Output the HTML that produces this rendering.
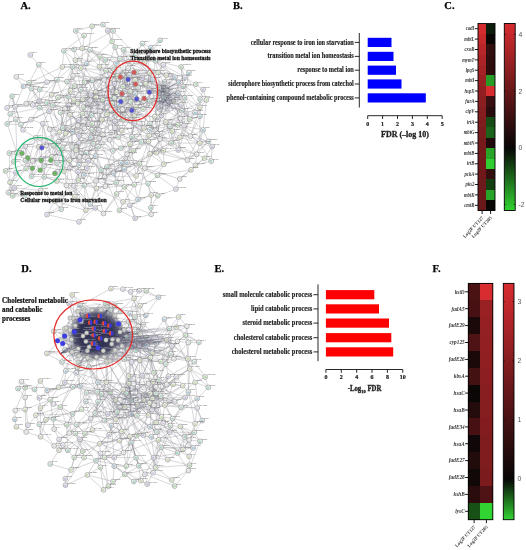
<!DOCTYPE html><html><head><meta charset="utf-8"><style>html,body{margin:0;padding:0;background:#fff;width:526px;height:550px;overflow:hidden}svg{display:block;filter:blur(0.3px)}</style></head><body><svg width="526" height="550" viewBox="0 0 526 550">
<rect width="526" height="550" fill="#fff"/>
<text x="20.5" y="9.3" font-family="'Liberation Serif', serif" font-weight="bold" font-size="10.5" stroke="#000" stroke-width="0.25">A.</text>
<text x="233" y="9" font-family="'Liberation Serif', serif" font-weight="bold" font-size="10.5" stroke="#000" stroke-width="0.25">B.</text>
<text x="444.3" y="9.3" font-family="'Liberation Serif', serif" font-weight="bold" font-size="10.5" stroke="#000" stroke-width="0.25">C.</text>
<text x="21.3" y="272.3" font-family="'Liberation Serif', serif" font-weight="bold" font-size="10.5" stroke="#000" stroke-width="0.25">D.</text>
<text x="214.6" y="272.1" font-family="'Liberation Serif', serif" font-weight="bold" font-size="10.5" stroke="#000" stroke-width="0.25">E.</text>
<text x="432.5" y="271.8" font-family="'Liberation Serif', serif" font-weight="bold" font-size="10.5" stroke="#000" stroke-width="0.25">F.</text>
<g stroke="#7a7a86" stroke-width="0.33" stroke-opacity="0.9">
<line x1="75.7" y1="30.9" x2="84.1" y2="35.5"/>
<line x1="75.7" y1="30.9" x2="92.0" y2="26.3"/>
<line x1="75.7" y1="30.9" x2="82.2" y2="48.3"/>
<line x1="84.1" y1="35.5" x2="63.8" y2="50.8"/>
<line x1="84.1" y1="35.5" x2="80.8" y2="68.0"/>
<line x1="92.0" y1="26.3" x2="102.9" y2="24.6"/>
<line x1="92.0" y1="26.3" x2="86.7" y2="63.6"/>
<line x1="102.9" y1="24.6" x2="107.7" y2="30.9"/>
<line x1="102.9" y1="24.6" x2="113.1" y2="30.9"/>
<line x1="107.7" y1="30.9" x2="113.1" y2="30.9"/>
<line x1="107.7" y1="30.9" x2="112.1" y2="41.4"/>
<line x1="107.7" y1="30.9" x2="119.8" y2="58.5"/>
<line x1="82.2" y1="48.3" x2="90.0" y2="49.7"/>
<line x1="82.2" y1="48.3" x2="113.1" y2="30.9"/>
<line x1="82.2" y1="48.3" x2="116.1" y2="63.3"/>
<line x1="82.2" y1="48.3" x2="74.0" y2="49.4"/>
<line x1="82.2" y1="48.3" x2="99.4" y2="66.6"/>
<line x1="90.0" y1="49.7" x2="75.3" y2="60.2"/>
<line x1="90.0" y1="49.7" x2="99.7" y2="56.4"/>
<line x1="90.0" y1="49.7" x2="117.4" y2="76.0"/>
<line x1="90.0" y1="49.7" x2="86.7" y2="63.6"/>
<line x1="90.0" y1="49.7" x2="116.1" y2="63.3"/>
<line x1="90.0" y1="49.7" x2="74.0" y2="49.4"/>
<line x1="90.0" y1="49.7" x2="119.8" y2="58.5"/>
<line x1="63.8" y1="50.8" x2="62.3" y2="66.9"/>
<line x1="63.8" y1="50.8" x2="75.3" y2="60.2"/>
<line x1="63.8" y1="50.8" x2="72.4" y2="66.7"/>
<line x1="63.8" y1="50.8" x2="74.0" y2="49.4"/>
<line x1="30.3" y1="55.0" x2="38.7" y2="64.8"/>
<line x1="38.7" y1="64.8" x2="47.1" y2="82.2"/>
<line x1="38.7" y1="64.8" x2="29.2" y2="82.7"/>
<line x1="38.7" y1="64.8" x2="56.8" y2="79.6"/>
<line x1="62.3" y1="66.9" x2="72.4" y2="66.7"/>
<line x1="62.3" y1="66.9" x2="29.2" y2="82.7"/>
<line x1="62.3" y1="66.9" x2="80.8" y2="68.0"/>
<line x1="62.3" y1="66.9" x2="56.8" y2="79.6"/>
<line x1="16.3" y1="76.9" x2="23.4" y2="86.4"/>
<line x1="16.3" y1="76.9" x2="29.2" y2="82.7"/>
<line x1="23.4" y1="86.4" x2="31.4" y2="88.5"/>
<line x1="23.4" y1="86.4" x2="15.1" y2="106.7"/>
<line x1="23.4" y1="86.4" x2="47.1" y2="82.2"/>
<line x1="23.4" y1="86.4" x2="29.2" y2="82.7"/>
<line x1="23.4" y1="86.4" x2="56.8" y2="79.6"/>
<line x1="31.4" y1="88.5" x2="26.2" y2="103.7"/>
<line x1="31.4" y1="88.5" x2="39.7" y2="89.5"/>
<line x1="31.4" y1="88.5" x2="68.3" y2="96.3"/>
<line x1="31.4" y1="88.5" x2="49.0" y2="111.3"/>
<line x1="31.4" y1="88.5" x2="29.2" y2="82.7"/>
<line x1="12.1" y1="96.2" x2="15.1" y2="106.7"/>
<line x1="12.1" y1="96.2" x2="15.7" y2="119.4"/>
<line x1="12.1" y1="96.2" x2="20.9" y2="124.6"/>
<line x1="12.1" y1="96.2" x2="7.1" y2="107.8"/>
<line x1="15.1" y1="106.7" x2="23.0" y2="129.9"/>
<line x1="15.1" y1="106.7" x2="46.9" y2="102.4"/>
<line x1="15.1" y1="106.7" x2="10.2" y2="114.0"/>
<line x1="15.1" y1="106.7" x2="52.7" y2="105.0"/>
<line x1="15.1" y1="106.7" x2="7.1" y2="107.8"/>
<line x1="26.2" y1="103.7" x2="47.1" y2="82.2"/>
<line x1="26.2" y1="103.7" x2="39.5" y2="107.7"/>
<line x1="26.2" y1="103.7" x2="46.9" y2="102.4"/>
<line x1="26.2" y1="103.7" x2="51.7" y2="94.8"/>
<line x1="26.2" y1="103.7" x2="7.1" y2="107.8"/>
<line x1="26.2" y1="103.7" x2="32.8" y2="105.0"/>
<line x1="47.1" y1="82.2" x2="39.7" y2="89.5"/>
<line x1="47.1" y1="82.2" x2="56.8" y2="79.6"/>
<line x1="75.3" y1="60.2" x2="80.8" y2="89.6"/>
<line x1="75.3" y1="60.2" x2="105.3" y2="60.0"/>
<line x1="75.3" y1="60.2" x2="86.7" y2="63.6"/>
<line x1="75.3" y1="60.2" x2="72.4" y2="66.7"/>
<line x1="75.3" y1="60.2" x2="80.8" y2="68.0"/>
<line x1="75.3" y1="60.2" x2="74.0" y2="49.4"/>
<line x1="39.7" y1="89.5" x2="29.2" y2="82.7"/>
<line x1="39.7" y1="89.5" x2="39.2" y2="101.3"/>
<line x1="113.1" y1="30.9" x2="112.1" y2="41.4"/>
<line x1="113.1" y1="30.9" x2="135.7" y2="55.2"/>
<line x1="112.1" y1="41.4" x2="115.2" y2="47.2"/>
<line x1="112.1" y1="41.4" x2="86.7" y2="63.6"/>
<line x1="123.6" y1="49.7" x2="126.5" y2="79.8"/>
<line x1="123.6" y1="49.7" x2="115.2" y2="47.2"/>
<line x1="123.6" y1="49.7" x2="149.7" y2="72.8"/>
<line x1="123.6" y1="49.7" x2="135.7" y2="55.2"/>
<line x1="123.6" y1="49.7" x2="127.9" y2="61.6"/>
<line x1="123.6" y1="49.7" x2="136.0" y2="72.2"/>
<line x1="123.6" y1="49.7" x2="122.7" y2="74.5"/>
<line x1="123.6" y1="49.7" x2="119.8" y2="58.5"/>
<line x1="142.4" y1="43.5" x2="150.8" y2="47.7"/>
<line x1="142.4" y1="43.5" x2="148.0" y2="53.3"/>
<line x1="142.4" y1="43.5" x2="135.7" y2="55.2"/>
<line x1="142.4" y1="43.5" x2="127.9" y2="61.6"/>
<line x1="150.8" y1="47.7" x2="160.2" y2="40.3"/>
<line x1="150.8" y1="47.7" x2="148.0" y2="53.3"/>
<line x1="150.8" y1="47.7" x2="144.6" y2="62.1"/>
<line x1="150.8" y1="47.7" x2="155.3" y2="60.8"/>
<line x1="150.8" y1="47.7" x2="119.8" y2="58.5"/>
<line x1="160.2" y1="40.3" x2="144.6" y2="62.1"/>
<line x1="163.3" y1="64.8" x2="158.1" y2="72.3"/>
<line x1="163.3" y1="64.8" x2="152.6" y2="79.6"/>
<line x1="163.3" y1="64.8" x2="178.6" y2="82.3"/>
<line x1="163.3" y1="64.8" x2="155.3" y2="60.8"/>
<line x1="163.3" y1="64.8" x2="184.9" y2="77.2"/>
<line x1="181.1" y1="66.9" x2="183.2" y2="86.4"/>
<line x1="181.1" y1="66.9" x2="189.0" y2="72.5"/>
<line x1="181.1" y1="66.9" x2="184.6" y2="97.7"/>
<line x1="181.1" y1="66.9" x2="155.3" y2="60.8"/>
<line x1="181.1" y1="66.9" x2="184.9" y2="77.2"/>
<line x1="158.1" y1="72.3" x2="152.6" y2="79.6"/>
<line x1="158.1" y1="72.3" x2="149.7" y2="72.8"/>
<line x1="158.1" y1="72.3" x2="178.6" y2="82.3"/>
<line x1="158.1" y1="72.3" x2="173.3" y2="101.4"/>
<line x1="158.1" y1="72.3" x2="128.1" y2="68.0"/>
<line x1="158.1" y1="72.3" x2="155.3" y2="60.8"/>
<line x1="158.1" y1="72.3" x2="136.2" y2="61.8"/>
<line x1="158.1" y1="72.3" x2="159.5" y2="87.1"/>
<line x1="158.1" y1="72.3" x2="166.3" y2="75.1"/>
<line x1="158.1" y1="72.3" x2="184.9" y2="77.2"/>
<line x1="195.8" y1="84.3" x2="203.1" y2="89.5"/>
<line x1="195.8" y1="84.3" x2="183.2" y2="86.4"/>
<line x1="195.8" y1="84.3" x2="184.9" y2="77.2"/>
<line x1="203.1" y1="89.5" x2="200.0" y2="98.9"/>
<line x1="203.1" y1="89.5" x2="206.4" y2="100.0"/>
<line x1="200.0" y1="98.9" x2="200.0" y2="107.3"/>
<line x1="200.0" y1="98.9" x2="200.0" y2="116.3"/>
<line x1="200.0" y1="98.9" x2="206.4" y2="100.0"/>
<line x1="200.0" y1="98.9" x2="175.1" y2="77.1"/>
<line x1="200.0" y1="98.9" x2="189.7" y2="119.2"/>
<line x1="200.0" y1="107.3" x2="183.2" y2="86.4"/>
<line x1="200.0" y1="107.3" x2="200.0" y2="116.3"/>
<line x1="200.0" y1="107.3" x2="165.8" y2="122.0"/>
<line x1="200.0" y1="107.3" x2="206.4" y2="100.0"/>
<line x1="200.0" y1="107.3" x2="178.0" y2="93.1"/>
<line x1="200.0" y1="107.3" x2="190.4" y2="136.2"/>
<line x1="200.0" y1="107.3" x2="195.1" y2="112.5"/>
<line x1="183.2" y1="86.4" x2="158.9" y2="93.4"/>
<line x1="183.2" y1="86.4" x2="178.6" y2="82.3"/>
<line x1="183.2" y1="86.4" x2="154.5" y2="104.0"/>
<line x1="183.2" y1="86.4" x2="178.0" y2="93.1"/>
<line x1="183.2" y1="86.4" x2="184.9" y2="77.2"/>
<line x1="15.7" y1="119.4" x2="20.9" y2="124.6"/>
<line x1="15.7" y1="119.4" x2="23.0" y2="129.9"/>
<line x1="15.7" y1="119.4" x2="7.2" y2="123.9"/>
<line x1="15.7" y1="119.4" x2="16.9" y2="152.6"/>
<line x1="15.7" y1="119.4" x2="10.2" y2="114.0"/>
<line x1="20.9" y1="124.6" x2="23.0" y2="129.9"/>
<line x1="20.9" y1="124.6" x2="7.2" y2="123.9"/>
<line x1="20.9" y1="124.6" x2="49.0" y2="111.3"/>
<line x1="20.9" y1="124.6" x2="30.9" y2="119.6"/>
<line x1="23.0" y1="129.9" x2="35.7" y2="137.8"/>
<line x1="23.0" y1="129.9" x2="30.9" y2="119.6"/>
<line x1="8.4" y1="192.6" x2="12.6" y2="195.8"/>
<line x1="8.4" y1="192.6" x2="10.0" y2="182.3"/>
<line x1="8.4" y1="192.6" x2="24.4" y2="196.0"/>
<line x1="8.4" y1="192.6" x2="14.4" y2="187.8"/>
<line x1="8.4" y1="192.6" x2="15.9" y2="172.8"/>
<line x1="8.4" y1="192.6" x2="26.1" y2="168.4"/>
<line x1="12.6" y1="195.8" x2="10.0" y2="182.3"/>
<line x1="12.6" y1="195.8" x2="24.4" y2="196.0"/>
<line x1="12.6" y1="195.8" x2="14.4" y2="187.8"/>
<line x1="12.6" y1="195.8" x2="44.2" y2="176.9"/>
<line x1="47.0" y1="214.6" x2="54.4" y2="201.0"/>
<line x1="47.0" y1="214.6" x2="61.3" y2="209.3"/>
<line x1="47.0" y1="214.6" x2="74.8" y2="196.7"/>
<line x1="47.0" y1="214.6" x2="79.0" y2="221.9"/>
<line x1="54.4" y1="201.0" x2="85.8" y2="210.4"/>
<line x1="54.4" y1="201.0" x2="61.3" y2="209.3"/>
<line x1="54.4" y1="201.0" x2="84.4" y2="185.3"/>
<line x1="54.4" y1="201.0" x2="78.4" y2="180.1"/>
<line x1="85.8" y1="210.4" x2="95.2" y2="208.0"/>
<line x1="85.8" y1="210.4" x2="73.6" y2="186.0"/>
<line x1="85.8" y1="210.4" x2="74.8" y2="196.7"/>
<line x1="85.8" y1="210.4" x2="84.4" y2="185.3"/>
<line x1="85.8" y1="210.4" x2="79.0" y2="221.9"/>
<line x1="85.8" y1="210.4" x2="90.4" y2="204.1"/>
<line x1="95.2" y1="208.0" x2="103.5" y2="213.5"/>
<line x1="95.2" y1="208.0" x2="79.0" y2="221.9"/>
<line x1="95.2" y1="208.0" x2="66.4" y2="185.4"/>
<line x1="95.2" y1="208.0" x2="90.4" y2="204.1"/>
<line x1="200.0" y1="116.3" x2="184.6" y2="97.7"/>
<line x1="200.0" y1="116.3" x2="170.0" y2="126.3"/>
<line x1="200.0" y1="116.3" x2="190.4" y2="136.2"/>
<line x1="200.0" y1="116.3" x2="195.1" y2="112.5"/>
<line x1="200.0" y1="116.3" x2="199.8" y2="143.2"/>
<line x1="200.0" y1="116.3" x2="189.7" y2="119.2"/>
<line x1="203.1" y1="129.9" x2="208.3" y2="141.4"/>
<line x1="203.1" y1="129.9" x2="187.4" y2="160.2"/>
<line x1="203.1" y1="129.9" x2="206.4" y2="100.0"/>
<line x1="203.1" y1="129.9" x2="181.7" y2="110.7"/>
<line x1="203.1" y1="129.9" x2="190.4" y2="136.2"/>
<line x1="203.1" y1="129.9" x2="177.7" y2="124.8"/>
<line x1="203.1" y1="129.9" x2="199.8" y2="143.2"/>
<line x1="208.3" y1="141.4" x2="187.4" y2="160.2"/>
<line x1="208.3" y1="141.4" x2="172.2" y2="131.1"/>
<line x1="208.3" y1="141.4" x2="196.7" y2="154.3"/>
<line x1="208.3" y1="141.4" x2="212.2" y2="146.6"/>
<line x1="208.3" y1="141.4" x2="199.8" y2="143.2"/>
<line x1="195.4" y1="165.4" x2="187.4" y2="160.2"/>
<line x1="195.4" y1="165.4" x2="196.7" y2="154.3"/>
<line x1="195.4" y1="165.4" x2="191.0" y2="169.8"/>
<line x1="195.4" y1="165.4" x2="211.2" y2="161.1"/>
<line x1="195.4" y1="165.4" x2="204.5" y2="158.2"/>
<line x1="187.4" y1="160.2" x2="172.2" y2="131.1"/>
<line x1="187.4" y1="160.2" x2="156.4" y2="152.6"/>
<line x1="187.4" y1="160.2" x2="196.7" y2="154.3"/>
<line x1="187.4" y1="160.2" x2="163.4" y2="150.8"/>
<line x1="179.7" y1="179.0" x2="175.9" y2="189.1"/>
<line x1="179.7" y1="179.0" x2="144.9" y2="168.1"/>
<line x1="179.7" y1="179.0" x2="191.0" y2="169.8"/>
<line x1="179.7" y1="179.0" x2="204.5" y2="158.2"/>
<line x1="175.9" y1="189.1" x2="157.7" y2="195.8"/>
<line x1="175.9" y1="189.1" x2="157.5" y2="175.4"/>
<line x1="157.7" y1="195.8" x2="150.8" y2="207.9"/>
<line x1="157.7" y1="195.8" x2="148.0" y2="183.5"/>
<line x1="157.7" y1="195.8" x2="151.3" y2="194.9"/>
<line x1="150.8" y1="207.9" x2="151.2" y2="214.3"/>
<line x1="150.8" y1="207.9" x2="151.3" y2="194.9"/>
<line x1="135.1" y1="218.4" x2="119.4" y2="210.4"/>
<line x1="135.1" y1="218.4" x2="129.9" y2="205.2"/>
<line x1="135.1" y1="218.4" x2="151.2" y2="214.3"/>
<line x1="135.1" y1="218.4" x2="124.5" y2="186.8"/>
<line x1="119.4" y1="210.4" x2="129.9" y2="205.2"/>
<line x1="119.4" y1="210.4" x2="123.0" y2="201.9"/>
<line x1="119.4" y1="210.4" x2="104.6" y2="177.0"/>
<line x1="119.4" y1="210.4" x2="134.3" y2="184.7"/>
<line x1="129.9" y1="205.2" x2="151.2" y2="214.3"/>
<line x1="129.9" y1="205.2" x2="123.0" y2="201.9"/>
<line x1="129.9" y1="205.2" x2="138.0" y2="199.5"/>
<line x1="129.9" y1="205.2" x2="151.3" y2="194.9"/>
<line x1="101.8" y1="119.6" x2="130.7" y2="101.7"/>
<line x1="101.8" y1="119.6" x2="95.7" y2="92.2"/>
<line x1="101.8" y1="119.6" x2="92.3" y2="123.6"/>
<line x1="101.8" y1="119.6" x2="86.4" y2="152.7"/>
<line x1="101.8" y1="119.6" x2="134.5" y2="123.3"/>
<line x1="101.8" y1="119.6" x2="77.7" y2="125.5"/>
<line x1="101.8" y1="119.6" x2="106.9" y2="114.3"/>
<line x1="101.8" y1="119.6" x2="82.6" y2="99.4"/>
<line x1="101.8" y1="119.6" x2="99.9" y2="111.3"/>
<line x1="101.8" y1="119.6" x2="114.4" y2="98.1"/>
<line x1="141.3" y1="142.0" x2="149.2" y2="135.6"/>
<line x1="141.3" y1="142.0" x2="112.1" y2="132.3"/>
<line x1="141.3" y1="142.0" x2="131.9" y2="136.6"/>
<line x1="141.3" y1="142.0" x2="170.0" y2="126.3"/>
<line x1="141.3" y1="142.0" x2="133.4" y2="150.9"/>
<line x1="141.3" y1="142.0" x2="127.1" y2="162.3"/>
<line x1="141.3" y1="142.0" x2="148.5" y2="141.3"/>
<line x1="141.3" y1="142.0" x2="118.1" y2="137.0"/>
<line x1="141.3" y1="142.0" x2="163.4" y2="150.8"/>
<line x1="7.2" y1="123.9" x2="16.9" y2="152.6"/>
<line x1="7.2" y1="123.9" x2="10.2" y2="114.0"/>
<line x1="143.1" y1="109.1" x2="129.3" y2="75.0"/>
<line x1="143.1" y1="109.1" x2="135.2" y2="93.5"/>
<line x1="143.1" y1="109.1" x2="136.1" y2="106.9"/>
<line x1="143.1" y1="109.1" x2="149.7" y2="72.8"/>
<line x1="143.1" y1="109.1" x2="134.5" y2="116.1"/>
<line x1="143.1" y1="109.1" x2="143.7" y2="101.2"/>
<line x1="143.1" y1="109.1" x2="149.7" y2="100.7"/>
<line x1="152.6" y1="79.6" x2="129.3" y2="75.0"/>
<line x1="152.6" y1="79.6" x2="135.2" y2="93.5"/>
<line x1="152.6" y1="79.6" x2="126.5" y2="79.8"/>
<line x1="152.6" y1="79.6" x2="149.7" y2="72.8"/>
<line x1="152.6" y1="79.6" x2="135.7" y2="55.2"/>
<line x1="152.6" y1="79.6" x2="138.0" y2="87.6"/>
<line x1="152.6" y1="79.6" x2="184.6" y2="97.7"/>
<line x1="152.6" y1="79.6" x2="154.5" y2="104.0"/>
<line x1="152.6" y1="79.6" x2="122.9" y2="86.5"/>
<line x1="152.6" y1="79.6" x2="136.0" y2="72.2"/>
<line x1="152.6" y1="79.6" x2="145.6" y2="83.8"/>
<line x1="152.6" y1="79.6" x2="166.0" y2="90.3"/>
<line x1="152.6" y1="79.6" x2="155.3" y2="60.8"/>
<line x1="152.6" y1="79.6" x2="159.5" y2="87.1"/>
<line x1="152.6" y1="79.6" x2="166.3" y2="75.1"/>
<line x1="152.6" y1="79.6" x2="149.1" y2="90.4"/>
<line x1="136.2" y1="175.9" x2="104.6" y2="177.0"/>
<line x1="136.2" y1="175.9" x2="124.4" y2="168.8"/>
<line x1="136.2" y1="175.9" x2="144.9" y2="168.1"/>
<line x1="136.2" y1="175.9" x2="106.7" y2="167.0"/>
<line x1="136.2" y1="175.9" x2="130.0" y2="143.9"/>
<line x1="136.2" y1="175.9" x2="148.5" y2="141.3"/>
<line x1="136.2" y1="175.9" x2="139.5" y2="163.6"/>
<line x1="136.2" y1="175.9" x2="134.3" y2="184.7"/>
<line x1="44.0" y1="166.2" x2="51.7" y2="156.9"/>
<line x1="44.0" y1="166.2" x2="63.9" y2="171.2"/>
<line x1="44.0" y1="166.2" x2="31.6" y2="176.4"/>
<line x1="44.0" y1="166.2" x2="69.4" y2="160.2"/>
<line x1="44.0" y1="166.2" x2="44.2" y2="176.9"/>
<line x1="44.0" y1="166.2" x2="41.2" y2="158.9"/>
<line x1="73.1" y1="75.6" x2="66.8" y2="81.6"/>
<line x1="73.1" y1="75.6" x2="72.4" y2="66.7"/>
<line x1="73.1" y1="75.6" x2="110.5" y2="78.2"/>
<line x1="73.1" y1="75.6" x2="92.4" y2="80.1"/>
<line x1="73.1" y1="75.6" x2="64.9" y2="108.8"/>
<line x1="73.1" y1="75.6" x2="82.6" y2="99.4"/>
<line x1="73.1" y1="75.6" x2="52.7" y2="105.0"/>
<line x1="130.3" y1="91.3" x2="130.7" y2="101.7"/>
<line x1="130.3" y1="91.3" x2="129.3" y2="75.0"/>
<line x1="130.3" y1="91.3" x2="135.2" y2="93.5"/>
<line x1="130.3" y1="91.3" x2="134.5" y2="116.1"/>
<line x1="130.3" y1="91.3" x2="143.7" y2="101.2"/>
<line x1="130.3" y1="91.3" x2="114.5" y2="83.8"/>
<line x1="130.3" y1="91.3" x2="135.0" y2="80.0"/>
<line x1="130.3" y1="91.3" x2="116.5" y2="92.1"/>
<line x1="130.3" y1="91.3" x2="123.3" y2="119.7"/>
<line x1="130.3" y1="91.3" x2="136.0" y2="72.2"/>
<line x1="130.3" y1="91.3" x2="122.7" y2="74.5"/>
<line x1="130.3" y1="91.3" x2="145.6" y2="83.8"/>
<line x1="130.3" y1="91.3" x2="114.0" y2="69.3"/>
<line x1="130.3" y1="91.3" x2="166.0" y2="90.3"/>
<line x1="130.3" y1="91.3" x2="123.7" y2="98.9"/>
<line x1="130.3" y1="91.3" x2="128.1" y2="68.0"/>
<line x1="130.3" y1="91.3" x2="106.8" y2="103.0"/>
<line x1="130.3" y1="91.3" x2="114.4" y2="98.1"/>
<line x1="130.7" y1="101.7" x2="135.2" y2="93.5"/>
<line x1="130.7" y1="101.7" x2="126.5" y2="79.8"/>
<line x1="130.7" y1="101.7" x2="136.1" y2="106.9"/>
<line x1="130.7" y1="101.7" x2="95.7" y2="92.2"/>
<line x1="130.7" y1="101.7" x2="117.4" y2="76.0"/>
<line x1="130.7" y1="101.7" x2="134.5" y2="123.3"/>
<line x1="130.7" y1="101.7" x2="114.9" y2="127.9"/>
<line x1="130.7" y1="101.7" x2="143.9" y2="128.0"/>
<line x1="130.7" y1="101.7" x2="164.2" y2="97.3"/>
<line x1="130.7" y1="101.7" x2="135.0" y2="80.0"/>
<line x1="130.7" y1="101.7" x2="116.5" y2="92.1"/>
<line x1="130.7" y1="101.7" x2="122.7" y2="74.5"/>
<line x1="130.7" y1="101.7" x2="149.7" y2="100.7"/>
<line x1="129.3" y1="75.0" x2="126.5" y2="79.8"/>
<line x1="129.3" y1="75.0" x2="95.7" y2="92.2"/>
<line x1="129.3" y1="75.0" x2="110.5" y2="78.2"/>
<line x1="129.3" y1="75.0" x2="122.9" y2="86.5"/>
<line x1="129.3" y1="75.0" x2="135.0" y2="80.0"/>
<line x1="129.3" y1="75.0" x2="136.0" y2="72.2"/>
<line x1="129.3" y1="75.0" x2="92.4" y2="80.1"/>
<line x1="129.3" y1="75.0" x2="122.7" y2="74.5"/>
<line x1="129.3" y1="75.0" x2="128.1" y2="68.0"/>
<line x1="129.3" y1="75.0" x2="106.8" y2="103.0"/>
<line x1="129.3" y1="75.0" x2="159.5" y2="87.1"/>
<line x1="149.2" y1="135.6" x2="117.9" y2="114.5"/>
<line x1="149.2" y1="135.6" x2="160.1" y2="139.1"/>
<line x1="149.2" y1="135.6" x2="131.9" y2="136.6"/>
<line x1="149.2" y1="135.6" x2="143.9" y2="128.0"/>
<line x1="149.2" y1="135.6" x2="157.4" y2="133.6"/>
<line x1="149.2" y1="135.6" x2="171.2" y2="143.0"/>
<line x1="149.2" y1="135.6" x2="123.3" y2="119.7"/>
<line x1="149.2" y1="135.6" x2="177.7" y2="124.8"/>
<line x1="149.2" y1="135.6" x2="130.0" y2="143.9"/>
<line x1="149.2" y1="135.6" x2="148.5" y2="141.3"/>
<line x1="149.2" y1="135.6" x2="149.8" y2="129.8"/>
<line x1="151.2" y1="214.3" x2="151.3" y2="194.9"/>
<line x1="135.2" y1="93.5" x2="112.2" y2="103.5"/>
<line x1="135.2" y1="93.5" x2="158.9" y2="93.4"/>
<line x1="135.2" y1="93.5" x2="134.5" y2="116.1"/>
<line x1="135.2" y1="93.5" x2="117.9" y2="114.5"/>
<line x1="135.2" y1="93.5" x2="138.0" y2="87.6"/>
<line x1="135.2" y1="93.5" x2="159.5" y2="87.1"/>
<line x1="96.5" y1="188.4" x2="96.0" y2="181.0"/>
<line x1="96.5" y1="188.4" x2="79.5" y2="156.9"/>
<line x1="96.5" y1="188.4" x2="123.0" y2="201.9"/>
<line x1="96.5" y1="188.4" x2="103.5" y2="213.5"/>
<line x1="96.5" y1="188.4" x2="84.4" y2="185.3"/>
<line x1="96.5" y1="188.4" x2="69.7" y2="168.3"/>
<line x1="96.5" y1="188.4" x2="78.4" y2="180.1"/>
<line x1="96.5" y1="188.4" x2="105.4" y2="186.3"/>
<line x1="96.5" y1="188.4" x2="90.4" y2="204.1"/>
<line x1="96.5" y1="188.4" x2="134.3" y2="184.7"/>
<line x1="126.5" y1="79.8" x2="136.1" y2="106.9"/>
<line x1="126.5" y1="79.8" x2="122.5" y2="109.3"/>
<line x1="126.5" y1="79.8" x2="158.9" y2="93.4"/>
<line x1="126.5" y1="79.8" x2="105.8" y2="70.7"/>
<line x1="126.5" y1="79.8" x2="122.9" y2="86.5"/>
<line x1="126.5" y1="79.8" x2="116.5" y2="92.1"/>
<line x1="126.5" y1="79.8" x2="122.7" y2="74.5"/>
<line x1="39.5" y1="107.7" x2="49.0" y2="111.3"/>
<line x1="39.5" y1="107.7" x2="29.2" y2="82.7"/>
<line x1="39.5" y1="107.7" x2="69.0" y2="105.3"/>
<line x1="39.5" y1="107.7" x2="10.2" y2="114.0"/>
<line x1="39.5" y1="107.7" x2="30.9" y2="119.6"/>
<line x1="39.5" y1="107.7" x2="32.8" y2="105.0"/>
<line x1="39.5" y1="107.7" x2="39.2" y2="101.3"/>
<line x1="136.1" y1="106.9" x2="131.9" y2="136.6"/>
<line x1="136.1" y1="106.9" x2="143.9" y2="128.0"/>
<line x1="136.1" y1="106.9" x2="157.4" y2="133.6"/>
<line x1="136.1" y1="106.9" x2="106.9" y2="114.3"/>
<line x1="136.1" y1="106.9" x2="131.2" y2="109.8"/>
<line x1="136.1" y1="106.9" x2="99.9" y2="111.3"/>
<line x1="136.1" y1="106.9" x2="149.7" y2="100.7"/>
<line x1="136.1" y1="106.9" x2="159.5" y2="87.1"/>
<line x1="10.0" y1="182.3" x2="14.4" y2="187.8"/>
<line x1="10.0" y1="182.3" x2="15.9" y2="172.8"/>
<line x1="10.0" y1="182.3" x2="26.1" y2="168.4"/>
<line x1="10.0" y1="182.3" x2="5.6" y2="170.9"/>
<line x1="10.0" y1="182.3" x2="9.3" y2="153.1"/>
<line x1="109.7" y1="139.9" x2="112.1" y2="132.3"/>
<line x1="109.7" y1="139.9" x2="86.4" y2="152.7"/>
<line x1="109.7" y1="139.9" x2="143.9" y2="128.0"/>
<line x1="109.7" y1="139.9" x2="106.9" y2="114.3"/>
<line x1="109.7" y1="139.9" x2="99.2" y2="138.5"/>
<line x1="109.7" y1="139.9" x2="76.1" y2="150.2"/>
<line x1="109.7" y1="139.9" x2="103.0" y2="135.0"/>
<line x1="109.7" y1="139.9" x2="118.1" y2="137.0"/>
<line x1="109.7" y1="139.9" x2="112.8" y2="150.9"/>
<line x1="172.2" y1="131.1" x2="179.8" y2="137.3"/>
<line x1="172.2" y1="131.1" x2="165.8" y2="122.0"/>
<line x1="172.2" y1="131.1" x2="161.4" y2="115.4"/>
<line x1="172.2" y1="131.1" x2="170.0" y2="126.3"/>
<line x1="172.2" y1="131.1" x2="171.2" y2="143.0"/>
<line x1="172.2" y1="131.1" x2="154.7" y2="116.6"/>
<line x1="172.2" y1="131.1" x2="177.7" y2="124.8"/>
<line x1="172.2" y1="131.1" x2="148.5" y2="141.3"/>
<line x1="60.5" y1="112.4" x2="62.6" y2="128.0"/>
<line x1="60.5" y1="112.4" x2="70.0" y2="114.7"/>
<line x1="60.5" y1="112.4" x2="64.9" y2="108.8"/>
<line x1="60.5" y1="112.4" x2="69.0" y2="105.3"/>
<line x1="60.5" y1="112.4" x2="65.6" y2="133.5"/>
<line x1="60.5" y1="112.4" x2="52.7" y2="105.0"/>
<line x1="104.1" y1="80.0" x2="95.7" y2="92.2"/>
<line x1="104.1" y1="80.0" x2="109.6" y2="96.5"/>
<line x1="104.1" y1="80.0" x2="110.5" y2="78.2"/>
<line x1="104.1" y1="80.0" x2="83.3" y2="107.1"/>
<line x1="104.1" y1="80.0" x2="105.8" y2="70.7"/>
<line x1="104.1" y1="80.0" x2="114.5" y2="83.8"/>
<line x1="104.1" y1="80.0" x2="92.4" y2="80.1"/>
<line x1="104.1" y1="80.0" x2="123.7" y2="98.9"/>
<line x1="104.1" y1="80.0" x2="114.4" y2="98.1"/>
<line x1="104.1" y1="80.0" x2="118.8" y2="104.5"/>
<line x1="51.7" y1="156.9" x2="78.6" y2="142.9"/>
<line x1="51.7" y1="156.9" x2="73.6" y2="186.0"/>
<line x1="51.7" y1="156.9" x2="46.4" y2="145.5"/>
<line x1="51.7" y1="156.9" x2="53.3" y2="145.6"/>
<line x1="51.7" y1="156.9" x2="59.0" y2="153.0"/>
<line x1="51.7" y1="156.9" x2="25.5" y2="160.6"/>
<line x1="51.7" y1="156.9" x2="56.9" y2="162.9"/>
<line x1="51.7" y1="156.9" x2="42.8" y2="123.6"/>
<line x1="51.7" y1="156.9" x2="65.6" y2="133.5"/>
<line x1="51.7" y1="156.9" x2="41.2" y2="158.9"/>
<line x1="78.6" y1="142.9" x2="78.9" y2="135.8"/>
<line x1="78.6" y1="142.9" x2="53.3" y2="145.6"/>
<line x1="78.6" y1="142.9" x2="91.6" y2="115.1"/>
<line x1="78.6" y1="142.9" x2="58.5" y2="141.6"/>
<line x1="78.6" y1="142.9" x2="78.1" y2="171.9"/>
<line x1="78.6" y1="142.9" x2="69.7" y2="168.3"/>
<line x1="78.6" y1="142.9" x2="99.2" y2="138.5"/>
<line x1="78.6" y1="142.9" x2="72.1" y2="147.0"/>
<line x1="78.6" y1="142.9" x2="76.1" y2="150.2"/>
<line x1="95.7" y1="92.2" x2="102.7" y2="99.6"/>
<line x1="95.7" y1="92.2" x2="114.5" y2="83.8"/>
<line x1="95.7" y1="92.2" x2="90.8" y2="95.1"/>
<line x1="95.7" y1="92.2" x2="116.5" y2="92.1"/>
<line x1="95.7" y1="92.2" x2="92.4" y2="80.1"/>
<line x1="95.7" y1="92.2" x2="96.1" y2="97.4"/>
<line x1="95.7" y1="92.2" x2="106.8" y2="103.0"/>
<line x1="95.7" y1="92.2" x2="84.4" y2="128.4"/>
<line x1="115.2" y1="47.2" x2="105.8" y2="70.7"/>
<line x1="115.2" y1="47.2" x2="122.7" y2="74.5"/>
<line x1="148.0" y1="53.3" x2="135.7" y2="55.2"/>
<line x1="148.0" y1="53.3" x2="144.6" y2="62.1"/>
<line x1="148.0" y1="53.3" x2="155.3" y2="60.8"/>
<line x1="148.0" y1="53.3" x2="149.1" y2="90.4"/>
<line x1="112.1" y1="132.3" x2="121.8" y2="130.6"/>
<line x1="112.1" y1="132.3" x2="114.9" y2="127.9"/>
<line x1="112.1" y1="132.3" x2="131.2" y2="109.8"/>
<line x1="112.1" y1="132.3" x2="114.4" y2="98.1"/>
<line x1="164.6" y1="82.0" x2="161.4" y2="115.4"/>
<line x1="164.6" y1="82.0" x2="154.5" y2="104.0"/>
<line x1="164.6" y1="82.0" x2="175.1" y2="77.1"/>
<line x1="164.6" y1="82.0" x2="154.7" y2="116.6"/>
<line x1="164.6" y1="82.0" x2="166.0" y2="90.3"/>
<line x1="164.6" y1="82.0" x2="159.5" y2="87.1"/>
<line x1="164.6" y1="82.0" x2="166.3" y2="75.1"/>
<line x1="112.2" y1="103.5" x2="117.4" y2="76.0"/>
<line x1="112.2" y1="103.5" x2="102.7" y2="99.6"/>
<line x1="112.2" y1="103.5" x2="90.3" y2="100.4"/>
<line x1="112.2" y1="103.5" x2="83.3" y2="107.1"/>
<line x1="112.2" y1="103.5" x2="135.0" y2="80.0"/>
<line x1="112.2" y1="103.5" x2="90.8" y2="95.1"/>
<line x1="112.2" y1="103.5" x2="116.5" y2="92.1"/>
<line x1="112.2" y1="103.5" x2="123.3" y2="119.7"/>
<line x1="112.2" y1="103.5" x2="122.7" y2="74.5"/>
<line x1="112.2" y1="103.5" x2="106.8" y2="103.0"/>
<line x1="112.2" y1="103.5" x2="110.7" y2="109.7"/>
<line x1="112.2" y1="103.5" x2="118.1" y2="137.0"/>
<line x1="112.2" y1="103.5" x2="114.4" y2="98.1"/>
<line x1="112.2" y1="103.5" x2="118.8" y2="104.5"/>
<line x1="57.9" y1="97.5" x2="68.3" y2="96.3"/>
<line x1="57.9" y1="97.5" x2="51.7" y2="94.8"/>
<line x1="57.9" y1="97.5" x2="90.8" y2="95.1"/>
<line x1="57.9" y1="97.5" x2="52.7" y2="105.0"/>
<line x1="92.3" y1="123.6" x2="82.4" y2="113.5"/>
<line x1="92.3" y1="123.6" x2="68.3" y2="96.3"/>
<line x1="92.3" y1="123.6" x2="62.6" y2="128.0"/>
<line x1="92.3" y1="123.6" x2="120.8" y2="148.2"/>
<line x1="92.3" y1="123.6" x2="98.9" y2="130.1"/>
<line x1="92.3" y1="123.6" x2="91.6" y2="115.1"/>
<line x1="92.3" y1="123.6" x2="99.2" y2="138.5"/>
<line x1="92.3" y1="123.6" x2="72.5" y2="131.9"/>
<line x1="92.3" y1="123.6" x2="95.7" y2="156.2"/>
<line x1="92.3" y1="123.6" x2="91.7" y2="129.8"/>
<line x1="92.3" y1="123.6" x2="76.1" y2="150.2"/>
<line x1="92.3" y1="123.6" x2="84.4" y2="128.4"/>
<line x1="99.7" y1="56.4" x2="105.3" y2="60.0"/>
<line x1="99.7" y1="56.4" x2="99.4" y2="66.6"/>
<line x1="93.3" y1="143.7" x2="86.4" y2="152.7"/>
<line x1="93.3" y1="143.7" x2="62.6" y2="128.0"/>
<line x1="93.3" y1="143.7" x2="88.5" y2="160.7"/>
<line x1="93.3" y1="143.7" x2="91.6" y2="115.1"/>
<line x1="93.3" y1="143.7" x2="104.6" y2="177.0"/>
<line x1="93.3" y1="143.7" x2="58.5" y2="141.6"/>
<line x1="93.3" y1="143.7" x2="99.2" y2="138.5"/>
<line x1="93.3" y1="143.7" x2="99.9" y2="111.3"/>
<line x1="93.3" y1="143.7" x2="98.2" y2="146.6"/>
<line x1="93.3" y1="143.7" x2="90.8" y2="137.3"/>
<line x1="93.3" y1="143.7" x2="120.7" y2="162.6"/>
<line x1="82.4" y1="113.5" x2="46.9" y2="102.4"/>
<line x1="82.4" y1="113.5" x2="109.6" y2="96.5"/>
<line x1="82.4" y1="113.5" x2="77.6" y2="103.6"/>
<line x1="82.4" y1="113.5" x2="83.3" y2="107.1"/>
<line x1="82.4" y1="113.5" x2="91.6" y2="115.1"/>
<line x1="82.4" y1="113.5" x2="92.4" y2="80.1"/>
<line x1="82.4" y1="113.5" x2="99.9" y2="111.3"/>
<line x1="82.4" y1="113.5" x2="72.5" y2="131.9"/>
<line x1="82.4" y1="113.5" x2="103.0" y2="135.0"/>
<line x1="82.4" y1="113.5" x2="78.5" y2="119.9"/>
<line x1="82.4" y1="113.5" x2="49.7" y2="129.3"/>
<line x1="24.4" y1="196.0" x2="14.4" y2="187.8"/>
<line x1="149.7" y1="72.8" x2="117.4" y2="76.0"/>
<line x1="149.7" y1="72.8" x2="142.3" y2="78.0"/>
<line x1="149.7" y1="72.8" x2="158.9" y2="93.4"/>
<line x1="149.7" y1="72.8" x2="144.6" y2="62.1"/>
<line x1="149.7" y1="72.8" x2="154.5" y2="104.0"/>
<line x1="149.7" y1="72.8" x2="114.5" y2="83.8"/>
<line x1="149.7" y1="72.8" x2="175.1" y2="77.1"/>
<line x1="149.7" y1="72.8" x2="122.7" y2="74.5"/>
<line x1="149.7" y1="72.8" x2="114.0" y2="69.3"/>
<line x1="149.7" y1="72.8" x2="119.8" y2="58.5"/>
<line x1="79.1" y1="165.0" x2="79.5" y2="156.9"/>
<line x1="79.1" y1="165.0" x2="78.9" y2="135.8"/>
<line x1="79.1" y1="165.0" x2="63.9" y2="171.2"/>
<line x1="79.1" y1="165.0" x2="62.7" y2="147.9"/>
<line x1="79.1" y1="165.0" x2="86.9" y2="168.3"/>
<line x1="79.1" y1="165.0" x2="78.1" y2="171.9"/>
<line x1="79.1" y1="165.0" x2="69.7" y2="168.3"/>
<line x1="79.1" y1="165.0" x2="99.2" y2="138.5"/>
<line x1="79.1" y1="165.0" x2="65.6" y2="133.5"/>
<line x1="79.1" y1="165.0" x2="91.7" y2="129.8"/>
<line x1="79.1" y1="165.0" x2="90.8" y2="137.3"/>
<line x1="79.1" y1="165.0" x2="78.4" y2="180.1"/>
<line x1="96.0" y1="181.0" x2="124.5" y2="186.8"/>
<line x1="96.0" y1="181.0" x2="100.9" y2="170.1"/>
<line x1="96.0" y1="181.0" x2="104.6" y2="177.0"/>
<line x1="96.0" y1="181.0" x2="124.4" y2="168.8"/>
<line x1="96.0" y1="181.0" x2="84.4" y2="185.3"/>
<line x1="96.0" y1="181.0" x2="106.7" y2="167.0"/>
<line x1="96.0" y1="181.0" x2="98.2" y2="146.6"/>
<line x1="96.0" y1="181.0" x2="127.1" y2="162.3"/>
<line x1="96.0" y1="181.0" x2="105.4" y2="186.3"/>
<line x1="80.8" y1="89.6" x2="73.6" y2="99.7"/>
<line x1="80.8" y1="89.6" x2="102.7" y2="99.6"/>
<line x1="80.8" y1="89.6" x2="86.7" y2="63.6"/>
<line x1="80.8" y1="89.6" x2="84.5" y2="82.3"/>
<line x1="80.8" y1="89.6" x2="77.7" y2="125.5"/>
<line x1="80.8" y1="89.6" x2="74.5" y2="86.1"/>
<line x1="80.8" y1="89.6" x2="106.9" y2="114.3"/>
<line x1="80.8" y1="89.6" x2="90.8" y2="95.1"/>
<line x1="80.8" y1="89.6" x2="116.5" y2="92.1"/>
<line x1="80.8" y1="89.6" x2="92.4" y2="80.1"/>
<line x1="80.8" y1="89.6" x2="69.0" y2="105.3"/>
<line x1="80.8" y1="89.6" x2="114.4" y2="98.1"/>
<line x1="189.0" y1="72.5" x2="184.6" y2="97.7"/>
<line x1="189.0" y1="72.5" x2="178.6" y2="82.3"/>
<line x1="189.0" y1="72.5" x2="166.0" y2="90.3"/>
<line x1="189.0" y1="72.5" x2="184.9" y2="77.2"/>
<line x1="113.5" y1="173.1" x2="79.5" y2="156.9"/>
<line x1="113.5" y1="173.1" x2="124.4" y2="168.8"/>
<line x1="113.5" y1="173.1" x2="78.1" y2="171.9"/>
<line x1="113.5" y1="173.1" x2="99.2" y2="138.5"/>
<line x1="113.5" y1="173.1" x2="106.7" y2="167.0"/>
<line x1="113.5" y1="173.1" x2="127.1" y2="162.3"/>
<line x1="113.5" y1="173.1" x2="126.9" y2="154.2"/>
<line x1="113.5" y1="173.1" x2="116.3" y2="182.6"/>
<line x1="113.5" y1="173.1" x2="120.7" y2="162.6"/>
<line x1="113.5" y1="173.1" x2="139.5" y2="163.6"/>
<line x1="46.9" y1="102.4" x2="68.3" y2="96.3"/>
<line x1="46.9" y1="102.4" x2="62.6" y2="128.0"/>
<line x1="46.9" y1="102.4" x2="49.0" y2="111.3"/>
<line x1="46.9" y1="102.4" x2="51.7" y2="94.8"/>
<line x1="46.9" y1="102.4" x2="77.6" y2="103.6"/>
<line x1="46.9" y1="102.4" x2="64.9" y2="108.8"/>
<line x1="46.9" y1="102.4" x2="56.8" y2="79.6"/>
<line x1="46.9" y1="102.4" x2="52.7" y2="105.0"/>
<line x1="46.9" y1="102.4" x2="39.2" y2="101.3"/>
<line x1="105.3" y1="60.0" x2="105.8" y2="70.7"/>
<line x1="105.3" y1="60.0" x2="99.4" y2="66.6"/>
<line x1="105.3" y1="60.0" x2="119.8" y2="58.5"/>
<line x1="114.8" y1="121.3" x2="134.5" y2="116.1"/>
<line x1="114.8" y1="121.3" x2="117.9" y2="114.5"/>
<line x1="114.8" y1="121.3" x2="114.9" y2="127.9"/>
<line x1="114.8" y1="121.3" x2="106.9" y2="114.3"/>
<line x1="114.8" y1="121.3" x2="130.3" y2="120.0"/>
<line x1="114.8" y1="121.3" x2="78.5" y2="119.9"/>
<line x1="79.5" y1="156.9" x2="86.4" y2="152.7"/>
<line x1="79.5" y1="156.9" x2="88.5" y2="160.7"/>
<line x1="79.5" y1="156.9" x2="77.7" y2="125.5"/>
<line x1="79.5" y1="156.9" x2="98.2" y2="146.6"/>
<line x1="79.5" y1="156.9" x2="91.7" y2="129.8"/>
<line x1="79.5" y1="156.9" x2="76.1" y2="150.2"/>
<line x1="79.5" y1="156.9" x2="69.4" y2="160.2"/>
<line x1="178.2" y1="150.0" x2="179.8" y2="137.3"/>
<line x1="178.2" y1="150.0" x2="165.8" y2="122.0"/>
<line x1="178.2" y1="150.0" x2="160.1" y2="139.1"/>
<line x1="178.2" y1="150.0" x2="149.9" y2="153.8"/>
<line x1="178.2" y1="150.0" x2="171.2" y2="143.0"/>
<line x1="178.2" y1="150.0" x2="196.7" y2="154.3"/>
<line x1="178.2" y1="150.0" x2="189.7" y2="119.2"/>
<line x1="122.5" y1="109.3" x2="102.7" y2="99.6"/>
<line x1="122.5" y1="109.3" x2="117.9" y2="114.5"/>
<line x1="122.5" y1="109.3" x2="135.0" y2="80.0"/>
<line x1="122.5" y1="109.3" x2="131.2" y2="109.8"/>
<line x1="122.5" y1="109.3" x2="90.8" y2="95.1"/>
<line x1="122.5" y1="109.3" x2="123.3" y2="119.7"/>
<line x1="122.5" y1="109.3" x2="99.2" y2="138.5"/>
<line x1="122.5" y1="109.3" x2="99.9" y2="111.3"/>
<line x1="122.5" y1="109.3" x2="122.7" y2="74.5"/>
<line x1="122.5" y1="109.3" x2="91.7" y2="129.8"/>
<line x1="122.5" y1="109.3" x2="118.8" y2="104.5"/>
<line x1="117.4" y1="76.0" x2="86.7" y2="63.6"/>
<line x1="117.4" y1="76.0" x2="84.5" y2="82.3"/>
<line x1="117.4" y1="76.0" x2="110.5" y2="78.2"/>
<line x1="117.4" y1="76.0" x2="116.1" y2="63.3"/>
<line x1="117.4" y1="76.0" x2="114.5" y2="83.8"/>
<line x1="117.4" y1="76.0" x2="122.7" y2="74.5"/>
<line x1="117.4" y1="76.0" x2="114.0" y2="69.3"/>
<line x1="117.4" y1="76.0" x2="128.1" y2="68.0"/>
<line x1="117.4" y1="76.0" x2="106.8" y2="103.0"/>
<line x1="117.4" y1="76.0" x2="99.4" y2="66.6"/>
<line x1="86.4" y1="152.7" x2="100.9" y2="170.1"/>
<line x1="86.4" y1="152.7" x2="88.5" y2="160.7"/>
<line x1="86.4" y1="152.7" x2="104.6" y2="177.0"/>
<line x1="86.4" y1="152.7" x2="76.1" y2="150.2"/>
<line x1="86.4" y1="152.7" x2="83.8" y2="175.1"/>
<line x1="73.6" y1="186.0" x2="78.1" y2="171.9"/>
<line x1="73.6" y1="186.0" x2="74.8" y2="196.7"/>
<line x1="73.6" y1="186.0" x2="84.4" y2="185.3"/>
<line x1="73.6" y1="186.0" x2="69.7" y2="168.3"/>
<line x1="73.6" y1="186.0" x2="66.4" y2="185.4"/>
<line x1="73.6" y1="186.0" x2="78.4" y2="180.1"/>
<line x1="73.6" y1="186.0" x2="90.4" y2="204.1"/>
<line x1="73.6" y1="186.0" x2="44.2" y2="176.9"/>
<line x1="179.8" y1="137.3" x2="160.1" y2="139.1"/>
<line x1="179.8" y1="137.3" x2="149.9" y2="153.8"/>
<line x1="179.8" y1="137.3" x2="171.2" y2="143.0"/>
<line x1="179.8" y1="137.3" x2="190.4" y2="136.2"/>
<line x1="179.8" y1="137.3" x2="195.1" y2="112.5"/>
<line x1="179.8" y1="137.3" x2="199.8" y2="143.2"/>
<line x1="179.8" y1="137.3" x2="184.0" y2="125.6"/>
<line x1="73.6" y1="99.7" x2="59.4" y2="132.2"/>
<line x1="73.6" y1="99.7" x2="102.7" y2="99.6"/>
<line x1="73.6" y1="99.7" x2="68.3" y2="96.3"/>
<line x1="73.6" y1="99.7" x2="77.6" y2="103.6"/>
<line x1="73.6" y1="99.7" x2="74.5" y2="86.1"/>
<line x1="73.6" y1="99.7" x2="64.9" y2="108.8"/>
<line x1="73.6" y1="99.7" x2="82.6" y2="99.4"/>
<line x1="73.6" y1="99.7" x2="69.0" y2="105.3"/>
<line x1="73.6" y1="99.7" x2="99.9" y2="111.3"/>
<line x1="73.6" y1="99.7" x2="106.8" y2="103.0"/>
<line x1="135.7" y1="55.2" x2="127.9" y2="61.6"/>
<line x1="135.7" y1="55.2" x2="144.6" y2="62.1"/>
<line x1="135.7" y1="55.2" x2="136.2" y2="61.8"/>
<line x1="121.8" y1="130.6" x2="102.7" y2="99.6"/>
<line x1="121.8" y1="130.6" x2="149.9" y2="123.5"/>
<line x1="121.8" y1="130.6" x2="114.9" y2="127.9"/>
<line x1="121.8" y1="130.6" x2="131.9" y2="136.6"/>
<line x1="121.8" y1="130.6" x2="91.6" y2="115.1"/>
<line x1="121.8" y1="130.6" x2="123.3" y2="119.7"/>
<line x1="121.8" y1="130.6" x2="130.3" y2="120.0"/>
<line x1="121.8" y1="130.6" x2="99.2" y2="138.5"/>
<line x1="121.8" y1="130.6" x2="99.9" y2="111.3"/>
<line x1="121.8" y1="130.6" x2="106.8" y2="103.0"/>
<line x1="121.8" y1="130.6" x2="118.1" y2="137.0"/>
<line x1="124.5" y1="186.8" x2="116.6" y2="194.0"/>
<line x1="124.5" y1="186.8" x2="103.5" y2="213.5"/>
<line x1="124.5" y1="186.8" x2="138.0" y2="199.5"/>
<line x1="124.5" y1="186.8" x2="106.7" y2="167.0"/>
<line x1="124.5" y1="186.8" x2="116.3" y2="182.6"/>
<line x1="124.5" y1="186.8" x2="120.7" y2="162.6"/>
<line x1="124.5" y1="186.8" x2="134.3" y2="184.7"/>
<line x1="142.3" y1="78.0" x2="110.5" y2="78.2"/>
<line x1="142.3" y1="78.0" x2="143.7" y2="101.2"/>
<line x1="142.3" y1="78.0" x2="122.9" y2="86.5"/>
<line x1="142.3" y1="78.0" x2="135.0" y2="80.0"/>
<line x1="142.3" y1="78.0" x2="145.6" y2="83.8"/>
<line x1="142.3" y1="78.0" x2="166.0" y2="90.3"/>
<line x1="158.9" y1="93.4" x2="161.4" y2="115.4"/>
<line x1="158.9" y1="93.4" x2="178.6" y2="82.3"/>
<line x1="158.9" y1="93.4" x2="164.2" y2="97.3"/>
<line x1="158.9" y1="93.4" x2="180.6" y2="118.6"/>
<line x1="158.9" y1="93.4" x2="175.1" y2="77.1"/>
<line x1="158.9" y1="93.4" x2="154.7" y2="116.6"/>
<line x1="158.9" y1="93.4" x2="145.6" y2="83.8"/>
<line x1="158.9" y1="93.4" x2="166.0" y2="90.3"/>
<line x1="158.9" y1="93.4" x2="159.5" y2="87.1"/>
<line x1="158.9" y1="93.4" x2="149.1" y2="90.4"/>
<line x1="59.4" y1="132.2" x2="62.6" y2="128.0"/>
<line x1="59.4" y1="132.2" x2="42.8" y2="123.6"/>
<line x1="59.4" y1="132.2" x2="91.6" y2="115.1"/>
<line x1="59.4" y1="132.2" x2="58.5" y2="141.6"/>
<line x1="59.4" y1="132.2" x2="25.3" y2="146.5"/>
<line x1="59.4" y1="132.2" x2="64.9" y2="108.8"/>
<line x1="59.4" y1="132.2" x2="65.6" y2="133.5"/>
<line x1="59.4" y1="132.2" x2="52.7" y2="105.0"/>
<line x1="59.4" y1="132.2" x2="38.6" y2="146.8"/>
<line x1="59.4" y1="132.2" x2="49.7" y2="129.3"/>
<line x1="102.7" y1="99.6" x2="109.6" y2="96.5"/>
<line x1="102.7" y1="99.6" x2="110.5" y2="78.2"/>
<line x1="102.7" y1="99.6" x2="134.5" y2="116.1"/>
<line x1="102.7" y1="99.6" x2="91.6" y2="115.1"/>
<line x1="102.7" y1="99.6" x2="106.9" y2="114.3"/>
<line x1="102.7" y1="99.6" x2="131.2" y2="109.8"/>
<line x1="102.7" y1="99.6" x2="116.5" y2="92.1"/>
<line x1="102.7" y1="99.6" x2="123.3" y2="119.7"/>
<line x1="102.7" y1="99.6" x2="122.7" y2="74.5"/>
<line x1="102.7" y1="99.6" x2="114.0" y2="69.3"/>
<line x1="102.7" y1="99.6" x2="96.1" y2="97.4"/>
<line x1="102.7" y1="99.6" x2="106.8" y2="103.0"/>
<line x1="102.7" y1="99.6" x2="99.4" y2="66.6"/>
<line x1="109.6" y1="96.5" x2="83.3" y2="107.1"/>
<line x1="109.6" y1="96.5" x2="116.5" y2="92.1"/>
<line x1="109.6" y1="96.5" x2="123.3" y2="119.7"/>
<line x1="109.6" y1="96.5" x2="106.8" y2="103.0"/>
<line x1="109.6" y1="96.5" x2="99.4" y2="66.6"/>
<line x1="109.6" y1="96.5" x2="114.4" y2="98.1"/>
<line x1="149.9" y1="123.5" x2="143.9" y2="128.0"/>
<line x1="149.9" y1="123.5" x2="157.4" y2="133.6"/>
<line x1="149.9" y1="123.5" x2="171.2" y2="143.0"/>
<line x1="149.9" y1="123.5" x2="154.7" y2="116.6"/>
<line x1="149.9" y1="123.5" x2="123.7" y2="98.9"/>
<line x1="149.9" y1="123.5" x2="130.0" y2="143.9"/>
<line x1="149.9" y1="123.5" x2="163.4" y2="150.8"/>
<line x1="149.9" y1="123.5" x2="181.0" y2="104.6"/>
<line x1="149.9" y1="123.5" x2="149.8" y2="129.8"/>
<line x1="68.3" y1="96.3" x2="49.0" y2="111.3"/>
<line x1="68.3" y1="96.3" x2="72.4" y2="66.7"/>
<line x1="68.3" y1="96.3" x2="92.4" y2="80.1"/>
<line x1="68.3" y1="96.3" x2="69.0" y2="105.3"/>
<line x1="68.3" y1="96.3" x2="72.5" y2="131.9"/>
<line x1="68.3" y1="96.3" x2="70.5" y2="90.7"/>
<line x1="68.3" y1="96.3" x2="65.6" y2="133.5"/>
<line x1="123.0" y1="201.9" x2="116.6" y2="194.0"/>
<line x1="123.0" y1="201.9" x2="138.0" y2="199.5"/>
<line x1="66.8" y1="81.6" x2="72.4" y2="66.7"/>
<line x1="66.8" y1="81.6" x2="29.2" y2="82.7"/>
<line x1="66.8" y1="81.6" x2="74.5" y2="86.1"/>
<line x1="66.8" y1="81.6" x2="92.4" y2="80.1"/>
<line x1="66.8" y1="81.6" x2="56.8" y2="79.6"/>
<line x1="66.8" y1="81.6" x2="70.5" y2="90.7"/>
<line x1="78.9" y1="135.8" x2="62.6" y2="128.0"/>
<line x1="78.9" y1="135.8" x2="83.3" y2="107.1"/>
<line x1="78.9" y1="135.8" x2="91.6" y2="115.1"/>
<line x1="78.9" y1="135.8" x2="72.5" y2="131.9"/>
<line x1="78.9" y1="135.8" x2="84.4" y2="128.4"/>
<line x1="78.9" y1="135.8" x2="112.8" y2="150.9"/>
<line x1="46.4" y1="145.5" x2="62.6" y2="128.0"/>
<line x1="46.4" y1="145.5" x2="35.7" y2="137.8"/>
<line x1="46.4" y1="145.5" x2="53.3" y2="145.6"/>
<line x1="46.4" y1="145.5" x2="42.8" y2="123.6"/>
<line x1="46.4" y1="145.5" x2="58.5" y2="141.6"/>
<line x1="46.4" y1="145.5" x2="38.6" y2="146.8"/>
<line x1="46.4" y1="145.5" x2="44.2" y2="176.9"/>
<line x1="127.9" y1="61.6" x2="144.6" y2="62.1"/>
<line x1="127.9" y1="61.6" x2="145.6" y2="83.8"/>
<line x1="127.9" y1="61.6" x2="128.1" y2="68.0"/>
<line x1="127.9" y1="61.6" x2="119.8" y2="58.5"/>
<line x1="56.7" y1="181.1" x2="57.5" y2="171.9"/>
<line x1="56.7" y1="181.1" x2="66.4" y2="185.4"/>
<line x1="56.7" y1="181.1" x2="44.2" y2="176.9"/>
<line x1="63.9" y1="171.2" x2="53.3" y2="145.6"/>
<line x1="63.9" y1="171.2" x2="69.7" y2="168.3"/>
<line x1="63.9" y1="171.2" x2="57.5" y2="171.9"/>
<line x1="63.9" y1="171.2" x2="72.1" y2="147.0"/>
<line x1="62.6" y1="128.0" x2="91.6" y2="115.1"/>
<line x1="62.6" y1="128.0" x2="82.6" y2="99.4"/>
<line x1="62.6" y1="128.0" x2="72.5" y2="131.9"/>
<line x1="62.6" y1="128.0" x2="65.6" y2="133.5"/>
<line x1="100.9" y1="170.1" x2="104.6" y2="177.0"/>
<line x1="100.9" y1="170.1" x2="106.7" y2="167.0"/>
<line x1="100.9" y1="170.1" x2="72.1" y2="147.0"/>
<line x1="100.9" y1="170.1" x2="133.4" y2="150.9"/>
<line x1="100.9" y1="170.1" x2="105.4" y2="186.3"/>
<line x1="100.9" y1="170.1" x2="90.4" y2="204.1"/>
<line x1="120.8" y1="148.2" x2="143.9" y2="128.0"/>
<line x1="120.8" y1="148.2" x2="130.0" y2="143.9"/>
<line x1="120.8" y1="148.2" x2="126.9" y2="154.2"/>
<line x1="120.8" y1="148.2" x2="112.8" y2="150.9"/>
<line x1="134.5" y1="123.3" x2="149.9" y2="153.8"/>
<line x1="134.5" y1="123.3" x2="131.9" y2="136.6"/>
<line x1="134.5" y1="123.3" x2="143.9" y2="128.0"/>
<line x1="134.5" y1="123.3" x2="157.4" y2="133.6"/>
<line x1="134.5" y1="123.3" x2="131.2" y2="109.8"/>
<line x1="134.5" y1="123.3" x2="123.3" y2="119.7"/>
<line x1="134.5" y1="123.3" x2="130.3" y2="120.0"/>
<line x1="134.5" y1="123.3" x2="106.8" y2="103.0"/>
<line x1="134.5" y1="123.3" x2="126.9" y2="154.2"/>
<line x1="134.5" y1="123.3" x2="114.4" y2="98.1"/>
<line x1="134.5" y1="123.3" x2="118.8" y2="104.5"/>
<line x1="49.0" y1="111.3" x2="77.6" y2="103.6"/>
<line x1="49.0" y1="111.3" x2="42.8" y2="123.6"/>
<line x1="49.0" y1="111.3" x2="58.5" y2="141.6"/>
<line x1="49.0" y1="111.3" x2="72.5" y2="131.9"/>
<line x1="49.0" y1="111.3" x2="52.7" y2="105.0"/>
<line x1="49.0" y1="111.3" x2="30.9" y2="119.6"/>
<line x1="165.8" y1="122.0" x2="160.1" y2="139.1"/>
<line x1="165.8" y1="122.0" x2="170.0" y2="126.3"/>
<line x1="165.8" y1="122.0" x2="181.7" y2="110.7"/>
<line x1="165.8" y1="122.0" x2="131.2" y2="109.8"/>
<line x1="165.8" y1="122.0" x2="171.2" y2="143.0"/>
<line x1="165.8" y1="122.0" x2="195.1" y2="112.5"/>
<line x1="165.8" y1="122.0" x2="166.0" y2="90.3"/>
<line x1="165.8" y1="122.0" x2="184.0" y2="125.6"/>
<line x1="165.8" y1="122.0" x2="149.8" y2="129.8"/>
<line x1="86.7" y1="63.6" x2="72.4" y2="66.7"/>
<line x1="86.7" y1="63.6" x2="80.8" y2="68.0"/>
<line x1="35.7" y1="137.8" x2="53.3" y2="145.6"/>
<line x1="35.7" y1="137.8" x2="26.1" y2="168.4"/>
<line x1="35.7" y1="137.8" x2="42.8" y2="123.6"/>
<line x1="35.7" y1="137.8" x2="58.5" y2="141.6"/>
<line x1="35.7" y1="137.8" x2="25.3" y2="146.5"/>
<line x1="35.7" y1="137.8" x2="38.6" y2="146.8"/>
<line x1="32.6" y1="161.0" x2="25.5" y2="160.6"/>
<line x1="32.6" y1="161.0" x2="26.1" y2="168.4"/>
<line x1="32.6" y1="161.0" x2="31.6" y2="176.4"/>
<line x1="32.6" y1="161.0" x2="69.7" y2="168.3"/>
<line x1="32.6" y1="161.0" x2="69.4" y2="160.2"/>
<line x1="32.6" y1="161.0" x2="38.6" y2="146.8"/>
<line x1="32.6" y1="161.0" x2="41.2" y2="158.9"/>
<line x1="32.6" y1="161.0" x2="9.3" y2="153.1"/>
<line x1="156.4" y1="152.6" x2="160.1" y2="139.1"/>
<line x1="156.4" y1="152.6" x2="149.9" y2="153.8"/>
<line x1="156.4" y1="152.6" x2="124.4" y2="168.8"/>
<line x1="156.4" y1="152.6" x2="163.8" y2="164.3"/>
<line x1="156.4" y1="152.6" x2="148.5" y2="141.3"/>
<line x1="156.4" y1="152.6" x2="163.4" y2="150.8"/>
<line x1="53.3" y1="145.6" x2="59.0" y2="153.0"/>
<line x1="53.3" y1="145.6" x2="62.7" y2="147.9"/>
<line x1="53.3" y1="145.6" x2="77.7" y2="125.5"/>
<line x1="53.3" y1="145.6" x2="26.1" y2="168.4"/>
<line x1="53.3" y1="145.6" x2="58.5" y2="141.6"/>
<line x1="53.3" y1="145.6" x2="78.1" y2="171.9"/>
<line x1="53.3" y1="145.6" x2="31.6" y2="176.4"/>
<line x1="53.3" y1="145.6" x2="65.6" y2="133.5"/>
<line x1="53.3" y1="145.6" x2="84.4" y2="128.4"/>
<line x1="53.3" y1="145.6" x2="78.5" y2="119.9"/>
<line x1="84.5" y1="82.3" x2="72.4" y2="66.7"/>
<line x1="84.5" y1="82.3" x2="90.3" y2="100.4"/>
<line x1="84.5" y1="82.3" x2="110.5" y2="78.2"/>
<line x1="84.5" y1="82.3" x2="80.8" y2="68.0"/>
<line x1="84.5" y1="82.3" x2="91.6" y2="115.1"/>
<line x1="84.5" y1="82.3" x2="92.4" y2="80.1"/>
<line x1="84.5" y1="82.3" x2="69.0" y2="105.3"/>
<line x1="84.5" y1="82.3" x2="114.0" y2="69.3"/>
<line x1="72.4" y1="66.7" x2="80.8" y2="68.0"/>
<line x1="72.4" y1="66.7" x2="74.5" y2="86.1"/>
<line x1="72.4" y1="66.7" x2="92.4" y2="80.1"/>
<line x1="72.4" y1="66.7" x2="56.8" y2="79.6"/>
<line x1="59.0" y1="153.0" x2="62.7" y2="147.9"/>
<line x1="59.0" y1="153.0" x2="86.9" y2="168.3"/>
<line x1="59.0" y1="153.0" x2="78.1" y2="171.9"/>
<line x1="59.0" y1="153.0" x2="69.7" y2="168.3"/>
<line x1="59.0" y1="153.0" x2="65.6" y2="133.5"/>
<line x1="59.0" y1="153.0" x2="76.1" y2="150.2"/>
<line x1="59.0" y1="153.0" x2="83.8" y2="175.1"/>
<line x1="59.0" y1="153.0" x2="44.2" y2="176.9"/>
<line x1="59.0" y1="153.0" x2="41.2" y2="158.9"/>
<line x1="59.0" y1="153.0" x2="49.7" y2="129.3"/>
<line x1="90.3" y1="100.4" x2="110.5" y2="78.2"/>
<line x1="90.3" y1="100.4" x2="117.9" y2="114.5"/>
<line x1="90.3" y1="100.4" x2="98.9" y2="130.1"/>
<line x1="90.3" y1="100.4" x2="83.3" y2="107.1"/>
<line x1="90.3" y1="100.4" x2="105.8" y2="70.7"/>
<line x1="90.3" y1="100.4" x2="91.6" y2="115.1"/>
<line x1="90.3" y1="100.4" x2="90.8" y2="95.1"/>
<line x1="90.3" y1="100.4" x2="82.6" y2="99.4"/>
<line x1="90.3" y1="100.4" x2="99.9" y2="111.3"/>
<line x1="90.3" y1="100.4" x2="96.1" y2="97.4"/>
<line x1="90.3" y1="100.4" x2="78.5" y2="119.9"/>
<line x1="90.3" y1="100.4" x2="118.8" y2="104.5"/>
<line x1="110.5" y1="78.2" x2="116.1" y2="63.3"/>
<line x1="110.5" y1="78.2" x2="80.8" y2="68.0"/>
<line x1="110.5" y1="78.2" x2="105.8" y2="70.7"/>
<line x1="110.5" y1="78.2" x2="74.5" y2="86.1"/>
<line x1="110.5" y1="78.2" x2="114.5" y2="83.8"/>
<line x1="110.5" y1="78.2" x2="131.2" y2="109.8"/>
<line x1="110.5" y1="78.2" x2="116.5" y2="92.1"/>
<line x1="110.5" y1="78.2" x2="92.4" y2="80.1"/>
<line x1="110.5" y1="78.2" x2="114.0" y2="69.3"/>
<line x1="110.5" y1="78.2" x2="128.1" y2="68.0"/>
<line x1="110.5" y1="78.2" x2="106.8" y2="103.0"/>
<line x1="110.5" y1="78.2" x2="136.2" y2="61.8"/>
<line x1="134.5" y1="116.1" x2="138.0" y2="87.6"/>
<line x1="134.5" y1="116.1" x2="143.9" y2="128.0"/>
<line x1="134.5" y1="116.1" x2="130.3" y2="120.0"/>
<line x1="116.1" y1="63.3" x2="105.8" y2="70.7"/>
<line x1="116.1" y1="63.3" x2="114.0" y2="69.3"/>
<line x1="116.1" y1="63.3" x2="114.4" y2="98.1"/>
<line x1="116.1" y1="63.3" x2="119.8" y2="58.5"/>
<line x1="25.5" y1="160.6" x2="26.1" y2="168.4"/>
<line x1="25.5" y1="160.6" x2="16.9" y2="152.6"/>
<line x1="25.5" y1="160.6" x2="13.7" y2="161.8"/>
<line x1="25.5" y1="160.6" x2="25.3" y2="146.5"/>
<line x1="56.9" y1="162.9" x2="57.5" y2="171.9"/>
<line x1="56.9" y1="162.9" x2="72.5" y2="131.9"/>
<line x1="56.9" y1="162.9" x2="69.4" y2="160.2"/>
<line x1="56.9" y1="162.9" x2="49.7" y2="129.3"/>
<line x1="144.6" y1="62.1" x2="166.0" y2="90.3"/>
<line x1="144.6" y1="62.1" x2="155.3" y2="60.8"/>
<line x1="144.6" y1="62.1" x2="136.2" y2="61.8"/>
<line x1="29.2" y1="82.7" x2="39.2" y2="101.3"/>
<line x1="117.9" y1="114.5" x2="138.0" y2="87.6"/>
<line x1="117.9" y1="114.5" x2="143.7" y2="101.2"/>
<line x1="117.9" y1="114.5" x2="114.9" y2="127.9"/>
<line x1="117.9" y1="114.5" x2="131.9" y2="136.6"/>
<line x1="117.9" y1="114.5" x2="154.5" y2="104.0"/>
<line x1="117.9" y1="114.5" x2="114.5" y2="83.8"/>
<line x1="117.9" y1="114.5" x2="131.2" y2="109.8"/>
<line x1="117.9" y1="114.5" x2="154.7" y2="116.6"/>
<line x1="117.9" y1="114.5" x2="116.5" y2="92.1"/>
<line x1="117.9" y1="114.5" x2="123.3" y2="119.7"/>
<line x1="117.9" y1="114.5" x2="149.7" y2="100.7"/>
<line x1="117.9" y1="114.5" x2="106.8" y2="103.0"/>
<line x1="80.8" y1="68.0" x2="105.8" y2="70.7"/>
<line x1="80.8" y1="68.0" x2="96.1" y2="97.4"/>
<line x1="88.5" y1="160.7" x2="86.9" y2="168.3"/>
<line x1="88.5" y1="160.7" x2="95.7" y2="156.2"/>
<line x1="88.5" y1="160.7" x2="90.8" y2="137.3"/>
<line x1="88.5" y1="160.7" x2="78.4" y2="180.1"/>
<line x1="51.7" y1="94.8" x2="74.5" y2="86.1"/>
<line x1="51.7" y1="94.8" x2="56.8" y2="79.6"/>
<line x1="51.7" y1="94.8" x2="52.7" y2="105.0"/>
<line x1="138.0" y1="87.6" x2="123.3" y2="119.7"/>
<line x1="138.0" y1="87.6" x2="106.8" y2="103.0"/>
<line x1="138.0" y1="87.6" x2="118.8" y2="104.5"/>
<line x1="77.6" y1="103.6" x2="90.8" y2="95.1"/>
<line x1="77.6" y1="103.6" x2="82.6" y2="99.4"/>
<line x1="77.6" y1="103.6" x2="69.0" y2="105.3"/>
<line x1="143.7" y1="101.2" x2="122.9" y2="86.5"/>
<line x1="143.7" y1="101.2" x2="170.0" y2="126.3"/>
<line x1="143.7" y1="101.2" x2="131.2" y2="109.8"/>
<line x1="143.7" y1="101.2" x2="136.0" y2="72.2"/>
<line x1="143.7" y1="101.2" x2="149.7" y2="100.7"/>
<line x1="143.7" y1="101.2" x2="123.7" y2="98.9"/>
<line x1="143.7" y1="101.2" x2="128.1" y2="68.0"/>
<line x1="143.7" y1="101.2" x2="159.5" y2="87.1"/>
<line x1="116.6" y1="194.0" x2="103.5" y2="213.5"/>
<line x1="116.6" y1="194.0" x2="116.3" y2="182.6"/>
<line x1="62.7" y1="147.9" x2="91.7" y2="129.8"/>
<line x1="62.7" y1="147.9" x2="66.4" y2="185.4"/>
<line x1="160.1" y1="139.1" x2="149.9" y2="153.8"/>
<line x1="160.1" y1="139.1" x2="157.4" y2="133.6"/>
<line x1="160.1" y1="139.1" x2="154.5" y2="104.0"/>
<line x1="160.1" y1="139.1" x2="144.9" y2="168.1"/>
<line x1="160.1" y1="139.1" x2="154.7" y2="116.6"/>
<line x1="160.1" y1="139.1" x2="163.4" y2="150.8"/>
<line x1="149.9" y1="153.8" x2="170.0" y2="126.3"/>
<line x1="149.9" y1="153.8" x2="124.4" y2="168.8"/>
<line x1="149.9" y1="153.8" x2="144.9" y2="168.1"/>
<line x1="149.9" y1="153.8" x2="171.2" y2="143.0"/>
<line x1="149.9" y1="153.8" x2="163.8" y2="164.3"/>
<line x1="149.9" y1="153.8" x2="148.5" y2="141.3"/>
<line x1="149.9" y1="153.8" x2="163.4" y2="150.8"/>
<line x1="149.9" y1="153.8" x2="139.5" y2="163.6"/>
<line x1="86.9" y1="168.3" x2="78.1" y2="171.9"/>
<line x1="86.9" y1="168.3" x2="98.2" y2="146.6"/>
<line x1="86.9" y1="168.3" x2="83.8" y2="175.1"/>
<line x1="157.5" y1="175.4" x2="144.9" y2="168.1"/>
<line x1="157.5" y1="175.4" x2="163.8" y2="164.3"/>
<line x1="157.5" y1="175.4" x2="191.0" y2="169.8"/>
<line x1="157.5" y1="175.4" x2="127.1" y2="162.3"/>
<line x1="157.5" y1="175.4" x2="148.0" y2="183.5"/>
<line x1="77.7" y1="125.5" x2="58.5" y2="141.6"/>
<line x1="77.7" y1="125.5" x2="69.0" y2="105.3"/>
<line x1="77.7" y1="125.5" x2="72.5" y2="131.9"/>
<line x1="77.7" y1="125.5" x2="98.2" y2="146.6"/>
<line x1="77.7" y1="125.5" x2="84.4" y2="128.4"/>
<line x1="77.7" y1="125.5" x2="78.5" y2="119.9"/>
<line x1="98.9" y1="130.1" x2="83.3" y2="107.1"/>
<line x1="98.9" y1="130.1" x2="106.9" y2="114.3"/>
<line x1="98.9" y1="130.1" x2="123.3" y2="119.7"/>
<line x1="98.9" y1="130.1" x2="99.2" y2="138.5"/>
<line x1="98.9" y1="130.1" x2="99.9" y2="111.3"/>
<line x1="98.9" y1="130.1" x2="72.1" y2="147.0"/>
<line x1="98.9" y1="130.1" x2="130.0" y2="143.9"/>
<line x1="98.9" y1="130.1" x2="96.1" y2="97.4"/>
<line x1="98.9" y1="130.1" x2="91.7" y2="129.8"/>
<line x1="98.9" y1="130.1" x2="103.0" y2="135.0"/>
<line x1="206.4" y1="100.0" x2="181.7" y2="110.7"/>
<line x1="206.4" y1="100.0" x2="184.9" y2="77.2"/>
<line x1="14.4" y1="187.8" x2="40.7" y2="190.4"/>
<line x1="114.9" y1="127.9" x2="143.9" y2="128.0"/>
<line x1="114.9" y1="127.9" x2="126.9" y2="154.2"/>
<line x1="114.9" y1="127.9" x2="118.1" y2="137.0"/>
<line x1="114.9" y1="127.9" x2="112.8" y2="150.9"/>
<line x1="70.0" y1="114.7" x2="64.9" y2="108.8"/>
<line x1="70.0" y1="114.7" x2="56.8" y2="79.6"/>
<line x1="70.0" y1="114.7" x2="99.2" y2="138.5"/>
<line x1="70.0" y1="114.7" x2="69.0" y2="105.3"/>
<line x1="70.0" y1="114.7" x2="72.1" y2="147.0"/>
<line x1="70.0" y1="114.7" x2="84.4" y2="128.4"/>
<line x1="70.0" y1="114.7" x2="78.5" y2="119.9"/>
<line x1="161.4" y1="115.4" x2="143.9" y2="128.0"/>
<line x1="161.4" y1="115.4" x2="157.4" y2="133.6"/>
<line x1="161.4" y1="115.4" x2="178.0" y2="93.1"/>
<line x1="161.4" y1="115.4" x2="154.7" y2="116.6"/>
<line x1="161.4" y1="115.4" x2="166.0" y2="90.3"/>
<line x1="161.4" y1="115.4" x2="149.7" y2="100.7"/>
<line x1="131.9" y1="136.6" x2="143.9" y2="128.0"/>
<line x1="131.9" y1="136.6" x2="131.2" y2="109.8"/>
<line x1="131.9" y1="136.6" x2="130.0" y2="143.9"/>
<line x1="131.9" y1="136.6" x2="127.1" y2="162.3"/>
<line x1="131.9" y1="136.6" x2="163.4" y2="150.8"/>
<line x1="184.6" y1="97.7" x2="170.0" y2="126.3"/>
<line x1="184.6" y1="97.7" x2="164.2" y2="97.3"/>
<line x1="184.6" y1="97.7" x2="178.0" y2="93.1"/>
<line x1="184.6" y1="97.7" x2="159.5" y2="87.1"/>
<line x1="184.6" y1="97.7" x2="189.7" y2="119.2"/>
<line x1="184.6" y1="97.7" x2="181.0" y2="104.6"/>
<line x1="184.6" y1="97.7" x2="184.0" y2="125.6"/>
<line x1="178.6" y1="82.3" x2="175.1" y2="77.1"/>
<line x1="178.6" y1="82.3" x2="173.3" y2="101.4"/>
<line x1="178.6" y1="82.3" x2="178.0" y2="93.1"/>
<line x1="178.6" y1="82.3" x2="155.3" y2="60.8"/>
<line x1="178.6" y1="82.3" x2="166.3" y2="75.1"/>
<line x1="178.6" y1="82.3" x2="184.9" y2="77.2"/>
<line x1="15.9" y1="172.8" x2="26.1" y2="168.4"/>
<line x1="15.9" y1="172.8" x2="5.6" y2="170.9"/>
<line x1="83.3" y1="107.1" x2="82.6" y2="99.4"/>
<line x1="83.3" y1="107.1" x2="106.8" y2="103.0"/>
<line x1="83.3" y1="107.1" x2="110.7" y2="109.7"/>
<line x1="143.9" y1="128.0" x2="171.2" y2="143.0"/>
<line x1="143.9" y1="128.0" x2="149.7" y2="100.7"/>
<line x1="143.9" y1="128.0" x2="126.9" y2="154.2"/>
<line x1="143.9" y1="128.0" x2="149.1" y2="90.4"/>
<line x1="143.9" y1="128.0" x2="149.8" y2="129.8"/>
<line x1="26.1" y1="168.4" x2="31.6" y2="176.4"/>
<line x1="26.1" y1="168.4" x2="9.3" y2="153.1"/>
<line x1="157.4" y1="133.6" x2="164.2" y2="97.3"/>
<line x1="157.4" y1="133.6" x2="154.7" y2="116.6"/>
<line x1="157.4" y1="133.6" x2="149.8" y2="129.8"/>
<line x1="154.5" y1="104.0" x2="170.0" y2="126.3"/>
<line x1="154.5" y1="104.0" x2="180.6" y2="118.6"/>
<line x1="154.5" y1="104.0" x2="175.1" y2="77.1"/>
<line x1="154.5" y1="104.0" x2="131.2" y2="109.8"/>
<line x1="154.5" y1="104.0" x2="136.0" y2="72.2"/>
<line x1="154.5" y1="104.0" x2="149.7" y2="100.7"/>
<line x1="154.5" y1="104.0" x2="123.7" y2="98.9"/>
<line x1="154.5" y1="104.0" x2="159.5" y2="87.1"/>
<line x1="105.8" y1="70.7" x2="122.9" y2="86.5"/>
<line x1="105.8" y1="70.7" x2="135.0" y2="80.0"/>
<line x1="105.8" y1="70.7" x2="116.5" y2="92.1"/>
<line x1="105.8" y1="70.7" x2="82.6" y2="99.4"/>
<line x1="105.8" y1="70.7" x2="114.0" y2="69.3"/>
<line x1="105.8" y1="70.7" x2="99.4" y2="66.6"/>
<line x1="105.8" y1="70.7" x2="119.8" y2="58.5"/>
<line x1="122.9" y1="86.5" x2="90.8" y2="95.1"/>
<line x1="122.9" y1="86.5" x2="116.5" y2="92.1"/>
<line x1="122.9" y1="86.5" x2="122.7" y2="74.5"/>
<line x1="122.9" y1="86.5" x2="159.5" y2="87.1"/>
<line x1="122.9" y1="86.5" x2="118.8" y2="104.5"/>
<line x1="16.9" y1="152.6" x2="13.7" y2="161.8"/>
<line x1="16.9" y1="152.6" x2="25.3" y2="146.5"/>
<line x1="16.9" y1="152.6" x2="9.3" y2="153.1"/>
<line x1="42.8" y1="123.6" x2="30.9" y2="119.6"/>
<line x1="42.8" y1="123.6" x2="41.2" y2="158.9"/>
<line x1="42.8" y1="123.6" x2="49.7" y2="129.3"/>
<line x1="91.6" y1="115.1" x2="99.9" y2="111.3"/>
<line x1="91.6" y1="115.1" x2="72.5" y2="131.9"/>
<line x1="91.6" y1="115.1" x2="118.1" y2="137.0"/>
<line x1="74.5" y1="86.1" x2="99.9" y2="111.3"/>
<line x1="74.5" y1="86.1" x2="70.5" y2="90.7"/>
<line x1="74.5" y1="86.1" x2="52.7" y2="105.0"/>
<line x1="114.5" y1="83.8" x2="116.5" y2="92.1"/>
<line x1="114.5" y1="83.8" x2="82.6" y2="99.4"/>
<line x1="114.5" y1="83.8" x2="128.1" y2="68.0"/>
<line x1="114.5" y1="83.8" x2="106.8" y2="103.0"/>
<line x1="114.5" y1="83.8" x2="110.7" y2="109.7"/>
<line x1="114.5" y1="83.8" x2="114.4" y2="98.1"/>
<line x1="104.6" y1="177.0" x2="124.4" y2="168.8"/>
<line x1="104.6" y1="177.0" x2="106.7" y2="167.0"/>
<line x1="104.6" y1="177.0" x2="95.7" y2="156.2"/>
<line x1="104.6" y1="177.0" x2="127.1" y2="162.3"/>
<line x1="104.6" y1="177.0" x2="116.3" y2="182.6"/>
<line x1="104.6" y1="177.0" x2="120.7" y2="162.6"/>
<line x1="104.6" y1="177.0" x2="105.4" y2="186.3"/>
<line x1="170.0" y1="126.3" x2="180.6" y2="118.6"/>
<line x1="170.0" y1="126.3" x2="177.7" y2="124.8"/>
<line x1="61.3" y1="209.3" x2="66.4" y2="185.4"/>
<line x1="61.3" y1="209.3" x2="40.7" y2="190.4"/>
<line x1="181.7" y1="110.7" x2="180.6" y2="118.6"/>
<line x1="181.7" y1="110.7" x2="195.1" y2="112.5"/>
<line x1="181.7" y1="110.7" x2="181.0" y2="104.6"/>
<line x1="164.2" y1="97.3" x2="135.0" y2="80.0"/>
<line x1="164.2" y1="97.3" x2="173.3" y2="101.4"/>
<line x1="164.2" y1="97.3" x2="166.0" y2="90.3"/>
<line x1="164.2" y1="97.3" x2="166.3" y2="75.1"/>
<line x1="135.0" y1="80.0" x2="131.2" y2="109.8"/>
<line x1="135.0" y1="80.0" x2="106.8" y2="103.0"/>
<line x1="106.9" y1="114.3" x2="90.8" y2="95.1"/>
<line x1="106.9" y1="114.3" x2="92.4" y2="80.1"/>
<line x1="106.9" y1="114.3" x2="99.9" y2="111.3"/>
<line x1="106.9" y1="114.3" x2="130.0" y2="143.9"/>
<line x1="106.9" y1="114.3" x2="110.7" y2="109.7"/>
<line x1="106.9" y1="114.3" x2="118.1" y2="137.0"/>
<line x1="180.6" y1="118.6" x2="171.2" y2="143.0"/>
<line x1="180.6" y1="118.6" x2="166.0" y2="90.3"/>
<line x1="180.6" y1="118.6" x2="177.7" y2="124.8"/>
<line x1="180.6" y1="118.6" x2="189.7" y2="119.2"/>
<line x1="180.6" y1="118.6" x2="184.0" y2="125.6"/>
<line x1="180.6" y1="118.6" x2="149.8" y2="129.8"/>
<line x1="175.1" y1="77.1" x2="149.7" y2="100.7"/>
<line x1="175.1" y1="77.1" x2="155.3" y2="60.8"/>
<line x1="175.1" y1="77.1" x2="166.3" y2="75.1"/>
<line x1="103.5" y1="213.5" x2="90.4" y2="204.1"/>
<line x1="124.4" y1="168.8" x2="127.1" y2="162.3"/>
<line x1="124.4" y1="168.8" x2="120.7" y2="162.6"/>
<line x1="124.4" y1="168.8" x2="134.3" y2="184.7"/>
<line x1="13.7" y1="161.8" x2="5.6" y2="170.9"/>
<line x1="13.7" y1="161.8" x2="9.3" y2="153.1"/>
<line x1="144.9" y1="168.1" x2="163.8" y2="164.3"/>
<line x1="144.9" y1="168.1" x2="138.0" y2="199.5"/>
<line x1="144.9" y1="168.1" x2="126.9" y2="154.2"/>
<line x1="144.9" y1="168.1" x2="139.5" y2="163.6"/>
<line x1="58.5" y1="141.6" x2="64.9" y2="108.8"/>
<line x1="58.5" y1="141.6" x2="84.4" y2="128.4"/>
<line x1="173.3" y1="101.4" x2="178.0" y2="93.1"/>
<line x1="173.3" y1="101.4" x2="181.0" y2="104.6"/>
<line x1="173.3" y1="101.4" x2="184.0" y2="125.6"/>
<line x1="173.3" y1="101.4" x2="149.8" y2="129.8"/>
<line x1="131.2" y1="109.8" x2="130.3" y2="120.0"/>
<line x1="131.2" y1="109.8" x2="122.7" y2="74.5"/>
<line x1="78.1" y1="171.9" x2="69.7" y2="168.3"/>
<line x1="78.1" y1="171.9" x2="83.8" y2="175.1"/>
<line x1="78.1" y1="171.9" x2="78.4" y2="180.1"/>
<line x1="178.0" y1="93.1" x2="177.7" y2="124.8"/>
<line x1="178.0" y1="93.1" x2="189.7" y2="119.2"/>
<line x1="178.0" y1="93.1" x2="181.0" y2="104.6"/>
<line x1="74.8" y1="196.7" x2="84.4" y2="185.3"/>
<line x1="74.8" y1="196.7" x2="66.4" y2="185.4"/>
<line x1="74.8" y1="196.7" x2="78.4" y2="180.1"/>
<line x1="74.8" y1="196.7" x2="90.4" y2="204.1"/>
<line x1="90.8" y1="95.1" x2="82.6" y2="99.4"/>
<line x1="90.8" y1="95.1" x2="99.9" y2="111.3"/>
<line x1="90.8" y1="95.1" x2="70.5" y2="90.7"/>
<line x1="90.8" y1="95.1" x2="96.1" y2="97.4"/>
<line x1="90.8" y1="95.1" x2="84.4" y2="128.4"/>
<line x1="90.8" y1="95.1" x2="114.4" y2="98.1"/>
<line x1="90.8" y1="95.1" x2="78.5" y2="119.9"/>
<line x1="171.2" y1="143.0" x2="196.7" y2="154.3"/>
<line x1="171.2" y1="143.0" x2="199.8" y2="143.2"/>
<line x1="171.2" y1="143.0" x2="163.4" y2="150.8"/>
<line x1="25.3" y1="146.5" x2="31.6" y2="176.4"/>
<line x1="25.3" y1="146.5" x2="38.6" y2="146.8"/>
<line x1="25.3" y1="146.5" x2="44.2" y2="176.9"/>
<line x1="25.3" y1="146.5" x2="9.3" y2="153.1"/>
<line x1="84.4" y1="185.3" x2="95.7" y2="156.2"/>
<line x1="84.4" y1="185.3" x2="83.8" y2="175.1"/>
<line x1="84.4" y1="185.3" x2="78.4" y2="180.1"/>
<line x1="84.4" y1="185.3" x2="90.4" y2="204.1"/>
<line x1="196.7" y1="154.3" x2="163.8" y2="164.3"/>
<line x1="196.7" y1="154.3" x2="177.7" y2="124.8"/>
<line x1="196.7" y1="154.3" x2="199.8" y2="143.2"/>
<line x1="196.7" y1="154.3" x2="204.5" y2="158.2"/>
<line x1="154.7" y1="116.6" x2="149.8" y2="129.8"/>
<line x1="163.8" y1="164.3" x2="163.4" y2="150.8"/>
<line x1="163.8" y1="164.3" x2="134.3" y2="184.7"/>
<line x1="116.5" y1="92.1" x2="123.3" y2="119.7"/>
<line x1="116.5" y1="92.1" x2="92.4" y2="80.1"/>
<line x1="116.5" y1="92.1" x2="99.9" y2="111.3"/>
<line x1="116.5" y1="92.1" x2="114.4" y2="98.1"/>
<line x1="123.3" y1="119.7" x2="130.3" y2="120.0"/>
<line x1="190.4" y1="136.2" x2="177.7" y2="124.8"/>
<line x1="190.4" y1="136.2" x2="199.8" y2="143.2"/>
<line x1="190.4" y1="136.2" x2="184.0" y2="125.6"/>
<line x1="31.6" y1="176.4" x2="38.6" y2="146.8"/>
<line x1="31.6" y1="176.4" x2="44.2" y2="176.9"/>
<line x1="212.2" y1="146.6" x2="199.8" y2="143.2"/>
<line x1="212.2" y1="146.6" x2="184.0" y2="125.6"/>
<line x1="212.2" y1="146.6" x2="211.2" y2="161.1"/>
<line x1="212.2" y1="146.6" x2="204.5" y2="158.2"/>
<line x1="92.4" y1="80.1" x2="70.5" y2="90.7"/>
<line x1="92.4" y1="80.1" x2="96.1" y2="97.4"/>
<line x1="92.4" y1="80.1" x2="74.0" y2="49.4"/>
<line x1="92.4" y1="80.1" x2="118.8" y2="104.5"/>
<line x1="69.7" y1="168.3" x2="57.5" y2="171.9"/>
<line x1="69.7" y1="168.3" x2="72.1" y2="147.0"/>
<line x1="69.7" y1="168.3" x2="95.7" y2="156.2"/>
<line x1="69.7" y1="168.3" x2="69.4" y2="160.2"/>
<line x1="130.3" y1="120.0" x2="149.7" y2="100.7"/>
<line x1="130.3" y1="120.0" x2="149.8" y2="129.8"/>
<line x1="64.9" y1="108.8" x2="69.0" y2="105.3"/>
<line x1="64.9" y1="108.8" x2="96.1" y2="97.4"/>
<line x1="82.6" y1="99.4" x2="69.0" y2="105.3"/>
<line x1="82.6" y1="99.4" x2="114.4" y2="98.1"/>
<line x1="56.8" y1="79.6" x2="39.2" y2="101.3"/>
<line x1="138.0" y1="199.5" x2="151.3" y2="194.9"/>
<line x1="138.0" y1="199.5" x2="134.3" y2="184.7"/>
<line x1="57.5" y1="171.9" x2="72.1" y2="147.0"/>
<line x1="99.2" y1="138.5" x2="99.9" y2="111.3"/>
<line x1="99.2" y1="138.5" x2="98.2" y2="146.6"/>
<line x1="99.2" y1="138.5" x2="90.8" y2="137.3"/>
<line x1="99.2" y1="138.5" x2="103.0" y2="135.0"/>
<line x1="99.2" y1="138.5" x2="112.8" y2="150.9"/>
<line x1="195.1" y1="112.5" x2="189.7" y2="119.2"/>
<line x1="99.9" y1="111.3" x2="96.1" y2="97.4"/>
<line x1="99.9" y1="111.3" x2="106.8" y2="103.0"/>
<line x1="99.9" y1="111.3" x2="114.4" y2="98.1"/>
<line x1="99.9" y1="111.3" x2="78.5" y2="119.9"/>
<line x1="72.5" y1="131.9" x2="72.1" y2="147.0"/>
<line x1="72.5" y1="131.9" x2="65.6" y2="133.5"/>
<line x1="72.5" y1="131.9" x2="103.0" y2="135.0"/>
<line x1="122.7" y1="74.5" x2="110.7" y2="109.7"/>
<line x1="122.7" y1="74.5" x2="136.2" y2="61.8"/>
<line x1="145.6" y1="83.8" x2="114.0" y2="69.3"/>
<line x1="145.6" y1="83.8" x2="149.1" y2="90.4"/>
<line x1="10.2" y1="114.0" x2="7.1" y2="107.8"/>
<line x1="106.7" y1="167.0" x2="126.9" y2="154.2"/>
<line x1="106.7" y1="167.0" x2="120.7" y2="162.6"/>
<line x1="106.7" y1="167.0" x2="105.4" y2="186.3"/>
<line x1="106.7" y1="167.0" x2="112.8" y2="150.9"/>
<line x1="106.7" y1="167.0" x2="139.5" y2="163.6"/>
<line x1="72.1" y1="147.0" x2="95.7" y2="156.2"/>
<line x1="72.1" y1="147.0" x2="76.1" y2="150.2"/>
<line x1="72.1" y1="147.0" x2="83.8" y2="175.1"/>
<line x1="72.1" y1="147.0" x2="69.4" y2="160.2"/>
<line x1="72.1" y1="147.0" x2="103.0" y2="135.0"/>
<line x1="72.1" y1="147.0" x2="49.7" y2="129.3"/>
<line x1="114.0" y1="69.3" x2="99.4" y2="66.6"/>
<line x1="114.0" y1="69.3" x2="114.4" y2="98.1"/>
<line x1="166.0" y1="90.3" x2="149.7" y2="100.7"/>
<line x1="166.0" y1="90.3" x2="159.5" y2="87.1"/>
<line x1="166.0" y1="90.3" x2="189.7" y2="119.2"/>
<line x1="177.7" y1="124.8" x2="199.8" y2="143.2"/>
<line x1="177.7" y1="124.8" x2="148.5" y2="141.3"/>
<line x1="177.7" y1="124.8" x2="184.0" y2="125.6"/>
<line x1="177.7" y1="124.8" x2="149.8" y2="129.8"/>
<line x1="133.4" y1="150.9" x2="130.0" y2="143.9"/>
<line x1="133.4" y1="150.9" x2="126.9" y2="154.2"/>
<line x1="149.7" y1="100.7" x2="149.1" y2="90.4"/>
<line x1="149.7" y1="100.7" x2="181.0" y2="104.6"/>
<line x1="149.7" y1="100.7" x2="118.8" y2="104.5"/>
<line x1="149.7" y1="100.7" x2="149.8" y2="129.8"/>
<line x1="123.7" y1="98.9" x2="118.8" y2="104.5"/>
<line x1="128.1" y1="68.0" x2="159.5" y2="87.1"/>
<line x1="128.1" y1="68.0" x2="149.1" y2="90.4"/>
<line x1="155.3" y1="60.8" x2="166.3" y2="75.1"/>
<line x1="65.6" y1="133.5" x2="78.5" y2="119.9"/>
<line x1="130.0" y1="143.9" x2="127.1" y2="162.3"/>
<line x1="98.2" y1="146.6" x2="95.7" y2="156.2"/>
<line x1="98.2" y1="146.6" x2="69.4" y2="160.2"/>
<line x1="98.2" y1="146.6" x2="103.0" y2="135.0"/>
<line x1="98.2" y1="146.6" x2="112.8" y2="150.9"/>
<line x1="52.7" y1="105.0" x2="78.5" y2="119.9"/>
<line x1="95.7" y1="156.2" x2="127.1" y2="162.3"/>
<line x1="95.7" y1="156.2" x2="76.1" y2="150.2"/>
<line x1="95.7" y1="156.2" x2="120.7" y2="162.6"/>
<line x1="96.1" y1="97.4" x2="106.8" y2="103.0"/>
<line x1="96.1" y1="97.4" x2="84.4" y2="128.4"/>
<line x1="96.1" y1="97.4" x2="78.5" y2="119.9"/>
<line x1="91.7" y1="129.8" x2="90.8" y2="137.3"/>
<line x1="91.7" y1="129.8" x2="69.4" y2="160.2"/>
<line x1="91.7" y1="129.8" x2="103.0" y2="135.0"/>
<line x1="91.7" y1="129.8" x2="84.4" y2="128.4"/>
<line x1="91.7" y1="129.8" x2="112.8" y2="150.9"/>
<line x1="127.1" y1="162.3" x2="126.9" y2="154.2"/>
<line x1="127.1" y1="162.3" x2="103.0" y2="135.0"/>
<line x1="127.1" y1="162.3" x2="120.7" y2="162.6"/>
<line x1="127.1" y1="162.3" x2="139.5" y2="163.6"/>
<line x1="90.8" y1="137.3" x2="76.1" y2="150.2"/>
<line x1="90.8" y1="137.3" x2="106.8" y2="103.0"/>
<line x1="5.6" y1="170.9" x2="41.2" y2="158.9"/>
<line x1="76.1" y1="150.2" x2="78.4" y2="180.1"/>
<line x1="76.1" y1="150.2" x2="112.8" y2="150.9"/>
<line x1="110.7" y1="109.7" x2="103.0" y2="135.0"/>
<line x1="136.2" y1="61.8" x2="159.5" y2="87.1"/>
<line x1="136.2" y1="61.8" x2="166.3" y2="75.1"/>
<line x1="66.4" y1="185.4" x2="69.4" y2="160.2"/>
<line x1="126.9" y1="154.2" x2="148.0" y2="183.5"/>
<line x1="126.9" y1="154.2" x2="116.3" y2="182.6"/>
<line x1="126.9" y1="154.2" x2="148.5" y2="141.3"/>
<line x1="126.9" y1="154.2" x2="120.7" y2="162.6"/>
<line x1="83.8" y1="175.1" x2="116.3" y2="182.6"/>
<line x1="83.8" y1="175.1" x2="78.4" y2="180.1"/>
<line x1="199.8" y1="143.2" x2="211.2" y2="161.1"/>
<line x1="69.4" y1="160.2" x2="84.4" y2="128.4"/>
<line x1="159.5" y1="87.1" x2="149.1" y2="90.4"/>
<line x1="148.0" y1="183.5" x2="151.3" y2="194.9"/>
<line x1="148.0" y1="183.5" x2="134.3" y2="184.7"/>
<line x1="116.3" y1="182.6" x2="105.4" y2="186.3"/>
<line x1="116.3" y1="182.6" x2="112.8" y2="150.9"/>
<line x1="116.3" y1="182.6" x2="139.5" y2="163.6"/>
<line x1="32.8" y1="105.0" x2="39.2" y2="101.3"/>
<line x1="103.0" y1="135.0" x2="78.5" y2="119.9"/>
<line x1="103.0" y1="135.0" x2="118.8" y2="104.5"/>
<line x1="40.7" y1="190.4" x2="44.2" y2="176.9"/>
<line x1="148.5" y1="141.3" x2="120.7" y2="162.6"/>
<line x1="148.5" y1="141.3" x2="112.8" y2="150.9"/>
<line x1="120.7" y1="162.6" x2="134.3" y2="184.7"/>
<line x1="78.4" y1="180.1" x2="44.2" y2="176.9"/>
<line x1="151.3" y1="194.9" x2="139.5" y2="163.6"/>
<line x1="84.4" y1="128.4" x2="78.5" y2="119.9"/>
<line x1="84.4" y1="128.4" x2="49.7" y2="129.3"/>
<line x1="105.4" y1="186.3" x2="90.4" y2="204.1"/>
<line x1="189.7" y1="119.2" x2="181.0" y2="104.6"/>
<line x1="189.7" y1="119.2" x2="184.0" y2="125.6"/>
<line x1="39.2" y1="101.3" x2="49.7" y2="129.3"/>
<line x1="211.2" y1="161.1" x2="204.5" y2="158.2"/>
<line x1="38.6" y1="146.8" x2="44.2" y2="176.9"/>
</g>
<g stroke="#8a8a8a" stroke-width="0.6">
<circle cx="75.7" cy="30.9" r="2.4" fill="#f6f7f4"/>
<circle cx="84.1" cy="35.5" r="2.4" fill="#f3f6f6"/>
<circle cx="92.0" cy="26.3" r="2.4" fill="#f3f6f6"/>
<circle cx="102.9" cy="24.6" r="2.4" fill="#f6f7f4"/>
<circle cx="107.7" cy="30.9" r="2.4" fill="#f2f2f6"/>
<circle cx="82.2" cy="48.3" r="2.4" fill="#f3f6f6"/>
<circle cx="90.0" cy="49.7" r="2.4" fill="#f5f5f5"/>
<circle cx="63.8" cy="50.8" r="2.4" fill="#f3f6f6"/>
<circle cx="30.3" cy="55.0" r="2.4" fill="#f4f6f2"/>
<circle cx="38.7" cy="64.8" r="2.4" fill="#f3f6f6"/>
<circle cx="62.3" cy="66.9" r="2.4" fill="#f4f6f2"/>
<circle cx="16.3" cy="76.9" r="2.4" fill="#f5f5f5"/>
<circle cx="23.4" cy="86.4" r="2.4" fill="#f2f2f6"/>
<circle cx="31.4" cy="88.5" r="2.4" fill="#f3f6f6"/>
<circle cx="12.1" cy="96.2" r="2.4" fill="#f6f7f4"/>
<circle cx="15.1" cy="106.7" r="2.4" fill="#f6f7f4"/>
<circle cx="26.2" cy="103.7" r="2.4" fill="#f5f5f5"/>
<circle cx="47.1" cy="82.2" r="2.4" fill="#f3f6f6"/>
<circle cx="75.3" cy="60.2" r="2.4" fill="#f3f6f6"/>
<circle cx="39.7" cy="89.5" r="2.4" fill="#f5f5f5"/>
<circle cx="113.1" cy="30.9" r="2.4" fill="#f5f5f5"/>
<circle cx="112.1" cy="41.4" r="2.4" fill="#f6f7f4"/>
<circle cx="123.6" cy="49.7" r="2.4" fill="#f6f7f4"/>
<circle cx="142.4" cy="43.5" r="2.4" fill="#f6f7f4"/>
<circle cx="150.8" cy="47.7" r="2.4" fill="#f3f6f6"/>
<circle cx="160.2" cy="40.3" r="2.4" fill="#f5f5f5"/>
<circle cx="163.3" cy="64.8" r="2.4" fill="#f4f6f2"/>
<circle cx="181.1" cy="66.9" r="2.4" fill="#f4f6f2"/>
<circle cx="158.1" cy="72.3" r="2.4" fill="#f6f7f4"/>
<circle cx="195.8" cy="84.3" r="2.4" fill="#f3f6f6"/>
<circle cx="203.1" cy="89.5" r="2.4" fill="#f4f6f2"/>
<circle cx="200.0" cy="98.9" r="2.4" fill="#f2f2f6"/>
<circle cx="200.0" cy="107.3" r="2.4" fill="#f4f6f2"/>
<circle cx="183.2" cy="86.4" r="2.4" fill="#f2f2f6"/>
<circle cx="15.7" cy="119.4" r="2.4" fill="#f5f5f5"/>
<circle cx="20.9" cy="124.6" r="2.4" fill="#f3f6f6"/>
<circle cx="23.0" cy="129.9" r="2.4" fill="#f5f5f5"/>
<circle cx="8.4" cy="192.6" r="2.4" fill="#f5f5f5"/>
<circle cx="12.6" cy="195.8" r="2.4" fill="#f5f5f5"/>
<circle cx="47.0" cy="214.6" r="2.4" fill="#f3f6f6"/>
<circle cx="54.4" cy="201.0" r="2.4" fill="#f5f5f5"/>
<circle cx="85.8" cy="210.4" r="2.4" fill="#f6f7f4"/>
<circle cx="95.2" cy="208.0" r="2.4" fill="#f2f2f6"/>
<circle cx="200.0" cy="116.3" r="2.4" fill="#f4f6f2"/>
<circle cx="203.1" cy="129.9" r="2.4" fill="#f4f6f2"/>
<circle cx="208.3" cy="141.4" r="2.4" fill="#f6f7f4"/>
<circle cx="195.4" cy="165.4" r="2.4" fill="#f5f5f5"/>
<circle cx="187.4" cy="160.2" r="2.4" fill="#f6f7f4"/>
<circle cx="179.7" cy="179.0" r="2.4" fill="#f2f2f6"/>
<circle cx="175.9" cy="189.1" r="2.4" fill="#f5f5f5"/>
<circle cx="157.7" cy="195.8" r="2.4" fill="#f2f2f6"/>
<circle cx="150.8" cy="207.9" r="2.4" fill="#f5f5f5"/>
<circle cx="135.1" cy="218.4" r="2.4" fill="#f3f6f6"/>
<circle cx="119.4" cy="210.4" r="2.4" fill="#f5f5f5"/>
<circle cx="129.9" cy="205.2" r="2.4" fill="#f3f6f6"/>
<circle cx="101.8" cy="119.6" r="2.4" fill="#f2f2f6"/>
<circle cx="141.3" cy="142.0" r="2.4" fill="#f3f6f6"/>
<circle cx="7.2" cy="123.9" r="2.4" fill="#f3f6f6"/>
<circle cx="143.1" cy="109.1" r="2.4" fill="#f5f5f5"/>
<circle cx="152.6" cy="79.6" r="2.4" fill="#f3f6f6"/>
<circle cx="136.2" cy="175.9" r="2.4" fill="#f6f7f4"/>
<circle cx="44.0" cy="166.2" r="2.4" fill="#f2f2f6"/>
<circle cx="73.1" cy="75.6" r="2.4" fill="#f4f6f2"/>
<circle cx="130.3" cy="91.3" r="2.4" fill="#f2f2f6"/>
<circle cx="130.7" cy="101.7" r="2.4" fill="#f3f6f6"/>
<circle cx="129.3" cy="75.0" r="2.4" fill="#f6f7f4"/>
<circle cx="149.2" cy="135.6" r="2.4" fill="#f2f2f6"/>
<circle cx="151.2" cy="214.3" r="2.4" fill="#f3f6f6"/>
<circle cx="135.2" cy="93.5" r="2.4" fill="#f3f6f6"/>
<circle cx="96.5" cy="188.4" r="2.4" fill="#f3f6f6"/>
<circle cx="126.5" cy="79.8" r="2.4" fill="#f4f6f2"/>
<circle cx="39.5" cy="107.7" r="2.4" fill="#f6f7f4"/>
<circle cx="136.1" cy="106.9" r="2.4" fill="#f3f6f6"/>
<circle cx="10.0" cy="182.3" r="2.4" fill="#f2f2f6"/>
<circle cx="109.7" cy="139.9" r="2.4" fill="#f2f2f6"/>
<circle cx="172.2" cy="131.1" r="2.4" fill="#f4f6f2"/>
<circle cx="60.5" cy="112.4" r="2.4" fill="#f4f6f2"/>
<circle cx="104.1" cy="80.0" r="2.4" fill="#f5f5f5"/>
<circle cx="51.7" cy="156.9" r="2.4" fill="#f5f5f5"/>
<circle cx="78.6" cy="142.9" r="2.4" fill="#f4f6f2"/>
<circle cx="95.7" cy="92.2" r="2.4" fill="#f2f2f6"/>
<circle cx="115.2" cy="47.2" r="2.4" fill="#f4f6f2"/>
<circle cx="148.0" cy="53.3" r="2.4" fill="#f5f5f5"/>
<circle cx="112.1" cy="132.3" r="2.4" fill="#f6f7f4"/>
<circle cx="164.6" cy="82.0" r="2.4" fill="#f4f6f2"/>
<circle cx="112.2" cy="103.5" r="2.4" fill="#f2f2f6"/>
<circle cx="57.9" cy="97.5" r="2.4" fill="#f5f5f5"/>
<circle cx="92.3" cy="123.6" r="2.4" fill="#f5f5f5"/>
<circle cx="99.7" cy="56.4" r="2.4" fill="#f4f6f2"/>
<circle cx="93.3" cy="143.7" r="2.4" fill="#f4f6f2"/>
<circle cx="82.4" cy="113.5" r="2.4" fill="#f3f6f6"/>
<circle cx="24.4" cy="196.0" r="2.4" fill="#f3f6f6"/>
<circle cx="149.7" cy="72.8" r="2.4" fill="#f4f6f2"/>
<circle cx="79.1" cy="165.0" r="2.4" fill="#f5f5f5"/>
<circle cx="96.0" cy="181.0" r="2.4" fill="#f3f6f6"/>
<circle cx="80.8" cy="89.6" r="2.4" fill="#f2f2f6"/>
<circle cx="189.0" cy="72.5" r="2.4" fill="#f3f6f6"/>
<circle cx="113.5" cy="173.1" r="2.4" fill="#f2f2f6"/>
<circle cx="46.9" cy="102.4" r="2.4" fill="#f3f6f6"/>
<circle cx="105.3" cy="60.0" r="2.4" fill="#f6f7f4"/>
<circle cx="114.8" cy="121.3" r="2.4" fill="#f4f6f2"/>
<circle cx="79.5" cy="156.9" r="2.4" fill="#f2f2f6"/>
<circle cx="178.2" cy="150.0" r="2.4" fill="#f4f6f2"/>
<circle cx="122.5" cy="109.3" r="2.4" fill="#f4f6f2"/>
<circle cx="117.4" cy="76.0" r="2.4" fill="#f4f6f2"/>
<circle cx="86.4" cy="152.7" r="2.4" fill="#f3f6f6"/>
<circle cx="73.6" cy="186.0" r="2.4" fill="#f3f6f6"/>
<circle cx="179.8" cy="137.3" r="2.4" fill="#f4f6f2"/>
<circle cx="73.6" cy="99.7" r="2.4" fill="#f6f7f4"/>
<circle cx="135.7" cy="55.2" r="2.4" fill="#f5f5f5"/>
<circle cx="121.8" cy="130.6" r="2.4" fill="#f2f2f6"/>
<circle cx="124.5" cy="186.8" r="2.4" fill="#f3f6f6"/>
<circle cx="142.3" cy="78.0" r="2.4" fill="#f2f2f6"/>
<circle cx="158.9" cy="93.4" r="2.4" fill="#f6f7f4"/>
<circle cx="59.4" cy="132.2" r="2.4" fill="#f4f6f2"/>
<circle cx="102.7" cy="99.6" r="2.4" fill="#f2f2f6"/>
<circle cx="109.6" cy="96.5" r="2.4" fill="#f2f2f6"/>
<circle cx="149.9" cy="123.5" r="2.4" fill="#f2f2f6"/>
<circle cx="68.3" cy="96.3" r="2.4" fill="#f6f7f4"/>
<circle cx="123.0" cy="201.9" r="2.4" fill="#f5f5f5"/>
<circle cx="66.8" cy="81.6" r="2.4" fill="#f5f5f5"/>
<circle cx="78.9" cy="135.8" r="2.4" fill="#f5f5f5"/>
<circle cx="46.4" cy="145.5" r="2.4" fill="#f3f6f6"/>
<circle cx="127.9" cy="61.6" r="2.4" fill="#f5f5f5"/>
<circle cx="56.7" cy="181.1" r="2.4" fill="#f3f6f6"/>
<circle cx="63.9" cy="171.2" r="2.4" fill="#f3f6f6"/>
<circle cx="62.6" cy="128.0" r="2.4" fill="#f4f6f2"/>
<circle cx="100.9" cy="170.1" r="2.4" fill="#f3f6f6"/>
<circle cx="120.8" cy="148.2" r="2.4" fill="#f3f6f6"/>
<circle cx="134.5" cy="123.3" r="2.4" fill="#f2f2f6"/>
<circle cx="49.0" cy="111.3" r="2.4" fill="#f5f5f5"/>
<circle cx="165.8" cy="122.0" r="2.4" fill="#f6f7f4"/>
<circle cx="86.7" cy="63.6" r="2.4" fill="#f2f2f6"/>
<circle cx="35.7" cy="137.8" r="2.4" fill="#f5f5f5"/>
<circle cx="32.6" cy="161.0" r="2.4" fill="#f2f2f6"/>
<circle cx="156.4" cy="152.6" r="2.4" fill="#f3f6f6"/>
<circle cx="53.3" cy="145.6" r="2.4" fill="#f2f2f6"/>
<circle cx="84.5" cy="82.3" r="2.4" fill="#f3f6f6"/>
<circle cx="72.4" cy="66.7" r="2.4" fill="#f2f2f6"/>
<circle cx="59.0" cy="153.0" r="2.4" fill="#f4f6f2"/>
<circle cx="90.3" cy="100.4" r="2.4" fill="#f5f5f5"/>
<circle cx="110.5" cy="78.2" r="2.4" fill="#f3f6f6"/>
<circle cx="134.5" cy="116.1" r="2.4" fill="#f2f2f6"/>
<circle cx="116.1" cy="63.3" r="2.4" fill="#f4f6f2"/>
<circle cx="25.5" cy="160.6" r="2.4" fill="#f5f5f5"/>
<circle cx="56.9" cy="162.9" r="2.4" fill="#f3f6f6"/>
<circle cx="144.6" cy="62.1" r="2.4" fill="#f3f6f6"/>
<circle cx="29.2" cy="82.7" r="2.4" fill="#f6f7f4"/>
<circle cx="117.9" cy="114.5" r="2.4" fill="#f4f6f2"/>
<circle cx="80.8" cy="68.0" r="2.4" fill="#f2f2f6"/>
<circle cx="88.5" cy="160.7" r="2.4" fill="#f5f5f5"/>
<circle cx="51.7" cy="94.8" r="2.4" fill="#f2f2f6"/>
<circle cx="138.0" cy="87.6" r="2.4" fill="#f2f2f6"/>
<circle cx="77.6" cy="103.6" r="2.4" fill="#f3f6f6"/>
<circle cx="143.7" cy="101.2" r="2.4" fill="#f2f2f6"/>
<circle cx="116.6" cy="194.0" r="2.4" fill="#f5f5f5"/>
<circle cx="62.7" cy="147.9" r="2.4" fill="#f4f6f2"/>
<circle cx="160.1" cy="139.1" r="2.4" fill="#f3f6f6"/>
<circle cx="149.9" cy="153.8" r="2.4" fill="#f4f6f2"/>
<circle cx="86.9" cy="168.3" r="2.4" fill="#f4f6f2"/>
<circle cx="157.5" cy="175.4" r="2.4" fill="#f2f2f6"/>
<circle cx="77.7" cy="125.5" r="2.4" fill="#f2f2f6"/>
<circle cx="98.9" cy="130.1" r="2.4" fill="#f5f5f5"/>
<circle cx="206.4" cy="100.0" r="2.4" fill="#f2f2f6"/>
<circle cx="14.4" cy="187.8" r="2.4" fill="#f3f6f6"/>
<circle cx="114.9" cy="127.9" r="2.4" fill="#f3f6f6"/>
<circle cx="70.0" cy="114.7" r="2.4" fill="#f2f2f6"/>
<circle cx="161.4" cy="115.4" r="2.4" fill="#f6f7f4"/>
<circle cx="131.9" cy="136.6" r="2.4" fill="#f2f2f6"/>
<circle cx="184.6" cy="97.7" r="2.4" fill="#f6f7f4"/>
<circle cx="178.6" cy="82.3" r="2.4" fill="#f2f2f6"/>
<circle cx="15.9" cy="172.8" r="2.4" fill="#f2f2f6"/>
<circle cx="83.3" cy="107.1" r="2.4" fill="#f3f6f6"/>
<circle cx="143.9" cy="128.0" r="2.4" fill="#f2f2f6"/>
<circle cx="26.1" cy="168.4" r="2.4" fill="#f2f2f6"/>
<circle cx="157.4" cy="133.6" r="2.4" fill="#f5f5f5"/>
<circle cx="154.5" cy="104.0" r="2.4" fill="#f4f6f2"/>
<circle cx="105.8" cy="70.7" r="2.4" fill="#f4f6f2"/>
<circle cx="122.9" cy="86.5" r="2.4" fill="#f3f6f6"/>
<circle cx="16.9" cy="152.6" r="2.4" fill="#f6f7f4"/>
<circle cx="42.8" cy="123.6" r="2.4" fill="#f2f2f6"/>
<circle cx="91.6" cy="115.1" r="2.4" fill="#f3f6f6"/>
<circle cx="74.5" cy="86.1" r="2.4" fill="#f6f7f4"/>
<circle cx="114.5" cy="83.8" r="2.4" fill="#f2f2f6"/>
<circle cx="104.6" cy="177.0" r="2.4" fill="#f6f7f4"/>
<circle cx="170.0" cy="126.3" r="2.4" fill="#f2f2f6"/>
<circle cx="61.3" cy="209.3" r="2.4" fill="#f6f7f4"/>
<circle cx="181.7" cy="110.7" r="2.4" fill="#f5f5f5"/>
<circle cx="164.2" cy="97.3" r="2.4" fill="#f4f6f2"/>
<circle cx="135.0" cy="80.0" r="2.4" fill="#f4f6f2"/>
<circle cx="106.9" cy="114.3" r="2.4" fill="#f3f6f6"/>
<circle cx="180.6" cy="118.6" r="2.4" fill="#f2f2f6"/>
<circle cx="175.1" cy="77.1" r="2.4" fill="#f2f2f6"/>
<circle cx="103.5" cy="213.5" r="2.4" fill="#f6f7f4"/>
<circle cx="124.4" cy="168.8" r="2.4" fill="#f5f5f5"/>
<circle cx="13.7" cy="161.8" r="2.4" fill="#f6f7f4"/>
<circle cx="144.9" cy="168.1" r="2.4" fill="#f4f6f2"/>
<circle cx="58.5" cy="141.6" r="2.4" fill="#f2f2f6"/>
<circle cx="173.3" cy="101.4" r="2.4" fill="#f6f7f4"/>
<circle cx="131.2" cy="109.8" r="2.4" fill="#f3f6f6"/>
<circle cx="78.1" cy="171.9" r="2.4" fill="#f5f5f5"/>
<circle cx="178.0" cy="93.1" r="2.4" fill="#f2f2f6"/>
<circle cx="74.8" cy="196.7" r="2.4" fill="#f6f7f4"/>
<circle cx="90.8" cy="95.1" r="2.4" fill="#f4f6f2"/>
<circle cx="171.2" cy="143.0" r="2.4" fill="#f4f6f2"/>
<circle cx="25.3" cy="146.5" r="2.4" fill="#f3f6f6"/>
<circle cx="84.4" cy="185.3" r="2.4" fill="#f6f7f4"/>
<circle cx="196.7" cy="154.3" r="2.4" fill="#f2f2f6"/>
<circle cx="154.7" cy="116.6" r="2.4" fill="#f3f6f6"/>
<circle cx="163.8" cy="164.3" r="2.4" fill="#f6f7f4"/>
<circle cx="116.5" cy="92.1" r="2.4" fill="#f2f2f6"/>
<circle cx="123.3" cy="119.7" r="2.4" fill="#f2f2f6"/>
<circle cx="190.4" cy="136.2" r="2.4" fill="#f4f6f2"/>
<circle cx="31.6" cy="176.4" r="2.4" fill="#f3f6f6"/>
<circle cx="136.0" cy="72.2" r="2.4" fill="#f2f2f6"/>
<circle cx="212.2" cy="146.6" r="2.4" fill="#f3f6f6"/>
<circle cx="92.4" cy="80.1" r="2.4" fill="#f6f7f4"/>
<circle cx="69.7" cy="168.3" r="2.4" fill="#f5f5f5"/>
<circle cx="130.3" cy="120.0" r="2.4" fill="#f2f2f6"/>
<circle cx="64.9" cy="108.8" r="2.4" fill="#f3f6f6"/>
<circle cx="79.0" cy="221.9" r="2.4" fill="#f2f2f6"/>
<circle cx="191.0" cy="169.8" r="2.4" fill="#f5f5f5"/>
<circle cx="82.6" cy="99.4" r="2.4" fill="#f2f2f6"/>
<circle cx="56.8" cy="79.6" r="2.4" fill="#f5f5f5"/>
<circle cx="138.0" cy="199.5" r="2.4" fill="#f2f2f6"/>
<circle cx="57.5" cy="171.9" r="2.4" fill="#f5f5f5"/>
<circle cx="99.2" cy="138.5" r="2.4" fill="#f3f6f6"/>
<circle cx="69.0" cy="105.3" r="2.4" fill="#f5f5f5"/>
<circle cx="195.1" cy="112.5" r="2.4" fill="#f4f6f2"/>
<circle cx="99.9" cy="111.3" r="2.4" fill="#f5f5f5"/>
<circle cx="72.5" cy="131.9" r="2.4" fill="#f6f7f4"/>
<circle cx="70.5" cy="90.7" r="2.4" fill="#f6f7f4"/>
<circle cx="122.7" cy="74.5" r="2.4" fill="#f4f6f2"/>
<circle cx="145.6" cy="83.8" r="2.4" fill="#f5f5f5"/>
<circle cx="10.2" cy="114.0" r="2.4" fill="#f3f6f6"/>
<circle cx="106.7" cy="167.0" r="2.4" fill="#f3f6f6"/>
<circle cx="72.1" cy="147.0" r="2.4" fill="#f5f5f5"/>
<circle cx="114.0" cy="69.3" r="2.4" fill="#f3f6f6"/>
<circle cx="166.0" cy="90.3" r="2.4" fill="#f6f7f4"/>
<circle cx="177.7" cy="124.8" r="2.4" fill="#f4f6f2"/>
<circle cx="133.4" cy="150.9" r="2.4" fill="#f5f5f5"/>
<circle cx="149.7" cy="100.7" r="2.4" fill="#f3f6f6"/>
<circle cx="123.7" cy="98.9" r="2.4" fill="#f2f2f6"/>
<circle cx="128.1" cy="68.0" r="2.4" fill="#f3f6f6"/>
<circle cx="155.3" cy="60.8" r="2.4" fill="#f2f2f6"/>
<circle cx="65.6" cy="133.5" r="2.4" fill="#f6f7f4"/>
<circle cx="130.0" cy="143.9" r="2.4" fill="#f4f6f2"/>
<circle cx="98.2" cy="146.6" r="2.4" fill="#f3f6f6"/>
<circle cx="52.7" cy="105.0" r="2.4" fill="#f2f2f6"/>
<circle cx="95.7" cy="156.2" r="2.4" fill="#f4f6f2"/>
<circle cx="96.1" cy="97.4" r="2.4" fill="#f6f7f4"/>
<circle cx="30.9" cy="119.6" r="2.4" fill="#f4f6f2"/>
<circle cx="91.7" cy="129.8" r="2.4" fill="#f4f6f2"/>
<circle cx="127.1" cy="162.3" r="2.4" fill="#f3f6f6"/>
<circle cx="90.8" cy="137.3" r="2.4" fill="#f6f7f4"/>
<circle cx="5.6" cy="170.9" r="2.4" fill="#f5f5f5"/>
<circle cx="76.1" cy="150.2" r="2.4" fill="#f3f6f6"/>
<circle cx="106.8" cy="103.0" r="2.4" fill="#f4f6f2"/>
<circle cx="110.7" cy="109.7" r="2.4" fill="#f4f6f2"/>
<circle cx="136.2" cy="61.8" r="2.4" fill="#f5f5f5"/>
<circle cx="66.4" cy="185.4" r="2.4" fill="#f4f6f2"/>
<circle cx="7.1" cy="107.8" r="2.4" fill="#f6f7f4"/>
<circle cx="126.9" cy="154.2" r="2.4" fill="#f3f6f6"/>
<circle cx="83.8" cy="175.1" r="2.4" fill="#f2f2f6"/>
<circle cx="199.8" cy="143.2" r="2.4" fill="#f6f7f4"/>
<circle cx="69.4" cy="160.2" r="2.4" fill="#f4f6f2"/>
<circle cx="159.5" cy="87.1" r="2.4" fill="#f3f6f6"/>
<circle cx="148.0" cy="183.5" r="2.4" fill="#f3f6f6"/>
<circle cx="116.3" cy="182.6" r="2.4" fill="#f5f5f5"/>
<circle cx="74.0" cy="49.4" r="2.4" fill="#f4f6f2"/>
<circle cx="32.8" cy="105.0" r="2.4" fill="#f3f6f6"/>
<circle cx="103.0" cy="135.0" r="2.4" fill="#f4f6f2"/>
<circle cx="99.4" cy="66.6" r="2.4" fill="#f2f2f6"/>
<circle cx="40.7" cy="190.4" r="2.4" fill="#f6f7f4"/>
<circle cx="166.3" cy="75.1" r="2.4" fill="#f2f2f6"/>
<circle cx="148.5" cy="141.3" r="2.4" fill="#f3f6f6"/>
<circle cx="120.7" cy="162.6" r="2.4" fill="#f5f5f5"/>
<circle cx="78.4" cy="180.1" r="2.4" fill="#f4f6f2"/>
<circle cx="151.3" cy="194.9" r="2.4" fill="#f2f2f6"/>
<circle cx="118.1" cy="137.0" r="2.4" fill="#f6f7f4"/>
<circle cx="84.4" cy="128.4" r="2.4" fill="#f6f7f4"/>
<circle cx="163.4" cy="150.8" r="2.4" fill="#f4f6f2"/>
<circle cx="105.4" cy="186.3" r="2.4" fill="#f3f6f6"/>
<circle cx="112.8" cy="150.9" r="2.4" fill="#f4f6f2"/>
<circle cx="90.4" cy="204.1" r="2.4" fill="#f6f7f4"/>
<circle cx="114.4" cy="98.1" r="2.4" fill="#f6f7f4"/>
<circle cx="149.1" cy="90.4" r="2.4" fill="#f2f2f6"/>
<circle cx="189.7" cy="119.2" r="2.4" fill="#f6f7f4"/>
<circle cx="181.0" cy="104.6" r="2.4" fill="#f4f6f2"/>
<circle cx="184.0" cy="125.6" r="2.4" fill="#f5f5f5"/>
<circle cx="139.5" cy="163.6" r="2.4" fill="#f3f6f6"/>
<circle cx="39.2" cy="101.3" r="2.4" fill="#f5f5f5"/>
<circle cx="211.2" cy="161.1" r="2.4" fill="#f4f6f2"/>
<circle cx="38.6" cy="146.8" r="2.4" fill="#f2f2f6"/>
<circle cx="44.2" cy="176.9" r="2.4" fill="#f6f7f4"/>
<circle cx="41.2" cy="158.9" r="2.4" fill="#f2f2f6"/>
<circle cx="78.5" cy="119.9" r="2.4" fill="#f3f6f6"/>
<circle cx="134.3" cy="184.7" r="2.4" fill="#f3f6f6"/>
<circle cx="184.9" cy="77.2" r="2.4" fill="#f3f6f6"/>
<circle cx="118.8" cy="104.5" r="2.4" fill="#f5f5f5"/>
<circle cx="204.5" cy="158.2" r="2.4" fill="#f4f6f2"/>
<circle cx="9.3" cy="153.1" r="2.4" fill="#f5f5f5"/>
<circle cx="49.7" cy="129.3" r="2.4" fill="#f2f2f6"/>
<circle cx="149.8" cy="129.8" r="2.4" fill="#f4f6f2"/>
<circle cx="119.8" cy="58.5" r="2.4" fill="#f4f6f2"/>
</g>
<g>
<ellipse cx="75.9" cy="30.9" rx="1.4" ry="1.2" fill="#a8d4c0"/>
<ellipse cx="83.8" cy="36.0" rx="1.4" ry="1.2" fill="#b4d8b0"/>
<ellipse cx="92.0" cy="26.5" rx="1.4" ry="1.2" fill="#c8dcb0"/>
<ellipse cx="102.8" cy="24.8" rx="1.4" ry="1.2" fill="#b8d8c8"/>
<ellipse cx="107.8" cy="31.1" rx="1.4" ry="1.2" fill="#c4c0e0"/>
<ellipse cx="82.5" cy="48.5" rx="1.4" ry="1.2" fill="#c8dcb0"/>
<ellipse cx="90.0" cy="50.1" rx="1.4" ry="1.2" fill="#b8d8c8"/>
<ellipse cx="64.0" cy="51.1" rx="1.4" ry="1.2" fill="#a8d4c0"/>
<ellipse cx="30.2" cy="55.3" rx="1.4" ry="1.2" fill="#d8d0e8"/>
<ellipse cx="38.6" cy="65.2" rx="1.4" ry="1.2" fill="#b8d8c8"/>
<ellipse cx="62.0" cy="67.2" rx="1.4" ry="1.2" fill="#d0dcb8"/>
<ellipse cx="16.3" cy="77.2" rx="1.4" ry="1.2" fill="#e0e0e0"/>
<ellipse cx="23.1" cy="86.5" rx="1.4" ry="1.2" fill="#a8c8d8"/>
<ellipse cx="31.5" cy="88.5" rx="1.4" ry="1.2" fill="#b8d8c8"/>
<ellipse cx="11.9" cy="96.3" rx="1.4" ry="1.2" fill="#a8d4c0"/>
<ellipse cx="15.4" cy="106.9" rx="1.4" ry="1.2" fill="#d8d0e8"/>
<ellipse cx="26.4" cy="103.8" rx="1.4" ry="1.2" fill="#e0e0e0"/>
<ellipse cx="47.2" cy="82.7" rx="1.4" ry="1.2" fill="#d8d0e8"/>
<ellipse cx="75.5" cy="60.5" rx="1.4" ry="1.2" fill="#d0dcb8"/>
<ellipse cx="39.7" cy="89.6" rx="1.4" ry="1.2" fill="#a8d4c0"/>
<ellipse cx="113.1" cy="31.0" rx="1.4" ry="1.2" fill="#b8d8c8"/>
<ellipse cx="111.8" cy="41.4" rx="1.4" ry="1.2" fill="#b4d8b0"/>
<ellipse cx="123.7" cy="49.9" rx="1.4" ry="1.2" fill="#a8d4c0"/>
<ellipse cx="142.3" cy="43.9" rx="1.4" ry="1.2" fill="#a8d4c0"/>
<ellipse cx="151.0" cy="48.0" rx="1.4" ry="1.2" fill="#a8c8d8"/>
<ellipse cx="160.2" cy="40.7" rx="1.4" ry="1.2" fill="#a8d4c0"/>
<ellipse cx="163.6" cy="65.1" rx="1.4" ry="1.2" fill="#d8d0e8"/>
<ellipse cx="181.2" cy="67.0" rx="1.4" ry="1.2" fill="#b4d8b0"/>
<ellipse cx="158.4" cy="72.3" rx="1.4" ry="1.2" fill="#d0dcb8"/>
<ellipse cx="196.0" cy="84.4" rx="1.4" ry="1.2" fill="#b4d8b0"/>
<ellipse cx="202.9" cy="89.6" rx="1.4" ry="1.2" fill="#c4c0e0"/>
<ellipse cx="200.0" cy="99.3" rx="1.4" ry="1.2" fill="#b8d8c8"/>
<ellipse cx="199.9" cy="107.6" rx="1.4" ry="1.2" fill="#d0dcb8"/>
<ellipse cx="183.2" cy="86.9" rx="1.4" ry="1.2" fill="#b8d8c8"/>
<ellipse cx="15.7" cy="119.9" rx="1.4" ry="1.2" fill="#b8d8c8"/>
<ellipse cx="21.1" cy="125.1" rx="1.4" ry="1.2" fill="#b8d8c8"/>
<ellipse cx="23.1" cy="130.3" rx="1.4" ry="1.2" fill="#d8d0e8"/>
<ellipse cx="8.5" cy="192.7" rx="1.4" ry="1.2" fill="#b8d8c8"/>
<ellipse cx="12.8" cy="195.9" rx="1.4" ry="1.2" fill="#b4d8b0"/>
<ellipse cx="47.0" cy="214.8" rx="1.4" ry="1.2" fill="#d8d0e8"/>
<ellipse cx="54.7" cy="201.3" rx="1.4" ry="1.2" fill="#c8dcb0"/>
<ellipse cx="85.6" cy="210.8" rx="1.4" ry="1.2" fill="#c8dcb0"/>
<ellipse cx="95.3" cy="208.2" rx="1.4" ry="1.2" fill="#c4c0e0"/>
<ellipse cx="200.2" cy="116.6" rx="1.4" ry="1.2" fill="#a8c8d8"/>
<ellipse cx="203.2" cy="130.3" rx="1.4" ry="1.2" fill="#a8c8d8"/>
<ellipse cx="208.5" cy="141.6" rx="1.4" ry="1.2" fill="#a8c8d8"/>
<ellipse cx="195.4" cy="165.6" rx="1.4" ry="1.2" fill="#c8dcb0"/>
<ellipse cx="187.4" cy="160.3" rx="1.4" ry="1.2" fill="#e0e0e0"/>
<ellipse cx="179.9" cy="179.1" rx="1.4" ry="1.2" fill="#e0e0e0"/>
<ellipse cx="176.0" cy="189.2" rx="1.4" ry="1.2" fill="#d8d0e8"/>
<ellipse cx="157.4" cy="196.3" rx="1.4" ry="1.2" fill="#b4d8b0"/>
<ellipse cx="151.0" cy="208.1" rx="1.4" ry="1.2" fill="#a8d4c0"/>
<ellipse cx="135.1" cy="218.5" rx="1.4" ry="1.2" fill="#c4c0e0"/>
<ellipse cx="119.5" cy="210.8" rx="1.4" ry="1.2" fill="#b4d8b0"/>
<ellipse cx="130.2" cy="205.6" rx="1.4" ry="1.2" fill="#c4c0e0"/>
<ellipse cx="102.0" cy="120.0" rx="1.4" ry="1.2" fill="#c8dcb0"/>
<ellipse cx="141.1" cy="142.4" rx="1.4" ry="1.2" fill="#a8d4c0"/>
<ellipse cx="7.4" cy="124.0" rx="1.4" ry="1.2" fill="#a8d4c0"/>
<ellipse cx="143.0" cy="109.3" rx="1.4" ry="1.2" fill="#b4d8b0"/>
<ellipse cx="152.4" cy="79.7" rx="1.4" ry="1.2" fill="#a8c8d8"/>
<ellipse cx="135.9" cy="176.2" rx="1.4" ry="1.2" fill="#d0dcb8"/>
<ellipse cx="43.7" cy="166.4" rx="1.4" ry="1.2" fill="#b8d8c8"/>
<ellipse cx="73.0" cy="75.7" rx="1.4" ry="1.2" fill="#e0e0e0"/>
<ellipse cx="130.2" cy="91.6" rx="1.4" ry="1.2" fill="#b4d8b0"/>
<ellipse cx="131.0" cy="101.7" rx="1.4" ry="1.2" fill="#b8d8c8"/>
<ellipse cx="129.0" cy="75.5" rx="1.4" ry="1.2" fill="#a8c8d8"/>
<ellipse cx="148.9" cy="136.0" rx="1.4" ry="1.2" fill="#d0dcb8"/>
<ellipse cx="151.3" cy="214.4" rx="1.4" ry="1.2" fill="#e0e0e0"/>
<ellipse cx="135.1" cy="93.9" rx="1.4" ry="1.2" fill="#a8c8d8"/>
<ellipse cx="96.3" cy="188.9" rx="1.4" ry="1.2" fill="#d0dcb8"/>
<ellipse cx="126.6" cy="80.1" rx="1.4" ry="1.2" fill="#b4d8b0"/>
<ellipse cx="39.6" cy="108.0" rx="1.4" ry="1.2" fill="#a8d4c0"/>
<ellipse cx="136.3" cy="107.2" rx="1.4" ry="1.2" fill="#c8dcb0"/>
<ellipse cx="10.1" cy="182.7" rx="1.4" ry="1.2" fill="#c8dcb0"/>
<ellipse cx="109.5" cy="140.3" rx="1.4" ry="1.2" fill="#e0e0e0"/>
<ellipse cx="172.0" cy="131.5" rx="1.4" ry="1.2" fill="#c8dcb0"/>
<ellipse cx="60.8" cy="112.7" rx="1.4" ry="1.2" fill="#b8d8c8"/>
<ellipse cx="104.1" cy="80.3" rx="1.4" ry="1.2" fill="#e0e0e0"/>
<ellipse cx="51.7" cy="157.3" rx="1.4" ry="1.2" fill="#b4d8b0"/>
<ellipse cx="78.4" cy="143.0" rx="1.4" ry="1.2" fill="#d8d0e8"/>
<ellipse cx="95.7" cy="92.5" rx="1.4" ry="1.2" fill="#d0dcb8"/>
<ellipse cx="114.9" cy="47.4" rx="1.4" ry="1.2" fill="#a8d4c0"/>
<ellipse cx="148.2" cy="53.3" rx="1.4" ry="1.2" fill="#d8d0e8"/>
<ellipse cx="112.0" cy="132.6" rx="1.4" ry="1.2" fill="#d8d0e8"/>
<ellipse cx="164.5" cy="82.1" rx="1.4" ry="1.2" fill="#b8d8c8"/>
<ellipse cx="112.2" cy="103.9" rx="1.4" ry="1.2" fill="#b4d8b0"/>
<ellipse cx="57.8" cy="97.9" rx="1.4" ry="1.2" fill="#b4d8b0"/>
<ellipse cx="92.1" cy="123.9" rx="1.4" ry="1.2" fill="#b4d8b0"/>
<ellipse cx="99.7" cy="56.8" rx="1.4" ry="1.2" fill="#b4d8b0"/>
<ellipse cx="93.1" cy="143.8" rx="1.4" ry="1.2" fill="#b8d8c8"/>
<ellipse cx="82.5" cy="113.7" rx="1.4" ry="1.2" fill="#c8dcb0"/>
<ellipse cx="24.4" cy="196.1" rx="1.4" ry="1.2" fill="#b8d8c8"/>
<ellipse cx="149.9" cy="73.1" rx="1.4" ry="1.2" fill="#c8dcb0"/>
<ellipse cx="79.2" cy="165.1" rx="1.4" ry="1.2" fill="#a8c8d8"/>
<ellipse cx="95.9" cy="181.2" rx="1.4" ry="1.2" fill="#e0e0e0"/>
<ellipse cx="81.0" cy="90.0" rx="1.4" ry="1.2" fill="#b8d8c8"/>
<ellipse cx="188.9" cy="73.0" rx="1.4" ry="1.2" fill="#a8c8d8"/>
<ellipse cx="113.6" cy="173.5" rx="1.4" ry="1.2" fill="#a8c8d8"/>
<ellipse cx="47.2" cy="102.7" rx="1.4" ry="1.2" fill="#a8d4c0"/>
<ellipse cx="105.4" cy="60.3" rx="1.4" ry="1.2" fill="#a8d4c0"/>
<ellipse cx="114.6" cy="121.7" rx="1.4" ry="1.2" fill="#c4c0e0"/>
<ellipse cx="79.5" cy="157.2" rx="1.4" ry="1.2" fill="#e0e0e0"/>
<ellipse cx="178.1" cy="150.4" rx="1.4" ry="1.2" fill="#c4c0e0"/>
<ellipse cx="122.2" cy="109.5" rx="1.4" ry="1.2" fill="#e0e0e0"/>
<ellipse cx="117.1" cy="76.2" rx="1.4" ry="1.2" fill="#c8dcb0"/>
<ellipse cx="86.1" cy="153.1" rx="1.4" ry="1.2" fill="#a8d4c0"/>
<ellipse cx="73.4" cy="186.3" rx="1.4" ry="1.2" fill="#d8d0e8"/>
<ellipse cx="179.5" cy="137.6" rx="1.4" ry="1.2" fill="#d0dcb8"/>
<ellipse cx="73.5" cy="100.2" rx="1.4" ry="1.2" fill="#c8dcb0"/>
<ellipse cx="135.4" cy="55.6" rx="1.4" ry="1.2" fill="#a8d4c0"/>
<ellipse cx="121.9" cy="130.9" rx="1.4" ry="1.2" fill="#d0dcb8"/>
<ellipse cx="124.8" cy="186.9" rx="1.4" ry="1.2" fill="#b4d8b0"/>
<ellipse cx="142.5" cy="78.2" rx="1.4" ry="1.2" fill="#c4c0e0"/>
<ellipse cx="158.9" cy="93.4" rx="1.4" ry="1.2" fill="#a8d4c0"/>
<ellipse cx="59.3" cy="132.6" rx="1.4" ry="1.2" fill="#c8dcb0"/>
<ellipse cx="102.6" cy="99.8" rx="1.4" ry="1.2" fill="#b4d8b0"/>
<ellipse cx="109.6" cy="96.7" rx="1.4" ry="1.2" fill="#e0e0e0"/>
<ellipse cx="149.8" cy="123.7" rx="1.4" ry="1.2" fill="#b8d8c8"/>
<ellipse cx="68.3" cy="96.5" rx="1.4" ry="1.2" fill="#a8d4c0"/>
<ellipse cx="123.2" cy="202.1" rx="1.4" ry="1.2" fill="#d0dcb8"/>
<ellipse cx="66.8" cy="81.7" rx="1.4" ry="1.2" fill="#b8d8c8"/>
<ellipse cx="78.7" cy="135.8" rx="1.4" ry="1.2" fill="#c4c0e0"/>
<ellipse cx="46.3" cy="145.7" rx="1.4" ry="1.2" fill="#e0e0e0"/>
<ellipse cx="127.9" cy="61.7" rx="1.4" ry="1.2" fill="#a8d4c0"/>
<ellipse cx="56.5" cy="181.3" rx="1.4" ry="1.2" fill="#c8dcb0"/>
<ellipse cx="64.0" cy="171.3" rx="1.4" ry="1.2" fill="#c8dcb0"/>
<ellipse cx="62.6" cy="128.1" rx="1.4" ry="1.2" fill="#a8d4c0"/>
<ellipse cx="100.9" cy="170.3" rx="1.4" ry="1.2" fill="#a8d4c0"/>
<ellipse cx="120.9" cy="148.2" rx="1.4" ry="1.2" fill="#b8d8c8"/>
<ellipse cx="134.2" cy="123.5" rx="1.4" ry="1.2" fill="#c4c0e0"/>
<ellipse cx="48.9" cy="111.5" rx="1.4" ry="1.2" fill="#c4c0e0"/>
<ellipse cx="165.6" cy="122.3" rx="1.4" ry="1.2" fill="#d0dcb8"/>
<ellipse cx="87.0" cy="63.9" rx="1.4" ry="1.2" fill="#a8c8d8"/>
<ellipse cx="35.5" cy="138.2" rx="1.4" ry="1.2" fill="#e0e0e0"/>
<ellipse cx="32.7" cy="161.5" rx="1.4" ry="1.2" fill="#e0e0e0"/>
<ellipse cx="156.2" cy="152.7" rx="1.4" ry="1.2" fill="#d0dcb8"/>
<ellipse cx="53.3" cy="145.7" rx="1.4" ry="1.2" fill="#b4d8b0"/>
<ellipse cx="84.2" cy="82.5" rx="1.4" ry="1.2" fill="#b4d8b0"/>
<ellipse cx="72.4" cy="66.7" rx="1.4" ry="1.2" fill="#a8d4c0"/>
<ellipse cx="59.1" cy="153.0" rx="1.4" ry="1.2" fill="#d8d0e8"/>
<ellipse cx="90.0" cy="100.5" rx="1.4" ry="1.2" fill="#d8d0e8"/>
<ellipse cx="110.7" cy="78.3" rx="1.4" ry="1.2" fill="#e0e0e0"/>
<ellipse cx="134.4" cy="116.3" rx="1.4" ry="1.2" fill="#d0dcb8"/>
<ellipse cx="116.4" cy="63.3" rx="1.4" ry="1.2" fill="#a8c8d8"/>
<ellipse cx="25.6" cy="160.9" rx="1.4" ry="1.2" fill="#b8d8c8"/>
<ellipse cx="56.6" cy="163.0" rx="1.4" ry="1.2" fill="#b8d8c8"/>
<ellipse cx="144.3" cy="62.3" rx="1.4" ry="1.2" fill="#d0dcb8"/>
<ellipse cx="29.3" cy="83.0" rx="1.4" ry="1.2" fill="#b8d8c8"/>
<ellipse cx="117.7" cy="114.8" rx="1.4" ry="1.2" fill="#b8d8c8"/>
<ellipse cx="81.0" cy="68.3" rx="1.4" ry="1.2" fill="#c8dcb0"/>
<ellipse cx="88.4" cy="160.9" rx="1.4" ry="1.2" fill="#c4c0e0"/>
<ellipse cx="51.7" cy="95.1" rx="1.4" ry="1.2" fill="#d0dcb8"/>
<ellipse cx="137.8" cy="87.7" rx="1.4" ry="1.2" fill="#b8d8c8"/>
<ellipse cx="77.8" cy="103.6" rx="1.4" ry="1.2" fill="#c8dcb0"/>
<ellipse cx="143.9" cy="101.2" rx="1.4" ry="1.2" fill="#e0e0e0"/>
<ellipse cx="116.4" cy="194.4" rx="1.4" ry="1.2" fill="#b4d8b0"/>
<ellipse cx="62.6" cy="148.2" rx="1.4" ry="1.2" fill="#a8d4c0"/>
<ellipse cx="160.3" cy="139.5" rx="1.4" ry="1.2" fill="#e0e0e0"/>
<ellipse cx="149.9" cy="154.2" rx="1.4" ry="1.2" fill="#d0dcb8"/>
<ellipse cx="87.2" cy="168.3" rx="1.4" ry="1.2" fill="#c4c0e0"/>
<ellipse cx="157.4" cy="175.9" rx="1.4" ry="1.2" fill="#b4d8b0"/>
<ellipse cx="77.6" cy="125.6" rx="1.4" ry="1.2" fill="#e0e0e0"/>
<ellipse cx="98.6" cy="130.4" rx="1.4" ry="1.2" fill="#c4c0e0"/>
<ellipse cx="206.5" cy="100.5" rx="1.4" ry="1.2" fill="#c8dcb0"/>
<ellipse cx="14.5" cy="187.8" rx="1.4" ry="1.2" fill="#c4c0e0"/>
<ellipse cx="114.7" cy="128.0" rx="1.4" ry="1.2" fill="#d8d0e8"/>
<ellipse cx="70.0" cy="114.9" rx="1.4" ry="1.2" fill="#d0dcb8"/>
<ellipse cx="161.6" cy="115.6" rx="1.4" ry="1.2" fill="#c4c0e0"/>
<ellipse cx="131.9" cy="136.9" rx="1.4" ry="1.2" fill="#a8d4c0"/>
<ellipse cx="184.8" cy="97.7" rx="1.4" ry="1.2" fill="#a8d4c0"/>
<ellipse cx="178.8" cy="82.3" rx="1.4" ry="1.2" fill="#a8c8d8"/>
<ellipse cx="15.7" cy="173.1" rx="1.4" ry="1.2" fill="#c4c0e0"/>
<ellipse cx="83.5" cy="107.5" rx="1.4" ry="1.2" fill="#b4d8b0"/>
<ellipse cx="144.0" cy="128.4" rx="1.4" ry="1.2" fill="#d0dcb8"/>
<ellipse cx="26.0" cy="168.7" rx="1.4" ry="1.2" fill="#b4d8b0"/>
<ellipse cx="157.3" cy="134.1" rx="1.4" ry="1.2" fill="#e0e0e0"/>
<ellipse cx="154.6" cy="104.1" rx="1.4" ry="1.2" fill="#d8d0e8"/>
<ellipse cx="105.5" cy="70.9" rx="1.4" ry="1.2" fill="#b4d8b0"/>
<ellipse cx="122.8" cy="86.6" rx="1.4" ry="1.2" fill="#b4d8b0"/>
<ellipse cx="17.2" cy="152.9" rx="1.4" ry="1.2" fill="#d0dcb8"/>
<ellipse cx="42.7" cy="123.9" rx="1.4" ry="1.2" fill="#d8d0e8"/>
<ellipse cx="91.5" cy="115.2" rx="1.4" ry="1.2" fill="#a8d4c0"/>
<ellipse cx="74.4" cy="86.3" rx="1.4" ry="1.2" fill="#b4d8b0"/>
<ellipse cx="114.3" cy="83.9" rx="1.4" ry="1.2" fill="#c4c0e0"/>
<ellipse cx="104.7" cy="177.4" rx="1.4" ry="1.2" fill="#e0e0e0"/>
<ellipse cx="170.2" cy="126.6" rx="1.4" ry="1.2" fill="#b8d8c8"/>
<ellipse cx="61.3" cy="209.4" rx="1.4" ry="1.2" fill="#b8d8c8"/>
<ellipse cx="181.7" cy="111.1" rx="1.4" ry="1.2" fill="#b8d8c8"/>
<ellipse cx="164.1" cy="97.6" rx="1.4" ry="1.2" fill="#a8d4c0"/>
<ellipse cx="134.9" cy="80.4" rx="1.4" ry="1.2" fill="#c8dcb0"/>
<ellipse cx="107.1" cy="114.3" rx="1.4" ry="1.2" fill="#c8dcb0"/>
<ellipse cx="180.5" cy="118.9" rx="1.4" ry="1.2" fill="#e0e0e0"/>
<ellipse cx="174.8" cy="77.5" rx="1.4" ry="1.2" fill="#a8c8d8"/>
<ellipse cx="103.5" cy="213.5" rx="1.4" ry="1.2" fill="#e0e0e0"/>
<ellipse cx="124.5" cy="169.2" rx="1.4" ry="1.2" fill="#a8c8d8"/>
<ellipse cx="13.5" cy="162.0" rx="1.4" ry="1.2" fill="#b8d8c8"/>
<ellipse cx="144.9" cy="168.2" rx="1.4" ry="1.2" fill="#e0e0e0"/>
<ellipse cx="58.6" cy="142.0" rx="1.4" ry="1.2" fill="#b8d8c8"/>
<ellipse cx="173.6" cy="101.8" rx="1.4" ry="1.2" fill="#d0dcb8"/>
<ellipse cx="131.5" cy="110.0" rx="1.4" ry="1.2" fill="#e0e0e0"/>
<ellipse cx="78.0" cy="172.4" rx="1.4" ry="1.2" fill="#c4c0e0"/>
<ellipse cx="177.9" cy="93.5" rx="1.4" ry="1.2" fill="#a8c8d8"/>
<ellipse cx="74.5" cy="196.9" rx="1.4" ry="1.2" fill="#d0dcb8"/>
<ellipse cx="90.9" cy="95.3" rx="1.4" ry="1.2" fill="#c4c0e0"/>
<ellipse cx="171.5" cy="143.3" rx="1.4" ry="1.2" fill="#a8d4c0"/>
<ellipse cx="25.1" cy="146.7" rx="1.4" ry="1.2" fill="#d8d0e8"/>
<ellipse cx="84.1" cy="185.8" rx="1.4" ry="1.2" fill="#a8d4c0"/>
<ellipse cx="196.5" cy="154.7" rx="1.4" ry="1.2" fill="#e0e0e0"/>
<ellipse cx="154.6" cy="117.1" rx="1.4" ry="1.2" fill="#d0dcb8"/>
<ellipse cx="164.1" cy="164.3" rx="1.4" ry="1.2" fill="#c8dcb0"/>
<ellipse cx="116.3" cy="92.2" rx="1.4" ry="1.2" fill="#d0dcb8"/>
<ellipse cx="123.5" cy="120.0" rx="1.4" ry="1.2" fill="#b4d8b0"/>
<ellipse cx="190.4" cy="136.4" rx="1.4" ry="1.2" fill="#e0e0e0"/>
<ellipse cx="31.6" cy="176.5" rx="1.4" ry="1.2" fill="#a8d4c0"/>
<ellipse cx="135.8" cy="72.2" rx="1.4" ry="1.2" fill="#c8dcb0"/>
<ellipse cx="212.4" cy="147.0" rx="1.4" ry="1.2" fill="#c4c0e0"/>
<ellipse cx="92.7" cy="80.5" rx="1.4" ry="1.2" fill="#b8d8c8"/>
<ellipse cx="69.7" cy="168.7" rx="1.4" ry="1.2" fill="#d8d0e8"/>
<ellipse cx="130.1" cy="120.0" rx="1.4" ry="1.2" fill="#a8d4c0"/>
<ellipse cx="64.6" cy="109.1" rx="1.4" ry="1.2" fill="#e0e0e0"/>
<ellipse cx="79.0" cy="222.3" rx="1.4" ry="1.2" fill="#d8d0e8"/>
<ellipse cx="190.9" cy="170.1" rx="1.4" ry="1.2" fill="#c8dcb0"/>
<ellipse cx="82.5" cy="99.4" rx="1.4" ry="1.2" fill="#c8dcb0"/>
<ellipse cx="57.1" cy="79.9" rx="1.4" ry="1.2" fill="#b8d8c8"/>
<ellipse cx="138.2" cy="199.8" rx="1.4" ry="1.2" fill="#a8c8d8"/>
<ellipse cx="57.7" cy="172.1" rx="1.4" ry="1.2" fill="#d8d0e8"/>
<ellipse cx="99.0" cy="138.7" rx="1.4" ry="1.2" fill="#d8d0e8"/>
<ellipse cx="68.7" cy="105.6" rx="1.4" ry="1.2" fill="#c4c0e0"/>
<ellipse cx="195.3" cy="113.0" rx="1.4" ry="1.2" fill="#a8c8d8"/>
<ellipse cx="99.7" cy="111.6" rx="1.4" ry="1.2" fill="#d8d0e8"/>
<ellipse cx="72.3" cy="132.0" rx="1.4" ry="1.2" fill="#a8c8d8"/>
<ellipse cx="70.3" cy="91.0" rx="1.4" ry="1.2" fill="#d0dcb8"/>
<ellipse cx="122.4" cy="74.8" rx="1.4" ry="1.2" fill="#e0e0e0"/>
<ellipse cx="145.4" cy="84.3" rx="1.4" ry="1.2" fill="#c8dcb0"/>
<ellipse cx="10.3" cy="114.5" rx="1.4" ry="1.2" fill="#b8d8c8"/>
<ellipse cx="106.6" cy="167.1" rx="1.4" ry="1.2" fill="#a8d4c0"/>
<ellipse cx="72.4" cy="147.1" rx="1.4" ry="1.2" fill="#b8d8c8"/>
<ellipse cx="114.1" cy="69.4" rx="1.4" ry="1.2" fill="#b8d8c8"/>
<ellipse cx="165.8" cy="90.8" rx="1.4" ry="1.2" fill="#b4d8b0"/>
<ellipse cx="177.7" cy="125.2" rx="1.4" ry="1.2" fill="#b4d8b0"/>
<ellipse cx="133.5" cy="150.9" rx="1.4" ry="1.2" fill="#b4d8b0"/>
<ellipse cx="149.8" cy="101.1" rx="1.4" ry="1.2" fill="#a8d4c0"/>
<ellipse cx="123.9" cy="99.3" rx="1.4" ry="1.2" fill="#b4d8b0"/>
<ellipse cx="128.1" cy="68.5" rx="1.4" ry="1.2" fill="#e0e0e0"/>
<ellipse cx="155.1" cy="61.1" rx="1.4" ry="1.2" fill="#a8d4c0"/>
<ellipse cx="65.4" cy="133.8" rx="1.4" ry="1.2" fill="#c8dcb0"/>
<ellipse cx="129.8" cy="144.4" rx="1.4" ry="1.2" fill="#c8dcb0"/>
<ellipse cx="98.3" cy="146.9" rx="1.4" ry="1.2" fill="#b8d8c8"/>
<ellipse cx="52.8" cy="105.1" rx="1.4" ry="1.2" fill="#a8d4c0"/>
<ellipse cx="95.5" cy="156.5" rx="1.4" ry="1.2" fill="#a8c8d8"/>
<ellipse cx="95.9" cy="97.8" rx="1.4" ry="1.2" fill="#c8dcb0"/>
<ellipse cx="30.7" cy="120.0" rx="1.4" ry="1.2" fill="#d8d0e8"/>
<ellipse cx="91.6" cy="130.2" rx="1.4" ry="1.2" fill="#b8d8c8"/>
<ellipse cx="127.0" cy="162.8" rx="1.4" ry="1.2" fill="#a8c8d8"/>
<ellipse cx="90.5" cy="137.4" rx="1.4" ry="1.2" fill="#a8c8d8"/>
<ellipse cx="5.3" cy="171.0" rx="1.4" ry="1.2" fill="#b4d8b0"/>
<ellipse cx="76.4" cy="150.2" rx="1.4" ry="1.2" fill="#d0dcb8"/>
<ellipse cx="107.1" cy="103.5" rx="1.4" ry="1.2" fill="#c4c0e0"/>
<ellipse cx="110.5" cy="109.9" rx="1.4" ry="1.2" fill="#e0e0e0"/>
<ellipse cx="136.0" cy="62.3" rx="1.4" ry="1.2" fill="#e0e0e0"/>
<ellipse cx="66.1" cy="185.5" rx="1.4" ry="1.2" fill="#e0e0e0"/>
<ellipse cx="7.1" cy="108.1" rx="1.4" ry="1.2" fill="#d8d0e8"/>
<ellipse cx="126.8" cy="154.3" rx="1.4" ry="1.2" fill="#e0e0e0"/>
<ellipse cx="84.0" cy="175.2" rx="1.4" ry="1.2" fill="#a8c8d8"/>
<ellipse cx="200.0" cy="143.6" rx="1.4" ry="1.2" fill="#c8dcb0"/>
<ellipse cx="69.3" cy="160.6" rx="1.4" ry="1.2" fill="#c8dcb0"/>
<ellipse cx="159.3" cy="87.5" rx="1.4" ry="1.2" fill="#c8dcb0"/>
<ellipse cx="147.7" cy="184.0" rx="1.4" ry="1.2" fill="#b8d8c8"/>
<ellipse cx="116.3" cy="182.7" rx="1.4" ry="1.2" fill="#a8d4c0"/>
<ellipse cx="73.8" cy="49.5" rx="1.4" ry="1.2" fill="#b8d8c8"/>
<ellipse cx="33.1" cy="105.4" rx="1.4" ry="1.2" fill="#d8d0e8"/>
<ellipse cx="103.1" cy="135.1" rx="1.4" ry="1.2" fill="#e0e0e0"/>
<ellipse cx="99.4" cy="66.8" rx="1.4" ry="1.2" fill="#c8dcb0"/>
<ellipse cx="40.8" cy="190.5" rx="1.4" ry="1.2" fill="#e0e0e0"/>
<ellipse cx="166.3" cy="75.3" rx="1.4" ry="1.2" fill="#d0dcb8"/>
<ellipse cx="148.6" cy="141.7" rx="1.4" ry="1.2" fill="#d0dcb8"/>
<ellipse cx="120.9" cy="163.0" rx="1.4" ry="1.2" fill="#a8c8d8"/>
<ellipse cx="78.7" cy="180.3" rx="1.4" ry="1.2" fill="#c8dcb0"/>
<ellipse cx="151.1" cy="195.2" rx="1.4" ry="1.2" fill="#d0dcb8"/>
<ellipse cx="118.3" cy="137.1" rx="1.4" ry="1.2" fill="#b8d8c8"/>
<ellipse cx="84.7" cy="128.6" rx="1.4" ry="1.2" fill="#e0e0e0"/>
<ellipse cx="163.3" cy="151.2" rx="1.4" ry="1.2" fill="#c8dcb0"/>
<ellipse cx="105.6" cy="186.6" rx="1.4" ry="1.2" fill="#e0e0e0"/>
<ellipse cx="113.1" cy="150.9" rx="1.4" ry="1.2" fill="#b8d8c8"/>
<ellipse cx="90.4" cy="204.6" rx="1.4" ry="1.2" fill="#a8c8d8"/>
<ellipse cx="114.1" cy="98.6" rx="1.4" ry="1.2" fill="#b8d8c8"/>
<ellipse cx="148.9" cy="90.4" rx="1.4" ry="1.2" fill="#d8d0e8"/>
<ellipse cx="189.5" cy="119.5" rx="1.4" ry="1.2" fill="#b4d8b0"/>
<ellipse cx="180.9" cy="105.0" rx="1.4" ry="1.2" fill="#d8d0e8"/>
<ellipse cx="183.9" cy="125.8" rx="1.4" ry="1.2" fill="#d8d0e8"/>
<ellipse cx="139.4" cy="163.8" rx="1.4" ry="1.2" fill="#b4d8b0"/>
<ellipse cx="39.3" cy="101.3" rx="1.4" ry="1.2" fill="#c4c0e0"/>
<ellipse cx="210.9" cy="161.1" rx="1.4" ry="1.2" fill="#a8d4c0"/>
<ellipse cx="38.4" cy="146.8" rx="1.4" ry="1.2" fill="#d0dcb8"/>
<ellipse cx="44.2" cy="177.0" rx="1.4" ry="1.2" fill="#a8d4c0"/>
<ellipse cx="41.2" cy="159.4" rx="1.4" ry="1.2" fill="#d8d0e8"/>
<ellipse cx="78.4" cy="120.1" rx="1.4" ry="1.2" fill="#c4c0e0"/>
<ellipse cx="134.3" cy="185.1" rx="1.4" ry="1.2" fill="#b4d8b0"/>
<ellipse cx="184.9" cy="77.6" rx="1.4" ry="1.2" fill="#c4c0e0"/>
<ellipse cx="118.7" cy="104.9" rx="1.4" ry="1.2" fill="#a8c8d8"/>
<ellipse cx="204.5" cy="158.3" rx="1.4" ry="1.2" fill="#c8dcb0"/>
<ellipse cx="9.4" cy="153.1" rx="1.4" ry="1.2" fill="#a8d4c0"/>
<ellipse cx="49.8" cy="129.5" rx="1.4" ry="1.2" fill="#e0e0e0"/>
<ellipse cx="150.0" cy="129.9" rx="1.4" ry="1.2" fill="#a8c8d8"/>
<ellipse cx="119.6" cy="58.6" rx="1.4" ry="1.2" fill="#b8d8c8"/>
</g>
<g font-family="'Liberation Serif', serif" font-size="2.6" font-weight="bold" fill="#7c7c7c">
<text x="77.5" y="29.3">glnA</text>
<text x="85.9" y="33.9">Rv2034</text>
<text x="93.8" y="24.7">ahpC</text>
<text x="104.7" y="23.0">ctpC</text>
<text x="109.5" y="29.3">pe12</text>
<text x="84.0" y="46.7">ctpC</text>
<text x="91.8" y="48.1">hupB</text>
<text x="65.6" y="49.2">Rv2034</text>
<text x="32.1" y="53.4">furA</text>
<text x="40.5" y="63.2">furA</text>
<text x="64.1" y="65.3">Rv3267</text>
<text x="18.1" y="75.3">esxG</text>
<text x="25.2" y="84.8">furA</text>
<text x="33.2" y="86.9">mbtB</text>
<text x="13.9" y="94.6">esxG</text>
<text x="16.9" y="105.1">sigM</text>
<text x="28.0" y="102.1">pe12</text>
<text x="48.9" y="80.6">Rv2034</text>
<text x="77.1" y="58.6">hupB</text>
<text x="41.5" y="87.9">ahpC</text>
<text x="114.9" y="29.3">esxG</text>
<text x="113.9" y="39.8">Rv2034</text>
<text x="125.4" y="48.1">pe12</text>
<text x="144.2" y="41.9">glnA</text>
<text x="152.6" y="46.1">Rv0456</text>
<text x="162.0" y="38.7">esxG</text>
<text x="165.1" y="63.2">fadD</text>
<text x="182.9" y="65.3">Rv2034</text>
<text x="159.9" y="70.7">ppe3</text>
<text x="197.6" y="82.7">furA</text>
<text x="204.9" y="87.9">lpqS</text>
<text x="201.8" y="97.3">Rv2034</text>
<text x="201.8" y="105.7">ideR</text>
<text x="185.0" y="84.8">mbtB</text>
<text x="17.5" y="117.8">ideR</text>
<text x="22.7" y="123.0">ideR</text>
<text x="24.8" y="128.3">Rv0456</text>
<text x="10.2" y="191.0">glnA</text>
<text x="14.4" y="194.2">furA</text>
<text x="48.8" y="213.0">pks2</text>
<text x="56.2" y="199.4">Rv0456</text>
<text x="87.6" y="208.8">sigM</text>
<text x="97.0" y="206.4">bfrA</text>
<text x="201.8" y="114.7">ppe3</text>
<text x="204.9" y="128.3">ctpC</text>
<text x="210.1" y="139.8">mmpL</text>
<text x="197.2" y="163.8">Rv3267</text>
<text x="189.2" y="158.6">ahpC</text>
<text x="181.5" y="177.4">ideR</text>
<text x="177.7" y="187.5">Rv0456</text>
<text x="159.5" y="194.2">fadD</text>
<text x="152.6" y="206.3">glnA</text>
<text x="136.9" y="216.8">ctpC</text>
<text x="121.2" y="208.8">esxG</text>
<text x="131.7" y="203.6">glnA</text>
<text x="103.6" y="118.0">irtA</text>
<text x="143.1" y="140.4">glnA</text>
<text x="9.0" y="122.3">bfrA</text>
<text x="144.9" y="107.5">mmpL</text>
<text x="154.4" y="78.0">katG</text>
<text x="138.0" y="174.3">ideR</text>
<text x="45.8" y="164.6">mmpL</text>
<text x="74.9" y="74.0">esxG</text>
<text x="132.1" y="89.7">glnA</text>
<text x="132.5" y="100.1">ideR</text>
<text x="131.1" y="73.4">fadD</text>
<text x="151.0" y="134.0">Rv3267</text>
<text x="153.0" y="212.7">lpqS</text>
<text x="137.0" y="91.9">pe12</text>
<text x="98.3" y="186.8">ctpC</text>
<text x="128.3" y="78.2">Rv2034</text>
<text x="41.3" y="106.1">fadD</text>
<text x="137.9" y="105.3">sigM</text>
<text x="11.8" y="180.7">fadD</text>
<text x="111.5" y="138.3">pks2</text>
<text x="174.0" y="129.5">hupB</text>
<text x="62.3" y="110.8">Rv3267</text>
<text x="105.9" y="78.4">hupB</text>
<text x="53.5" y="155.3">ideR</text>
<text x="80.4" y="141.3">ppe3</text>
<text x="97.5" y="90.6">fadD</text>
<text x="117.0" y="45.6">esxG</text>
<text x="149.8" y="51.7">pks2</text>
<text x="113.9" y="130.7">lpqS</text>
<text x="166.4" y="80.4">esxG</text>
<text x="114.0" y="101.9">sigM</text>
<text x="59.7" y="95.9">Rv0456</text>
<text x="94.1" y="122.0">ppe3</text>
<text x="101.5" y="54.8">ahpC</text>
<text x="95.1" y="142.1">lpqS</text>
<text x="84.2" y="111.9">Rv0456</text>
<text x="26.2" y="194.4">ppe3</text>
<text x="151.5" y="71.2">mmpL</text>
<text x="80.9" y="163.4">ppe3</text>
<text x="97.8" y="179.4">Rv0456</text>
<text x="82.6" y="88.0">pks2</text>
<text x="190.8" y="70.9">ctpC</text>
<text x="115.3" y="171.5">Rv1234</text>
<text x="48.7" y="100.8">mmpL</text>
<text x="107.1" y="58.4">Rv1234</text>
<text x="116.6" y="119.7">lpqS</text>
<text x="81.3" y="155.3">esxG</text>
<text x="180.0" y="148.4">hupB</text>
<text x="124.3" y="107.7">fadD</text>
<text x="119.2" y="74.4">Rv0456</text>
<text x="88.2" y="151.1">ctpC</text>
<text x="75.4" y="184.4">Rv3267</text>
<text x="181.6" y="135.7">pks2</text>
<text x="75.4" y="98.1">glnA</text>
<text x="137.5" y="53.6">pks2</text>
<text x="123.6" y="129.0">Rv0456</text>
<text x="126.3" y="185.2">sigM</text>
<text x="144.1" y="76.4">fadD</text>
<text x="160.7" y="91.8">fadD</text>
<text x="61.2" y="130.6">ahpC</text>
<text x="104.5" y="98.0">mmpL</text>
<text x="111.4" y="94.9">katG</text>
<text x="151.7" y="121.9">Rv0456</text>
<text x="70.1" y="94.7">pks2</text>
<text x="124.8" y="200.3">ahpC</text>
<text x="68.6" y="80.0">ideR</text>
<text x="80.7" y="134.2">ppe3</text>
<text x="48.2" y="143.9">katG</text>
<text x="129.7" y="60.0">bfrA</text>
<text x="58.5" y="179.5">pe12</text>
<text x="65.7" y="169.6">katG</text>
<text x="64.4" y="126.4">pks2</text>
<text x="102.7" y="168.5">Rv2034</text>
<text x="122.6" y="146.6">ctpC</text>
<text x="136.3" y="121.7">Rv3267</text>
<text x="50.8" y="109.7">mmpL</text>
<text x="167.6" y="120.4">lpqS</text>
<text x="88.5" y="62.0">furA</text>
<text x="37.5" y="136.2">bfrA</text>
<text x="34.4" y="159.4">Rv3267</text>
<text x="158.2" y="151.0">sigM</text>
<text x="55.1" y="144.0">mbtB</text>
<text x="86.3" y="80.7">glnA</text>
<text x="74.2" y="65.1">pks2</text>
<text x="60.8" y="151.4">Rv1234</text>
<text x="92.1" y="98.8">ideR</text>
<text x="112.3" y="76.6">pe12</text>
<text x="136.3" y="114.5">ahpC</text>
<text x="117.9" y="61.7">sigM</text>
<text x="27.3" y="159.0">Rv0456</text>
<text x="58.7" y="161.3">ppe3</text>
<text x="146.4" y="60.5">ideR</text>
<text x="31.0" y="81.1">sigM</text>
<text x="119.7" y="112.9">mmpL</text>
<text x="82.6" y="66.4">ppe3</text>
<text x="90.3" y="159.1">katG</text>
<text x="53.5" y="93.2">sigM</text>
<text x="139.8" y="86.0">pks2</text>
<text x="79.4" y="102.0">hupB</text>
<text x="145.5" y="99.6">pe12</text>
<text x="118.4" y="192.4">esxG</text>
<text x="64.5" y="146.3">irtA</text>
<text x="161.9" y="137.5">glnA</text>
<text x="151.7" y="152.2">esxG</text>
<text x="88.7" y="166.7">hupB</text>
<text x="159.3" y="173.8">mmpL</text>
<text x="79.5" y="123.9">ideR</text>
<text x="100.7" y="128.5">irtA</text>
<text x="208.2" y="98.4">ctpC</text>
<text x="16.2" y="186.2">sigM</text>
<text x="116.7" y="126.3">Rv2034</text>
<text x="71.8" y="113.1">bfrA</text>
<text x="163.2" y="113.8">irtA</text>
<text x="133.7" y="135.0">Rv3267</text>
<text x="186.4" y="96.1">mmpL</text>
<text x="180.4" y="80.7">sigM</text>
<text x="17.7" y="171.2">lpqS</text>
<text x="85.1" y="105.5">glnA</text>
<text x="145.7" y="126.4">mmpL</text>
<text x="27.9" y="166.8">Rv2034</text>
<text x="159.2" y="132.0">fadD</text>
<text x="156.3" y="102.4">katG</text>
<text x="107.6" y="69.1">furA</text>
<text x="124.7" y="84.9">bfrA</text>
<text x="18.7" y="151.0">glnA</text>
<text x="44.6" y="122.0">ctpC</text>
<text x="93.4" y="113.5">glnA</text>
<text x="76.3" y="84.5">ahpC</text>
<text x="116.3" y="82.2">ctpC</text>
<text x="106.4" y="175.4">bfrA</text>
<text x="171.8" y="124.7">esxG</text>
<text x="63.1" y="207.7">pe12</text>
<text x="183.5" y="109.1">Rv2034</text>
<text x="166.0" y="95.7">ctpC</text>
<text x="136.8" y="78.4">mbtB</text>
<text x="108.7" y="112.7">pe12</text>
<text x="182.4" y="117.0">ahpC</text>
<text x="176.9" y="75.5">bfrA</text>
<text x="105.3" y="211.9">mmpL</text>
<text x="126.2" y="167.2">pe12</text>
<text x="15.5" y="160.2">sigM</text>
<text x="146.7" y="166.5">mmpL</text>
<text x="60.3" y="140.0">glnA</text>
<text x="175.1" y="99.8">pks2</text>
<text x="133.0" y="108.2">Rv0456</text>
<text x="79.9" y="170.3">ctpC</text>
<text x="179.8" y="91.5">fadD</text>
<text x="76.6" y="195.1">glnA</text>
<text x="92.6" y="93.5">ppe3</text>
<text x="173.0" y="141.4">hupB</text>
<text x="27.1" y="144.9">esxG</text>
<text x="86.2" y="183.7">bfrA</text>
<text x="198.5" y="152.7">pks2</text>
<text x="156.5" y="115.0">esxG</text>
<text x="165.6" y="162.7">sigM</text>
<text x="118.3" y="90.5">pks2</text>
<text x="125.1" y="118.1">bfrA</text>
<text x="192.2" y="134.6">ppe3</text>
<text x="33.4" y="174.8">Rv3267</text>
<text x="137.8" y="70.6">fadD</text>
<text x="214.0" y="145.0">pe12</text>
<text x="94.2" y="78.5">bfrA</text>
<text x="71.5" y="166.7">glnA</text>
<text x="132.1" y="118.4">mmpL</text>
<text x="66.7" y="107.2">hupB</text>
<text x="80.8" y="220.3">lpqS</text>
<text x="192.8" y="168.2">katG</text>
<text x="84.4" y="97.8">sigM</text>
<text x="58.6" y="78.0">fadD</text>
<text x="139.8" y="197.9">pks2</text>
<text x="59.3" y="170.3">ideR</text>
<text x="101.0" y="136.9">ahpC</text>
<text x="70.8" y="103.7">pks2</text>
<text x="196.9" y="110.9">hupB</text>
<text x="101.7" y="109.7">hupB</text>
<text x="74.3" y="130.3">bfrA</text>
<text x="72.3" y="89.1">bfrA</text>
<text x="124.5" y="72.9">hupB</text>
<text x="147.4" y="82.2">ppe3</text>
<text x="12.0" y="112.4">bfrA</text>
<text x="108.5" y="165.4">ideR</text>
<text x="73.9" y="145.4">esxG</text>
<text x="115.8" y="67.7">ppe3</text>
<text x="167.8" y="88.7">Rv1234</text>
<text x="179.5" y="123.2">furA</text>
<text x="135.2" y="149.3">sigM</text>
<text x="151.5" y="99.1">Rv1234</text>
<text x="125.5" y="97.3">ahpC</text>
<text x="129.9" y="66.4">esxG</text>
<text x="157.1" y="59.2">Rv0456</text>
<text x="67.4" y="131.9">Rv1234</text>
<text x="131.8" y="142.3">hupB</text>
<text x="100.0" y="145.0">fadD</text>
<text x="54.5" y="103.4">hupB</text>
<text x="97.5" y="154.6">sigM</text>
<text x="97.9" y="95.8">mmpL</text>
<text x="32.7" y="118.0">pe12</text>
<text x="93.5" y="128.2">irtA</text>
<text x="128.9" y="160.7">Rv1234</text>
<text x="92.6" y="135.7">mmpL</text>
<text x="7.4" y="169.3">ahpC</text>
<text x="77.9" y="148.6">pks2</text>
<text x="108.6" y="101.4">Rv1234</text>
<text x="112.5" y="108.1">glnA</text>
<text x="138.0" y="60.2">ideR</text>
<text x="68.2" y="183.8">fadD</text>
<text x="8.9" y="106.2">ahpC</text>
<text x="128.7" y="152.6">Rv0456</text>
<text x="85.6" y="173.5">Rv0456</text>
<text x="201.6" y="141.6">Rv1234</text>
<text x="71.2" y="158.6">mmpL</text>
<text x="161.3" y="85.5">esxG</text>
<text x="149.8" y="181.9">hupB</text>
<text x="118.1" y="181.0">hupB</text>
<text x="75.8" y="47.8">irtA</text>
<text x="34.6" y="103.4">furA</text>
<text x="104.8" y="133.4">Rv0456</text>
<text x="101.2" y="65.0">Rv3267</text>
<text x="42.5" y="188.8">esxG</text>
<text x="168.1" y="73.5">hupB</text>
<text x="150.3" y="139.7">esxG</text>
<text x="122.5" y="161.0">irtA</text>
<text x="80.2" y="178.5">pks2</text>
<text x="153.1" y="193.3">lpqS</text>
<text x="119.9" y="135.4">ahpC</text>
<text x="86.2" y="126.8">sigM</text>
<text x="165.2" y="149.2">Rv1234</text>
<text x="107.2" y="184.7">ideR</text>
<text x="114.6" y="149.3">irtA</text>
<text x="92.2" y="202.5">mmpL</text>
<text x="116.2" y="96.5">Rv3267</text>
<text x="150.9" y="88.8">pe12</text>
<text x="191.5" y="117.6">ideR</text>
<text x="182.8" y="103.0">glnA</text>
<text x="185.8" y="124.0">ahpC</text>
<text x="141.3" y="162.0">glnA</text>
<text x="41.0" y="99.7">pe12</text>
<text x="213.0" y="159.5">pe12</text>
<text x="40.4" y="145.2">Rv1234</text>
<text x="46.0" y="175.3">ctpC</text>
<text x="43.0" y="157.3">bfrA</text>
<text x="80.3" y="118.3">Rv1234</text>
<text x="136.1" y="183.1">glnA</text>
<text x="186.7" y="75.6">ppe3</text>
<text x="120.6" y="102.9">irtA</text>
<text x="206.3" y="156.6">lpqS</text>
<text x="11.1" y="151.5">lpqS</text>
<text x="51.5" y="127.7">pks2</text>
<text x="151.6" y="128.2">pe12</text>
<text x="121.6" y="56.9">Rv2034</text>
</g>
<g stroke="#50506a" stroke-width="0.35" stroke-opacity="0.5"><line x1="156.6" y1="85.7" x2="179.5" y2="87.9"/><line x1="158.1" y1="92.3" x2="175.0" y2="101.9"/><line x1="152.3" y1="95.7" x2="175.7" y2="93.5"/><line x1="156.7" y1="108.9" x2="176.2" y2="92.0"/><line x1="155.1" y1="84.9" x2="181.9" y2="101.1"/><line x1="159.3" y1="110.3" x2="175.1" y2="96.9"/><line x1="158.4" y1="92.9" x2="173.6" y2="88.6"/><line x1="159.7" y1="111.7" x2="178.1" y2="97.1"/><line x1="152.8" y1="99.4" x2="180.0" y2="111.3"/><line x1="156.9" y1="109.5" x2="180.2" y2="85.1"/><line x1="158.9" y1="111.5" x2="172.8" y2="110.2"/><line x1="157.6" y1="80.7" x2="177.1" y2="95.2"/><line x1="158.4" y1="93.6" x2="176.5" y2="82.8"/><line x1="157.9" y1="90.6" x2="178.4" y2="96.7"/><line x1="159.3" y1="81.8" x2="184.7" y2="86.8"/><line x1="157.9" y1="104.4" x2="182.1" y2="91.3"/><line x1="156.1" y1="84.2" x2="169.5" y2="107.6"/><line x1="154.6" y1="99.5" x2="174.1" y2="93.1"/><line x1="159.1" y1="85.6" x2="179.3" y2="85.7"/><line x1="159.0" y1="98.0" x2="180.2" y2="104.7"/><line x1="159.4" y1="83.8" x2="170.6" y2="106.3"/><line x1="158.4" y1="89.2" x2="179.4" y2="98.7"/><line x1="159.7" y1="92.8" x2="178.8" y2="106.3"/><line x1="155.9" y1="91.9" x2="180.4" y2="83.0"/><line x1="162.1" y1="103.1" x2="171.8" y2="92.8"/><line x1="156.0" y1="100.9" x2="179.2" y2="100.9"/><line x1="156.1" y1="103.1" x2="185.6" y2="87.0"/><line x1="159.4" y1="88.0" x2="172.4" y2="89.5"/><line x1="158.0" y1="94.0" x2="176.4" y2="110.8"/><line x1="157.9" y1="109.0" x2="182.7" y2="108.0"/><line x1="158.7" y1="109.8" x2="173.2" y2="88.2"/><line x1="159.9" y1="101.1" x2="175.2" y2="99.6"/><line x1="157.2" y1="99.3" x2="183.9" y2="111.6"/><line x1="156.7" y1="92.2" x2="174.3" y2="108.4"/><line x1="155.9" y1="102.2" x2="182.9" y2="110.9"/><line x1="159.3" y1="85.5" x2="183.5" y2="100.5"/><line x1="155.7" y1="107.7" x2="172.5" y2="87.4"/><line x1="159.5" y1="92.8" x2="175.2" y2="83.6"/><line x1="157.9" y1="89.9" x2="178.0" y2="101.5"/><line x1="158.0" y1="105.1" x2="175.6" y2="94.2"/><line x1="159.2" y1="103.6" x2="184.4" y2="95.0"/><line x1="154.6" y1="100.2" x2="176.9" y2="104.5"/><line x1="158.2" y1="80.7" x2="175.3" y2="83.4"/><line x1="156.8" y1="110.8" x2="182.9" y2="93.3"/><line x1="155.8" y1="110.3" x2="181.7" y2="98.8"/><line x1="162.6" y1="88.8" x2="176.9" y2="109.7"/><line x1="162.5" y1="85.1" x2="165.5" y2="110.4"/><line x1="168.7" y1="86.4" x2="172.6" y2="106.2"/><line x1="154.2" y1="87.7" x2="169.6" y2="112.1"/><line x1="164.0" y1="87.9" x2="171.8" y2="108.1"/><line x1="170.4" y1="77.7" x2="157.5" y2="110.8"/><line x1="169.4" y1="81.8" x2="169.0" y2="111.0"/><line x1="165.4" y1="87.3" x2="172.5" y2="110.3"/><line x1="160.5" y1="84.1" x2="167.3" y2="106.1"/><line x1="158.1" y1="83.1" x2="163.5" y2="108.5"/><line x1="168.4" y1="87.5" x2="169.3" y2="110.2"/><line x1="163.0" y1="85.8" x2="168.1" y2="108.2"/><line x1="157.8" y1="85.7" x2="160.1" y2="112.7"/><line x1="167.3" y1="85.2" x2="167.2" y2="112.8"/><line x1="161.9" y1="83.3" x2="160.8" y2="108.3"/></g>
<ellipse cx="132.8" cy="90.9" rx="24.8" ry="29.8" fill="none" stroke="#e52a2a" stroke-width="1.25"/>
<circle cx="134.1" cy="72.4" r="2.4" fill="#d85858" stroke="#8a8a8a" stroke-width="0.5"/>
<circle cx="120.4" cy="77" r="2.4" fill="#d85858" stroke="#8a8a8a" stroke-width="0.5"/>
<circle cx="128" cy="79.5" r="2.4" fill="#5050d8" stroke="#8a8a8a" stroke-width="0.5"/>
<circle cx="135.6" cy="84.2" r="2.4" fill="#d85858" stroke="#8a8a8a" stroke-width="0.5"/>
<circle cx="122" cy="93.7" r="2.4" fill="#d85858" stroke="#8a8a8a" stroke-width="0.5"/>
<circle cx="149.3" cy="92.2" r="2.4" fill="#5050d8" stroke="#8a8a8a" stroke-width="0.5"/>
<circle cx="136.6" cy="99" r="2.4" fill="#5050d8" stroke="#8a8a8a" stroke-width="0.5"/>
<circle cx="144.2" cy="98.5" r="2.4" fill="#d85858" stroke="#8a8a8a" stroke-width="0.5"/>
<circle cx="120.8" cy="101.7" r="2.4" fill="#5050d8" stroke="#8a8a8a" stroke-width="0.5"/>
<circle cx="131.8" cy="110.5" r="2.4" fill="#5050d8" stroke="#8a8a8a" stroke-width="0.5"/>
<ellipse cx="39.2" cy="161.9" rx="24" ry="24.6" fill="none" stroke="#28b46e" stroke-width="1.2"/>
<circle cx="22" cy="153.4" r="2.4" fill="#6cb462" stroke="#8a8a8a" stroke-width="0.5"/>
<circle cx="27.8" cy="157.8" r="2.4" fill="#6cb462" stroke="#8a8a8a" stroke-width="0.5"/>
<circle cx="41.8" cy="147.8" r="2.4" fill="#5050d8" stroke="#8a8a8a" stroke-width="0.5"/>
<circle cx="41.2" cy="160.3" r="2.4" fill="#6cb462" stroke="#8a8a8a" stroke-width="0.5"/>
<circle cx="50.8" cy="160.3" r="2.4" fill="#6cb462" stroke="#8a8a8a" stroke-width="0.5"/>
<circle cx="32.4" cy="168.3" r="2.4" fill="#6cb462" stroke="#8a8a8a" stroke-width="0.5"/>
<circle cx="40.2" cy="170.2" r="2.4" fill="#6cb462" stroke="#8a8a8a" stroke-width="0.5"/>
<circle cx="54.8" cy="173.5" r="2.4" fill="#6cb462" stroke="#8a8a8a" stroke-width="0.5"/>
<g font-family="'Liberation Serif', serif" font-weight="bold" font-size="5.8" fill="#111" stroke="#111" stroke-width="0.25">
<text x="130.3" y="53.2" textLength="80.5" transform="matrix(1,0,0,1.15,0,-7.98)">Siderophore biosynthetic process</text>
<text x="130.5" y="59.7" textLength="80" transform="matrix(1,0,0,1.15,0,-8.96)">Transition metal ion homeostasis</text>
<text x="20.3" y="195.2" font-size="5.6" transform="matrix(1,0,0,1.15,0,-29.28)">Response to metal ion</text>
<text x="20.3" y="201.7" font-size="5.7" textLength="86.4" transform="matrix(1,0,0,1.15,0,-30.26)">Cellular response to iron starvation</text>
</g>
<g stroke="#7a7a86" stroke-width="0.33" stroke-opacity="0.9">
<line x1="25.1" y1="387.6" x2="25.1" y2="397.5"/>
<line x1="25.1" y1="387.6" x2="15.3" y2="410.6"/>
<line x1="25.1" y1="387.6" x2="18.0" y2="388.6"/>
<line x1="25.1" y1="387.6" x2="34.5" y2="389.4"/>
<line x1="25.1" y1="387.6" x2="21.5" y2="381.6"/>
<line x1="40.4" y1="381.0" x2="47.1" y2="390.3"/>
<line x1="40.4" y1="381.0" x2="34.5" y2="389.4"/>
<line x1="25.1" y1="397.5" x2="25.1" y2="409.5"/>
<line x1="25.1" y1="397.5" x2="27.9" y2="425.2"/>
<line x1="25.1" y1="397.5" x2="18.0" y2="388.6"/>
<line x1="39.3" y1="397.9" x2="40.4" y2="408.0"/>
<line x1="39.3" y1="397.9" x2="50.2" y2="399.7"/>
<line x1="39.3" y1="397.9" x2="58.6" y2="387.2"/>
<line x1="39.3" y1="397.9" x2="47.1" y2="390.3"/>
<line x1="39.3" y1="397.9" x2="34.5" y2="389.4"/>
<line x1="15.3" y1="410.6" x2="25.1" y2="409.5"/>
<line x1="15.3" y1="410.6" x2="14.8" y2="419.3"/>
<line x1="25.1" y1="409.5" x2="26.2" y2="432.0"/>
<line x1="25.1" y1="409.5" x2="50.2" y2="399.7"/>
<line x1="40.4" y1="408.0" x2="45.9" y2="419.7"/>
<line x1="40.4" y1="408.0" x2="50.2" y2="399.7"/>
<line x1="40.4" y1="408.0" x2="40.6" y2="436.8"/>
<line x1="40.4" y1="408.0" x2="35.8" y2="415.3"/>
<line x1="14.8" y1="419.3" x2="16.4" y2="426.9"/>
<line x1="16.4" y1="426.9" x2="26.2" y2="432.0"/>
<line x1="27.9" y1="425.2" x2="26.2" y2="432.0"/>
<line x1="27.9" y1="425.2" x2="50.2" y2="399.7"/>
<line x1="26.2" y1="432.0" x2="40.6" y2="436.8"/>
<line x1="39.3" y1="424.3" x2="45.9" y2="419.7"/>
<line x1="39.3" y1="424.3" x2="54.1" y2="445.9"/>
<line x1="39.3" y1="424.3" x2="66.6" y2="424.8"/>
<line x1="39.3" y1="424.3" x2="40.6" y2="436.8"/>
<line x1="39.3" y1="424.3" x2="60.4" y2="407.1"/>
<line x1="39.3" y1="424.3" x2="35.8" y2="415.3"/>
<line x1="45.9" y1="419.7" x2="53.5" y2="418.9"/>
<line x1="45.9" y1="419.7" x2="40.6" y2="436.8"/>
<line x1="45.9" y1="419.7" x2="81.5" y2="409.2"/>
<line x1="53.5" y1="418.9" x2="54.1" y2="429.1"/>
<line x1="53.5" y1="418.9" x2="66.6" y2="424.8"/>
<line x1="53.5" y1="418.9" x2="76.6" y2="424.5"/>
<line x1="53.5" y1="418.9" x2="60.4" y2="407.1"/>
<line x1="54.1" y1="429.1" x2="59.0" y2="439.4"/>
<line x1="54.1" y1="429.1" x2="50.2" y2="399.7"/>
<line x1="54.1" y1="429.1" x2="82.7" y2="451.2"/>
<line x1="59.0" y1="439.4" x2="54.1" y2="445.9"/>
<line x1="59.0" y1="439.4" x2="59.0" y2="450.3"/>
<line x1="59.0" y1="439.4" x2="62.9" y2="444.9"/>
<line x1="59.0" y1="439.4" x2="90.7" y2="418.6"/>
<line x1="59.0" y1="439.4" x2="69.3" y2="433.2"/>
<line x1="54.1" y1="445.9" x2="59.0" y2="450.3"/>
<line x1="54.1" y1="445.9" x2="62.9" y2="444.9"/>
<line x1="54.1" y1="445.9" x2="40.6" y2="436.8"/>
<line x1="54.1" y1="445.9" x2="67.8" y2="450.3"/>
<line x1="59.0" y1="450.3" x2="50.2" y2="464.0"/>
<line x1="59.0" y1="450.3" x2="79.7" y2="439.4"/>
<line x1="59.0" y1="450.3" x2="62.9" y2="444.9"/>
<line x1="50.2" y1="464.0" x2="71.0" y2="470.0"/>
<line x1="71.0" y1="470.0" x2="74.2" y2="457.5"/>
<line x1="71.0" y1="470.0" x2="96.0" y2="460.8"/>
<line x1="71.0" y1="470.0" x2="79.7" y2="439.4"/>
<line x1="71.0" y1="470.0" x2="65.3" y2="478.7"/>
<line x1="65.5" y1="485.2" x2="87.3" y2="475.0"/>
<line x1="65.5" y1="485.2" x2="84.0" y2="457.5"/>
<line x1="65.5" y1="485.2" x2="65.3" y2="478.7"/>
<line x1="74.2" y1="457.5" x2="84.0" y2="457.5"/>
<line x1="74.2" y1="457.5" x2="99.6" y2="443.8"/>
<line x1="74.2" y1="457.5" x2="67.8" y2="450.3"/>
<line x1="74.2" y1="457.5" x2="82.7" y2="451.2"/>
<line x1="74.2" y1="457.5" x2="84.9" y2="433.5"/>
<line x1="87.3" y1="475.0" x2="96.0" y2="460.8"/>
<line x1="87.3" y1="475.0" x2="100.4" y2="467.3"/>
<line x1="87.3" y1="475.0" x2="113.1" y2="481.5"/>
<line x1="87.3" y1="475.0" x2="103.5" y2="489.9"/>
<line x1="84.0" y1="457.5" x2="96.0" y2="460.8"/>
<line x1="84.0" y1="457.5" x2="109.0" y2="434.7"/>
<line x1="84.0" y1="457.5" x2="82.7" y2="451.2"/>
<line x1="96.0" y1="460.8" x2="100.4" y2="467.3"/>
<line x1="96.0" y1="460.8" x2="126.2" y2="466.2"/>
<line x1="96.0" y1="460.8" x2="104.4" y2="457.5"/>
<line x1="96.0" y1="460.8" x2="119.4" y2="440.6"/>
<line x1="96.0" y1="460.8" x2="100.4" y2="453.4"/>
<line x1="100.4" y1="467.3" x2="79.7" y2="439.4"/>
<line x1="100.4" y1="467.3" x2="103.5" y2="489.9"/>
<line x1="100.4" y1="467.3" x2="108.3" y2="486.2"/>
<line x1="100.4" y1="467.3" x2="100.4" y2="453.4"/>
<line x1="50.2" y1="399.7" x2="53.5" y2="404.0"/>
<line x1="50.2" y1="399.7" x2="60.4" y2="407.1"/>
<line x1="50.2" y1="399.7" x2="58.6" y2="387.2"/>
<line x1="50.2" y1="399.7" x2="47.1" y2="390.3"/>
<line x1="50.2" y1="399.7" x2="79.9" y2="385.8"/>
<line x1="53.5" y1="404.0" x2="60.4" y2="407.1"/>
<line x1="66.6" y1="424.8" x2="75.3" y2="433.5"/>
<line x1="66.6" y1="424.8" x2="76.6" y2="424.5"/>
<line x1="66.6" y1="424.8" x2="67.8" y2="450.3"/>
<line x1="66.6" y1="424.8" x2="60.4" y2="407.1"/>
<line x1="66.6" y1="424.8" x2="72.6" y2="413.8"/>
<line x1="66.6" y1="424.8" x2="86.4" y2="392.7"/>
<line x1="66.6" y1="424.8" x2="69.3" y2="433.2"/>
<line x1="75.3" y1="433.5" x2="79.7" y2="439.4"/>
<line x1="75.3" y1="433.5" x2="104.4" y2="457.5"/>
<line x1="75.3" y1="433.5" x2="62.9" y2="444.9"/>
<line x1="75.3" y1="433.5" x2="76.6" y2="424.5"/>
<line x1="75.3" y1="433.5" x2="104.4" y2="420.6"/>
<line x1="75.3" y1="433.5" x2="82.7" y2="451.2"/>
<line x1="75.3" y1="433.5" x2="84.9" y2="433.5"/>
<line x1="75.3" y1="433.5" x2="69.3" y2="433.2"/>
<line x1="79.7" y1="439.4" x2="104.4" y2="457.5"/>
<line x1="79.7" y1="439.4" x2="99.6" y2="443.8"/>
<line x1="79.7" y1="439.4" x2="82.7" y2="451.2"/>
<line x1="79.7" y1="439.4" x2="84.9" y2="433.5"/>
<line x1="188.4" y1="392.0" x2="185.2" y2="397.5"/>
<line x1="188.4" y1="392.0" x2="195.0" y2="423.7"/>
<line x1="188.4" y1="392.0" x2="187.9" y2="358.8"/>
<line x1="188.4" y1="392.0" x2="182.8" y2="385.8"/>
<line x1="188.4" y1="392.0" x2="189.7" y2="369.0"/>
<line x1="188.4" y1="392.0" x2="202.2" y2="420.6"/>
<line x1="185.2" y1="397.5" x2="181.2" y2="407.3"/>
<line x1="185.2" y1="397.5" x2="152.3" y2="398.6"/>
<line x1="185.2" y1="397.5" x2="155.9" y2="386.8"/>
<line x1="185.2" y1="397.5" x2="152.2" y2="409.7"/>
<line x1="185.2" y1="397.5" x2="174.6" y2="401.7"/>
<line x1="197.2" y1="398.6" x2="197.2" y2="408.0"/>
<line x1="197.2" y1="398.6" x2="181.2" y2="407.3"/>
<line x1="197.2" y1="398.6" x2="172.7" y2="418.5"/>
<line x1="197.2" y1="398.6" x2="195.1" y2="382.4"/>
<line x1="197.2" y1="398.6" x2="208.3" y2="387.4"/>
<line x1="197.2" y1="408.0" x2="181.2" y2="407.3"/>
<line x1="197.2" y1="408.0" x2="195.0" y2="423.7"/>
<line x1="197.2" y1="408.0" x2="164.9" y2="404.9"/>
<line x1="197.2" y1="408.0" x2="202.2" y2="420.6"/>
<line x1="181.2" y1="407.3" x2="150.1" y2="393.5"/>
<line x1="181.2" y1="407.3" x2="158.9" y2="380.0"/>
<line x1="181.2" y1="407.3" x2="172.7" y2="418.5"/>
<line x1="181.2" y1="407.3" x2="174.6" y2="401.7"/>
<line x1="181.2" y1="407.3" x2="153.9" y2="405.2"/>
<line x1="181.2" y1="407.3" x2="170.4" y2="425.6"/>
<line x1="195.0" y1="423.7" x2="194.3" y2="432.4"/>
<line x1="195.0" y1="423.7" x2="189.1" y2="440.0"/>
<line x1="195.0" y1="423.7" x2="172.7" y2="418.5"/>
<line x1="195.0" y1="423.7" x2="202.2" y2="420.6"/>
<line x1="194.3" y1="432.4" x2="189.1" y2="440.0"/>
<line x1="194.3" y1="432.4" x2="183.0" y2="449.4"/>
<line x1="194.3" y1="432.4" x2="169.6" y2="432.1"/>
<line x1="194.3" y1="432.4" x2="184.4" y2="437.0"/>
<line x1="194.3" y1="432.4" x2="200.1" y2="441.3"/>
<line x1="194.3" y1="432.4" x2="158.4" y2="439.8"/>
<line x1="194.3" y1="432.4" x2="202.2" y2="420.6"/>
<line x1="194.3" y1="432.4" x2="180.4" y2="426.5"/>
<line x1="189.1" y1="440.0" x2="183.0" y2="449.4"/>
<line x1="189.1" y1="440.0" x2="184.4" y2="437.0"/>
<line x1="189.1" y1="440.0" x2="200.1" y2="441.3"/>
<line x1="189.1" y1="440.0" x2="180.4" y2="426.5"/>
<line x1="189.1" y1="440.0" x2="193.1" y2="447.9"/>
<line x1="183.0" y1="449.4" x2="177.5" y2="453.1"/>
<line x1="183.0" y1="449.4" x2="189.1" y2="456.4"/>
<line x1="183.0" y1="449.4" x2="161.1" y2="447.3"/>
<line x1="183.0" y1="449.4" x2="184.4" y2="437.0"/>
<line x1="183.0" y1="449.4" x2="156.7" y2="431.9"/>
<line x1="183.0" y1="449.4" x2="170.4" y2="425.6"/>
<line x1="183.0" y1="449.4" x2="193.1" y2="447.9"/>
<line x1="177.5" y1="453.1" x2="188.4" y2="470.6"/>
<line x1="177.5" y1="453.1" x2="167.7" y2="459.7"/>
<line x1="177.5" y1="453.1" x2="161.1" y2="447.3"/>
<line x1="177.5" y1="453.1" x2="184.4" y2="437.0"/>
<line x1="177.5" y1="453.1" x2="156.2" y2="422.6"/>
<line x1="177.5" y1="453.1" x2="153.6" y2="457.7"/>
<line x1="177.5" y1="453.1" x2="163.1" y2="423.1"/>
<line x1="189.1" y1="456.4" x2="189.5" y2="465.2"/>
<line x1="189.1" y1="456.4" x2="158.4" y2="439.8"/>
<line x1="189.1" y1="456.4" x2="193.1" y2="447.9"/>
<line x1="189.5" y1="465.2" x2="188.4" y2="470.6"/>
<line x1="189.5" y1="465.2" x2="167.7" y2="459.7"/>
<line x1="189.5" y1="465.2" x2="155.7" y2="467.3"/>
<line x1="188.4" y1="470.6" x2="174.6" y2="486.1"/>
<line x1="188.4" y1="470.6" x2="200.1" y2="441.3"/>
<line x1="188.4" y1="470.6" x2="171.8" y2="479.9"/>
<line x1="167.7" y1="459.7" x2="143.4" y2="435.0"/>
<line x1="167.7" y1="459.7" x2="161.1" y2="447.3"/>
<line x1="167.7" y1="459.7" x2="153.6" y2="457.7"/>
<line x1="155.7" y1="467.3" x2="169.6" y2="432.1"/>
<line x1="155.7" y1="467.3" x2="143.4" y2="435.0"/>
<line x1="155.7" y1="467.3" x2="136.0" y2="457.7"/>
<line x1="155.7" y1="467.3" x2="158.4" y2="439.8"/>
<line x1="155.7" y1="467.3" x2="124.8" y2="474.4"/>
<line x1="155.7" y1="467.3" x2="153.6" y2="457.7"/>
<line x1="155.7" y1="467.3" x2="151.3" y2="436.9"/>
<line x1="155.7" y1="467.3" x2="171.8" y2="479.9"/>
<line x1="155.7" y1="467.3" x2="153.0" y2="472.8"/>
<line x1="144.8" y1="474.3" x2="133.8" y2="481.5"/>
<line x1="144.8" y1="474.3" x2="147.2" y2="484.2"/>
<line x1="144.8" y1="474.3" x2="161.1" y2="447.3"/>
<line x1="144.8" y1="474.3" x2="174.6" y2="486.1"/>
<line x1="144.8" y1="474.3" x2="136.0" y2="457.7"/>
<line x1="144.8" y1="474.3" x2="140.9" y2="480.6"/>
<line x1="144.8" y1="474.3" x2="138.6" y2="465.6"/>
<line x1="144.8" y1="474.3" x2="153.0" y2="472.8"/>
<line x1="133.8" y1="481.5" x2="104.4" y2="457.5"/>
<line x1="133.8" y1="481.5" x2="140.9" y2="480.6"/>
<line x1="133.8" y1="481.5" x2="124.8" y2="474.4"/>
<line x1="113.1" y1="481.5" x2="114.2" y2="466.2"/>
<line x1="113.1" y1="481.5" x2="103.5" y2="489.9"/>
<line x1="113.1" y1="481.5" x2="108.3" y2="486.2"/>
<line x1="126.2" y1="466.2" x2="114.2" y2="466.2"/>
<line x1="126.2" y1="466.2" x2="136.0" y2="457.7"/>
<line x1="126.2" y1="466.2" x2="123.5" y2="452.6"/>
<line x1="126.2" y1="466.2" x2="129.9" y2="436.5"/>
<line x1="126.2" y1="466.2" x2="124.8" y2="474.4"/>
<line x1="126.2" y1="466.2" x2="138.6" y2="465.6"/>
<line x1="126.2" y1="466.2" x2="136.5" y2="435.6"/>
<line x1="114.2" y1="466.2" x2="104.4" y2="457.5"/>
<line x1="114.2" y1="466.2" x2="147.2" y2="484.2"/>
<line x1="114.2" y1="466.2" x2="124.8" y2="474.4"/>
<line x1="114.2" y1="466.2" x2="114.2" y2="457.7"/>
<line x1="104.4" y1="457.5" x2="108.3" y2="486.2"/>
<line x1="104.4" y1="457.5" x2="136.0" y2="457.7"/>
<line x1="104.4" y1="457.5" x2="123.5" y2="452.6"/>
<line x1="104.4" y1="457.5" x2="131.1" y2="442.5"/>
<line x1="104.4" y1="457.5" x2="109.0" y2="434.7"/>
<line x1="104.4" y1="457.5" x2="100.4" y2="453.4"/>
<line x1="104.4" y1="457.5" x2="114.2" y2="457.7"/>
<line x1="110.9" y1="288.6" x2="122.9" y2="289.2"/>
<line x1="110.9" y1="288.6" x2="80.1" y2="305.5"/>
<line x1="122.9" y1="289.2" x2="130.6" y2="291.8"/>
<line x1="130.6" y1="291.8" x2="138.9" y2="290.7"/>
<line x1="130.6" y1="291.8" x2="134.1" y2="298.4"/>
<line x1="130.6" y1="291.8" x2="143.3" y2="324.7"/>
<line x1="138.9" y1="290.7" x2="146.3" y2="290.7"/>
<line x1="138.9" y1="290.7" x2="158.5" y2="297.3"/>
<line x1="138.9" y1="290.7" x2="134.1" y2="298.4"/>
<line x1="146.3" y1="290.7" x2="158.5" y2="297.3"/>
<line x1="146.3" y1="290.7" x2="130.2" y2="313.4"/>
<line x1="158.5" y1="297.3" x2="145.9" y2="315.4"/>
<line x1="158.5" y1="297.3" x2="140.2" y2="305.6"/>
<line x1="145.9" y1="315.4" x2="134.9" y2="317.0"/>
<line x1="145.9" y1="315.4" x2="143.3" y2="324.7"/>
<line x1="145.9" y1="315.4" x2="140.2" y2="305.6"/>
<line x1="145.9" y1="315.4" x2="138.2" y2="326.3"/>
<line x1="134.9" y1="317.0" x2="130.2" y2="313.4"/>
<line x1="134.9" y1="317.0" x2="113.4" y2="345.2"/>
<line x1="134.9" y1="317.0" x2="143.3" y2="324.7"/>
<line x1="134.9" y1="317.0" x2="105.7" y2="303.4"/>
<line x1="134.9" y1="317.0" x2="132.4" y2="340.2"/>
<line x1="134.9" y1="317.0" x2="140.4" y2="333.8"/>
<line x1="134.9" y1="317.0" x2="138.2" y2="326.3"/>
<line x1="134.9" y1="317.0" x2="128.7" y2="321.7"/>
<line x1="164.4" y1="319.1" x2="178.6" y2="316.9"/>
<line x1="164.4" y1="319.1" x2="169.4" y2="328.5"/>
<line x1="164.4" y1="319.1" x2="146.6" y2="344.7"/>
<line x1="164.4" y1="319.1" x2="171.8" y2="345.9"/>
<line x1="178.6" y1="316.9" x2="169.4" y2="328.5"/>
<line x1="178.6" y1="316.9" x2="186.9" y2="326.3"/>
<line x1="178.6" y1="316.9" x2="176.4" y2="327.3"/>
<line x1="169.4" y1="328.5" x2="139.3" y2="346.0"/>
<line x1="169.4" y1="328.5" x2="176.4" y2="327.3"/>
<line x1="169.4" y1="328.5" x2="173.9" y2="358.8"/>
<line x1="169.4" y1="328.5" x2="134.6" y2="331.3"/>
<line x1="169.4" y1="328.5" x2="152.5" y2="352.1"/>
<line x1="169.4" y1="328.5" x2="140.4" y2="333.8"/>
<line x1="186.9" y1="326.3" x2="188.4" y2="342.5"/>
<line x1="186.9" y1="326.3" x2="176.4" y2="327.3"/>
<line x1="186.9" y1="326.3" x2="156.4" y2="343.4"/>
<line x1="186.9" y1="326.3" x2="185.4" y2="335.3"/>
<line x1="188.4" y1="342.5" x2="187.9" y2="358.8"/>
<line x1="188.4" y1="342.5" x2="173.9" y2="358.8"/>
<line x1="188.4" y1="342.5" x2="198.9" y2="342.3"/>
<line x1="188.4" y1="342.5" x2="185.4" y2="335.3"/>
<line x1="188.4" y1="342.5" x2="177.5" y2="341.3"/>
<line x1="194.3" y1="361.7" x2="166.6" y2="339.9"/>
<line x1="194.3" y1="361.7" x2="187.9" y2="358.8"/>
<line x1="194.3" y1="361.7" x2="173.9" y2="358.8"/>
<line x1="194.3" y1="361.7" x2="173.3" y2="384.4"/>
<line x1="194.3" y1="361.7" x2="198.9" y2="342.3"/>
<line x1="194.3" y1="361.7" x2="205.1" y2="377.0"/>
<line x1="194.3" y1="361.7" x2="168.4" y2="376.2"/>
<line x1="194.3" y1="361.7" x2="189.7" y2="369.0"/>
<line x1="160.0" y1="336.6" x2="166.6" y2="339.9"/>
<line x1="160.0" y1="336.6" x2="150.5" y2="357.6"/>
<line x1="160.0" y1="336.6" x2="127.9" y2="349.0"/>
<line x1="160.0" y1="336.6" x2="156.4" y2="343.4"/>
<line x1="160.0" y1="336.6" x2="135.9" y2="350.3"/>
<line x1="166.6" y1="339.9" x2="139.3" y2="346.0"/>
<line x1="166.6" y1="339.9" x2="187.9" y2="358.8"/>
<line x1="166.6" y1="339.9" x2="160.8" y2="361.5"/>
<line x1="166.6" y1="339.9" x2="171.8" y2="345.9"/>
<line x1="166.6" y1="339.9" x2="156.4" y2="343.4"/>
<line x1="166.6" y1="339.9" x2="177.5" y2="341.3"/>
<line x1="166.6" y1="339.9" x2="138.2" y2="326.3"/>
<line x1="139.3" y1="339.4" x2="139.3" y2="346.0"/>
<line x1="139.3" y1="339.4" x2="142.4" y2="375.8"/>
<line x1="139.3" y1="339.4" x2="132.4" y2="340.2"/>
<line x1="139.3" y1="339.4" x2="153.6" y2="372.8"/>
<line x1="139.3" y1="339.4" x2="140.4" y2="333.8"/>
<line x1="139.3" y1="346.0" x2="126.4" y2="336.5"/>
<line x1="139.3" y1="346.0" x2="173.9" y2="358.8"/>
<line x1="139.3" y1="346.0" x2="160.8" y2="361.5"/>
<line x1="139.3" y1="346.0" x2="146.6" y2="344.7"/>
<line x1="139.3" y1="346.0" x2="111.8" y2="329.4"/>
<line x1="139.3" y1="346.0" x2="124.3" y2="359.1"/>
<line x1="139.3" y1="346.0" x2="134.6" y2="331.3"/>
<line x1="139.3" y1="346.0" x2="150.5" y2="357.6"/>
<line x1="139.3" y1="346.0" x2="112.9" y2="358.4"/>
<line x1="139.3" y1="346.0" x2="127.9" y2="349.0"/>
<line x1="139.3" y1="346.0" x2="146.0" y2="337.4"/>
<line x1="139.3" y1="346.0" x2="135.9" y2="350.3"/>
<line x1="139.3" y1="346.0" x2="140.4" y2="333.8"/>
<line x1="139.3" y1="346.0" x2="111.5" y2="340.0"/>
<line x1="104.7" y1="327.8" x2="111.8" y2="329.4"/>
<line x1="104.7" y1="327.8" x2="114.6" y2="305.3"/>
<line x1="104.7" y1="327.8" x2="79.3" y2="339.4"/>
<line x1="104.7" y1="327.8" x2="93.9" y2="311.2"/>
<line x1="104.7" y1="327.8" x2="106.3" y2="321.6"/>
<line x1="104.7" y1="327.8" x2="111.5" y2="340.0"/>
<line x1="53.8" y1="331.3" x2="64.6" y2="328.9"/>
<line x1="53.8" y1="331.3" x2="60.9" y2="340.2"/>
<line x1="53.8" y1="331.3" x2="83.8" y2="341.6"/>
<line x1="119.7" y1="354.7" x2="119.7" y2="329.7"/>
<line x1="119.7" y1="354.7" x2="142.4" y2="375.8"/>
<line x1="119.7" y1="354.7" x2="124.3" y2="359.1"/>
<line x1="119.7" y1="354.7" x2="150.5" y2="357.6"/>
<line x1="119.7" y1="354.7" x2="127.9" y2="349.0"/>
<line x1="119.7" y1="354.7" x2="90.8" y2="346.8"/>
<line x1="90.4" y1="359.4" x2="107.1" y2="361.6"/>
<line x1="90.4" y1="359.4" x2="88.7" y2="329.8"/>
<line x1="90.4" y1="359.4" x2="95.4" y2="334.4"/>
<line x1="90.4" y1="359.4" x2="106.9" y2="338.3"/>
<line x1="90.4" y1="359.4" x2="84.9" y2="355.2"/>
<line x1="90.4" y1="359.4" x2="96.3" y2="357.5"/>
<line x1="90.4" y1="359.4" x2="113.4" y2="345.2"/>
<line x1="90.4" y1="359.4" x2="76.8" y2="354.7"/>
<line x1="90.4" y1="359.4" x2="77.1" y2="344.5"/>
<line x1="90.4" y1="359.4" x2="88.8" y2="367.2"/>
<line x1="90.4" y1="359.4" x2="77.4" y2="367.1"/>
<line x1="90.4" y1="359.4" x2="111.5" y2="340.0"/>
<line x1="119.4" y1="440.6" x2="130.9" y2="413.5"/>
<line x1="119.4" y1="440.6" x2="99.6" y2="443.8"/>
<line x1="119.4" y1="440.6" x2="136.9" y2="415.6"/>
<line x1="119.4" y1="440.6" x2="104.4" y2="420.6"/>
<line x1="119.4" y1="440.6" x2="123.5" y2="452.6"/>
<line x1="119.4" y1="440.6" x2="129.9" y2="436.5"/>
<line x1="119.4" y1="440.6" x2="124.7" y2="407.0"/>
<line x1="119.4" y1="440.6" x2="84.9" y2="433.5"/>
<line x1="119.4" y1="440.6" x2="136.5" y2="435.6"/>
<line x1="119.4" y1="440.6" x2="121.6" y2="431.4"/>
<line x1="131.4" y1="400.0" x2="150.1" y2="393.5"/>
<line x1="131.4" y1="400.0" x2="130.9" y2="413.5"/>
<line x1="131.4" y1="400.0" x2="128.5" y2="376.1"/>
<line x1="131.4" y1="400.0" x2="148.3" y2="415.1"/>
<line x1="131.4" y1="400.0" x2="137.0" y2="404.5"/>
<line x1="131.4" y1="400.0" x2="126.3" y2="393.3"/>
<line x1="131.4" y1="400.0" x2="139.2" y2="395.7"/>
<line x1="131.4" y1="400.0" x2="124.7" y2="407.0"/>
<line x1="131.4" y1="400.0" x2="101.5" y2="393.8"/>
<line x1="131.4" y1="400.0" x2="106.5" y2="382.1"/>
<line x1="131.4" y1="400.0" x2="97.9" y2="382.4"/>
<line x1="69.2" y1="303.9" x2="77.2" y2="327.2"/>
<line x1="69.2" y1="303.9" x2="72.2" y2="294.9"/>
<line x1="69.2" y1="303.9" x2="79.3" y2="339.4"/>
<line x1="69.2" y1="303.9" x2="82.3" y2="323.1"/>
<line x1="69.2" y1="303.9" x2="80.1" y2="305.5"/>
<line x1="107.1" y1="361.6" x2="119.7" y2="329.7"/>
<line x1="107.1" y1="361.6" x2="106.9" y2="338.3"/>
<line x1="107.1" y1="361.6" x2="139.7" y2="360.1"/>
<line x1="107.1" y1="361.6" x2="107.9" y2="346.6"/>
<line x1="107.1" y1="361.6" x2="116.2" y2="334.7"/>
<line x1="107.1" y1="361.6" x2="76.3" y2="372.7"/>
<line x1="107.1" y1="361.6" x2="76.8" y2="354.7"/>
<line x1="107.1" y1="361.6" x2="112.9" y2="358.4"/>
<line x1="107.1" y1="361.6" x2="126.3" y2="393.3"/>
<line x1="107.1" y1="361.6" x2="123.2" y2="389.5"/>
<line x1="107.1" y1="361.6" x2="105.2" y2="355.2"/>
<line x1="107.1" y1="361.6" x2="79.3" y2="339.4"/>
<line x1="107.1" y1="361.6" x2="88.8" y2="367.2"/>
<line x1="107.1" y1="361.6" x2="79.9" y2="385.8"/>
<line x1="107.1" y1="361.6" x2="111.5" y2="340.0"/>
<line x1="65.7" y1="370.9" x2="76.3" y2="372.7"/>
<line x1="65.7" y1="370.9" x2="77.1" y2="344.5"/>
<line x1="65.7" y1="370.9" x2="64.7" y2="382.5"/>
<line x1="65.7" y1="370.9" x2="77.4" y2="367.1"/>
<line x1="65.7" y1="370.9" x2="61.9" y2="362.1"/>
<line x1="62.9" y1="444.9" x2="67.8" y2="450.3"/>
<line x1="147.2" y1="484.2" x2="140.9" y2="480.6"/>
<line x1="147.2" y1="484.2" x2="153.0" y2="472.8"/>
<line x1="126.4" y1="336.5" x2="119.7" y2="329.7"/>
<line x1="126.4" y1="336.5" x2="111.8" y2="329.4"/>
<line x1="126.4" y1="336.5" x2="124.3" y2="359.1"/>
<line x1="126.4" y1="336.5" x2="112.9" y2="358.4"/>
<line x1="126.4" y1="336.5" x2="129.0" y2="329.8"/>
<line x1="126.4" y1="336.5" x2="143.3" y2="324.7"/>
<line x1="126.4" y1="336.5" x2="152.5" y2="352.1"/>
<line x1="126.4" y1="336.5" x2="140.2" y2="305.6"/>
<line x1="126.4" y1="336.5" x2="132.4" y2="340.2"/>
<line x1="126.4" y1="336.5" x2="111.8" y2="351.5"/>
<line x1="126.4" y1="336.5" x2="135.9" y2="350.3"/>
<line x1="126.4" y1="336.5" x2="121.5" y2="344.7"/>
<line x1="72.8" y1="386.7" x2="60.4" y2="407.1"/>
<line x1="72.8" y1="386.7" x2="58.6" y2="387.2"/>
<line x1="72.8" y1="386.7" x2="47.1" y2="390.3"/>
<line x1="72.8" y1="386.7" x2="64.7" y2="382.5"/>
<line x1="72.8" y1="386.7" x2="88.8" y2="367.2"/>
<line x1="72.8" y1="386.7" x2="101.5" y2="393.8"/>
<line x1="72.8" y1="386.7" x2="79.9" y2="385.8"/>
<line x1="152.3" y1="398.6" x2="150.1" y2="393.5"/>
<line x1="152.3" y1="398.6" x2="150.0" y2="426.8"/>
<line x1="152.3" y1="398.6" x2="158.9" y2="380.0"/>
<line x1="152.3" y1="398.6" x2="130.9" y2="413.5"/>
<line x1="152.3" y1="398.6" x2="128.5" y2="376.1"/>
<line x1="152.3" y1="398.6" x2="148.5" y2="383.8"/>
<line x1="152.3" y1="398.6" x2="136.9" y2="415.6"/>
<line x1="152.3" y1="398.6" x2="129.1" y2="383.7"/>
<line x1="152.3" y1="398.6" x2="126.3" y2="393.3"/>
<line x1="152.3" y1="398.6" x2="117.1" y2="411.5"/>
<line x1="152.3" y1="398.6" x2="153.1" y2="381.9"/>
<line x1="152.3" y1="398.6" x2="152.2" y2="409.7"/>
<line x1="152.3" y1="398.6" x2="149.6" y2="402.9"/>
<line x1="152.3" y1="398.6" x2="174.6" y2="401.7"/>
<line x1="150.1" y1="393.5" x2="155.9" y2="393.2"/>
<line x1="150.1" y1="393.5" x2="173.3" y2="384.4"/>
<line x1="150.1" y1="393.5" x2="161.5" y2="416.8"/>
<line x1="150.1" y1="393.5" x2="164.9" y2="404.9"/>
<line x1="150.1" y1="393.5" x2="148.5" y2="383.8"/>
<line x1="150.1" y1="393.5" x2="136.9" y2="415.6"/>
<line x1="150.1" y1="393.5" x2="137.0" y2="404.5"/>
<line x1="150.1" y1="393.5" x2="139.2" y2="395.7"/>
<line x1="150.1" y1="393.5" x2="155.9" y2="386.8"/>
<line x1="150.1" y1="393.5" x2="123.2" y2="389.5"/>
<line x1="150.1" y1="393.5" x2="174.6" y2="401.7"/>
<line x1="97.2" y1="391.7" x2="119.7" y2="406.9"/>
<line x1="97.2" y1="391.7" x2="98.0" y2="401.5"/>
<line x1="97.2" y1="391.7" x2="96.3" y2="357.5"/>
<line x1="97.2" y1="391.7" x2="107.6" y2="414.0"/>
<line x1="97.2" y1="391.7" x2="117.1" y2="411.5"/>
<line x1="97.2" y1="391.7" x2="110.1" y2="392.0"/>
<line x1="97.2" y1="391.7" x2="64.7" y2="382.5"/>
<line x1="97.2" y1="391.7" x2="101.5" y2="393.8"/>
<line x1="97.2" y1="391.7" x2="106.5" y2="382.1"/>
<line x1="97.2" y1="391.7" x2="97.9" y2="382.4"/>
<line x1="88.7" y1="329.8" x2="95.4" y2="334.4"/>
<line x1="88.7" y1="329.8" x2="89.5" y2="319.8"/>
<line x1="88.7" y1="329.8" x2="84.9" y2="355.2"/>
<line x1="88.7" y1="329.8" x2="64.6" y2="328.9"/>
<line x1="88.7" y1="329.8" x2="99.9" y2="340.3"/>
<line x1="88.7" y1="329.8" x2="100.6" y2="319.3"/>
<line x1="88.7" y1="329.8" x2="82.3" y2="323.1"/>
<line x1="88.7" y1="329.8" x2="96.4" y2="322.6"/>
<line x1="95.4" y1="334.4" x2="99.1" y2="346.7"/>
<line x1="95.4" y1="334.4" x2="113.4" y2="345.2"/>
<line x1="95.4" y1="334.4" x2="112.9" y2="358.4"/>
<line x1="95.4" y1="334.4" x2="99.9" y2="340.3"/>
<line x1="95.4" y1="334.4" x2="74.7" y2="321.8"/>
<line x1="95.4" y1="334.4" x2="91.8" y2="340.4"/>
<line x1="95.4" y1="334.4" x2="90.8" y2="346.8"/>
<line x1="150.0" y1="426.8" x2="130.9" y2="413.5"/>
<line x1="150.0" y1="426.8" x2="169.6" y2="432.1"/>
<line x1="150.0" y1="426.8" x2="156.2" y2="422.6"/>
<line x1="150.0" y1="426.8" x2="156.7" y2="431.9"/>
<line x1="158.9" y1="380.0" x2="146.6" y2="344.7"/>
<line x1="158.9" y1="380.0" x2="128.5" y2="376.1"/>
<line x1="158.9" y1="380.0" x2="164.9" y2="404.9"/>
<line x1="158.9" y1="380.0" x2="148.3" y2="415.1"/>
<line x1="158.9" y1="380.0" x2="148.5" y2="383.8"/>
<line x1="158.9" y1="380.0" x2="129.1" y2="383.7"/>
<line x1="158.9" y1="380.0" x2="171.8" y2="345.9"/>
<line x1="158.9" y1="380.0" x2="150.5" y2="357.6"/>
<line x1="158.9" y1="380.0" x2="155.9" y2="386.8"/>
<line x1="158.9" y1="380.0" x2="153.1" y2="381.9"/>
<line x1="158.9" y1="380.0" x2="153.6" y2="372.8"/>
<line x1="158.9" y1="380.0" x2="149.6" y2="402.9"/>
<line x1="158.9" y1="380.0" x2="174.6" y2="401.7"/>
<line x1="119.7" y1="329.7" x2="146.6" y2="344.7"/>
<line x1="119.7" y1="329.7" x2="111.8" y2="329.4"/>
<line x1="119.7" y1="329.7" x2="116.2" y2="334.7"/>
<line x1="119.7" y1="329.7" x2="119.3" y2="323.3"/>
<line x1="119.7" y1="329.7" x2="134.6" y2="331.3"/>
<line x1="119.7" y1="329.7" x2="113.4" y2="345.2"/>
<line x1="119.7" y1="329.7" x2="146.0" y2="337.4"/>
<line x1="119.7" y1="329.7" x2="132.4" y2="340.2"/>
<line x1="119.7" y1="329.7" x2="111.8" y2="351.5"/>
<line x1="119.7" y1="329.7" x2="93.9" y2="311.2"/>
<line x1="119.7" y1="329.7" x2="140.4" y2="333.8"/>
<line x1="119.7" y1="329.7" x2="138.2" y2="326.3"/>
<line x1="119.7" y1="329.7" x2="90.8" y2="346.8"/>
<line x1="130.9" y1="413.5" x2="128.5" y2="376.1"/>
<line x1="130.9" y1="413.5" x2="136.9" y2="415.6"/>
<line x1="130.9" y1="413.5" x2="137.0" y2="404.5"/>
<line x1="130.9" y1="413.5" x2="129.1" y2="383.7"/>
<line x1="130.9" y1="413.5" x2="117.1" y2="411.5"/>
<line x1="130.9" y1="413.5" x2="109.0" y2="434.7"/>
<line x1="130.9" y1="413.5" x2="124.7" y2="407.0"/>
<line x1="130.9" y1="413.5" x2="110.1" y2="392.0"/>
<line x1="130.9" y1="413.5" x2="115.8" y2="419.4"/>
<line x1="130.9" y1="413.5" x2="151.3" y2="436.9"/>
<line x1="130.9" y1="413.5" x2="156.7" y2="431.9"/>
<line x1="130.9" y1="413.5" x2="136.5" y2="435.6"/>
<line x1="170.8" y1="353.7" x2="187.9" y2="358.8"/>
<line x1="170.8" y1="353.7" x2="173.9" y2="358.8"/>
<line x1="170.8" y1="353.7" x2="160.8" y2="361.5"/>
<line x1="170.8" y1="353.7" x2="146.6" y2="344.7"/>
<line x1="170.8" y1="353.7" x2="148.5" y2="383.8"/>
<line x1="170.8" y1="353.7" x2="171.8" y2="345.9"/>
<line x1="170.8" y1="353.7" x2="155.9" y2="386.8"/>
<line x1="170.8" y1="353.7" x2="165.8" y2="364.1"/>
<line x1="170.8" y1="353.7" x2="177.5" y2="341.3"/>
<line x1="111.4" y1="425.7" x2="104.4" y2="420.6"/>
<line x1="111.4" y1="425.7" x2="109.0" y2="434.7"/>
<line x1="111.4" y1="425.7" x2="115.8" y2="419.4"/>
<line x1="111.4" y1="425.7" x2="114.2" y2="457.7"/>
<line x1="111.4" y1="425.7" x2="121.6" y2="431.4"/>
<line x1="111.4" y1="425.7" x2="115.4" y2="399.7"/>
<line x1="155.9" y1="393.2" x2="139.7" y2="360.1"/>
<line x1="155.9" y1="393.2" x2="128.5" y2="376.1"/>
<line x1="155.9" y1="393.2" x2="148.5" y2="383.8"/>
<line x1="155.9" y1="393.2" x2="160.7" y2="396.0"/>
<line x1="155.9" y1="393.2" x2="155.9" y2="386.8"/>
<line x1="155.9" y1="393.2" x2="172.7" y2="418.5"/>
<line x1="155.9" y1="393.2" x2="156.2" y2="422.6"/>
<line x1="155.9" y1="393.2" x2="153.6" y2="372.8"/>
<line x1="176.4" y1="327.3" x2="160.8" y2="361.5"/>
<line x1="176.4" y1="327.3" x2="198.9" y2="342.3"/>
<line x1="176.4" y1="327.3" x2="156.4" y2="343.4"/>
<line x1="176.4" y1="327.3" x2="185.4" y2="335.3"/>
<line x1="187.9" y1="358.8" x2="173.9" y2="358.8"/>
<line x1="187.9" y1="358.8" x2="152.5" y2="352.1"/>
<line x1="187.9" y1="358.8" x2="189.7" y2="369.0"/>
<line x1="89.5" y1="319.8" x2="106.9" y2="338.3"/>
<line x1="89.5" y1="319.8" x2="111.8" y2="329.4"/>
<line x1="89.5" y1="319.8" x2="77.2" y2="327.2"/>
<line x1="89.5" y1="319.8" x2="99.9" y2="340.3"/>
<line x1="89.5" y1="319.8" x2="105.7" y2="303.4"/>
<line x1="89.5" y1="319.8" x2="93.9" y2="311.2"/>
<line x1="89.5" y1="319.8" x2="82.3" y2="323.1"/>
<line x1="89.5" y1="319.8" x2="96.4" y2="322.6"/>
<line x1="89.5" y1="319.8" x2="91.8" y2="340.4"/>
<line x1="89.5" y1="319.8" x2="71.8" y2="352.2"/>
<line x1="89.5" y1="319.8" x2="80.1" y2="305.5"/>
<line x1="89.5" y1="319.8" x2="90.8" y2="346.8"/>
<line x1="173.9" y1="358.8" x2="160.8" y2="361.5"/>
<line x1="173.9" y1="358.8" x2="171.8" y2="345.9"/>
<line x1="173.9" y1="358.8" x2="165.8" y2="364.1"/>
<line x1="173.9" y1="358.8" x2="152.5" y2="352.1"/>
<line x1="106.9" y1="338.3" x2="111.8" y2="329.4"/>
<line x1="106.9" y1="338.3" x2="107.9" y2="346.6"/>
<line x1="106.9" y1="338.3" x2="77.2" y2="327.2"/>
<line x1="106.9" y1="338.3" x2="124.3" y2="359.1"/>
<line x1="106.9" y1="338.3" x2="111.9" y2="320.1"/>
<line x1="106.9" y1="338.3" x2="119.3" y2="323.3"/>
<line x1="106.9" y1="338.3" x2="114.6" y2="305.3"/>
<line x1="106.9" y1="338.3" x2="99.9" y2="340.3"/>
<line x1="106.9" y1="338.3" x2="74.7" y2="321.8"/>
<line x1="106.9" y1="338.3" x2="121.5" y2="344.7"/>
<line x1="106.9" y1="338.3" x2="140.4" y2="333.8"/>
<line x1="106.9" y1="338.3" x2="111.5" y2="340.0"/>
<line x1="173.3" y1="384.4" x2="182.8" y2="385.8"/>
<line x1="173.3" y1="384.4" x2="176.2" y2="376.7"/>
<line x1="173.3" y1="384.4" x2="166.7" y2="384.4"/>
<line x1="173.3" y1="384.4" x2="153.1" y2="381.9"/>
<line x1="160.8" y1="361.5" x2="139.7" y2="360.1"/>
<line x1="160.8" y1="361.5" x2="131.6" y2="361.9"/>
<line x1="160.8" y1="361.5" x2="171.8" y2="345.9"/>
<line x1="160.8" y1="361.5" x2="176.2" y2="376.7"/>
<line x1="160.8" y1="361.5" x2="150.5" y2="357.6"/>
<line x1="160.8" y1="361.5" x2="165.8" y2="364.1"/>
<line x1="160.8" y1="361.5" x2="152.5" y2="352.1"/>
<line x1="160.8" y1="361.5" x2="177.5" y2="341.3"/>
<line x1="146.6" y1="344.7" x2="111.8" y2="329.4"/>
<line x1="146.6" y1="344.7" x2="134.6" y2="331.3"/>
<line x1="146.6" y1="344.7" x2="113.4" y2="345.2"/>
<line x1="146.6" y1="344.7" x2="127.9" y2="349.0"/>
<line x1="146.6" y1="344.7" x2="146.0" y2="337.4"/>
<line x1="146.6" y1="344.7" x2="156.4" y2="343.4"/>
<line x1="146.6" y1="344.7" x2="153.6" y2="372.8"/>
<line x1="139.7" y1="360.1" x2="131.6" y2="361.9"/>
<line x1="139.7" y1="360.1" x2="129.1" y2="383.7"/>
<line x1="139.7" y1="360.1" x2="171.8" y2="345.9"/>
<line x1="139.7" y1="360.1" x2="150.5" y2="357.6"/>
<line x1="139.7" y1="360.1" x2="112.9" y2="358.4"/>
<line x1="139.7" y1="360.1" x2="126.3" y2="393.3"/>
<line x1="139.7" y1="360.1" x2="139.2" y2="395.7"/>
<line x1="139.7" y1="360.1" x2="153.1" y2="381.9"/>
<line x1="139.7" y1="360.1" x2="135.9" y2="350.3"/>
<line x1="139.7" y1="360.1" x2="140.4" y2="333.8"/>
<line x1="128.5" y1="376.1" x2="142.4" y2="375.8"/>
<line x1="128.5" y1="376.1" x2="119.7" y2="406.9"/>
<line x1="128.5" y1="376.1" x2="131.6" y2="361.9"/>
<line x1="128.5" y1="376.1" x2="129.1" y2="383.7"/>
<line x1="128.5" y1="376.1" x2="112.9" y2="358.4"/>
<line x1="128.5" y1="376.1" x2="123.2" y2="389.5"/>
<line x1="128.5" y1="376.1" x2="132.4" y2="340.2"/>
<line x1="128.5" y1="376.1" x2="111.8" y2="351.5"/>
<line x1="161.5" y1="416.8" x2="137.0" y2="404.5"/>
<line x1="161.5" y1="416.8" x2="139.2" y2="395.7"/>
<line x1="161.5" y1="416.8" x2="155.9" y2="386.8"/>
<line x1="161.5" y1="416.8" x2="129.9" y2="436.5"/>
<line x1="161.5" y1="416.8" x2="143.6" y2="399.8"/>
<line x1="161.5" y1="416.8" x2="172.7" y2="418.5"/>
<line x1="161.5" y1="416.8" x2="156.2" y2="422.6"/>
<line x1="161.5" y1="416.8" x2="136.5" y2="435.6"/>
<line x1="161.5" y1="416.8" x2="163.1" y2="423.1"/>
<line x1="161.5" y1="416.8" x2="152.2" y2="409.7"/>
<line x1="161.5" y1="416.8" x2="170.4" y2="425.6"/>
<line x1="111.8" y1="329.4" x2="107.9" y2="346.6"/>
<line x1="111.8" y1="329.4" x2="77.2" y2="327.2"/>
<line x1="111.8" y1="329.4" x2="116.2" y2="334.7"/>
<line x1="111.8" y1="329.4" x2="111.9" y2="320.1"/>
<line x1="111.8" y1="329.4" x2="131.6" y2="361.9"/>
<line x1="111.8" y1="329.4" x2="119.3" y2="323.3"/>
<line x1="111.8" y1="329.4" x2="134.6" y2="331.3"/>
<line x1="111.8" y1="329.4" x2="113.4" y2="345.2"/>
<line x1="111.8" y1="329.4" x2="127.9" y2="349.0"/>
<line x1="111.8" y1="329.4" x2="105.2" y2="355.2"/>
<line x1="111.8" y1="329.4" x2="91.8" y2="340.4"/>
<line x1="111.8" y1="329.4" x2="140.4" y2="333.8"/>
<line x1="111.8" y1="329.4" x2="128.7" y2="321.7"/>
<line x1="164.9" y1="404.9" x2="137.0" y2="404.5"/>
<line x1="164.9" y1="404.9" x2="176.2" y2="376.7"/>
<line x1="164.9" y1="404.9" x2="160.7" y2="396.0"/>
<line x1="164.9" y1="404.9" x2="158.4" y2="439.8"/>
<line x1="164.9" y1="404.9" x2="195.1" y2="382.4"/>
<line x1="164.9" y1="404.9" x2="174.6" y2="401.7"/>
<line x1="142.4" y1="375.8" x2="148.5" y2="383.8"/>
<line x1="142.4" y1="375.8" x2="129.1" y2="383.7"/>
<line x1="142.4" y1="375.8" x2="150.5" y2="357.6"/>
<line x1="142.4" y1="375.8" x2="153.1" y2="381.9"/>
<line x1="142.4" y1="375.8" x2="153.6" y2="372.8"/>
<line x1="142.4" y1="375.8" x2="152.2" y2="409.7"/>
<line x1="142.4" y1="375.8" x2="121.5" y2="344.7"/>
<line x1="142.4" y1="375.8" x2="137.6" y2="386.6"/>
<line x1="148.3" y1="415.1" x2="136.9" y2="415.6"/>
<line x1="148.3" y1="415.1" x2="160.7" y2="396.0"/>
<line x1="148.3" y1="415.1" x2="155.9" y2="386.8"/>
<line x1="148.3" y1="415.1" x2="143.6" y2="399.8"/>
<line x1="148.3" y1="415.1" x2="156.2" y2="422.6"/>
<line x1="148.3" y1="415.1" x2="136.5" y2="435.6"/>
<line x1="148.3" y1="415.1" x2="152.2" y2="409.7"/>
<line x1="148.3" y1="415.1" x2="121.6" y2="431.4"/>
<line x1="107.9" y1="346.6" x2="113.4" y2="345.2"/>
<line x1="107.9" y1="346.6" x2="99.9" y2="340.3"/>
<line x1="107.9" y1="346.6" x2="77.1" y2="344.5"/>
<line x1="107.9" y1="346.6" x2="105.2" y2="355.2"/>
<line x1="107.9" y1="346.6" x2="111.8" y2="351.5"/>
<line x1="107.9" y1="346.6" x2="82.3" y2="323.1"/>
<line x1="107.9" y1="346.6" x2="106.3" y2="321.6"/>
<line x1="107.9" y1="346.6" x2="106.5" y2="382.1"/>
<line x1="107.9" y1="346.6" x2="111.5" y2="340.0"/>
<line x1="107.9" y1="346.6" x2="128.7" y2="321.7"/>
<line x1="148.5" y1="383.8" x2="136.9" y2="415.6"/>
<line x1="148.5" y1="383.8" x2="126.3" y2="393.3"/>
<line x1="148.5" y1="383.8" x2="160.7" y2="396.0"/>
<line x1="148.5" y1="383.8" x2="155.9" y2="386.8"/>
<line x1="148.5" y1="383.8" x2="152.5" y2="352.1"/>
<line x1="148.5" y1="383.8" x2="153.1" y2="381.9"/>
<line x1="148.5" y1="383.8" x2="137.6" y2="386.6"/>
<line x1="99.6" y1="443.8" x2="123.5" y2="452.6"/>
<line x1="99.6" y1="443.8" x2="129.9" y2="436.5"/>
<line x1="99.6" y1="443.8" x2="109.0" y2="434.7"/>
<line x1="99.6" y1="443.8" x2="100.4" y2="453.4"/>
<line x1="99.6" y1="443.8" x2="136.5" y2="435.6"/>
<line x1="77.2" y1="327.2" x2="99.1" y2="346.7"/>
<line x1="77.2" y1="327.2" x2="99.9" y2="340.3"/>
<line x1="77.2" y1="327.2" x2="77.1" y2="344.5"/>
<line x1="77.2" y1="327.2" x2="110.7" y2="310.0"/>
<line x1="77.2" y1="327.2" x2="74.7" y2="321.8"/>
<line x1="77.2" y1="327.2" x2="93.9" y2="311.2"/>
<line x1="77.2" y1="327.2" x2="82.3" y2="323.1"/>
<line x1="77.2" y1="327.2" x2="96.4" y2="322.6"/>
<line x1="77.2" y1="327.2" x2="91.8" y2="340.4"/>
<line x1="77.2" y1="327.2" x2="70.5" y2="333.4"/>
<line x1="77.2" y1="327.2" x2="106.3" y2="321.6"/>
<line x1="77.2" y1="327.2" x2="83.8" y2="341.6"/>
<line x1="77.2" y1="327.2" x2="111.5" y2="340.0"/>
<line x1="136.9" y1="415.6" x2="104.4" y2="420.6"/>
<line x1="136.9" y1="415.6" x2="137.0" y2="404.5"/>
<line x1="136.9" y1="415.6" x2="139.2" y2="395.7"/>
<line x1="136.9" y1="415.6" x2="107.6" y2="414.0"/>
<line x1="136.9" y1="415.6" x2="124.7" y2="407.0"/>
<line x1="136.9" y1="415.6" x2="115.8" y2="419.4"/>
<line x1="136.9" y1="415.6" x2="156.7" y2="431.9"/>
<line x1="136.9" y1="415.6" x2="137.6" y2="386.6"/>
<line x1="124.3" y1="359.1" x2="131.6" y2="361.9"/>
<line x1="124.3" y1="359.1" x2="129.1" y2="383.7"/>
<line x1="124.3" y1="359.1" x2="112.9" y2="358.4"/>
<line x1="124.3" y1="359.1" x2="129.0" y2="329.8"/>
<line x1="124.3" y1="359.1" x2="146.0" y2="337.4"/>
<line x1="124.3" y1="359.1" x2="99.9" y2="340.3"/>
<line x1="124.3" y1="359.1" x2="132.4" y2="340.2"/>
<line x1="124.3" y1="359.1" x2="111.8" y2="351.5"/>
<line x1="124.3" y1="359.1" x2="88.8" y2="367.2"/>
<line x1="124.3" y1="359.1" x2="121.5" y2="344.7"/>
<line x1="124.3" y1="359.1" x2="97.9" y2="382.4"/>
<line x1="116.2" y1="334.7" x2="111.9" y2="320.1"/>
<line x1="116.2" y1="334.7" x2="134.6" y2="331.3"/>
<line x1="116.2" y1="334.7" x2="99.9" y2="340.3"/>
<line x1="116.2" y1="334.7" x2="140.4" y2="333.8"/>
<line x1="76.3" y1="372.7" x2="84.9" y2="355.2"/>
<line x1="76.3" y1="372.7" x2="99.1" y2="346.7"/>
<line x1="76.3" y1="372.7" x2="60.4" y2="407.1"/>
<line x1="76.3" y1="372.7" x2="91.8" y2="340.4"/>
<line x1="76.3" y1="372.7" x2="88.8" y2="367.2"/>
<line x1="76.3" y1="372.7" x2="101.5" y2="393.8"/>
<line x1="76.3" y1="372.7" x2="77.4" y2="367.1"/>
<line x1="76.3" y1="372.7" x2="106.5" y2="382.1"/>
<line x1="76.3" y1="372.7" x2="71.8" y2="352.2"/>
<line x1="76.3" y1="372.7" x2="79.9" y2="385.8"/>
<line x1="76.3" y1="372.7" x2="90.8" y2="346.8"/>
<line x1="76.6" y1="424.5" x2="90.7" y2="418.6"/>
<line x1="76.6" y1="424.5" x2="104.4" y2="420.6"/>
<line x1="76.6" y1="424.5" x2="98.0" y2="401.5"/>
<line x1="76.6" y1="424.5" x2="72.6" y2="413.8"/>
<line x1="76.6" y1="424.5" x2="84.9" y2="433.5"/>
<line x1="76.6" y1="424.5" x2="69.3" y2="433.2"/>
<line x1="111.9" y1="320.1" x2="119.3" y2="323.3"/>
<line x1="111.9" y1="320.1" x2="113.4" y2="345.2"/>
<line x1="111.9" y1="320.1" x2="127.9" y2="349.0"/>
<line x1="111.9" y1="320.1" x2="110.7" y2="310.0"/>
<line x1="111.9" y1="320.1" x2="111.8" y2="351.5"/>
<line x1="111.9" y1="320.1" x2="109.4" y2="315.4"/>
<line x1="111.9" y1="320.1" x2="82.3" y2="323.1"/>
<line x1="111.9" y1="320.1" x2="106.3" y2="321.6"/>
<line x1="111.9" y1="320.1" x2="121.5" y2="344.7"/>
<line x1="90.7" y1="418.6" x2="107.6" y2="414.0"/>
<line x1="90.7" y1="418.6" x2="81.5" y2="409.2"/>
<line x1="90.7" y1="418.6" x2="110.1" y2="392.0"/>
<line x1="90.7" y1="418.6" x2="92.4" y2="430.1"/>
<line x1="90.7" y1="418.6" x2="95.0" y2="413.1"/>
<line x1="90.7" y1="418.6" x2="79.9" y2="385.8"/>
<line x1="90.7" y1="418.6" x2="115.4" y2="399.7"/>
<line x1="169.6" y1="432.1" x2="158.4" y2="439.8"/>
<line x1="169.6" y1="432.1" x2="172.7" y2="418.5"/>
<line x1="169.6" y1="432.1" x2="156.7" y2="431.9"/>
<line x1="169.6" y1="432.1" x2="180.4" y2="426.5"/>
<line x1="169.6" y1="432.1" x2="163.1" y2="423.1"/>
<line x1="169.6" y1="432.1" x2="170.4" y2="425.6"/>
<line x1="169.6" y1="432.1" x2="193.1" y2="447.9"/>
<line x1="84.9" y1="355.2" x2="64.6" y2="328.9"/>
<line x1="84.9" y1="355.2" x2="76.8" y2="354.7"/>
<line x1="84.9" y1="355.2" x2="64.9" y2="350.2"/>
<line x1="84.9" y1="355.2" x2="74.7" y2="321.8"/>
<line x1="84.9" y1="355.2" x2="82.3" y2="323.1"/>
<line x1="84.9" y1="355.2" x2="88.8" y2="367.2"/>
<line x1="84.9" y1="355.2" x2="60.9" y2="340.2"/>
<line x1="84.9" y1="355.2" x2="77.4" y2="367.1"/>
<line x1="84.9" y1="355.2" x2="70.5" y2="333.4"/>
<line x1="84.9" y1="355.2" x2="71.8" y2="352.2"/>
<line x1="84.9" y1="355.2" x2="97.9" y2="382.4"/>
<line x1="84.9" y1="355.2" x2="90.8" y2="346.8"/>
<line x1="104.4" y1="420.6" x2="85.7" y2="401.4"/>
<line x1="104.4" y1="420.6" x2="107.6" y2="414.0"/>
<line x1="104.4" y1="420.6" x2="123.2" y2="389.5"/>
<line x1="104.4" y1="420.6" x2="86.4" y2="392.7"/>
<line x1="104.4" y1="420.6" x2="95.0" y2="413.1"/>
<line x1="104.4" y1="420.6" x2="115.8" y2="419.4"/>
<line x1="104.4" y1="420.6" x2="101.5" y2="393.8"/>
<line x1="119.7" y1="406.9" x2="143.4" y2="435.0"/>
<line x1="119.7" y1="406.9" x2="117.1" y2="411.5"/>
<line x1="119.7" y1="406.9" x2="124.7" y2="407.0"/>
<line x1="119.7" y1="406.9" x2="115.8" y2="419.4"/>
<line x1="119.7" y1="406.9" x2="101.5" y2="393.8"/>
<line x1="119.7" y1="406.9" x2="152.2" y2="409.7"/>
<line x1="119.7" y1="406.9" x2="97.9" y2="382.4"/>
<line x1="119.7" y1="406.9" x2="115.4" y2="399.7"/>
<line x1="137.0" y1="404.5" x2="139.2" y2="395.7"/>
<line x1="137.0" y1="404.5" x2="160.7" y2="396.0"/>
<line x1="137.0" y1="404.5" x2="155.9" y2="386.8"/>
<line x1="137.0" y1="404.5" x2="143.6" y2="399.8"/>
<line x1="137.0" y1="404.5" x2="156.2" y2="422.6"/>
<line x1="137.0" y1="404.5" x2="110.1" y2="392.0"/>
<line x1="137.0" y1="404.5" x2="106.5" y2="382.1"/>
<line x1="137.0" y1="404.5" x2="137.6" y2="386.6"/>
<line x1="198.9" y1="342.3" x2="185.4" y2="335.3"/>
<line x1="131.6" y1="361.9" x2="129.1" y2="383.7"/>
<line x1="131.6" y1="361.9" x2="134.6" y2="331.3"/>
<line x1="131.6" y1="361.9" x2="113.4" y2="345.2"/>
<line x1="131.6" y1="361.9" x2="139.2" y2="395.7"/>
<line x1="131.6" y1="361.9" x2="152.5" y2="352.1"/>
<line x1="131.6" y1="361.9" x2="110.1" y2="392.0"/>
<line x1="131.6" y1="361.9" x2="111.8" y2="351.5"/>
<line x1="131.6" y1="361.9" x2="140.4" y2="333.8"/>
<line x1="131.6" y1="361.9" x2="137.6" y2="386.6"/>
<line x1="103.5" y1="489.9" x2="108.3" y2="486.2"/>
<line x1="134.1" y1="298.4" x2="130.2" y2="313.4"/>
<line x1="134.1" y1="298.4" x2="105.7" y2="303.4"/>
<line x1="134.1" y1="298.4" x2="140.2" y2="305.6"/>
<line x1="134.1" y1="298.4" x2="106.3" y2="321.6"/>
<line x1="134.1" y1="298.4" x2="140.4" y2="333.8"/>
<line x1="99.1" y1="346.7" x2="113.4" y2="345.2"/>
<line x1="99.1" y1="346.7" x2="127.9" y2="349.0"/>
<line x1="99.1" y1="346.7" x2="99.9" y2="340.3"/>
<line x1="99.1" y1="346.7" x2="111.8" y2="351.5"/>
<line x1="99.1" y1="346.7" x2="93.9" y2="311.2"/>
<line x1="99.1" y1="346.7" x2="91.8" y2="340.4"/>
<line x1="99.1" y1="346.7" x2="70.5" y2="333.4"/>
<line x1="99.1" y1="346.7" x2="83.8" y2="341.6"/>
<line x1="99.1" y1="346.7" x2="90.8" y2="346.8"/>
<line x1="98.0" y1="401.5" x2="107.6" y2="414.0"/>
<line x1="98.0" y1="401.5" x2="95.0" y2="413.1"/>
<line x1="98.0" y1="401.5" x2="88.8" y2="367.2"/>
<line x1="98.0" y1="401.5" x2="101.5" y2="393.8"/>
<line x1="98.0" y1="401.5" x2="84.9" y2="433.5"/>
<line x1="129.1" y1="383.7" x2="126.3" y2="393.3"/>
<line x1="129.1" y1="383.7" x2="123.2" y2="389.5"/>
<line x1="129.1" y1="383.7" x2="111.8" y2="351.5"/>
<line x1="129.1" y1="383.7" x2="106.5" y2="382.1"/>
<line x1="129.1" y1="383.7" x2="153.9" y2="405.2"/>
<line x1="129.1" y1="383.7" x2="137.6" y2="386.6"/>
<line x1="129.1" y1="383.7" x2="115.4" y2="399.7"/>
<line x1="119.3" y1="323.3" x2="130.2" y2="313.4"/>
<line x1="119.3" y1="323.3" x2="113.4" y2="345.2"/>
<line x1="119.3" y1="323.3" x2="127.9" y2="349.0"/>
<line x1="119.3" y1="323.3" x2="132.4" y2="340.2"/>
<line x1="119.3" y1="323.3" x2="93.9" y2="311.2"/>
<line x1="119.3" y1="323.3" x2="82.3" y2="323.1"/>
<line x1="119.3" y1="323.3" x2="128.7" y2="321.7"/>
<line x1="171.8" y1="345.9" x2="143.3" y2="324.7"/>
<line x1="171.8" y1="345.9" x2="152.5" y2="352.1"/>
<line x1="171.8" y1="345.9" x2="185.4" y2="335.3"/>
<line x1="171.8" y1="345.9" x2="177.5" y2="341.3"/>
<line x1="96.3" y1="357.5" x2="112.9" y2="358.4"/>
<line x1="96.3" y1="357.5" x2="77.1" y2="344.5"/>
<line x1="96.3" y1="357.5" x2="110.1" y2="392.0"/>
<line x1="96.3" y1="357.5" x2="88.8" y2="367.2"/>
<line x1="182.8" y1="385.8" x2="176.2" y2="376.7"/>
<line x1="182.8" y1="385.8" x2="153.1" y2="381.9"/>
<line x1="182.8" y1="385.8" x2="149.6" y2="402.9"/>
<line x1="182.8" y1="385.8" x2="153.9" y2="405.2"/>
<line x1="176.2" y1="376.7" x2="168.4" y2="376.2"/>
<line x1="176.2" y1="376.7" x2="189.7" y2="369.0"/>
<line x1="176.2" y1="376.7" x2="166.7" y2="384.4"/>
<line x1="176.2" y1="376.7" x2="149.6" y2="402.9"/>
<line x1="176.2" y1="376.7" x2="153.9" y2="405.2"/>
<line x1="143.4" y1="435.0" x2="117.1" y2="411.5"/>
<line x1="143.4" y1="435.0" x2="156.2" y2="422.6"/>
<line x1="143.4" y1="435.0" x2="151.3" y2="436.9"/>
<line x1="143.4" y1="435.0" x2="136.5" y2="435.6"/>
<line x1="143.4" y1="435.0" x2="149.6" y2="402.9"/>
<line x1="114.6" y1="305.3" x2="130.2" y2="313.4"/>
<line x1="114.6" y1="305.3" x2="99.9" y2="340.3"/>
<line x1="114.6" y1="305.3" x2="105.7" y2="303.4"/>
<line x1="114.6" y1="305.3" x2="110.7" y2="310.0"/>
<line x1="114.6" y1="305.3" x2="82.3" y2="323.1"/>
<line x1="114.6" y1="305.3" x2="96.4" y2="322.6"/>
<line x1="64.6" y1="328.9" x2="74.7" y2="321.8"/>
<line x1="64.6" y1="328.9" x2="96.4" y2="322.6"/>
<line x1="64.6" y1="328.9" x2="60.9" y2="340.2"/>
<line x1="64.6" y1="328.9" x2="70.5" y2="333.4"/>
<line x1="64.6" y1="328.9" x2="83.8" y2="341.6"/>
<line x1="134.6" y1="331.3" x2="113.4" y2="345.2"/>
<line x1="134.6" y1="331.3" x2="150.5" y2="357.6"/>
<line x1="134.6" y1="331.3" x2="112.9" y2="358.4"/>
<line x1="134.6" y1="331.3" x2="129.0" y2="329.8"/>
<line x1="134.6" y1="331.3" x2="132.4" y2="340.2"/>
<line x1="134.6" y1="331.3" x2="140.4" y2="333.8"/>
<line x1="134.6" y1="331.3" x2="111.5" y2="340.0"/>
<line x1="134.6" y1="331.3" x2="138.2" y2="326.3"/>
<line x1="205.1" y1="377.0" x2="189.7" y2="369.0"/>
<line x1="205.1" y1="377.0" x2="195.1" y2="382.4"/>
<line x1="205.1" y1="377.0" x2="208.3" y2="387.4"/>
<line x1="108.3" y1="486.2" x2="124.8" y2="474.4"/>
<line x1="161.1" y1="447.3" x2="158.4" y2="439.8"/>
<line x1="161.1" y1="447.3" x2="153.6" y2="457.7"/>
<line x1="161.1" y1="447.3" x2="151.3" y2="436.9"/>
<line x1="161.1" y1="447.3" x2="170.4" y2="425.6"/>
<line x1="161.1" y1="447.3" x2="193.1" y2="447.9"/>
<line x1="130.2" y1="313.4" x2="140.2" y2="305.6"/>
<line x1="130.2" y1="313.4" x2="140.4" y2="333.8"/>
<line x1="130.2" y1="313.4" x2="138.2" y2="326.3"/>
<line x1="130.2" y1="313.4" x2="128.7" y2="321.7"/>
<line x1="113.4" y1="345.2" x2="112.9" y2="358.4"/>
<line x1="113.4" y1="345.2" x2="129.0" y2="329.8"/>
<line x1="113.4" y1="345.2" x2="143.3" y2="324.7"/>
<line x1="113.4" y1="345.2" x2="111.8" y2="351.5"/>
<line x1="113.4" y1="345.2" x2="121.5" y2="344.7"/>
<line x1="113.4" y1="345.2" x2="111.5" y2="340.0"/>
<line x1="67.8" y1="450.3" x2="92.4" y2="430.1"/>
<line x1="76.8" y1="354.7" x2="77.1" y2="344.5"/>
<line x1="76.8" y1="354.7" x2="71.8" y2="352.2"/>
<line x1="76.8" y1="354.7" x2="79.9" y2="385.8"/>
<line x1="150.5" y1="357.6" x2="152.5" y2="352.1"/>
<line x1="150.5" y1="357.6" x2="132.4" y2="340.2"/>
<line x1="150.5" y1="357.6" x2="135.9" y2="350.3"/>
<line x1="150.5" y1="357.6" x2="177.5" y2="341.3"/>
<line x1="150.5" y1="357.6" x2="153.6" y2="372.8"/>
<line x1="174.6" y1="486.1" x2="171.8" y2="479.9"/>
<line x1="18.0" y1="388.6" x2="21.5" y2="381.6"/>
<line x1="168.4" y1="376.2" x2="139.2" y2="395.7"/>
<line x1="168.4" y1="376.2" x2="160.7" y2="396.0"/>
<line x1="168.4" y1="376.2" x2="165.8" y2="364.1"/>
<line x1="168.4" y1="376.2" x2="143.6" y2="399.8"/>
<line x1="168.4" y1="376.2" x2="166.7" y2="384.4"/>
<line x1="168.4" y1="376.2" x2="149.6" y2="402.9"/>
<line x1="168.4" y1="376.2" x2="153.9" y2="405.2"/>
<line x1="60.4" y1="407.1" x2="72.6" y2="413.8"/>
<line x1="60.4" y1="407.1" x2="35.8" y2="415.3"/>
<line x1="60.4" y1="407.1" x2="84.9" y2="433.5"/>
<line x1="184.4" y1="437.0" x2="156.2" y2="422.6"/>
<line x1="184.4" y1="437.0" x2="180.4" y2="426.5"/>
<line x1="184.4" y1="437.0" x2="193.1" y2="447.9"/>
<line x1="112.9" y1="358.4" x2="105.2" y2="355.2"/>
<line x1="112.9" y1="358.4" x2="110.1" y2="392.0"/>
<line x1="112.9" y1="358.4" x2="111.8" y2="351.5"/>
<line x1="112.9" y1="358.4" x2="121.5" y2="344.7"/>
<line x1="72.2" y1="294.9" x2="74.7" y2="321.8"/>
<line x1="72.2" y1="294.9" x2="93.9" y2="311.2"/>
<line x1="72.2" y1="294.9" x2="80.1" y2="305.5"/>
<line x1="129.0" y1="329.8" x2="146.0" y2="337.4"/>
<line x1="129.0" y1="329.8" x2="111.5" y2="340.0"/>
<line x1="129.0" y1="329.8" x2="128.7" y2="321.7"/>
<line x1="126.3" y1="393.3" x2="160.7" y2="396.0"/>
<line x1="126.3" y1="393.3" x2="117.1" y2="411.5"/>
<line x1="126.3" y1="393.3" x2="123.2" y2="389.5"/>
<line x1="126.3" y1="393.3" x2="124.7" y2="407.0"/>
<line x1="126.3" y1="393.3" x2="153.1" y2="381.9"/>
<line x1="126.3" y1="393.3" x2="115.8" y2="419.4"/>
<line x1="126.3" y1="393.3" x2="137.6" y2="386.6"/>
<line x1="127.9" y1="349.0" x2="156.4" y2="343.4"/>
<line x1="127.9" y1="349.0" x2="132.4" y2="340.2"/>
<line x1="127.9" y1="349.0" x2="135.9" y2="350.3"/>
<line x1="127.9" y1="349.0" x2="153.6" y2="372.8"/>
<line x1="127.9" y1="349.0" x2="121.5" y2="344.7"/>
<line x1="127.9" y1="349.0" x2="111.5" y2="340.0"/>
<line x1="127.9" y1="349.0" x2="128.7" y2="321.7"/>
<line x1="127.9" y1="349.0" x2="90.8" y2="346.8"/>
<line x1="139.2" y1="395.7" x2="143.6" y2="399.8"/>
<line x1="139.2" y1="395.7" x2="101.5" y2="393.8"/>
<line x1="85.7" y1="401.4" x2="117.1" y2="411.5"/>
<line x1="85.7" y1="401.4" x2="81.5" y2="409.2"/>
<line x1="85.7" y1="401.4" x2="86.4" y2="392.7"/>
<line x1="85.7" y1="401.4" x2="115.8" y2="419.4"/>
<line x1="85.7" y1="401.4" x2="106.5" y2="382.1"/>
<line x1="85.7" y1="401.4" x2="97.9" y2="382.4"/>
<line x1="146.0" y1="337.4" x2="140.4" y2="333.8"/>
<line x1="136.0" y1="457.7" x2="131.1" y2="442.5"/>
<line x1="136.0" y1="457.7" x2="129.9" y2="436.5"/>
<line x1="136.0" y1="457.7" x2="138.6" y2="465.6"/>
<line x1="136.0" y1="457.7" x2="121.6" y2="431.4"/>
<line x1="160.7" y1="396.0" x2="172.7" y2="418.5"/>
<line x1="160.7" y1="396.0" x2="156.2" y2="422.6"/>
<line x1="160.7" y1="396.0" x2="124.7" y2="407.0"/>
<line x1="160.7" y1="396.0" x2="174.6" y2="401.7"/>
<line x1="99.9" y1="340.3" x2="74.7" y2="321.8"/>
<line x1="99.9" y1="340.3" x2="132.4" y2="340.2"/>
<line x1="99.9" y1="340.3" x2="82.3" y2="323.1"/>
<line x1="99.9" y1="340.3" x2="106.3" y2="321.6"/>
<line x1="99.9" y1="340.3" x2="111.5" y2="340.0"/>
<line x1="99.9" y1="340.3" x2="128.7" y2="321.7"/>
<line x1="99.9" y1="340.3" x2="90.8" y2="346.8"/>
<line x1="107.6" y1="414.0" x2="117.1" y2="411.5"/>
<line x1="107.6" y1="414.0" x2="115.8" y2="419.4"/>
<line x1="123.5" y1="452.6" x2="131.1" y2="442.5"/>
<line x1="123.5" y1="452.6" x2="158.4" y2="439.8"/>
<line x1="123.5" y1="452.6" x2="115.8" y2="419.4"/>
<line x1="123.5" y1="452.6" x2="136.5" y2="435.6"/>
<line x1="123.5" y1="452.6" x2="114.2" y2="457.7"/>
<line x1="117.1" y1="411.5" x2="129.9" y2="436.5"/>
<line x1="117.1" y1="411.5" x2="109.0" y2="434.7"/>
<line x1="117.1" y1="411.5" x2="124.7" y2="407.0"/>
<line x1="117.1" y1="411.5" x2="110.1" y2="392.0"/>
<line x1="117.1" y1="411.5" x2="95.0" y2="413.1"/>
<line x1="117.1" y1="411.5" x2="115.8" y2="419.4"/>
<line x1="117.1" y1="411.5" x2="101.5" y2="393.8"/>
<line x1="117.1" y1="411.5" x2="153.9" y2="405.2"/>
<line x1="117.1" y1="411.5" x2="115.4" y2="399.7"/>
<line x1="77.1" y1="344.5" x2="74.7" y2="321.8"/>
<line x1="77.1" y1="344.5" x2="111.8" y2="351.5"/>
<line x1="77.1" y1="344.5" x2="79.3" y2="339.4"/>
<line x1="77.1" y1="344.5" x2="96.4" y2="322.6"/>
<line x1="77.1" y1="344.5" x2="91.8" y2="340.4"/>
<line x1="77.1" y1="344.5" x2="71.8" y2="352.2"/>
<line x1="77.1" y1="344.5" x2="83.8" y2="341.6"/>
<line x1="155.9" y1="386.8" x2="123.2" y2="389.5"/>
<line x1="155.9" y1="386.8" x2="143.6" y2="399.8"/>
<line x1="155.9" y1="386.8" x2="153.1" y2="381.9"/>
<line x1="140.9" y1="480.6" x2="138.6" y2="465.6"/>
<line x1="123.2" y1="389.5" x2="86.4" y2="392.7"/>
<line x1="123.2" y1="389.5" x2="153.1" y2="381.9"/>
<line x1="123.2" y1="389.5" x2="153.9" y2="405.2"/>
<line x1="123.2" y1="389.5" x2="115.4" y2="399.7"/>
<line x1="131.1" y1="442.5" x2="129.9" y2="436.5"/>
<line x1="131.1" y1="442.5" x2="115.8" y2="419.4"/>
<line x1="131.1" y1="442.5" x2="138.6" y2="465.6"/>
<line x1="131.1" y1="442.5" x2="136.5" y2="435.6"/>
<line x1="131.1" y1="442.5" x2="153.0" y2="472.8"/>
<line x1="81.5" y1="409.2" x2="72.6" y2="413.8"/>
<line x1="81.5" y1="409.2" x2="95.0" y2="413.1"/>
<line x1="81.5" y1="409.2" x2="79.9" y2="385.8"/>
<line x1="129.9" y1="436.5" x2="124.7" y2="407.0"/>
<line x1="129.9" y1="436.5" x2="138.6" y2="465.6"/>
<line x1="129.9" y1="436.5" x2="136.5" y2="435.6"/>
<line x1="129.9" y1="436.5" x2="121.6" y2="431.4"/>
<line x1="143.3" y1="324.7" x2="109.4" y2="315.4"/>
<line x1="143.3" y1="324.7" x2="140.4" y2="333.8"/>
<line x1="143.3" y1="324.7" x2="138.2" y2="326.3"/>
<line x1="200.1" y1="441.3" x2="180.4" y2="426.5"/>
<line x1="200.1" y1="441.3" x2="193.1" y2="447.9"/>
<line x1="100.6" y1="319.3" x2="111.8" y2="351.5"/>
<line x1="100.6" y1="319.3" x2="93.9" y2="311.2"/>
<line x1="100.6" y1="319.3" x2="96.4" y2="322.6"/>
<line x1="100.6" y1="319.3" x2="70.5" y2="333.4"/>
<line x1="100.6" y1="319.3" x2="121.5" y2="344.7"/>
<line x1="158.4" y1="439.8" x2="153.6" y2="457.7"/>
<line x1="158.4" y1="439.8" x2="151.3" y2="436.9"/>
<line x1="158.4" y1="439.8" x2="156.7" y2="431.9"/>
<line x1="158.4" y1="439.8" x2="193.1" y2="447.9"/>
<line x1="64.9" y1="350.2" x2="46.9" y2="353.4"/>
<line x1="64.9" y1="350.2" x2="60.9" y2="340.2"/>
<line x1="64.9" y1="350.2" x2="71.8" y2="352.2"/>
<line x1="64.9" y1="350.2" x2="90.8" y2="346.8"/>
<line x1="64.9" y1="350.2" x2="61.9" y2="362.1"/>
<line x1="165.8" y1="364.1" x2="153.1" y2="381.9"/>
<line x1="105.7" y1="303.4" x2="110.7" y2="310.0"/>
<line x1="105.2" y1="355.2" x2="110.1" y2="392.0"/>
<line x1="105.2" y1="355.2" x2="111.8" y2="351.5"/>
<line x1="105.2" y1="355.2" x2="106.5" y2="382.1"/>
<line x1="105.2" y1="355.2" x2="90.8" y2="346.8"/>
<line x1="72.6" y1="413.8" x2="35.8" y2="415.3"/>
<line x1="72.6" y1="413.8" x2="69.3" y2="433.2"/>
<line x1="143.6" y1="399.8" x2="156.7" y2="431.9"/>
<line x1="143.6" y1="399.8" x2="149.6" y2="402.9"/>
<line x1="143.6" y1="399.8" x2="170.4" y2="425.6"/>
<line x1="152.5" y1="352.1" x2="156.4" y2="343.4"/>
<line x1="152.5" y1="352.1" x2="135.9" y2="350.3"/>
<line x1="152.5" y1="352.1" x2="137.6" y2="386.6"/>
<line x1="152.5" y1="352.1" x2="138.2" y2="326.3"/>
<line x1="110.7" y1="310.0" x2="140.2" y2="305.6"/>
<line x1="110.7" y1="310.0" x2="132.4" y2="340.2"/>
<line x1="110.7" y1="310.0" x2="109.4" y2="315.4"/>
<line x1="172.7" y1="418.5" x2="180.4" y2="426.5"/>
<line x1="172.7" y1="418.5" x2="163.1" y2="423.1"/>
<line x1="172.7" y1="418.5" x2="170.4" y2="425.6"/>
<line x1="156.2" y1="422.6" x2="151.3" y2="436.9"/>
<line x1="156.2" y1="422.6" x2="163.1" y2="423.1"/>
<line x1="109.0" y1="434.7" x2="95.0" y2="413.1"/>
<line x1="109.0" y1="434.7" x2="121.6" y2="431.4"/>
<line x1="124.7" y1="407.0" x2="110.1" y2="392.0"/>
<line x1="124.7" y1="407.0" x2="137.6" y2="386.6"/>
<line x1="124.7" y1="407.0" x2="115.4" y2="399.7"/>
<line x1="140.2" y1="305.6" x2="140.4" y2="333.8"/>
<line x1="86.4" y1="392.7" x2="101.5" y2="393.8"/>
<line x1="86.4" y1="392.7" x2="79.9" y2="385.8"/>
<line x1="86.4" y1="392.7" x2="115.4" y2="399.7"/>
<line x1="46.9" y1="353.4" x2="60.9" y2="340.2"/>
<line x1="46.9" y1="353.4" x2="71.8" y2="352.2"/>
<line x1="46.9" y1="353.4" x2="61.9" y2="362.1"/>
<line x1="110.1" y1="392.0" x2="95.0" y2="413.1"/>
<line x1="110.1" y1="392.0" x2="115.8" y2="419.4"/>
<line x1="110.1" y1="392.0" x2="88.8" y2="367.2"/>
<line x1="110.1" y1="392.0" x2="101.5" y2="393.8"/>
<line x1="110.1" y1="392.0" x2="106.5" y2="382.1"/>
<line x1="110.1" y1="392.0" x2="97.9" y2="382.4"/>
<line x1="110.1" y1="392.0" x2="79.9" y2="385.8"/>
<line x1="110.1" y1="392.0" x2="115.4" y2="399.7"/>
<line x1="92.4" y1="430.1" x2="84.9" y2="433.5"/>
<line x1="92.4" y1="430.1" x2="114.2" y2="457.7"/>
<line x1="92.4" y1="430.1" x2="121.6" y2="431.4"/>
<line x1="58.6" y1="387.2" x2="47.1" y2="390.3"/>
<line x1="58.6" y1="387.2" x2="64.7" y2="382.5"/>
<line x1="58.6" y1="387.2" x2="71.8" y2="352.2"/>
<line x1="189.7" y1="369.0" x2="166.7" y2="384.4"/>
<line x1="189.7" y1="369.0" x2="185.4" y2="335.3"/>
<line x1="189.7" y1="369.0" x2="177.5" y2="341.3"/>
<line x1="189.7" y1="369.0" x2="195.1" y2="382.4"/>
<line x1="189.7" y1="369.0" x2="208.3" y2="387.4"/>
<line x1="74.7" y1="321.8" x2="79.3" y2="339.4"/>
<line x1="74.7" y1="321.8" x2="82.3" y2="323.1"/>
<line x1="74.7" y1="321.8" x2="70.5" y2="333.4"/>
<line x1="74.7" y1="321.8" x2="106.3" y2="321.6"/>
<line x1="74.7" y1="321.8" x2="83.8" y2="341.6"/>
<line x1="95.0" y1="413.1" x2="101.5" y2="393.8"/>
<line x1="95.0" y1="413.1" x2="106.5" y2="382.1"/>
<line x1="95.0" y1="413.1" x2="121.6" y2="431.4"/>
<line x1="124.8" y1="474.4" x2="153.6" y2="457.7"/>
<line x1="156.4" y1="343.4" x2="138.2" y2="326.3"/>
<line x1="132.4" y1="340.2" x2="111.8" y2="351.5"/>
<line x1="132.4" y1="340.2" x2="135.9" y2="350.3"/>
<line x1="132.4" y1="340.2" x2="121.5" y2="344.7"/>
<line x1="132.4" y1="340.2" x2="111.5" y2="340.0"/>
<line x1="132.4" y1="340.2" x2="128.7" y2="321.7"/>
<line x1="111.8" y1="351.5" x2="106.3" y2="321.6"/>
<line x1="111.8" y1="351.5" x2="121.5" y2="344.7"/>
<line x1="111.8" y1="351.5" x2="90.8" y2="346.8"/>
<line x1="79.3" y1="339.4" x2="60.9" y2="340.2"/>
<line x1="79.3" y1="339.4" x2="83.8" y2="341.6"/>
<line x1="166.7" y1="384.4" x2="153.1" y2="381.9"/>
<line x1="166.7" y1="384.4" x2="153.6" y2="372.8"/>
<line x1="166.7" y1="384.4" x2="149.6" y2="402.9"/>
<line x1="153.1" y1="381.9" x2="149.6" y2="402.9"/>
<line x1="153.1" y1="381.9" x2="174.6" y2="401.7"/>
<line x1="135.9" y1="350.3" x2="138.2" y2="326.3"/>
<line x1="109.4" y1="315.4" x2="106.3" y2="321.6"/>
<line x1="93.9" y1="311.2" x2="96.4" y2="322.6"/>
<line x1="93.9" y1="311.2" x2="91.8" y2="340.4"/>
<line x1="93.9" y1="311.2" x2="106.3" y2="321.6"/>
<line x1="93.9" y1="311.2" x2="80.1" y2="305.5"/>
<line x1="47.1" y1="390.3" x2="79.9" y2="385.8"/>
<line x1="153.6" y1="457.7" x2="136.5" y2="435.6"/>
<line x1="153.6" y1="457.7" x2="153.0" y2="472.8"/>
<line x1="115.8" y1="419.4" x2="101.5" y2="393.8"/>
<line x1="115.8" y1="419.4" x2="149.6" y2="402.9"/>
<line x1="151.3" y1="436.9" x2="156.7" y2="431.9"/>
<line x1="151.3" y1="436.9" x2="136.5" y2="435.6"/>
<line x1="34.5" y1="389.4" x2="21.5" y2="381.6"/>
<line x1="82.3" y1="323.1" x2="91.8" y2="340.4"/>
<line x1="185.4" y1="335.3" x2="177.5" y2="341.3"/>
<line x1="64.7" y1="382.5" x2="77.4" y2="367.1"/>
<line x1="96.4" y1="322.6" x2="83.8" y2="341.6"/>
<line x1="96.4" y1="322.6" x2="111.5" y2="340.0"/>
<line x1="91.8" y1="340.4" x2="77.4" y2="367.1"/>
<line x1="91.8" y1="340.4" x2="121.5" y2="344.7"/>
<line x1="91.8" y1="340.4" x2="80.1" y2="305.5"/>
<line x1="91.8" y1="340.4" x2="90.8" y2="346.8"/>
<line x1="88.8" y1="367.2" x2="101.5" y2="393.8"/>
<line x1="88.8" y1="367.2" x2="77.4" y2="367.1"/>
<line x1="88.8" y1="367.2" x2="97.9" y2="382.4"/>
<line x1="88.8" y1="367.2" x2="79.9" y2="385.8"/>
<line x1="88.8" y1="367.2" x2="83.8" y2="341.6"/>
<line x1="60.9" y1="340.2" x2="70.5" y2="333.4"/>
<line x1="60.9" y1="340.2" x2="83.8" y2="341.6"/>
<line x1="60.9" y1="340.2" x2="90.8" y2="346.8"/>
<line x1="101.5" y1="393.8" x2="106.5" y2="382.1"/>
<line x1="101.5" y1="393.8" x2="115.4" y2="399.7"/>
<line x1="77.4" y1="367.1" x2="83.8" y2="341.6"/>
<line x1="77.4" y1="367.1" x2="90.8" y2="346.8"/>
<line x1="77.4" y1="367.1" x2="61.9" y2="362.1"/>
<line x1="70.5" y1="333.4" x2="71.8" y2="352.2"/>
<line x1="70.5" y1="333.4" x2="90.8" y2="346.8"/>
<line x1="180.4" y1="426.5" x2="170.4" y2="425.6"/>
<line x1="100.4" y1="453.4" x2="121.6" y2="431.4"/>
<line x1="106.5" y1="382.1" x2="97.9" y2="382.4"/>
<line x1="106.5" y1="382.1" x2="137.6" y2="386.6"/>
<line x1="136.5" y1="435.6" x2="170.4" y2="425.6"/>
<line x1="195.1" y1="382.4" x2="208.3" y2="387.4"/>
<line x1="163.1" y1="423.1" x2="170.4" y2="425.6"/>
<line x1="71.8" y1="352.2" x2="61.9" y2="362.1"/>
<line x1="153.6" y1="372.8" x2="153.9" y2="405.2"/>
<line x1="152.2" y1="409.7" x2="149.6" y2="402.9"/>
<line x1="152.2" y1="409.7" x2="174.6" y2="401.7"/>
<line x1="152.2" y1="409.7" x2="153.9" y2="405.2"/>
<line x1="121.5" y1="344.7" x2="111.5" y2="340.0"/>
<line x1="97.9" y1="382.4" x2="79.9" y2="385.8"/>
<line x1="97.9" y1="382.4" x2="115.4" y2="399.7"/>
<line x1="149.6" y1="402.9" x2="153.9" y2="405.2"/>
<line x1="149.6" y1="402.9" x2="170.4" y2="425.6"/>
<line x1="83.8" y1="341.6" x2="80.1" y2="305.5"/>
<line x1="83.8" y1="341.6" x2="90.8" y2="346.8"/>
<line x1="121.6" y1="431.4" x2="115.4" y2="399.7"/>
<line x1="171.8" y1="479.9" x2="153.0" y2="472.8"/>
<line x1="170.4" y1="425.6" x2="193.1" y2="447.9"/>
</g>
<g stroke="#8a8a8a" stroke-width="0.6">
<circle cx="25.1" cy="387.6" r="2.4" fill="#f6f7f4"/>
<circle cx="40.4" cy="381.0" r="2.4" fill="#f2f2f6"/>
<circle cx="25.1" cy="397.5" r="2.4" fill="#f4f6f2"/>
<circle cx="39.3" cy="397.9" r="2.4" fill="#f5f5f5"/>
<circle cx="15.3" cy="410.6" r="2.4" fill="#f5f5f5"/>
<circle cx="25.1" cy="409.5" r="2.4" fill="#f6f7f4"/>
<circle cx="40.4" cy="408.0" r="2.4" fill="#f4f6f2"/>
<circle cx="14.8" cy="419.3" r="2.4" fill="#f4f6f2"/>
<circle cx="16.4" cy="426.9" r="2.4" fill="#f4f6f2"/>
<circle cx="27.9" cy="425.2" r="2.4" fill="#f5f5f5"/>
<circle cx="26.2" cy="432.0" r="2.4" fill="#f3f6f6"/>
<circle cx="39.3" cy="424.3" r="2.4" fill="#f2f2f6"/>
<circle cx="45.9" cy="419.7" r="2.4" fill="#f4f6f2"/>
<circle cx="53.5" cy="418.9" r="2.4" fill="#f6f7f4"/>
<circle cx="54.1" cy="429.1" r="2.4" fill="#f3f6f6"/>
<circle cx="59.0" cy="439.4" r="2.4" fill="#f3f6f6"/>
<circle cx="54.1" cy="445.9" r="2.4" fill="#f2f2f6"/>
<circle cx="59.0" cy="450.3" r="2.4" fill="#f2f2f6"/>
<circle cx="50.2" cy="464.0" r="2.4" fill="#f6f7f4"/>
<circle cx="71.0" cy="470.0" r="2.4" fill="#f4f6f2"/>
<circle cx="65.5" cy="485.2" r="2.4" fill="#f2f2f6"/>
<circle cx="74.2" cy="457.5" r="2.4" fill="#f6f7f4"/>
<circle cx="87.3" cy="475.0" r="2.4" fill="#f4f6f2"/>
<circle cx="84.0" cy="457.5" r="2.4" fill="#f2f2f6"/>
<circle cx="96.0" cy="460.8" r="2.4" fill="#f2f2f6"/>
<circle cx="100.4" cy="467.3" r="2.4" fill="#f6f7f4"/>
<circle cx="50.2" cy="399.7" r="2.4" fill="#f6f7f4"/>
<circle cx="53.5" cy="404.0" r="2.4" fill="#f2f2f6"/>
<circle cx="66.6" cy="424.8" r="2.4" fill="#f2f2f6"/>
<circle cx="75.3" cy="433.5" r="2.4" fill="#f2f2f6"/>
<circle cx="79.7" cy="439.4" r="2.4" fill="#f4f6f2"/>
<circle cx="188.4" cy="392.0" r="2.4" fill="#f3f6f6"/>
<circle cx="185.2" cy="397.5" r="2.4" fill="#f2f2f6"/>
<circle cx="197.2" cy="398.6" r="2.4" fill="#f5f5f5"/>
<circle cx="197.2" cy="408.0" r="2.4" fill="#f3f6f6"/>
<circle cx="181.2" cy="407.3" r="2.4" fill="#f6f7f4"/>
<circle cx="195.0" cy="423.7" r="2.4" fill="#f6f7f4"/>
<circle cx="194.3" cy="432.4" r="2.4" fill="#f6f7f4"/>
<circle cx="189.1" cy="440.0" r="2.4" fill="#f5f5f5"/>
<circle cx="183.0" cy="449.4" r="2.4" fill="#f2f2f6"/>
<circle cx="177.5" cy="453.1" r="2.4" fill="#f4f6f2"/>
<circle cx="189.1" cy="456.4" r="2.4" fill="#f3f6f6"/>
<circle cx="189.5" cy="465.2" r="2.4" fill="#f2f2f6"/>
<circle cx="188.4" cy="470.6" r="2.4" fill="#f4f6f2"/>
<circle cx="167.7" cy="459.7" r="2.4" fill="#f2f2f6"/>
<circle cx="155.7" cy="467.3" r="2.4" fill="#f3f6f6"/>
<circle cx="144.8" cy="474.3" r="2.4" fill="#f2f2f6"/>
<circle cx="133.8" cy="481.5" r="2.4" fill="#f3f6f6"/>
<circle cx="113.1" cy="481.5" r="2.4" fill="#f6f7f4"/>
<circle cx="126.2" cy="466.2" r="2.4" fill="#f5f5f5"/>
<circle cx="114.2" cy="466.2" r="2.4" fill="#f5f5f5"/>
<circle cx="104.4" cy="457.5" r="2.4" fill="#f3f6f6"/>
<circle cx="110.9" cy="288.6" r="2.4" fill="#f2f2f6"/>
<circle cx="122.9" cy="289.2" r="2.4" fill="#f5f5f5"/>
<circle cx="130.6" cy="291.8" r="2.4" fill="#f5f5f5"/>
<circle cx="138.9" cy="290.7" r="2.4" fill="#f6f7f4"/>
<circle cx="146.3" cy="290.7" r="2.4" fill="#f6f7f4"/>
<circle cx="158.5" cy="297.3" r="2.4" fill="#f2f2f6"/>
<circle cx="145.9" cy="315.4" r="2.4" fill="#f2f2f6"/>
<circle cx="134.9" cy="317.0" r="2.4" fill="#f4f6f2"/>
<circle cx="164.4" cy="319.1" r="2.4" fill="#f4f6f2"/>
<circle cx="178.6" cy="316.9" r="2.4" fill="#f4f6f2"/>
<circle cx="169.4" cy="328.5" r="2.4" fill="#f5f5f5"/>
<circle cx="186.9" cy="326.3" r="2.4" fill="#f2f2f6"/>
<circle cx="188.4" cy="342.5" r="2.4" fill="#f3f6f6"/>
<circle cx="194.3" cy="361.7" r="2.4" fill="#f3f6f6"/>
<circle cx="160.0" cy="336.6" r="2.4" fill="#f5f5f5"/>
<circle cx="166.6" cy="339.9" r="2.4" fill="#f2f2f6"/>
<circle cx="139.3" cy="339.4" r="2.4" fill="#f6f7f4"/>
<circle cx="139.3" cy="346.0" r="2.4" fill="#f6f7f4"/>
<circle cx="104.7" cy="327.8" r="2.4" fill="#f4f6f2"/>
<circle cx="53.8" cy="331.3" r="2.4" fill="#f5f5f5"/>
<circle cx="119.7" cy="354.7" r="2.4" fill="#f6f7f4"/>
<circle cx="90.4" cy="359.4" r="2.4" fill="#f5f5f5"/>
<circle cx="119.4" cy="440.6" r="2.4" fill="#f2f2f6"/>
<circle cx="131.4" cy="400.0" r="2.4" fill="#f6f7f4"/>
<circle cx="69.2" cy="303.9" r="2.4" fill="#f2f2f6"/>
<circle cx="107.1" cy="361.6" r="2.4" fill="#f5f5f5"/>
<circle cx="65.7" cy="370.9" r="2.4" fill="#f3f6f6"/>
<circle cx="62.9" cy="444.9" r="2.4" fill="#f2f2f6"/>
<circle cx="147.2" cy="484.2" r="2.4" fill="#f3f6f6"/>
<circle cx="126.4" cy="336.5" r="2.4" fill="#f6f7f4"/>
<circle cx="72.8" cy="386.7" r="2.4" fill="#f2f2f6"/>
<circle cx="152.3" cy="398.6" r="2.4" fill="#f4f6f2"/>
<circle cx="150.1" cy="393.5" r="2.4" fill="#f4f6f2"/>
<circle cx="97.2" cy="391.7" r="2.4" fill="#f6f7f4"/>
<circle cx="88.7" cy="329.8" r="2.4" fill="#f2f2f6"/>
<circle cx="95.4" cy="334.4" r="2.4" fill="#f3f6f6"/>
<circle cx="150.0" cy="426.8" r="2.4" fill="#f3f6f6"/>
<circle cx="158.9" cy="380.0" r="2.4" fill="#f6f7f4"/>
<circle cx="119.7" cy="329.7" r="2.4" fill="#f4f6f2"/>
<circle cx="130.9" cy="413.5" r="2.4" fill="#f2f2f6"/>
<circle cx="170.8" cy="353.7" r="2.4" fill="#f6f7f4"/>
<circle cx="111.4" cy="425.7" r="2.4" fill="#f2f2f6"/>
<circle cx="155.9" cy="393.2" r="2.4" fill="#f5f5f5"/>
<circle cx="176.4" cy="327.3" r="2.4" fill="#f4f6f2"/>
<circle cx="187.9" cy="358.8" r="2.4" fill="#f4f6f2"/>
<circle cx="89.5" cy="319.8" r="2.4" fill="#f2f2f6"/>
<circle cx="173.9" cy="358.8" r="2.4" fill="#f4f6f2"/>
<circle cx="106.9" cy="338.3" r="2.4" fill="#f2f2f6"/>
<circle cx="173.3" cy="384.4" r="2.4" fill="#f2f2f6"/>
<circle cx="160.8" cy="361.5" r="2.4" fill="#f4f6f2"/>
<circle cx="146.6" cy="344.7" r="2.4" fill="#f2f2f6"/>
<circle cx="139.7" cy="360.1" r="2.4" fill="#f2f2f6"/>
<circle cx="128.5" cy="376.1" r="2.4" fill="#f2f2f6"/>
<circle cx="161.5" cy="416.8" r="2.4" fill="#f6f7f4"/>
<circle cx="111.8" cy="329.4" r="2.4" fill="#f5f5f5"/>
<circle cx="164.9" cy="404.9" r="2.4" fill="#f3f6f6"/>
<circle cx="142.4" cy="375.8" r="2.4" fill="#f4f6f2"/>
<circle cx="148.3" cy="415.1" r="2.4" fill="#f2f2f6"/>
<circle cx="107.9" cy="346.6" r="2.4" fill="#f3f6f6"/>
<circle cx="148.5" cy="383.8" r="2.4" fill="#f6f7f4"/>
<circle cx="99.6" cy="443.8" r="2.4" fill="#f5f5f5"/>
<circle cx="77.2" cy="327.2" r="2.4" fill="#f2f2f6"/>
<circle cx="136.9" cy="415.6" r="2.4" fill="#f6f7f4"/>
<circle cx="124.3" cy="359.1" r="2.4" fill="#f2f2f6"/>
<circle cx="116.2" cy="334.7" r="2.4" fill="#f5f5f5"/>
<circle cx="76.3" cy="372.7" r="2.4" fill="#f3f6f6"/>
<circle cx="76.6" cy="424.5" r="2.4" fill="#f6f7f4"/>
<circle cx="111.9" cy="320.1" r="2.4" fill="#f2f2f6"/>
<circle cx="90.7" cy="418.6" r="2.4" fill="#f3f6f6"/>
<circle cx="169.6" cy="432.1" r="2.4" fill="#f4f6f2"/>
<circle cx="40.6" cy="436.8" r="2.4" fill="#f2f2f6"/>
<circle cx="84.9" cy="355.2" r="2.4" fill="#f4f6f2"/>
<circle cx="104.4" cy="420.6" r="2.4" fill="#f5f5f5"/>
<circle cx="119.7" cy="406.9" r="2.4" fill="#f6f7f4"/>
<circle cx="137.0" cy="404.5" r="2.4" fill="#f2f2f6"/>
<circle cx="198.9" cy="342.3" r="2.4" fill="#f2f2f6"/>
<circle cx="131.6" cy="361.9" r="2.4" fill="#f2f2f6"/>
<circle cx="103.5" cy="489.9" r="2.4" fill="#f3f6f6"/>
<circle cx="134.1" cy="298.4" r="2.4" fill="#f4f6f2"/>
<circle cx="99.1" cy="346.7" r="2.4" fill="#f5f5f5"/>
<circle cx="98.0" cy="401.5" r="2.4" fill="#f6f7f4"/>
<circle cx="129.1" cy="383.7" r="2.4" fill="#f5f5f5"/>
<circle cx="119.3" cy="323.3" r="2.4" fill="#f6f7f4"/>
<circle cx="171.8" cy="345.9" r="2.4" fill="#f4f6f2"/>
<circle cx="96.3" cy="357.5" r="2.4" fill="#f4f6f2"/>
<circle cx="182.8" cy="385.8" r="2.4" fill="#f4f6f2"/>
<circle cx="176.2" cy="376.7" r="2.4" fill="#f4f6f2"/>
<circle cx="143.4" cy="435.0" r="2.4" fill="#f6f7f4"/>
<circle cx="114.6" cy="305.3" r="2.4" fill="#f3f6f6"/>
<circle cx="64.6" cy="328.9" r="2.4" fill="#f6f7f4"/>
<circle cx="134.6" cy="331.3" r="2.4" fill="#f3f6f6"/>
<circle cx="205.1" cy="377.0" r="2.4" fill="#f4f6f2"/>
<circle cx="108.3" cy="486.2" r="2.4" fill="#f3f6f6"/>
<circle cx="161.1" cy="447.3" r="2.4" fill="#f5f5f5"/>
<circle cx="130.2" cy="313.4" r="2.4" fill="#f3f6f6"/>
<circle cx="113.4" cy="345.2" r="2.4" fill="#f6f7f4"/>
<circle cx="67.8" cy="450.3" r="2.4" fill="#f2f2f6"/>
<circle cx="76.8" cy="354.7" r="2.4" fill="#f4f6f2"/>
<circle cx="150.5" cy="357.6" r="2.4" fill="#f4f6f2"/>
<circle cx="174.6" cy="486.1" r="2.4" fill="#f3f6f6"/>
<circle cx="18.0" cy="388.6" r="2.4" fill="#f2f2f6"/>
<circle cx="168.4" cy="376.2" r="2.4" fill="#f5f5f5"/>
<circle cx="60.4" cy="407.1" r="2.4" fill="#f6f7f4"/>
<circle cx="184.4" cy="437.0" r="2.4" fill="#f5f5f5"/>
<circle cx="112.9" cy="358.4" r="2.4" fill="#f6f7f4"/>
<circle cx="72.2" cy="294.9" r="2.4" fill="#f6f7f4"/>
<circle cx="129.0" cy="329.8" r="2.4" fill="#f5f5f5"/>
<circle cx="126.3" cy="393.3" r="2.4" fill="#f5f5f5"/>
<circle cx="127.9" cy="349.0" r="2.4" fill="#f5f5f5"/>
<circle cx="139.2" cy="395.7" r="2.4" fill="#f4f6f2"/>
<circle cx="85.7" cy="401.4" r="2.4" fill="#f6f7f4"/>
<circle cx="146.0" cy="337.4" r="2.4" fill="#f5f5f5"/>
<circle cx="136.0" cy="457.7" r="2.4" fill="#f5f5f5"/>
<circle cx="160.7" cy="396.0" r="2.4" fill="#f6f7f4"/>
<circle cx="99.9" cy="340.3" r="2.4" fill="#f5f5f5"/>
<circle cx="107.6" cy="414.0" r="2.4" fill="#f6f7f4"/>
<circle cx="123.5" cy="452.6" r="2.4" fill="#f5f5f5"/>
<circle cx="117.1" cy="411.5" r="2.4" fill="#f6f7f4"/>
<circle cx="77.1" cy="344.5" r="2.4" fill="#f4f6f2"/>
<circle cx="155.9" cy="386.8" r="2.4" fill="#f4f6f2"/>
<circle cx="140.9" cy="480.6" r="2.4" fill="#f2f2f6"/>
<circle cx="123.2" cy="389.5" r="2.4" fill="#f2f2f6"/>
<circle cx="131.1" cy="442.5" r="2.4" fill="#f6f7f4"/>
<circle cx="81.5" cy="409.2" r="2.4" fill="#f3f6f6"/>
<circle cx="129.9" cy="436.5" r="2.4" fill="#f6f7f4"/>
<circle cx="143.3" cy="324.7" r="2.4" fill="#f6f7f4"/>
<circle cx="200.1" cy="441.3" r="2.4" fill="#f5f5f5"/>
<circle cx="100.6" cy="319.3" r="2.4" fill="#f2f2f6"/>
<circle cx="158.4" cy="439.8" r="2.4" fill="#f6f7f4"/>
<circle cx="64.9" cy="350.2" r="2.4" fill="#f2f2f6"/>
<circle cx="165.8" cy="364.1" r="2.4" fill="#f4f6f2"/>
<circle cx="105.7" cy="303.4" r="2.4" fill="#f2f2f6"/>
<circle cx="105.2" cy="355.2" r="2.4" fill="#f3f6f6"/>
<circle cx="72.6" cy="413.8" r="2.4" fill="#f4f6f2"/>
<circle cx="143.6" cy="399.8" r="2.4" fill="#f3f6f6"/>
<circle cx="152.5" cy="352.1" r="2.4" fill="#f5f5f5"/>
<circle cx="110.7" cy="310.0" r="2.4" fill="#f4f6f2"/>
<circle cx="172.7" cy="418.5" r="2.4" fill="#f5f5f5"/>
<circle cx="156.2" cy="422.6" r="2.4" fill="#f5f5f5"/>
<circle cx="109.0" cy="434.7" r="2.4" fill="#f4f6f2"/>
<circle cx="82.7" cy="451.2" r="2.4" fill="#f5f5f5"/>
<circle cx="124.7" cy="407.0" r="2.4" fill="#f6f7f4"/>
<circle cx="140.2" cy="305.6" r="2.4" fill="#f3f6f6"/>
<circle cx="86.4" cy="392.7" r="2.4" fill="#f6f7f4"/>
<circle cx="46.9" cy="353.4" r="2.4" fill="#f2f2f6"/>
<circle cx="110.1" cy="392.0" r="2.4" fill="#f2f2f6"/>
<circle cx="92.4" cy="430.1" r="2.4" fill="#f5f5f5"/>
<circle cx="58.6" cy="387.2" r="2.4" fill="#f2f2f6"/>
<circle cx="189.7" cy="369.0" r="2.4" fill="#f5f5f5"/>
<circle cx="65.3" cy="478.7" r="2.4" fill="#f3f6f6"/>
<circle cx="74.7" cy="321.8" r="2.4" fill="#f6f7f4"/>
<circle cx="95.0" cy="413.1" r="2.4" fill="#f2f2f6"/>
<circle cx="124.8" cy="474.4" r="2.4" fill="#f2f2f6"/>
<circle cx="156.4" cy="343.4" r="2.4" fill="#f5f5f5"/>
<circle cx="132.4" cy="340.2" r="2.4" fill="#f5f5f5"/>
<circle cx="111.8" cy="351.5" r="2.4" fill="#f4f6f2"/>
<circle cx="79.3" cy="339.4" r="2.4" fill="#f2f2f6"/>
<circle cx="166.7" cy="384.4" r="2.4" fill="#f6f7f4"/>
<circle cx="153.1" cy="381.9" r="2.4" fill="#f4f6f2"/>
<circle cx="135.9" cy="350.3" r="2.4" fill="#f5f5f5"/>
<circle cx="109.4" cy="315.4" r="2.4" fill="#f3f6f6"/>
<circle cx="93.9" cy="311.2" r="2.4" fill="#f6f7f4"/>
<circle cx="47.1" cy="390.3" r="2.4" fill="#f2f2f6"/>
<circle cx="153.6" cy="457.7" r="2.4" fill="#f4f6f2"/>
<circle cx="115.8" cy="419.4" r="2.4" fill="#f6f7f4"/>
<circle cx="151.3" cy="436.9" r="2.4" fill="#f5f5f5"/>
<circle cx="34.5" cy="389.4" r="2.4" fill="#f3f6f6"/>
<circle cx="82.3" cy="323.1" r="2.4" fill="#f5f5f5"/>
<circle cx="185.4" cy="335.3" r="2.4" fill="#f5f5f5"/>
<circle cx="64.7" cy="382.5" r="2.4" fill="#f5f5f5"/>
<circle cx="96.4" cy="322.6" r="2.4" fill="#f6f7f4"/>
<circle cx="91.8" cy="340.4" r="2.4" fill="#f4f6f2"/>
<circle cx="88.8" cy="367.2" r="2.4" fill="#f6f7f4"/>
<circle cx="35.8" cy="415.3" r="2.4" fill="#f6f7f4"/>
<circle cx="202.2" cy="420.6" r="2.4" fill="#f4f6f2"/>
<circle cx="60.9" cy="340.2" r="2.4" fill="#f3f6f6"/>
<circle cx="156.7" cy="431.9" r="2.4" fill="#f2f2f6"/>
<circle cx="101.5" cy="393.8" r="2.4" fill="#f4f6f2"/>
<circle cx="84.9" cy="433.5" r="2.4" fill="#f5f5f5"/>
<circle cx="77.4" cy="367.1" r="2.4" fill="#f5f5f5"/>
<circle cx="69.3" cy="433.2" r="2.4" fill="#f6f7f4"/>
<circle cx="70.5" cy="333.4" r="2.4" fill="#f3f6f6"/>
<circle cx="180.4" cy="426.5" r="2.4" fill="#f4f6f2"/>
<circle cx="100.4" cy="453.4" r="2.4" fill="#f6f7f4"/>
<circle cx="177.5" cy="341.3" r="2.4" fill="#f6f7f4"/>
<circle cx="106.3" cy="321.6" r="2.4" fill="#f3f6f6"/>
<circle cx="138.6" cy="465.6" r="2.4" fill="#f2f2f6"/>
<circle cx="106.5" cy="382.1" r="2.4" fill="#f3f6f6"/>
<circle cx="136.5" cy="435.6" r="2.4" fill="#f5f5f5"/>
<circle cx="195.1" cy="382.4" r="2.4" fill="#f3f6f6"/>
<circle cx="163.1" cy="423.1" r="2.4" fill="#f5f5f5"/>
<circle cx="71.8" cy="352.2" r="2.4" fill="#f4f6f2"/>
<circle cx="153.6" cy="372.8" r="2.4" fill="#f4f6f2"/>
<circle cx="152.2" cy="409.7" r="2.4" fill="#f4f6f2"/>
<circle cx="121.5" cy="344.7" r="2.4" fill="#f3f6f6"/>
<circle cx="114.2" cy="457.7" r="2.4" fill="#f4f6f2"/>
<circle cx="97.9" cy="382.4" r="2.4" fill="#f5f5f5"/>
<circle cx="79.9" cy="385.8" r="2.4" fill="#f3f6f6"/>
<circle cx="140.4" cy="333.8" r="2.4" fill="#f2f2f6"/>
<circle cx="149.6" cy="402.9" r="2.4" fill="#f3f6f6"/>
<circle cx="83.8" cy="341.6" r="2.4" fill="#f6f7f4"/>
<circle cx="121.6" cy="431.4" r="2.4" fill="#f4f6f2"/>
<circle cx="111.5" cy="340.0" r="2.4" fill="#f2f2f6"/>
<circle cx="174.6" cy="401.7" r="2.4" fill="#f4f6f2"/>
<circle cx="171.8" cy="479.9" r="2.4" fill="#f3f6f6"/>
<circle cx="153.9" cy="405.2" r="2.4" fill="#f4f6f2"/>
<circle cx="170.4" cy="425.6" r="2.4" fill="#f2f2f6"/>
<circle cx="193.1" cy="447.9" r="2.4" fill="#f2f2f6"/>
<circle cx="80.1" cy="305.5" r="2.4" fill="#f4f6f2"/>
<circle cx="137.6" cy="386.6" r="2.4" fill="#f4f6f2"/>
<circle cx="138.2" cy="326.3" r="2.4" fill="#f3f6f6"/>
<circle cx="153.0" cy="472.8" r="2.4" fill="#f5f5f5"/>
<circle cx="208.3" cy="387.4" r="2.4" fill="#f5f5f5"/>
<circle cx="115.4" cy="399.7" r="2.4" fill="#f6f7f4"/>
<circle cx="128.7" cy="321.7" r="2.4" fill="#f2f2f6"/>
<circle cx="90.8" cy="346.8" r="2.4" fill="#f5f5f5"/>
<circle cx="21.5" cy="381.6" r="2.4" fill="#f6f7f4"/>
<circle cx="61.9" cy="362.1" r="2.4" fill="#f5f5f5"/>
</g>
<g>
<ellipse cx="25.3" cy="387.8" rx="1.4" ry="1.2" fill="#b4d8b0"/>
<ellipse cx="40.2" cy="381.3" rx="1.4" ry="1.2" fill="#d0dcb8"/>
<ellipse cx="25.1" cy="397.7" rx="1.4" ry="1.2" fill="#e0e0e0"/>
<ellipse cx="39.0" cy="398.3" rx="1.4" ry="1.2" fill="#c4c0e0"/>
<ellipse cx="15.4" cy="411.1" rx="1.4" ry="1.2" fill="#e0e0e0"/>
<ellipse cx="25.1" cy="409.9" rx="1.4" ry="1.2" fill="#c8dcb0"/>
<ellipse cx="40.3" cy="408.1" rx="1.4" ry="1.2" fill="#c8dcb0"/>
<ellipse cx="14.7" cy="419.7" rx="1.4" ry="1.2" fill="#a8c8d8"/>
<ellipse cx="16.4" cy="427.4" rx="1.4" ry="1.2" fill="#c8dcb0"/>
<ellipse cx="27.6" cy="425.4" rx="1.4" ry="1.2" fill="#d8d0e8"/>
<ellipse cx="26.0" cy="432.4" rx="1.4" ry="1.2" fill="#e0e0e0"/>
<ellipse cx="39.3" cy="424.6" rx="1.4" ry="1.2" fill="#b8d8c8"/>
<ellipse cx="46.1" cy="419.9" rx="1.4" ry="1.2" fill="#c8dcb0"/>
<ellipse cx="53.8" cy="419.2" rx="1.4" ry="1.2" fill="#a8d4c0"/>
<ellipse cx="54.2" cy="429.3" rx="1.4" ry="1.2" fill="#e0e0e0"/>
<ellipse cx="59.2" cy="439.7" rx="1.4" ry="1.2" fill="#d8d0e8"/>
<ellipse cx="54.3" cy="446.2" rx="1.4" ry="1.2" fill="#e0e0e0"/>
<ellipse cx="58.9" cy="450.4" rx="1.4" ry="1.2" fill="#d0dcb8"/>
<ellipse cx="50.5" cy="464.2" rx="1.4" ry="1.2" fill="#b8d8c8"/>
<ellipse cx="70.7" cy="470.1" rx="1.4" ry="1.2" fill="#c8dcb0"/>
<ellipse cx="65.4" cy="485.7" rx="1.4" ry="1.2" fill="#c4c0e0"/>
<ellipse cx="74.2" cy="457.7" rx="1.4" ry="1.2" fill="#b4d8b0"/>
<ellipse cx="87.0" cy="475.3" rx="1.4" ry="1.2" fill="#c8dcb0"/>
<ellipse cx="83.9" cy="457.7" rx="1.4" ry="1.2" fill="#c8dcb0"/>
<ellipse cx="95.9" cy="460.8" rx="1.4" ry="1.2" fill="#a8d4c0"/>
<ellipse cx="100.4" cy="467.7" rx="1.4" ry="1.2" fill="#b4d8b0"/>
<ellipse cx="50.4" cy="400.1" rx="1.4" ry="1.2" fill="#b4d8b0"/>
<ellipse cx="53.3" cy="404.3" rx="1.4" ry="1.2" fill="#e0e0e0"/>
<ellipse cx="66.7" cy="425.3" rx="1.4" ry="1.2" fill="#b4d8b0"/>
<ellipse cx="75.5" cy="434.0" rx="1.4" ry="1.2" fill="#b4d8b0"/>
<ellipse cx="79.5" cy="439.6" rx="1.4" ry="1.2" fill="#c4c0e0"/>
<ellipse cx="188.5" cy="392.4" rx="1.4" ry="1.2" fill="#a8c8d8"/>
<ellipse cx="185.4" cy="397.8" rx="1.4" ry="1.2" fill="#c4c0e0"/>
<ellipse cx="197.4" cy="399.0" rx="1.4" ry="1.2" fill="#a8c8d8"/>
<ellipse cx="197.1" cy="408.4" rx="1.4" ry="1.2" fill="#d8d0e8"/>
<ellipse cx="181.3" cy="407.8" rx="1.4" ry="1.2" fill="#b8d8c8"/>
<ellipse cx="195.0" cy="424.2" rx="1.4" ry="1.2" fill="#d0dcb8"/>
<ellipse cx="194.2" cy="432.6" rx="1.4" ry="1.2" fill="#a8d4c0"/>
<ellipse cx="189.0" cy="440.4" rx="1.4" ry="1.2" fill="#e0e0e0"/>
<ellipse cx="183.1" cy="449.7" rx="1.4" ry="1.2" fill="#d0dcb8"/>
<ellipse cx="177.4" cy="453.3" rx="1.4" ry="1.2" fill="#a8d4c0"/>
<ellipse cx="188.9" cy="456.4" rx="1.4" ry="1.2" fill="#d0dcb8"/>
<ellipse cx="189.6" cy="465.4" rx="1.4" ry="1.2" fill="#b4d8b0"/>
<ellipse cx="188.6" cy="470.8" rx="1.4" ry="1.2" fill="#e0e0e0"/>
<ellipse cx="167.9" cy="460.1" rx="1.4" ry="1.2" fill="#c8dcb0"/>
<ellipse cx="156.0" cy="467.3" rx="1.4" ry="1.2" fill="#c8dcb0"/>
<ellipse cx="145.1" cy="474.4" rx="1.4" ry="1.2" fill="#d8d0e8"/>
<ellipse cx="133.9" cy="481.8" rx="1.4" ry="1.2" fill="#a8d4c0"/>
<ellipse cx="113.1" cy="481.6" rx="1.4" ry="1.2" fill="#b4d8b0"/>
<ellipse cx="126.0" cy="466.7" rx="1.4" ry="1.2" fill="#b4d8b0"/>
<ellipse cx="114.0" cy="466.2" rx="1.4" ry="1.2" fill="#a8c8d8"/>
<ellipse cx="104.5" cy="457.8" rx="1.4" ry="1.2" fill="#c8dcb0"/>
<ellipse cx="111.0" cy="288.9" rx="1.4" ry="1.2" fill="#c8dcb0"/>
<ellipse cx="123.1" cy="289.6" rx="1.4" ry="1.2" fill="#d8d0e8"/>
<ellipse cx="130.5" cy="291.8" rx="1.4" ry="1.2" fill="#d8d0e8"/>
<ellipse cx="138.7" cy="290.9" rx="1.4" ry="1.2" fill="#c4c0e0"/>
<ellipse cx="146.5" cy="290.9" rx="1.4" ry="1.2" fill="#b4d8b0"/>
<ellipse cx="158.4" cy="297.4" rx="1.4" ry="1.2" fill="#a8c8d8"/>
<ellipse cx="145.9" cy="315.7" rx="1.4" ry="1.2" fill="#a8c8d8"/>
<ellipse cx="135.1" cy="317.2" rx="1.4" ry="1.2" fill="#b8d8c8"/>
<ellipse cx="164.1" cy="319.6" rx="1.4" ry="1.2" fill="#a8c8d8"/>
<ellipse cx="178.8" cy="316.9" rx="1.4" ry="1.2" fill="#c8dcb0"/>
<ellipse cx="169.2" cy="328.6" rx="1.4" ry="1.2" fill="#a8d4c0"/>
<ellipse cx="186.7" cy="326.6" rx="1.4" ry="1.2" fill="#e0e0e0"/>
<ellipse cx="188.6" cy="342.8" rx="1.4" ry="1.2" fill="#e0e0e0"/>
<ellipse cx="194.6" cy="362.1" rx="1.4" ry="1.2" fill="#b8d8c8"/>
<ellipse cx="159.9" cy="336.7" rx="1.4" ry="1.2" fill="#d8d0e8"/>
<ellipse cx="166.7" cy="340.0" rx="1.4" ry="1.2" fill="#d0dcb8"/>
<ellipse cx="139.2" cy="339.7" rx="1.4" ry="1.2" fill="#b8d8c8"/>
<ellipse cx="139.4" cy="346.0" rx="1.4" ry="1.2" fill="#c4c0e0"/>
<ellipse cx="104.5" cy="328.2" rx="1.4" ry="1.2" fill="#a8c8d8"/>
<ellipse cx="54.0" cy="331.6" rx="1.4" ry="1.2" fill="#d0dcb8"/>
<ellipse cx="119.9" cy="354.7" rx="1.4" ry="1.2" fill="#c4c0e0"/>
<ellipse cx="90.6" cy="359.9" rx="1.4" ry="1.2" fill="#a8d4c0"/>
<ellipse cx="119.5" cy="440.9" rx="1.4" ry="1.2" fill="#d0dcb8"/>
<ellipse cx="131.7" cy="400.1" rx="1.4" ry="1.2" fill="#a8d4c0"/>
<ellipse cx="69.2" cy="304.2" rx="1.4" ry="1.2" fill="#c4c0e0"/>
<ellipse cx="106.9" cy="362.0" rx="1.4" ry="1.2" fill="#d0dcb8"/>
<ellipse cx="65.9" cy="371.4" rx="1.4" ry="1.2" fill="#a8c8d8"/>
<ellipse cx="62.6" cy="445.4" rx="1.4" ry="1.2" fill="#d8d0e8"/>
<ellipse cx="147.4" cy="484.3" rx="1.4" ry="1.2" fill="#c4c0e0"/>
<ellipse cx="126.4" cy="336.8" rx="1.4" ry="1.2" fill="#a8d4c0"/>
<ellipse cx="73.0" cy="387.2" rx="1.4" ry="1.2" fill="#a8d4c0"/>
<ellipse cx="152.2" cy="398.7" rx="1.4" ry="1.2" fill="#d0dcb8"/>
<ellipse cx="149.9" cy="393.8" rx="1.4" ry="1.2" fill="#d0dcb8"/>
<ellipse cx="97.4" cy="391.8" rx="1.4" ry="1.2" fill="#b8d8c8"/>
<ellipse cx="88.8" cy="330.0" rx="1.4" ry="1.2" fill="#c8dcb0"/>
<ellipse cx="95.3" cy="334.9" rx="1.4" ry="1.2" fill="#d8d0e8"/>
<ellipse cx="150.2" cy="426.9" rx="1.4" ry="1.2" fill="#a8c8d8"/>
<ellipse cx="159.1" cy="380.4" rx="1.4" ry="1.2" fill="#b8d8c8"/>
<ellipse cx="119.6" cy="329.8" rx="1.4" ry="1.2" fill="#e0e0e0"/>
<ellipse cx="131.2" cy="414.0" rx="1.4" ry="1.2" fill="#a8c8d8"/>
<ellipse cx="170.7" cy="354.1" rx="1.4" ry="1.2" fill="#b8d8c8"/>
<ellipse cx="111.3" cy="426.0" rx="1.4" ry="1.2" fill="#a8c8d8"/>
<ellipse cx="155.8" cy="393.3" rx="1.4" ry="1.2" fill="#b8d8c8"/>
<ellipse cx="176.3" cy="327.5" rx="1.4" ry="1.2" fill="#c8dcb0"/>
<ellipse cx="187.9" cy="359.0" rx="1.4" ry="1.2" fill="#c8dcb0"/>
<ellipse cx="89.6" cy="320.1" rx="1.4" ry="1.2" fill="#a8c8d8"/>
<ellipse cx="174.0" cy="359.2" rx="1.4" ry="1.2" fill="#e0e0e0"/>
<ellipse cx="107.0" cy="338.6" rx="1.4" ry="1.2" fill="#a8d4c0"/>
<ellipse cx="173.3" cy="384.9" rx="1.4" ry="1.2" fill="#c8dcb0"/>
<ellipse cx="160.5" cy="361.7" rx="1.4" ry="1.2" fill="#b4d8b0"/>
<ellipse cx="146.3" cy="345.2" rx="1.4" ry="1.2" fill="#a8c8d8"/>
<ellipse cx="140.0" cy="360.3" rx="1.4" ry="1.2" fill="#c8dcb0"/>
<ellipse cx="128.7" cy="376.1" rx="1.4" ry="1.2" fill="#c8dcb0"/>
<ellipse cx="161.8" cy="417.2" rx="1.4" ry="1.2" fill="#c8dcb0"/>
<ellipse cx="111.9" cy="329.5" rx="1.4" ry="1.2" fill="#d0dcb8"/>
<ellipse cx="165.0" cy="405.3" rx="1.4" ry="1.2" fill="#d0dcb8"/>
<ellipse cx="142.6" cy="375.9" rx="1.4" ry="1.2" fill="#c4c0e0"/>
<ellipse cx="148.0" cy="415.1" rx="1.4" ry="1.2" fill="#c8dcb0"/>
<ellipse cx="108.0" cy="347.0" rx="1.4" ry="1.2" fill="#a8d4c0"/>
<ellipse cx="148.6" cy="383.9" rx="1.4" ry="1.2" fill="#e0e0e0"/>
<ellipse cx="99.4" cy="443.9" rx="1.4" ry="1.2" fill="#c8dcb0"/>
<ellipse cx="77.2" cy="327.5" rx="1.4" ry="1.2" fill="#e0e0e0"/>
<ellipse cx="136.9" cy="415.7" rx="1.4" ry="1.2" fill="#b8d8c8"/>
<ellipse cx="124.5" cy="359.4" rx="1.4" ry="1.2" fill="#a8d4c0"/>
<ellipse cx="116.0" cy="334.9" rx="1.4" ry="1.2" fill="#a8c8d8"/>
<ellipse cx="76.1" cy="373.0" rx="1.4" ry="1.2" fill="#c4c0e0"/>
<ellipse cx="76.9" cy="424.8" rx="1.4" ry="1.2" fill="#b8d8c8"/>
<ellipse cx="111.8" cy="320.4" rx="1.4" ry="1.2" fill="#c4c0e0"/>
<ellipse cx="90.6" cy="418.8" rx="1.4" ry="1.2" fill="#d8d0e8"/>
<ellipse cx="169.4" cy="432.1" rx="1.4" ry="1.2" fill="#c4c0e0"/>
<ellipse cx="40.5" cy="437.1" rx="1.4" ry="1.2" fill="#d0dcb8"/>
<ellipse cx="85.1" cy="355.4" rx="1.4" ry="1.2" fill="#a8d4c0"/>
<ellipse cx="104.7" cy="421.0" rx="1.4" ry="1.2" fill="#b8d8c8"/>
<ellipse cx="119.5" cy="407.4" rx="1.4" ry="1.2" fill="#e0e0e0"/>
<ellipse cx="136.9" cy="404.5" rx="1.4" ry="1.2" fill="#c8dcb0"/>
<ellipse cx="198.9" cy="342.7" rx="1.4" ry="1.2" fill="#b8d8c8"/>
<ellipse cx="131.4" cy="362.0" rx="1.4" ry="1.2" fill="#d8d0e8"/>
<ellipse cx="103.2" cy="489.9" rx="1.4" ry="1.2" fill="#c8dcb0"/>
<ellipse cx="134.4" cy="298.6" rx="1.4" ry="1.2" fill="#c8dcb0"/>
<ellipse cx="99.3" cy="346.8" rx="1.4" ry="1.2" fill="#d0dcb8"/>
<ellipse cx="98.1" cy="401.9" rx="1.4" ry="1.2" fill="#a8d4c0"/>
<ellipse cx="129.0" cy="383.8" rx="1.4" ry="1.2" fill="#c8dcb0"/>
<ellipse cx="119.4" cy="323.4" rx="1.4" ry="1.2" fill="#a8c8d8"/>
<ellipse cx="171.7" cy="346.2" rx="1.4" ry="1.2" fill="#d8d0e8"/>
<ellipse cx="96.4" cy="357.6" rx="1.4" ry="1.2" fill="#d0dcb8"/>
<ellipse cx="183.0" cy="386.2" rx="1.4" ry="1.2" fill="#d0dcb8"/>
<ellipse cx="176.1" cy="376.8" rx="1.4" ry="1.2" fill="#d8d0e8"/>
<ellipse cx="143.1" cy="435.1" rx="1.4" ry="1.2" fill="#c4c0e0"/>
<ellipse cx="114.5" cy="305.7" rx="1.4" ry="1.2" fill="#b4d8b0"/>
<ellipse cx="64.8" cy="329.2" rx="1.4" ry="1.2" fill="#c8dcb0"/>
<ellipse cx="134.4" cy="331.7" rx="1.4" ry="1.2" fill="#a8d4c0"/>
<ellipse cx="205.2" cy="377.2" rx="1.4" ry="1.2" fill="#b4d8b0"/>
<ellipse cx="108.4" cy="486.2" rx="1.4" ry="1.2" fill="#c8dcb0"/>
<ellipse cx="161.1" cy="447.5" rx="1.4" ry="1.2" fill="#a8d4c0"/>
<ellipse cx="130.1" cy="313.9" rx="1.4" ry="1.2" fill="#a8c8d8"/>
<ellipse cx="113.2" cy="345.4" rx="1.4" ry="1.2" fill="#a8c8d8"/>
<ellipse cx="67.8" cy="450.7" rx="1.4" ry="1.2" fill="#a8d4c0"/>
<ellipse cx="77.1" cy="354.8" rx="1.4" ry="1.2" fill="#b8d8c8"/>
<ellipse cx="150.2" cy="357.8" rx="1.4" ry="1.2" fill="#d0dcb8"/>
<ellipse cx="174.4" cy="486.3" rx="1.4" ry="1.2" fill="#b4d8b0"/>
<ellipse cx="18.2" cy="389.0" rx="1.4" ry="1.2" fill="#a8d4c0"/>
<ellipse cx="168.2" cy="376.6" rx="1.4" ry="1.2" fill="#c4c0e0"/>
<ellipse cx="60.6" cy="407.3" rx="1.4" ry="1.2" fill="#b4d8b0"/>
<ellipse cx="184.7" cy="437.0" rx="1.4" ry="1.2" fill="#a8d4c0"/>
<ellipse cx="113.2" cy="358.7" rx="1.4" ry="1.2" fill="#d8d0e8"/>
<ellipse cx="72.2" cy="294.9" rx="1.4" ry="1.2" fill="#d0dcb8"/>
<ellipse cx="129.1" cy="330.2" rx="1.4" ry="1.2" fill="#d8d0e8"/>
<ellipse cx="126.4" cy="393.4" rx="1.4" ry="1.2" fill="#a8d4c0"/>
<ellipse cx="127.7" cy="349.3" rx="1.4" ry="1.2" fill="#c8dcb0"/>
<ellipse cx="139.5" cy="396.1" rx="1.4" ry="1.2" fill="#d8d0e8"/>
<ellipse cx="85.6" cy="401.6" rx="1.4" ry="1.2" fill="#a8c8d8"/>
<ellipse cx="145.8" cy="337.7" rx="1.4" ry="1.2" fill="#b4d8b0"/>
<ellipse cx="136.0" cy="457.7" rx="1.4" ry="1.2" fill="#a8d4c0"/>
<ellipse cx="160.8" cy="396.3" rx="1.4" ry="1.2" fill="#b8d8c8"/>
<ellipse cx="100.1" cy="340.6" rx="1.4" ry="1.2" fill="#c8dcb0"/>
<ellipse cx="107.6" cy="414.3" rx="1.4" ry="1.2" fill="#c4c0e0"/>
<ellipse cx="123.8" cy="452.8" rx="1.4" ry="1.2" fill="#e0e0e0"/>
<ellipse cx="117.4" cy="411.8" rx="1.4" ry="1.2" fill="#a8d4c0"/>
<ellipse cx="77.1" cy="344.8" rx="1.4" ry="1.2" fill="#c4c0e0"/>
<ellipse cx="155.8" cy="387.1" rx="1.4" ry="1.2" fill="#e0e0e0"/>
<ellipse cx="141.1" cy="480.6" rx="1.4" ry="1.2" fill="#c8dcb0"/>
<ellipse cx="123.1" cy="389.7" rx="1.4" ry="1.2" fill="#d0dcb8"/>
<ellipse cx="131.2" cy="442.7" rx="1.4" ry="1.2" fill="#a8c8d8"/>
<ellipse cx="81.4" cy="409.6" rx="1.4" ry="1.2" fill="#c8dcb0"/>
<ellipse cx="129.8" cy="436.9" rx="1.4" ry="1.2" fill="#d0dcb8"/>
<ellipse cx="143.4" cy="324.8" rx="1.4" ry="1.2" fill="#e0e0e0"/>
<ellipse cx="199.8" cy="441.8" rx="1.4" ry="1.2" fill="#a8d4c0"/>
<ellipse cx="100.6" cy="319.3" rx="1.4" ry="1.2" fill="#a8d4c0"/>
<ellipse cx="158.7" cy="440.2" rx="1.4" ry="1.2" fill="#c8dcb0"/>
<ellipse cx="64.7" cy="350.4" rx="1.4" ry="1.2" fill="#b8d8c8"/>
<ellipse cx="165.7" cy="364.4" rx="1.4" ry="1.2" fill="#b8d8c8"/>
<ellipse cx="105.6" cy="303.5" rx="1.4" ry="1.2" fill="#a8d4c0"/>
<ellipse cx="104.9" cy="355.2" rx="1.4" ry="1.2" fill="#a8d4c0"/>
<ellipse cx="72.5" cy="413.9" rx="1.4" ry="1.2" fill="#a8d4c0"/>
<ellipse cx="143.6" cy="400.3" rx="1.4" ry="1.2" fill="#d0dcb8"/>
<ellipse cx="152.5" cy="352.6" rx="1.4" ry="1.2" fill="#c8dcb0"/>
<ellipse cx="110.4" cy="310.1" rx="1.4" ry="1.2" fill="#b8d8c8"/>
<ellipse cx="172.7" cy="418.7" rx="1.4" ry="1.2" fill="#b8d8c8"/>
<ellipse cx="156.2" cy="422.6" rx="1.4" ry="1.2" fill="#c8dcb0"/>
<ellipse cx="108.8" cy="434.9" rx="1.4" ry="1.2" fill="#c4c0e0"/>
<ellipse cx="82.8" cy="451.2" rx="1.4" ry="1.2" fill="#b4d8b0"/>
<ellipse cx="124.5" cy="407.2" rx="1.4" ry="1.2" fill="#d0dcb8"/>
<ellipse cx="140.3" cy="306.0" rx="1.4" ry="1.2" fill="#d0dcb8"/>
<ellipse cx="86.4" cy="392.8" rx="1.4" ry="1.2" fill="#b8d8c8"/>
<ellipse cx="47.1" cy="353.8" rx="1.4" ry="1.2" fill="#d0dcb8"/>
<ellipse cx="110.4" cy="392.5" rx="1.4" ry="1.2" fill="#b4d8b0"/>
<ellipse cx="92.6" cy="430.4" rx="1.4" ry="1.2" fill="#d0dcb8"/>
<ellipse cx="58.8" cy="387.5" rx="1.4" ry="1.2" fill="#c8dcb0"/>
<ellipse cx="189.9" cy="369.1" rx="1.4" ry="1.2" fill="#d0dcb8"/>
<ellipse cx="65.3" cy="479.0" rx="1.4" ry="1.2" fill="#c4c0e0"/>
<ellipse cx="74.8" cy="322.2" rx="1.4" ry="1.2" fill="#c4c0e0"/>
<ellipse cx="95.2" cy="413.3" rx="1.4" ry="1.2" fill="#b8d8c8"/>
<ellipse cx="124.7" cy="474.7" rx="1.4" ry="1.2" fill="#b4d8b0"/>
<ellipse cx="156.4" cy="343.8" rx="1.4" ry="1.2" fill="#b8d8c8"/>
<ellipse cx="132.5" cy="340.5" rx="1.4" ry="1.2" fill="#a8c8d8"/>
<ellipse cx="111.7" cy="351.7" rx="1.4" ry="1.2" fill="#c8dcb0"/>
<ellipse cx="79.1" cy="339.8" rx="1.4" ry="1.2" fill="#e0e0e0"/>
<ellipse cx="166.8" cy="384.8" rx="1.4" ry="1.2" fill="#e0e0e0"/>
<ellipse cx="153.3" cy="382.2" rx="1.4" ry="1.2" fill="#d0dcb8"/>
<ellipse cx="135.9" cy="350.7" rx="1.4" ry="1.2" fill="#a8d4c0"/>
<ellipse cx="109.5" cy="315.8" rx="1.4" ry="1.2" fill="#a8c8d8"/>
<ellipse cx="93.9" cy="311.5" rx="1.4" ry="1.2" fill="#d8d0e8"/>
<ellipse cx="46.9" cy="390.3" rx="1.4" ry="1.2" fill="#a8c8d8"/>
<ellipse cx="153.4" cy="457.7" rx="1.4" ry="1.2" fill="#c4c0e0"/>
<ellipse cx="116.0" cy="419.5" rx="1.4" ry="1.2" fill="#d0dcb8"/>
<ellipse cx="151.5" cy="437.2" rx="1.4" ry="1.2" fill="#a8c8d8"/>
<ellipse cx="34.7" cy="389.7" rx="1.4" ry="1.2" fill="#a8d4c0"/>
<ellipse cx="82.3" cy="323.5" rx="1.4" ry="1.2" fill="#c4c0e0"/>
<ellipse cx="185.2" cy="335.7" rx="1.4" ry="1.2" fill="#b4d8b0"/>
<ellipse cx="64.7" cy="382.5" rx="1.4" ry="1.2" fill="#c4c0e0"/>
<ellipse cx="96.2" cy="322.7" rx="1.4" ry="1.2" fill="#c4c0e0"/>
<ellipse cx="91.6" cy="340.4" rx="1.4" ry="1.2" fill="#e0e0e0"/>
<ellipse cx="88.7" cy="367.3" rx="1.4" ry="1.2" fill="#b8d8c8"/>
<ellipse cx="35.8" cy="415.6" rx="1.4" ry="1.2" fill="#d0dcb8"/>
<ellipse cx="202.3" cy="420.9" rx="1.4" ry="1.2" fill="#a8c8d8"/>
<ellipse cx="60.7" cy="340.3" rx="1.4" ry="1.2" fill="#d0dcb8"/>
<ellipse cx="156.9" cy="432.0" rx="1.4" ry="1.2" fill="#b8d8c8"/>
<ellipse cx="101.2" cy="394.2" rx="1.4" ry="1.2" fill="#a8d4c0"/>
<ellipse cx="84.9" cy="433.7" rx="1.4" ry="1.2" fill="#b4d8b0"/>
<ellipse cx="77.7" cy="367.5" rx="1.4" ry="1.2" fill="#b4d8b0"/>
<ellipse cx="69.5" cy="433.6" rx="1.4" ry="1.2" fill="#e0e0e0"/>
<ellipse cx="70.6" cy="333.6" rx="1.4" ry="1.2" fill="#b8d8c8"/>
<ellipse cx="180.7" cy="426.6" rx="1.4" ry="1.2" fill="#c8dcb0"/>
<ellipse cx="100.1" cy="453.7" rx="1.4" ry="1.2" fill="#d8d0e8"/>
<ellipse cx="177.7" cy="341.6" rx="1.4" ry="1.2" fill="#e0e0e0"/>
<ellipse cx="106.2" cy="321.8" rx="1.4" ry="1.2" fill="#c4c0e0"/>
<ellipse cx="138.8" cy="465.7" rx="1.4" ry="1.2" fill="#a8d4c0"/>
<ellipse cx="106.4" cy="382.4" rx="1.4" ry="1.2" fill="#d0dcb8"/>
<ellipse cx="136.8" cy="435.8" rx="1.4" ry="1.2" fill="#b4d8b0"/>
<ellipse cx="194.9" cy="382.8" rx="1.4" ry="1.2" fill="#c8dcb0"/>
<ellipse cx="163.2" cy="423.3" rx="1.4" ry="1.2" fill="#d8d0e8"/>
<ellipse cx="71.6" cy="352.3" rx="1.4" ry="1.2" fill="#c4c0e0"/>
<ellipse cx="153.7" cy="372.8" rx="1.4" ry="1.2" fill="#b4d8b0"/>
<ellipse cx="152.4" cy="409.7" rx="1.4" ry="1.2" fill="#d8d0e8"/>
<ellipse cx="121.5" cy="344.8" rx="1.4" ry="1.2" fill="#d8d0e8"/>
<ellipse cx="113.9" cy="457.9" rx="1.4" ry="1.2" fill="#c4c0e0"/>
<ellipse cx="98.0" cy="382.5" rx="1.4" ry="1.2" fill="#a8c8d8"/>
<ellipse cx="80.0" cy="385.9" rx="1.4" ry="1.2" fill="#a8c8d8"/>
<ellipse cx="140.1" cy="334.0" rx="1.4" ry="1.2" fill="#c8dcb0"/>
<ellipse cx="149.7" cy="403.2" rx="1.4" ry="1.2" fill="#d0dcb8"/>
<ellipse cx="84.1" cy="342.0" rx="1.4" ry="1.2" fill="#e0e0e0"/>
<ellipse cx="121.8" cy="431.4" rx="1.4" ry="1.2" fill="#c8dcb0"/>
<ellipse cx="111.4" cy="340.1" rx="1.4" ry="1.2" fill="#c4c0e0"/>
<ellipse cx="174.4" cy="402.0" rx="1.4" ry="1.2" fill="#d8d0e8"/>
<ellipse cx="171.7" cy="480.2" rx="1.4" ry="1.2" fill="#d0dcb8"/>
<ellipse cx="153.9" cy="405.4" rx="1.4" ry="1.2" fill="#e0e0e0"/>
<ellipse cx="170.3" cy="426.1" rx="1.4" ry="1.2" fill="#b4d8b0"/>
<ellipse cx="193.3" cy="448.1" rx="1.4" ry="1.2" fill="#a8c8d8"/>
<ellipse cx="79.9" cy="305.8" rx="1.4" ry="1.2" fill="#a8c8d8"/>
<ellipse cx="137.8" cy="387.1" rx="1.4" ry="1.2" fill="#d8d0e8"/>
<ellipse cx="138.3" cy="326.6" rx="1.4" ry="1.2" fill="#e0e0e0"/>
<ellipse cx="152.7" cy="472.9" rx="1.4" ry="1.2" fill="#d8d0e8"/>
<ellipse cx="208.0" cy="387.6" rx="1.4" ry="1.2" fill="#a8d4c0"/>
<ellipse cx="115.2" cy="400.0" rx="1.4" ry="1.2" fill="#c8dcb0"/>
<ellipse cx="128.8" cy="321.9" rx="1.4" ry="1.2" fill="#a8d4c0"/>
<ellipse cx="90.7" cy="347.1" rx="1.4" ry="1.2" fill="#b8d8c8"/>
<ellipse cx="21.5" cy="381.7" rx="1.4" ry="1.2" fill="#e0e0e0"/>
<ellipse cx="61.8" cy="362.3" rx="1.4" ry="1.2" fill="#b8d8c8"/>
</g>
<g font-family="'Liberation Serif', serif" font-size="2.6" font-weight="bold" fill="#7c7c7c">
<text x="26.9" y="386.0">fadD</text>
<text x="42.2" y="379.4">Rv2034</text>
<text x="26.9" y="395.9">lpqS</text>
<text x="41.1" y="396.3">ahpC</text>
<text x="17.1" y="409.0">glnA</text>
<text x="26.9" y="407.9">lpqS</text>
<text x="42.2" y="406.4">bfrA</text>
<text x="16.6" y="417.7">fadD</text>
<text x="18.2" y="425.3">lpqS</text>
<text x="29.7" y="423.6">ideR</text>
<text x="28.0" y="430.4">sigM</text>
<text x="41.1" y="422.7">esxG</text>
<text x="47.7" y="418.1">Rv1234</text>
<text x="55.3" y="417.3">lpqS</text>
<text x="55.9" y="427.5">irtA</text>
<text x="60.8" y="437.8">mmpL</text>
<text x="55.9" y="444.3">lpqS</text>
<text x="60.8" y="448.7">ppe3</text>
<text x="52.0" y="462.4">pe12</text>
<text x="72.8" y="468.4">mmpL</text>
<text x="67.3" y="483.6">Rv0456</text>
<text x="76.0" y="455.9">mmpL</text>
<text x="89.1" y="473.4">Rv3267</text>
<text x="85.8" y="455.9">mmpL</text>
<text x="97.8" y="459.2">ppe3</text>
<text x="102.2" y="465.7">glnA</text>
<text x="52.0" y="398.1">mbtB</text>
<text x="55.3" y="402.4">ppe3</text>
<text x="68.4" y="423.2">irtA</text>
<text x="77.1" y="431.9">irtA</text>
<text x="81.5" y="437.8">sigM</text>
<text x="190.2" y="390.4">pe12</text>
<text x="187.0" y="395.9">Rv1234</text>
<text x="199.0" y="397.0">pks2</text>
<text x="199.0" y="406.4">Rv3267</text>
<text x="183.0" y="405.7">ideR</text>
<text x="196.8" y="422.1">mmpL</text>
<text x="196.1" y="430.8">mmpL</text>
<text x="190.9" y="438.4">glnA</text>
<text x="184.8" y="447.8">hupB</text>
<text x="179.3" y="451.5">pks2</text>
<text x="190.9" y="454.8">irtA</text>
<text x="191.3" y="463.6">ctpC</text>
<text x="190.2" y="469.0">katG</text>
<text x="169.5" y="458.1">ideR</text>
<text x="157.5" y="465.7">ahpC</text>
<text x="146.6" y="472.7">irtA</text>
<text x="135.6" y="479.9">furA</text>
<text x="114.9" y="479.9">sigM</text>
<text x="128.0" y="464.6">ahpC</text>
<text x="116.0" y="464.6">bfrA</text>
<text x="106.2" y="455.9">lpqS</text>
<text x="112.7" y="287.0">ahpC</text>
<text x="124.7" y="287.6">Rv1234</text>
<text x="132.4" y="290.2">katG</text>
<text x="140.7" y="289.1">fadD</text>
<text x="148.1" y="289.1">mbtB</text>
<text x="160.3" y="295.7">pe12</text>
<text x="147.7" y="313.8">pe12</text>
<text x="136.7" y="315.4">Rv1234</text>
<text x="166.2" y="317.5">sigM</text>
<text x="180.4" y="315.3">pks2</text>
<text x="171.2" y="326.9">mbtB</text>
<text x="188.7" y="324.7">hupB</text>
<text x="190.2" y="340.9">irtA</text>
<text x="196.1" y="360.1">pe12</text>
<text x="161.8" y="335.0">Rv1234</text>
<text x="168.4" y="338.3">bfrA</text>
<text x="141.1" y="337.8">Rv3267</text>
<text x="141.1" y="344.4">furA</text>
<text x="106.5" y="326.2">Rv2034</text>
<text x="55.6" y="329.7">esxG</text>
<text x="121.5" y="353.1">Rv1234</text>
<text x="92.2" y="357.8">bfrA</text>
<text x="121.2" y="439.0">Rv3267</text>
<text x="133.2" y="398.4">pks2</text>
<text x="71.0" y="302.3">mbtB</text>
<text x="108.9" y="360.0">esxG</text>
<text x="67.5" y="369.3">Rv1234</text>
<text x="64.7" y="443.3">Rv1234</text>
<text x="149.0" y="482.6">Rv1234</text>
<text x="128.2" y="334.9">ppe3</text>
<text x="74.6" y="385.1">esxG</text>
<text x="154.1" y="397.0">lpqS</text>
<text x="151.9" y="391.9">glnA</text>
<text x="99.0" y="390.1">katG</text>
<text x="90.5" y="328.2">pks2</text>
<text x="97.2" y="332.8">pe12</text>
<text x="151.8" y="425.2">Rv1234</text>
<text x="160.7" y="378.4">glnA</text>
<text x="121.5" y="328.1">hupB</text>
<text x="132.7" y="411.9">Rv0456</text>
<text x="172.6" y="352.1">glnA</text>
<text x="113.2" y="424.1">hupB</text>
<text x="157.7" y="391.6">hupB</text>
<text x="178.2" y="325.7">sigM</text>
<text x="189.7" y="357.2">katG</text>
<text x="91.3" y="318.2">Rv1234</text>
<text x="175.7" y="357.2">pe12</text>
<text x="108.7" y="336.7">hupB</text>
<text x="175.1" y="382.8">ppe3</text>
<text x="162.6" y="359.9">pe12</text>
<text x="148.4" y="343.1">Rv3267</text>
<text x="141.5" y="358.5">ideR</text>
<text x="130.3" y="374.5">Rv2034</text>
<text x="163.3" y="415.2">Rv3267</text>
<text x="113.6" y="327.8">glnA</text>
<text x="166.7" y="403.3">pks2</text>
<text x="144.2" y="374.2">ahpC</text>
<text x="150.1" y="413.5">sigM</text>
<text x="109.7" y="345.0">ideR</text>
<text x="150.3" y="382.2">pks2</text>
<text x="101.4" y="442.2">ctpC</text>
<text x="79.0" y="325.6">mmpL</text>
<text x="138.7" y="414.0">Rv1234</text>
<text x="126.1" y="357.5">ahpC</text>
<text x="118.0" y="333.1">Rv2034</text>
<text x="78.1" y="371.1">furA</text>
<text x="78.4" y="422.9">Rv3267</text>
<text x="113.7" y="318.5">ahpC</text>
<text x="92.5" y="417.0">ideR</text>
<text x="171.4" y="430.5">katG</text>
<text x="42.4" y="435.2">Rv2034</text>
<text x="86.7" y="353.6">ideR</text>
<text x="106.2" y="419.0">fadD</text>
<text x="121.5" y="405.3">ctpC</text>
<text x="138.8" y="402.9">ahpC</text>
<text x="200.7" y="340.7">bfrA</text>
<text x="133.4" y="360.3">ppe3</text>
<text x="105.3" y="488.3">Rv1234</text>
<text x="135.9" y="296.8">bfrA</text>
<text x="100.9" y="345.1">Rv3267</text>
<text x="99.8" y="399.9">ideR</text>
<text x="130.9" y="382.1">esxG</text>
<text x="121.1" y="321.7">lpqS</text>
<text x="173.6" y="344.3">esxG</text>
<text x="98.1" y="355.9">katG</text>
<text x="184.6" y="384.2">Rv3267</text>
<text x="178.0" y="375.1">mmpL</text>
<text x="145.2" y="433.4">bfrA</text>
<text x="116.4" y="303.7">mmpL</text>
<text x="66.4" y="327.3">irtA</text>
<text x="136.4" y="329.7">Rv0456</text>
<text x="206.9" y="375.4">Rv0456</text>
<text x="110.1" y="484.6">katG</text>
<text x="162.9" y="445.7">mmpL</text>
<text x="132.0" y="311.8">katG</text>
<text x="115.2" y="343.6">furA</text>
<text x="69.6" y="448.7">Rv1234</text>
<text x="78.6" y="353.1">pe12</text>
<text x="152.3" y="356.0">Rv3267</text>
<text x="176.4" y="484.5">ctpC</text>
<text x="19.8" y="387.0">Rv2034</text>
<text x="170.2" y="374.6">pe12</text>
<text x="62.2" y="405.5">ideR</text>
<text x="186.2" y="435.4">pks2</text>
<text x="114.7" y="356.8">glnA</text>
<text x="74.0" y="293.3">ppe3</text>
<text x="130.8" y="328.2">Rv0456</text>
<text x="128.1" y="391.7">ppe3</text>
<text x="129.7" y="347.4">ctpC</text>
<text x="141.0" y="394.1">esxG</text>
<text x="87.5" y="399.8">irtA</text>
<text x="147.8" y="335.8">Rv1234</text>
<text x="137.8" y="456.1">Rv3267</text>
<text x="162.5" y="394.4">fadD</text>
<text x="101.7" y="338.7">fadD</text>
<text x="109.4" y="412.4">sigM</text>
<text x="125.3" y="451.0">hupB</text>
<text x="118.9" y="409.9">Rv2034</text>
<text x="78.9" y="342.9">sigM</text>
<text x="157.7" y="385.2">glnA</text>
<text x="142.7" y="479.0">pks2</text>
<text x="125.0" y="387.9">furA</text>
<text x="132.9" y="440.9">Rv1234</text>
<text x="83.3" y="407.6">katG</text>
<text x="131.7" y="434.9">mbtB</text>
<text x="145.1" y="323.1">irtA</text>
<text x="201.9" y="439.7">esxG</text>
<text x="102.4" y="317.7">ppe3</text>
<text x="160.2" y="438.2">esxG</text>
<text x="66.7" y="348.6">mmpL</text>
<text x="167.6" y="362.5">irtA</text>
<text x="107.5" y="301.8">furA</text>
<text x="107.0" y="353.6">katG</text>
<text x="74.4" y="412.2">ideR</text>
<text x="145.4" y="398.2">lpqS</text>
<text x="154.3" y="350.5">Rv3267</text>
<text x="112.5" y="308.4">mmpL</text>
<text x="174.5" y="416.9">pks2</text>
<text x="158.0" y="421.0">mmpL</text>
<text x="110.8" y="433.1">mmpL</text>
<text x="84.5" y="449.6">furA</text>
<text x="126.5" y="405.4">mmpL</text>
<text x="142.0" y="304.0">ideR</text>
<text x="88.2" y="391.1">bfrA</text>
<text x="48.7" y="351.8">hupB</text>
<text x="111.9" y="390.4">bfrA</text>
<text x="94.2" y="428.5">Rv3267</text>
<text x="60.4" y="385.6">ahpC</text>
<text x="191.5" y="367.4">Rv3267</text>
<text x="67.1" y="477.1">ideR</text>
<text x="76.5" y="320.2">katG</text>
<text x="96.8" y="411.5">sigM</text>
<text x="126.6" y="472.8">pks2</text>
<text x="158.2" y="341.8">irtA</text>
<text x="134.2" y="338.6">Rv2034</text>
<text x="113.6" y="349.9">esxG</text>
<text x="81.1" y="337.8">pe12</text>
<text x="168.5" y="382.8">irtA</text>
<text x="154.9" y="380.3">bfrA</text>
<text x="137.7" y="348.7">ctpC</text>
<text x="111.2" y="313.8">Rv3267</text>
<text x="95.7" y="309.6">Rv2034</text>
<text x="48.9" y="388.7">Rv2034</text>
<text x="155.4" y="456.1">glnA</text>
<text x="117.6" y="417.8">pks2</text>
<text x="153.1" y="435.3">pks2</text>
<text x="36.3" y="387.8">Rv0456</text>
<text x="84.1" y="321.5">Rv3267</text>
<text x="187.2" y="333.7">fadD</text>
<text x="66.5" y="380.9">Rv2034</text>
<text x="98.2" y="321.0">pe12</text>
<text x="93.6" y="338.8">irtA</text>
<text x="90.6" y="365.6">bfrA</text>
<text x="37.6" y="413.7">mbtB</text>
<text x="204.0" y="419.0">ctpC</text>
<text x="62.7" y="338.6">pks2</text>
<text x="158.5" y="430.3">bfrA</text>
<text x="103.3" y="392.2">Rv0456</text>
<text x="86.7" y="431.9">katG</text>
<text x="79.2" y="365.5">esxG</text>
<text x="71.1" y="431.6">irtA</text>
<text x="72.3" y="331.8">ideR</text>
<text x="182.2" y="424.9">ahpC</text>
<text x="102.2" y="451.8">Rv0456</text>
<text x="179.3" y="339.7">esxG</text>
<text x="108.1" y="320.0">pe12</text>
<text x="140.4" y="464.0">hupB</text>
<text x="108.3" y="380.5">lpqS</text>
<text x="138.3" y="434.0">mmpL</text>
<text x="196.9" y="380.8">ideR</text>
<text x="164.9" y="421.5">ctpC</text>
<text x="73.6" y="350.6">pks2</text>
<text x="155.4" y="371.2">Rv3267</text>
<text x="154.0" y="408.1">hupB</text>
<text x="123.3" y="343.1">ctpC</text>
<text x="116.0" y="456.1">fadD</text>
<text x="99.7" y="380.8">Rv2034</text>
<text x="81.7" y="384.2">pks2</text>
<text x="142.2" y="332.2">katG</text>
<text x="151.4" y="401.3">furA</text>
<text x="85.6" y="340.0">ideR</text>
<text x="123.4" y="429.8">ahpC</text>
<text x="113.3" y="338.4">esxG</text>
<text x="176.4" y="400.1">furA</text>
<text x="173.6" y="478.3">mbtB</text>
<text x="155.7" y="403.6">irtA</text>
<text x="172.2" y="424.0">irtA</text>
<text x="194.9" y="446.3">katG</text>
<text x="81.9" y="303.9">furA</text>
<text x="139.4" y="385.0">pks2</text>
<text x="140.0" y="324.7">glnA</text>
<text x="154.8" y="471.2">Rv1234</text>
<text x="210.1" y="385.8">pks2</text>
<text x="117.2" y="398.1">lpqS</text>
<text x="130.5" y="320.1">ahpC</text>
<text x="92.6" y="345.2">esxG</text>
<text x="23.3" y="380.0">esxG</text>
<text x="63.7" y="360.5">Rv2034</text>
</g>
<g stroke="#8a8a9a" stroke-width="0.35" stroke-opacity="0.7"><line x1="117.1" y1="322.5" x2="96.2" y2="314.1"/><line x1="117.1" y1="322.5" x2="97.6" y2="308.4"/><line x1="117.1" y1="322.5" x2="92.7" y2="318.5"/><line x1="117.1" y1="322.5" x2="114.7" y2="313.4"/><line x1="117.1" y1="322.5" x2="93.8" y2="327.6"/><line x1="117.1" y1="322.5" x2="91.0" y2="313.1"/><line x1="73.0" y1="356.8" x2="63.1" y2="332.9"/><line x1="73.0" y1="356.8" x2="84.4" y2="331.8"/><line x1="73.0" y1="356.8" x2="98.3" y2="346.7"/><line x1="73.0" y1="356.8" x2="94.7" y2="343.1"/><line x1="63.1" y1="332.9" x2="65.5" y2="343.5"/><line x1="63.1" y1="332.9" x2="69.8" y2="338.6"/><line x1="63.1" y1="332.9" x2="84.8" y2="332.8"/><line x1="63.1" y1="332.9" x2="68.9" y2="340.8"/><line x1="63.1" y1="332.9" x2="73.8" y2="359.6"/><line x1="63.1" y1="332.9" x2="89.9" y2="342.8"/><line x1="63.1" y1="332.9" x2="92.0" y2="337.4"/><line x1="98.1" y1="342.2" x2="69.8" y2="338.6"/><line x1="98.1" y1="342.2" x2="88.6" y2="348.6"/><line x1="98.1" y1="342.2" x2="72.4" y2="334.6"/><line x1="98.1" y1="342.2" x2="75.8" y2="331.3"/><line x1="98.1" y1="342.2" x2="92.6" y2="348.0"/><line x1="98.1" y1="342.2" x2="73.8" y2="359.6"/><line x1="98.1" y1="342.2" x2="79.6" y2="363.1"/><line x1="98.1" y1="342.2" x2="94.7" y2="343.1"/><line x1="65.5" y1="343.5" x2="68.4" y2="322.2"/><line x1="65.5" y1="343.5" x2="92.0" y2="352.5"/><line x1="65.5" y1="343.5" x2="84.8" y2="332.8"/><line x1="65.5" y1="343.5" x2="91.8" y2="351.7"/><line x1="65.5" y1="343.5" x2="84.5" y2="345.5"/><line x1="93.5" y1="358.7" x2="94.1" y2="357.7"/><line x1="93.5" y1="358.7" x2="88.6" y2="348.6"/><line x1="93.5" y1="358.7" x2="84.8" y2="332.8"/><line x1="93.5" y1="358.7" x2="84.4" y2="331.8"/><line x1="93.5" y1="358.7" x2="79.6" y2="363.1"/><line x1="93.5" y1="358.7" x2="98.3" y2="346.7"/><line x1="93.5" y1="358.7" x2="104.0" y2="356.9"/><line x1="93.5" y1="358.7" x2="84.5" y2="345.5"/><line x1="67.6" y1="356.1" x2="89.1" y2="353.6"/><line x1="67.6" y1="356.1" x2="91.3" y2="350.9"/><line x1="67.6" y1="356.1" x2="84.4" y2="331.8"/><line x1="67.6" y1="356.1" x2="60.2" y2="346.6"/><line x1="94.1" y1="357.7" x2="112.7" y2="358.6"/><line x1="94.1" y1="357.7" x2="74.7" y2="353.3"/><line x1="94.1" y1="357.7" x2="107.6" y2="353.8"/><line x1="94.1" y1="357.7" x2="92.6" y2="348.0"/><line x1="94.1" y1="357.7" x2="79.6" y2="363.1"/><line x1="94.1" y1="357.7" x2="113.0" y2="338.8"/><line x1="68.4" y1="322.2" x2="96.2" y2="314.1"/><line x1="68.4" y1="322.2" x2="69.8" y2="338.6"/><line x1="68.4" y1="322.2" x2="77.6" y2="306.3"/><line x1="68.4" y1="322.2" x2="84.8" y2="332.8"/><line x1="68.4" y1="322.2" x2="60.2" y2="346.6"/><line x1="68.4" y1="322.2" x2="89.9" y2="342.8"/><line x1="68.4" y1="322.2" x2="59.5" y2="338.0"/><line x1="68.4" y1="322.2" x2="92.0" y2="337.4"/><line x1="68.4" y1="322.2" x2="91.0" y2="313.1"/><line x1="96.2" y1="314.1" x2="119.4" y2="329.5"/><line x1="96.2" y1="314.1" x2="75.4" y2="311.1"/><line x1="96.2" y1="314.1" x2="109.5" y2="305.4"/><line x1="96.2" y1="314.1" x2="113.1" y2="310.3"/><line x1="96.2" y1="314.1" x2="110.5" y2="312.3"/><line x1="69.8" y1="338.6" x2="88.6" y2="348.6"/><line x1="69.8" y1="338.6" x2="91.3" y2="350.9"/><line x1="69.8" y1="338.6" x2="58.4" y2="332.5"/><line x1="69.8" y1="338.6" x2="94.7" y2="343.1"/><line x1="69.8" y1="338.6" x2="89.9" y2="342.8"/><line x1="69.8" y1="338.6" x2="92.0" y2="337.4"/><line x1="88.6" y1="348.6" x2="84.8" y2="332.8"/><line x1="88.6" y1="348.6" x2="74.7" y2="353.3"/><line x1="88.6" y1="348.6" x2="107.6" y2="353.8"/><line x1="88.6" y1="348.6" x2="60.2" y2="346.6"/><line x1="88.6" y1="348.6" x2="89.9" y2="342.8"/><line x1="88.6" y1="348.6" x2="104.0" y2="356.9"/><line x1="88.6" y1="348.6" x2="96.9" y2="346.1"/><line x1="112.7" y1="358.6" x2="110.3" y2="341.5"/><line x1="112.7" y1="358.6" x2="119.4" y2="329.5"/><line x1="112.7" y1="358.6" x2="126.0" y2="340.6"/><line x1="112.7" y1="358.6" x2="104.0" y2="356.9"/><line x1="112.7" y1="358.6" x2="92.0" y2="337.4"/><line x1="61.5" y1="331.8" x2="58.4" y2="332.5"/><line x1="61.5" y1="331.8" x2="84.4" y2="331.8"/><line x1="96.5" y1="307.3" x2="77.6" y2="306.3"/><line x1="96.5" y1="307.3" x2="92.7" y2="318.5"/><line x1="96.5" y1="307.3" x2="103.1" y2="320.4"/><line x1="96.5" y1="307.3" x2="114.7" y2="313.4"/><line x1="96.5" y1="307.3" x2="109.8" y2="321.3"/><line x1="96.5" y1="307.3" x2="109.5" y2="305.4"/><line x1="96.5" y1="307.3" x2="110.5" y2="312.3"/><line x1="96.5" y1="307.3" x2="91.0" y2="313.1"/><line x1="89.1" y1="353.6" x2="91.3" y2="350.9"/><line x1="89.1" y1="353.6" x2="84.8" y2="332.8"/><line x1="89.1" y1="353.6" x2="79.6" y2="363.1"/><line x1="89.1" y1="353.6" x2="91.8" y2="351.7"/><line x1="89.1" y1="353.6" x2="93.8" y2="327.6"/><line x1="89.1" y1="353.6" x2="113.0" y2="338.8"/><line x1="89.1" y1="353.6" x2="98.3" y2="346.7"/><line x1="89.1" y1="353.6" x2="92.0" y2="337.4"/><line x1="89.1" y1="353.6" x2="84.5" y2="345.5"/><line x1="97.6" y1="308.4" x2="108.7" y2="306.6"/><line x1="97.6" y1="308.4" x2="77.6" y2="306.3"/><line x1="97.6" y1="308.4" x2="99.5" y2="304.3"/><line x1="97.6" y1="308.4" x2="92.7" y2="318.5"/><line x1="97.6" y1="308.4" x2="75.4" y2="311.1"/><line x1="97.6" y1="308.4" x2="91.0" y2="313.1"/><line x1="95.9" y1="315.1" x2="108.7" y2="306.6"/><line x1="95.9" y1="315.1" x2="99.5" y2="304.3"/><line x1="95.9" y1="315.1" x2="92.7" y2="318.5"/><line x1="95.9" y1="315.1" x2="75.8" y2="331.3"/><line x1="95.9" y1="315.1" x2="84.4" y2="331.8"/><line x1="95.9" y1="315.1" x2="119.4" y2="329.5"/><line x1="95.9" y1="315.1" x2="93.8" y2="327.6"/><line x1="95.9" y1="315.1" x2="75.4" y2="311.1"/><line x1="91.3" y1="350.9" x2="74.7" y2="353.3"/><line x1="91.3" y1="350.9" x2="72.4" y2="334.6"/><line x1="91.3" y1="350.9" x2="110.3" y2="341.5"/><line x1="91.3" y1="350.9" x2="68.9" y2="340.8"/><line x1="91.3" y1="350.9" x2="73.8" y2="359.6"/><line x1="91.3" y1="350.9" x2="104.5" y2="356.8"/><line x1="91.3" y1="350.9" x2="104.0" y2="356.9"/><line x1="91.3" y1="350.9" x2="84.5" y2="345.5"/><line x1="114.7" y1="326.5" x2="110.3" y2="341.5"/><line x1="114.7" y1="326.5" x2="93.8" y2="327.6"/><line x1="114.7" y1="326.5" x2="122.6" y2="326.1"/><line x1="114.7" y1="326.5" x2="113.0" y2="338.8"/><line x1="114.7" y1="326.5" x2="126.0" y2="340.6"/><line x1="114.7" y1="326.5" x2="116.0" y2="355.7"/><line x1="114.7" y1="326.5" x2="92.0" y2="337.4"/><line x1="93.2" y1="302.7" x2="108.7" y2="306.6"/><line x1="125.5" y1="347.5" x2="110.3" y2="341.5"/><line x1="125.5" y1="347.5" x2="119.4" y2="329.5"/><line x1="125.5" y1="347.5" x2="115.7" y2="336.2"/><line x1="125.5" y1="347.5" x2="126.0" y2="340.6"/><line x1="125.5" y1="347.5" x2="110.9" y2="340.5"/><line x1="125.5" y1="347.5" x2="116.0" y2="355.7"/><line x1="125.5" y1="347.5" x2="96.9" y2="346.1"/><line x1="125.5" y1="347.5" x2="114.8" y2="322.3"/><line x1="58.4" y1="332.5" x2="75.8" y2="331.3"/><line x1="108.7" y1="306.6" x2="103.1" y2="320.4"/><line x1="108.7" y1="306.6" x2="93.8" y2="327.6"/><line x1="108.7" y1="306.6" x2="109.8" y2="321.3"/><line x1="77.6" y1="306.3" x2="99.5" y2="304.3"/><line x1="77.6" y1="306.3" x2="103.1" y2="320.4"/><line x1="77.6" y1="306.3" x2="75.8" y2="331.3"/><line x1="99.5" y1="304.3" x2="110.5" y2="312.3"/><line x1="99.5" y1="304.3" x2="91.0" y2="313.1"/><line x1="92.0" y1="352.5" x2="84.8" y2="332.8"/><line x1="92.0" y1="352.5" x2="92.6" y2="348.0"/><line x1="92.0" y1="352.5" x2="113.0" y2="338.8"/><line x1="92.0" y1="352.5" x2="104.5" y2="356.8"/><line x1="92.0" y1="352.5" x2="116.0" y2="355.7"/><line x1="84.8" y1="332.8" x2="103.1" y2="320.4"/><line x1="84.8" y1="332.8" x2="91.8" y2="351.7"/><line x1="84.8" y1="332.8" x2="89.9" y2="342.8"/><line x1="84.8" y1="332.8" x2="91.0" y2="313.1"/><line x1="74.7" y1="353.3" x2="68.9" y2="340.8"/><line x1="74.7" y1="353.3" x2="96.9" y2="346.1"/><line x1="72.4" y1="334.6" x2="92.6" y2="348.0"/><line x1="72.4" y1="334.6" x2="60.2" y2="346.6"/><line x1="72.4" y1="334.6" x2="75.4" y2="311.1"/><line x1="72.4" y1="334.6" x2="84.5" y2="345.5"/><line x1="110.3" y1="341.5" x2="84.4" y2="331.8"/><line x1="110.3" y1="341.5" x2="114.7" y2="313.4"/><line x1="110.3" y1="341.5" x2="91.8" y2="351.7"/><line x1="110.3" y1="341.5" x2="122.6" y2="326.1"/><line x1="110.3" y1="341.5" x2="116.0" y2="355.7"/><line x1="110.3" y1="341.5" x2="96.9" y2="346.1"/><line x1="92.7" y1="318.5" x2="113.0" y2="338.8"/><line x1="92.7" y1="318.5" x2="98.3" y2="346.7"/><line x1="92.7" y1="318.5" x2="89.9" y2="342.8"/><line x1="103.1" y1="320.4" x2="84.4" y2="331.8"/><line x1="103.1" y1="320.4" x2="115.7" y2="336.2"/><line x1="103.1" y1="320.4" x2="122.6" y2="326.1"/><line x1="103.1" y1="320.4" x2="110.9" y2="340.5"/><line x1="103.1" y1="320.4" x2="94.7" y2="343.1"/><line x1="103.1" y1="320.4" x2="114.8" y2="322.3"/><line x1="75.8" y1="331.3" x2="68.9" y2="340.8"/><line x1="75.8" y1="331.3" x2="92.6" y2="348.0"/><line x1="75.8" y1="331.3" x2="65.5" y2="324.8"/><line x1="68.9" y1="340.8" x2="84.4" y2="331.8"/><line x1="68.9" y1="340.8" x2="92.6" y2="348.0"/><line x1="68.9" y1="340.8" x2="73.8" y2="359.6"/><line x1="68.9" y1="340.8" x2="94.7" y2="343.1"/><line x1="68.9" y1="340.8" x2="59.5" y2="338.0"/><line x1="123.4" y1="335.2" x2="114.7" y2="313.4"/><line x1="123.4" y1="335.2" x2="113.0" y2="338.8"/><line x1="123.4" y1="335.2" x2="126.0" y2="340.6"/><line x1="123.4" y1="335.2" x2="98.3" y2="346.7"/><line x1="123.4" y1="335.2" x2="113.1" y2="310.3"/><line x1="123.4" y1="335.2" x2="96.9" y2="346.1"/><line x1="107.6" y1="353.8" x2="79.6" y2="363.1"/><line x1="107.6" y1="353.8" x2="98.3" y2="346.7"/><line x1="107.6" y1="353.8" x2="94.7" y2="343.1"/><line x1="107.6" y1="353.8" x2="89.9" y2="342.8"/><line x1="84.4" y1="331.8" x2="96.9" y2="346.1"/><line x1="84.4" y1="331.8" x2="59.5" y2="338.0"/><line x1="92.6" y1="348.0" x2="79.6" y2="363.1"/><line x1="92.6" y1="348.0" x2="91.8" y2="351.7"/><line x1="92.6" y1="348.0" x2="115.7" y2="336.2"/><line x1="92.6" y1="348.0" x2="98.3" y2="346.7"/><line x1="92.6" y1="348.0" x2="116.0" y2="355.7"/><line x1="114.7" y1="313.4" x2="119.4" y2="329.5"/><line x1="114.7" y1="313.4" x2="93.8" y2="327.6"/><line x1="114.7" y1="313.4" x2="109.5" y2="305.4"/><line x1="119.4" y1="329.5" x2="109.8" y2="321.3"/><line x1="119.4" y1="329.5" x2="98.3" y2="346.7"/><line x1="119.4" y1="329.5" x2="110.9" y2="340.5"/><line x1="119.4" y1="329.5" x2="94.7" y2="343.1"/><line x1="119.4" y1="329.5" x2="110.5" y2="312.3"/><line x1="73.8" y1="359.6" x2="79.6" y2="363.1"/><line x1="73.8" y1="359.6" x2="91.8" y2="351.7"/><line x1="73.8" y1="359.6" x2="96.9" y2="346.1"/><line x1="79.6" y1="363.1" x2="92.0" y2="337.4"/><line x1="91.8" y1="351.7" x2="93.8" y2="327.6"/><line x1="91.8" y1="351.7" x2="98.3" y2="346.7"/><line x1="91.8" y1="351.7" x2="104.0" y2="356.9"/><line x1="91.8" y1="351.7" x2="96.9" y2="346.1"/><line x1="115.7" y1="336.2" x2="113.0" y2="338.8"/><line x1="115.7" y1="336.2" x2="109.8" y2="321.3"/><line x1="115.7" y1="336.2" x2="94.7" y2="343.1"/><line x1="115.7" y1="336.2" x2="92.0" y2="337.4"/><line x1="93.8" y1="327.6" x2="122.6" y2="326.1"/><line x1="93.8" y1="327.6" x2="113.0" y2="338.8"/><line x1="93.8" y1="327.6" x2="113.1" y2="310.3"/><line x1="93.8" y1="327.6" x2="110.5" y2="312.3"/><line x1="93.8" y1="327.6" x2="84.5" y2="345.5"/><line x1="122.6" y1="326.1" x2="109.8" y2="321.3"/><line x1="113.0" y1="338.8" x2="110.9" y2="340.5"/><line x1="113.0" y1="338.8" x2="94.7" y2="343.1"/><line x1="113.0" y1="338.8" x2="104.0" y2="356.9"/><line x1="113.0" y1="338.8" x2="84.5" y2="345.5"/><line x1="109.8" y1="321.3" x2="126.0" y2="340.6"/><line x1="109.8" y1="321.3" x2="98.3" y2="346.7"/><line x1="109.8" y1="321.3" x2="94.7" y2="343.1"/><line x1="109.8" y1="321.3" x2="109.5" y2="305.4"/><line x1="109.8" y1="321.3" x2="113.1" y2="310.3"/><line x1="109.8" y1="321.3" x2="114.8" y2="322.3"/><line x1="109.8" y1="321.3" x2="91.0" y2="313.1"/><line x1="126.0" y1="340.6" x2="104.0" y2="356.9"/><line x1="98.3" y1="346.7" x2="116.0" y2="355.7"/><line x1="110.9" y1="340.5" x2="110.5" y2="312.3"/><line x1="104.5" y1="356.8" x2="94.7" y2="343.1"/><line x1="104.5" y1="356.8" x2="89.9" y2="342.8"/><line x1="94.7" y1="343.1" x2="116.0" y2="355.7"/><line x1="94.7" y1="343.1" x2="104.0" y2="356.9"/><line x1="94.7" y1="343.1" x2="99.6" y2="364.8"/><line x1="109.5" y1="305.4" x2="91.0" y2="313.1"/><line x1="113.1" y1="310.3" x2="114.8" y2="322.3"/><line x1="116.0" y1="355.7" x2="99.6" y2="364.8"/><line x1="104.0" y1="356.9" x2="84.5" y2="345.5"/><line x1="96.9" y1="346.1" x2="92.0" y2="337.4"/><line x1="96.9" y1="346.1" x2="84.5" y2="345.5"/></g>
<defs><radialGradient id="coreD" cx="0.5" cy="0.5" r="0.5"><stop offset="0" stop-color="#1e1e40" stop-opacity="1"/><stop offset="0.6" stop-color="#262648" stop-opacity="0.92"/><stop offset="0.82" stop-color="#3a3a58" stop-opacity="0.6"/><stop offset="1" stop-color="#606070" stop-opacity="0"/></radialGradient></defs>
<ellipse cx="96" cy="334" rx="28" ry="26" fill="url(#coreD)"/>
<g stroke="#3a3a5a" stroke-width="0.35" stroke-opacity="0.45"><line x1="99.7" y1="335.7" x2="97.2" y2="332.1"/><line x1="99.7" y1="335.7" x2="89.6" y2="331.4"/><line x1="99.7" y1="335.7" x2="87.9" y2="346.0"/><line x1="99.7" y1="335.7" x2="88.4" y2="345.1"/><line x1="99.7" y1="335.7" x2="73.3" y2="335.6"/><line x1="99.7" y1="335.7" x2="96.2" y2="338.8"/><line x1="99.7" y1="335.7" x2="110.8" y2="324.7"/><line x1="99.7" y1="335.7" x2="130.1" y2="332.4"/><line x1="99.7" y1="335.7" x2="87.0" y2="327.6"/><line x1="99.7" y1="335.7" x2="94.0" y2="330.4"/><line x1="99.7" y1="335.7" x2="93.5" y2="345.2"/><line x1="99.7" y1="335.7" x2="76.7" y2="332.3"/><line x1="99.7" y1="335.7" x2="114.9" y2="323.5"/><line x1="88.4" y1="337.2" x2="89.6" y2="331.4"/><line x1="88.4" y1="337.2" x2="87.9" y2="346.0"/><line x1="88.4" y1="337.2" x2="96.0" y2="319.7"/><line x1="88.4" y1="337.2" x2="79.3" y2="312.2"/><line x1="88.4" y1="337.2" x2="107.2" y2="310.0"/><line x1="88.4" y1="337.2" x2="82.6" y2="329.2"/><line x1="88.4" y1="337.2" x2="110.8" y2="324.7"/><line x1="88.4" y1="337.2" x2="87.0" y2="327.6"/><line x1="88.4" y1="337.2" x2="106.1" y2="338.3"/><line x1="88.4" y1="337.2" x2="94.1" y2="323.2"/><line x1="88.4" y1="337.2" x2="82.4" y2="348.0"/><line x1="88.4" y1="337.2" x2="94.5" y2="338.8"/><line x1="88.4" y1="337.2" x2="76.7" y2="332.3"/><line x1="97.2" y1="332.1" x2="81.7" y2="331.6"/><line x1="97.2" y1="332.1" x2="80.1" y2="352.0"/><line x1="97.2" y1="332.1" x2="68.9" y2="330.3"/><line x1="97.2" y1="332.1" x2="73.3" y2="335.6"/><line x1="97.2" y1="332.1" x2="91.5" y2="336.2"/><line x1="97.2" y1="332.1" x2="88.0" y2="340.9"/><line x1="97.2" y1="332.1" x2="87.0" y2="327.6"/><line x1="97.2" y1="332.1" x2="109.2" y2="333.3"/><line x1="97.2" y1="332.1" x2="91.9" y2="346.7"/><line x1="97.2" y1="332.1" x2="60.5" y2="353.7"/><line x1="97.2" y1="332.1" x2="92.8" y2="347.5"/><line x1="97.2" y1="332.1" x2="94.1" y2="323.2"/><line x1="97.2" y1="332.1" x2="82.4" y2="348.0"/><line x1="97.2" y1="332.1" x2="74.6" y2="343.3"/><line x1="97.2" y1="332.1" x2="94.5" y2="338.8"/><line x1="97.2" y1="332.1" x2="106.4" y2="347.9"/><line x1="81.7" y1="331.6" x2="89.6" y2="331.4"/><line x1="81.7" y1="331.6" x2="87.9" y2="346.0"/><line x1="81.7" y1="331.6" x2="124.5" y2="337.5"/><line x1="81.7" y1="331.6" x2="84.2" y2="329.8"/><line x1="81.7" y1="331.6" x2="80.1" y2="352.0"/><line x1="81.7" y1="331.6" x2="99.1" y2="349.8"/><line x1="81.7" y1="331.6" x2="68.9" y2="330.3"/><line x1="81.7" y1="331.6" x2="94.2" y2="326.4"/><line x1="81.7" y1="331.6" x2="107.2" y2="310.0"/><line x1="81.7" y1="331.6" x2="107.9" y2="339.9"/><line x1="81.7" y1="331.6" x2="88.0" y2="340.9"/><line x1="81.7" y1="331.6" x2="130.1" y2="332.4"/><line x1="81.7" y1="331.6" x2="85.3" y2="334.8"/><line x1="81.7" y1="331.6" x2="91.9" y2="346.7"/><line x1="81.7" y1="331.6" x2="106.7" y2="340.8"/><line x1="81.7" y1="331.6" x2="111.3" y2="334.8"/><line x1="81.7" y1="331.6" x2="92.8" y2="347.5"/><line x1="81.7" y1="331.6" x2="82.4" y2="348.0"/><line x1="81.7" y1="331.6" x2="122.5" y2="329.3"/><line x1="81.7" y1="331.6" x2="74.6" y2="343.3"/><line x1="81.7" y1="331.6" x2="76.7" y2="332.3"/><line x1="81.7" y1="331.6" x2="106.4" y2="347.9"/><line x1="98.9" y1="328.3" x2="87.4" y2="343.2"/><line x1="98.9" y1="328.3" x2="109.5" y2="350.5"/><line x1="98.9" y1="328.3" x2="106.6" y2="316.5"/><line x1="98.9" y1="328.3" x2="80.1" y2="352.0"/><line x1="98.9" y1="328.3" x2="86.1" y2="318.3"/><line x1="98.9" y1="328.3" x2="79.3" y2="312.2"/><line x1="98.9" y1="328.3" x2="94.2" y2="326.4"/><line x1="98.9" y1="328.3" x2="93.5" y2="345.2"/><line x1="98.9" y1="328.3" x2="106.7" y2="340.8"/><line x1="98.9" y1="328.3" x2="92.8" y2="347.5"/><line x1="98.9" y1="328.3" x2="122.5" y2="329.3"/><line x1="98.9" y1="328.3" x2="88.2" y2="323.6"/><line x1="98.9" y1="328.3" x2="94.5" y2="338.8"/><line x1="87.4" y1="343.2" x2="88.5" y2="336.0"/><line x1="87.4" y1="343.2" x2="89.6" y2="331.4"/><line x1="87.4" y1="343.2" x2="80.1" y2="352.0"/><line x1="87.4" y1="343.2" x2="86.1" y2="318.3"/><line x1="87.4" y1="343.2" x2="79.3" y2="312.2"/><line x1="87.4" y1="343.2" x2="91.5" y2="336.2"/><line x1="87.4" y1="343.2" x2="107.9" y2="339.9"/><line x1="87.4" y1="343.2" x2="85.3" y2="334.8"/><line x1="87.4" y1="343.2" x2="109.2" y2="333.3"/><line x1="87.4" y1="343.2" x2="94.0" y2="330.4"/><line x1="87.4" y1="343.2" x2="100.1" y2="339.9"/><line x1="87.4" y1="343.2" x2="60.5" y2="353.7"/><line x1="87.4" y1="343.2" x2="92.8" y2="347.5"/><line x1="87.4" y1="343.2" x2="94.1" y2="323.2"/><line x1="87.4" y1="343.2" x2="74.6" y2="343.3"/><line x1="87.4" y1="343.2" x2="94.5" y2="338.8"/><line x1="87.4" y1="343.2" x2="76.7" y2="332.3"/><line x1="94.0" y1="334.7" x2="88.5" y2="336.0"/><line x1="94.0" y1="334.7" x2="89.6" y2="331.4"/><line x1="94.0" y1="334.7" x2="106.6" y2="316.5"/><line x1="94.0" y1="334.7" x2="96.0" y2="319.7"/><line x1="94.0" y1="334.7" x2="86.1" y2="318.3"/><line x1="94.0" y1="334.7" x2="107.9" y2="339.9"/><line x1="94.0" y1="334.7" x2="88.0" y2="340.9"/><line x1="94.0" y1="334.7" x2="110.8" y2="324.7"/><line x1="94.0" y1="334.7" x2="91.9" y2="346.7"/><line x1="94.0" y1="334.7" x2="88.1" y2="336.8"/><line x1="94.0" y1="334.7" x2="111.3" y2="334.8"/><line x1="94.0" y1="334.7" x2="60.5" y2="353.7"/><line x1="94.0" y1="334.7" x2="94.1" y2="323.2"/><line x1="94.0" y1="334.7" x2="76.7" y2="332.3"/><line x1="88.5" y1="336.0" x2="87.9" y2="346.0"/><line x1="88.5" y1="336.0" x2="99.1" y2="331.0"/><line x1="88.5" y1="336.0" x2="109.5" y2="350.5"/><line x1="88.5" y1="336.0" x2="84.2" y2="329.8"/><line x1="88.5" y1="336.0" x2="86.1" y2="318.3"/><line x1="88.5" y1="336.0" x2="107.9" y2="339.9"/><line x1="88.5" y1="336.0" x2="113.3" y2="342.2"/><line x1="88.5" y1="336.0" x2="74.6" y2="343.3"/><line x1="88.5" y1="336.0" x2="88.2" y2="323.6"/><line x1="88.5" y1="336.0" x2="97.5" y2="331.2"/><line x1="89.6" y1="331.4" x2="84.2" y2="329.8"/><line x1="89.6" y1="331.4" x2="107.2" y2="310.0"/><line x1="89.6" y1="331.4" x2="96.2" y2="338.8"/><line x1="89.6" y1="331.4" x2="88.0" y2="340.9"/><line x1="89.6" y1="331.4" x2="110.8" y2="324.7"/><line x1="89.6" y1="331.4" x2="85.3" y2="334.8"/><line x1="89.6" y1="331.4" x2="94.0" y2="330.4"/><line x1="89.6" y1="331.4" x2="93.5" y2="345.2"/><line x1="89.6" y1="331.4" x2="106.1" y2="338.3"/><line x1="89.6" y1="331.4" x2="106.7" y2="340.8"/><line x1="89.6" y1="331.4" x2="92.8" y2="347.5"/><line x1="89.6" y1="331.4" x2="114.9" y2="323.5"/><line x1="87.9" y1="346.0" x2="99.1" y2="331.0"/><line x1="87.9" y1="346.0" x2="73.3" y2="335.6"/><line x1="87.9" y1="346.0" x2="91.5" y2="336.2"/><line x1="87.9" y1="346.0" x2="92.4" y2="332.6"/><line x1="87.9" y1="346.0" x2="130.1" y2="332.4"/><line x1="87.9" y1="346.0" x2="87.0" y2="327.6"/><line x1="87.9" y1="346.0" x2="85.3" y2="334.8"/><line x1="87.9" y1="346.0" x2="100.1" y2="339.9"/><line x1="87.9" y1="346.0" x2="106.1" y2="338.3"/><line x1="87.9" y1="346.0" x2="106.7" y2="340.8"/><line x1="87.9" y1="346.0" x2="74.6" y2="343.3"/><line x1="87.9" y1="346.0" x2="76.7" y2="332.3"/><line x1="99.1" y1="331.0" x2="99.1" y2="349.8"/><line x1="99.1" y1="331.0" x2="68.9" y2="330.3"/><line x1="99.1" y1="331.0" x2="94.2" y2="326.4"/><line x1="99.1" y1="331.0" x2="89.3" y2="327.9"/><line x1="99.1" y1="331.0" x2="82.6" y2="329.2"/><line x1="99.1" y1="331.0" x2="96.2" y2="338.8"/><line x1="99.1" y1="331.0" x2="72.0" y2="330.2"/><line x1="99.1" y1="331.0" x2="100.1" y2="339.9"/><line x1="99.1" y1="331.0" x2="93.5" y2="345.2"/><line x1="99.1" y1="331.0" x2="88.1" y2="336.8"/><line x1="99.1" y1="331.0" x2="111.3" y2="334.8"/><line x1="99.1" y1="331.0" x2="88.2" y2="323.6"/><line x1="99.1" y1="331.0" x2="76.7" y2="332.3"/><line x1="109.5" y1="350.5" x2="80.1" y2="352.0"/><line x1="109.5" y1="350.5" x2="99.1" y2="349.8"/><line x1="109.5" y1="350.5" x2="91.5" y2="336.2"/><line x1="109.5" y1="350.5" x2="107.9" y2="339.9"/><line x1="109.5" y1="350.5" x2="96.2" y2="338.8"/><line x1="109.5" y1="350.5" x2="72.0" y2="330.2"/><line x1="109.5" y1="350.5" x2="110.8" y2="324.7"/><line x1="109.5" y1="350.5" x2="87.0" y2="327.6"/><line x1="109.5" y1="350.5" x2="100.1" y2="339.9"/><line x1="109.5" y1="350.5" x2="91.9" y2="346.7"/><line x1="109.5" y1="350.5" x2="111.3" y2="334.8"/><line x1="109.5" y1="350.5" x2="82.4" y2="348.0"/><line x1="109.5" y1="350.5" x2="122.5" y2="329.3"/><line x1="109.5" y1="350.5" x2="94.5" y2="338.8"/><line x1="109.5" y1="350.5" x2="97.5" y2="331.2"/><line x1="109.5" y1="350.5" x2="76.7" y2="332.3"/><line x1="109.5" y1="350.5" x2="114.9" y2="323.5"/><line x1="124.5" y1="337.5" x2="80.1" y2="352.0"/><line x1="124.5" y1="337.5" x2="68.9" y2="330.3"/><line x1="124.5" y1="337.5" x2="79.3" y2="312.2"/><line x1="124.5" y1="337.5" x2="91.5" y2="336.2"/><line x1="124.5" y1="337.5" x2="72.0" y2="330.2"/><line x1="124.5" y1="337.5" x2="110.8" y2="324.7"/><line x1="124.5" y1="337.5" x2="93.5" y2="345.2"/><line x1="124.5" y1="337.5" x2="88.1" y2="336.8"/><line x1="124.5" y1="337.5" x2="106.7" y2="340.8"/><line x1="124.5" y1="337.5" x2="113.3" y2="342.2"/><line x1="124.5" y1="337.5" x2="60.5" y2="353.7"/><line x1="124.5" y1="337.5" x2="122.5" y2="329.3"/><line x1="124.5" y1="337.5" x2="88.2" y2="323.6"/><line x1="124.5" y1="337.5" x2="106.4" y2="347.9"/><line x1="84.2" y1="329.8" x2="96.0" y2="319.7"/><line x1="84.2" y1="329.8" x2="79.3" y2="312.2"/><line x1="84.2" y1="329.8" x2="94.2" y2="326.4"/><line x1="84.2" y1="329.8" x2="92.4" y2="332.6"/><line x1="84.2" y1="329.8" x2="93.5" y2="345.2"/><line x1="84.2" y1="329.8" x2="111.3" y2="334.8"/><line x1="84.2" y1="329.8" x2="113.3" y2="342.2"/><line x1="84.2" y1="329.8" x2="122.5" y2="329.3"/><line x1="84.2" y1="329.8" x2="74.6" y2="343.3"/><line x1="84.2" y1="329.8" x2="94.5" y2="338.8"/><line x1="84.2" y1="329.8" x2="76.7" y2="332.3"/><line x1="106.6" y1="316.5" x2="107.2" y2="310.0"/><line x1="106.6" y1="316.5" x2="107.9" y2="339.9"/><line x1="106.6" y1="316.5" x2="96.2" y2="338.8"/><line x1="106.6" y1="316.5" x2="94.0" y2="330.4"/><line x1="106.6" y1="316.5" x2="100.1" y2="339.9"/><line x1="106.6" y1="316.5" x2="93.5" y2="345.2"/><line x1="106.6" y1="316.5" x2="111.3" y2="334.8"/><line x1="106.6" y1="316.5" x2="60.5" y2="353.7"/><line x1="106.6" y1="316.5" x2="76.7" y2="332.3"/><line x1="106.6" y1="316.5" x2="106.4" y2="347.9"/><line x1="80.1" y1="352.0" x2="88.4" y2="345.1"/><line x1="80.1" y1="352.0" x2="107.2" y2="310.0"/><line x1="80.1" y1="352.0" x2="89.3" y2="327.9"/><line x1="80.1" y1="352.0" x2="82.6" y2="329.2"/><line x1="80.1" y1="352.0" x2="87.0" y2="327.6"/><line x1="80.1" y1="352.0" x2="85.3" y2="334.8"/><line x1="80.1" y1="352.0" x2="109.2" y2="333.3"/><line x1="80.1" y1="352.0" x2="100.1" y2="339.9"/><line x1="80.1" y1="352.0" x2="92.8" y2="347.5"/><line x1="80.1" y1="352.0" x2="122.5" y2="329.3"/><line x1="99.1" y1="349.8" x2="88.4" y2="345.1"/><line x1="99.1" y1="349.8" x2="96.0" y2="319.7"/><line x1="99.1" y1="349.8" x2="91.5" y2="336.2"/><line x1="99.1" y1="349.8" x2="107.2" y2="310.0"/><line x1="99.1" y1="349.8" x2="130.1" y2="332.4"/><line x1="99.1" y1="349.8" x2="87.0" y2="327.6"/><line x1="99.1" y1="349.8" x2="88.1" y2="336.8"/><line x1="99.1" y1="349.8" x2="122.5" y2="329.3"/><line x1="99.1" y1="349.8" x2="88.2" y2="323.6"/><line x1="99.1" y1="349.8" x2="94.5" y2="338.8"/><line x1="68.9" y1="330.3" x2="96.0" y2="319.7"/><line x1="68.9" y1="330.3" x2="79.3" y2="312.2"/><line x1="68.9" y1="330.3" x2="73.3" y2="335.6"/><line x1="68.9" y1="330.3" x2="94.2" y2="326.4"/><line x1="68.9" y1="330.3" x2="107.2" y2="310.0"/><line x1="68.9" y1="330.3" x2="89.3" y2="327.9"/><line x1="68.9" y1="330.3" x2="92.4" y2="332.6"/><line x1="68.9" y1="330.3" x2="109.2" y2="333.3"/><line x1="68.9" y1="330.3" x2="93.5" y2="345.2"/><line x1="68.9" y1="330.3" x2="97.5" y2="331.2"/><line x1="88.4" y1="345.1" x2="79.3" y2="312.2"/><line x1="88.4" y1="345.1" x2="73.3" y2="335.6"/><line x1="88.4" y1="345.1" x2="94.2" y2="326.4"/><line x1="88.4" y1="345.1" x2="107.2" y2="310.0"/><line x1="88.4" y1="345.1" x2="86.8" y2="344.2"/><line x1="88.4" y1="345.1" x2="82.6" y2="329.2"/><line x1="88.4" y1="345.1" x2="92.4" y2="332.6"/><line x1="88.4" y1="345.1" x2="88.0" y2="340.9"/><line x1="88.4" y1="345.1" x2="72.0" y2="330.2"/><line x1="88.4" y1="345.1" x2="110.8" y2="324.7"/><line x1="88.4" y1="345.1" x2="130.1" y2="332.4"/><line x1="88.4" y1="345.1" x2="85.3" y2="334.8"/><line x1="88.4" y1="345.1" x2="109.2" y2="333.3"/><line x1="88.4" y1="345.1" x2="88.1" y2="336.8"/><line x1="88.4" y1="345.1" x2="94.1" y2="323.2"/><line x1="88.4" y1="345.1" x2="88.2" y2="323.6"/><line x1="88.4" y1="345.1" x2="94.5" y2="338.8"/><line x1="88.4" y1="345.1" x2="97.5" y2="331.2"/><line x1="96.0" y1="319.7" x2="86.1" y2="318.3"/><line x1="96.0" y1="319.7" x2="79.3" y2="312.2"/><line x1="96.0" y1="319.7" x2="89.3" y2="327.9"/><line x1="96.0" y1="319.7" x2="107.9" y2="339.9"/><line x1="96.0" y1="319.7" x2="82.6" y2="329.2"/><line x1="96.0" y1="319.7" x2="87.0" y2="327.6"/><line x1="96.0" y1="319.7" x2="100.1" y2="339.9"/><line x1="96.0" y1="319.7" x2="91.9" y2="346.7"/><line x1="96.0" y1="319.7" x2="106.1" y2="338.3"/><line x1="96.0" y1="319.7" x2="106.7" y2="340.8"/><line x1="96.0" y1="319.7" x2="82.4" y2="348.0"/><line x1="96.0" y1="319.7" x2="97.5" y2="331.2"/><line x1="86.1" y1="318.3" x2="107.2" y2="310.0"/><line x1="86.1" y1="318.3" x2="130.1" y2="332.4"/><line x1="86.1" y1="318.3" x2="85.3" y2="334.8"/><line x1="86.1" y1="318.3" x2="94.1" y2="323.2"/><line x1="86.1" y1="318.3" x2="82.4" y2="348.0"/><line x1="86.1" y1="318.3" x2="88.2" y2="323.6"/><line x1="86.1" y1="318.3" x2="97.5" y2="331.2"/><line x1="79.3" y1="312.2" x2="96.2" y2="338.8"/><line x1="79.3" y1="312.2" x2="88.0" y2="340.9"/><line x1="79.3" y1="312.2" x2="110.8" y2="324.7"/><line x1="79.3" y1="312.2" x2="93.5" y2="345.2"/><line x1="79.3" y1="312.2" x2="92.8" y2="347.5"/><line x1="79.3" y1="312.2" x2="122.5" y2="329.3"/><line x1="73.3" y1="335.6" x2="94.2" y2="326.4"/><line x1="73.3" y1="335.6" x2="107.2" y2="310.0"/><line x1="73.3" y1="335.6" x2="89.3" y2="327.9"/><line x1="73.3" y1="335.6" x2="96.2" y2="338.8"/><line x1="73.3" y1="335.6" x2="92.4" y2="332.6"/><line x1="73.3" y1="335.6" x2="88.0" y2="340.9"/><line x1="73.3" y1="335.6" x2="110.8" y2="324.7"/><line x1="73.3" y1="335.6" x2="109.2" y2="333.3"/><line x1="73.3" y1="335.6" x2="100.1" y2="339.9"/><line x1="73.3" y1="335.6" x2="88.1" y2="336.8"/><line x1="73.3" y1="335.6" x2="113.3" y2="342.2"/><line x1="73.3" y1="335.6" x2="82.4" y2="348.0"/><line x1="73.3" y1="335.6" x2="94.5" y2="338.8"/><line x1="91.5" y1="336.2" x2="107.2" y2="310.0"/><line x1="91.5" y1="336.2" x2="86.8" y2="344.2"/><line x1="91.5" y1="336.2" x2="82.6" y2="329.2"/><line x1="91.5" y1="336.2" x2="96.2" y2="338.8"/><line x1="91.5" y1="336.2" x2="87.0" y2="327.6"/><line x1="91.5" y1="336.2" x2="85.3" y2="334.8"/><line x1="91.5" y1="336.2" x2="106.1" y2="338.3"/><line x1="91.5" y1="336.2" x2="113.3" y2="342.2"/><line x1="91.5" y1="336.2" x2="76.7" y2="332.3"/><line x1="94.2" y1="326.4" x2="86.8" y2="344.2"/><line x1="94.2" y1="326.4" x2="72.0" y2="330.2"/><line x1="94.2" y1="326.4" x2="110.8" y2="324.7"/><line x1="94.2" y1="326.4" x2="130.1" y2="332.4"/><line x1="94.2" y1="326.4" x2="91.9" y2="346.7"/><line x1="94.2" y1="326.4" x2="74.6" y2="343.3"/><line x1="94.2" y1="326.4" x2="114.9" y2="323.5"/><line x1="107.2" y1="310.0" x2="89.3" y2="327.9"/><line x1="107.2" y1="310.0" x2="88.0" y2="340.9"/><line x1="107.2" y1="310.0" x2="87.0" y2="327.6"/><line x1="107.2" y1="310.0" x2="85.3" y2="334.8"/><line x1="107.2" y1="310.0" x2="93.5" y2="345.2"/><line x1="107.2" y1="310.0" x2="114.9" y2="323.5"/><line x1="89.3" y1="327.9" x2="107.9" y2="339.9"/><line x1="89.3" y1="327.9" x2="96.2" y2="338.8"/><line x1="89.3" y1="327.9" x2="72.0" y2="330.2"/><line x1="89.3" y1="327.9" x2="85.3" y2="334.8"/><line x1="89.3" y1="327.9" x2="106.1" y2="338.3"/><line x1="89.3" y1="327.9" x2="106.7" y2="340.8"/><line x1="89.3" y1="327.9" x2="111.3" y2="334.8"/><line x1="89.3" y1="327.9" x2="82.4" y2="348.0"/><line x1="89.3" y1="327.9" x2="76.7" y2="332.3"/><line x1="86.8" y1="344.2" x2="88.0" y2="340.9"/><line x1="86.8" y1="344.2" x2="130.1" y2="332.4"/><line x1="86.8" y1="344.2" x2="87.0" y2="327.6"/><line x1="86.8" y1="344.2" x2="94.0" y2="330.4"/><line x1="86.8" y1="344.2" x2="91.9" y2="346.7"/><line x1="86.8" y1="344.2" x2="122.5" y2="329.3"/><line x1="86.8" y1="344.2" x2="94.5" y2="338.8"/><line x1="107.9" y1="339.9" x2="88.2" y2="323.6"/><line x1="107.9" y1="339.9" x2="94.5" y2="338.8"/><line x1="107.9" y1="339.9" x2="76.7" y2="332.3"/><line x1="82.6" y1="329.2" x2="96.2" y2="338.8"/><line x1="82.6" y1="329.2" x2="100.1" y2="339.9"/><line x1="82.6" y1="329.2" x2="91.9" y2="346.7"/><line x1="82.6" y1="329.2" x2="106.7" y2="340.8"/><line x1="82.6" y1="329.2" x2="113.3" y2="342.2"/><line x1="82.6" y1="329.2" x2="82.4" y2="348.0"/><line x1="82.6" y1="329.2" x2="122.5" y2="329.3"/><line x1="82.6" y1="329.2" x2="76.7" y2="332.3"/><line x1="82.6" y1="329.2" x2="106.4" y2="347.9"/><line x1="96.2" y1="338.8" x2="92.4" y2="332.6"/><line x1="96.2" y1="338.8" x2="130.1" y2="332.4"/><line x1="96.2" y1="338.8" x2="109.2" y2="333.3"/><line x1="96.2" y1="338.8" x2="100.1" y2="339.9"/><line x1="96.2" y1="338.8" x2="93.5" y2="345.2"/><line x1="96.2" y1="338.8" x2="111.3" y2="334.8"/><line x1="96.2" y1="338.8" x2="113.3" y2="342.2"/><line x1="96.2" y1="338.8" x2="92.8" y2="347.5"/><line x1="96.2" y1="338.8" x2="122.5" y2="329.3"/><line x1="96.2" y1="338.8" x2="94.5" y2="338.8"/><line x1="96.2" y1="338.8" x2="76.7" y2="332.3"/><line x1="92.4" y1="332.6" x2="110.8" y2="324.7"/><line x1="92.4" y1="332.6" x2="85.3" y2="334.8"/><line x1="92.4" y1="332.6" x2="60.5" y2="353.7"/><line x1="92.4" y1="332.6" x2="88.2" y2="323.6"/><line x1="92.4" y1="332.6" x2="97.5" y2="331.2"/><line x1="88.0" y1="340.9" x2="94.0" y2="330.4"/><line x1="88.0" y1="340.9" x2="91.9" y2="346.7"/><line x1="88.0" y1="340.9" x2="106.1" y2="338.3"/><line x1="88.0" y1="340.9" x2="106.7" y2="340.8"/><line x1="88.0" y1="340.9" x2="111.3" y2="334.8"/><line x1="88.0" y1="340.9" x2="88.2" y2="323.6"/><line x1="88.0" y1="340.9" x2="97.5" y2="331.2"/><line x1="72.0" y1="330.2" x2="110.8" y2="324.7"/><line x1="72.0" y1="330.2" x2="130.1" y2="332.4"/><line x1="72.0" y1="330.2" x2="94.0" y2="330.4"/><line x1="72.0" y1="330.2" x2="91.9" y2="346.7"/><line x1="72.0" y1="330.2" x2="94.1" y2="323.2"/><line x1="72.0" y1="330.2" x2="82.4" y2="348.0"/><line x1="72.0" y1="330.2" x2="74.6" y2="343.3"/><line x1="72.0" y1="330.2" x2="106.4" y2="347.9"/><line x1="72.0" y1="330.2" x2="114.9" y2="323.5"/><line x1="110.8" y1="324.7" x2="85.3" y2="334.8"/><line x1="110.8" y1="324.7" x2="94.0" y2="330.4"/><line x1="110.8" y1="324.7" x2="91.9" y2="346.7"/><line x1="110.8" y1="324.7" x2="111.3" y2="334.8"/><line x1="110.8" y1="324.7" x2="60.5" y2="353.7"/><line x1="110.8" y1="324.7" x2="76.7" y2="332.3"/><line x1="110.8" y1="324.7" x2="114.9" y2="323.5"/><line x1="130.1" y1="332.4" x2="109.2" y2="333.3"/><line x1="130.1" y1="332.4" x2="100.1" y2="339.9"/><line x1="130.1" y1="332.4" x2="93.5" y2="345.2"/><line x1="130.1" y1="332.4" x2="94.5" y2="338.8"/><line x1="130.1" y1="332.4" x2="114.9" y2="323.5"/><line x1="87.0" y1="327.6" x2="109.2" y2="333.3"/><line x1="87.0" y1="327.6" x2="100.1" y2="339.9"/><line x1="87.0" y1="327.6" x2="93.5" y2="345.2"/><line x1="87.0" y1="327.6" x2="91.9" y2="346.7"/><line x1="87.0" y1="327.6" x2="106.1" y2="338.3"/><line x1="87.0" y1="327.6" x2="111.3" y2="334.8"/><line x1="87.0" y1="327.6" x2="60.5" y2="353.7"/><line x1="87.0" y1="327.6" x2="82.4" y2="348.0"/><line x1="85.3" y1="334.8" x2="100.1" y2="339.9"/><line x1="85.3" y1="334.8" x2="113.3" y2="342.2"/><line x1="85.3" y1="334.8" x2="60.5" y2="353.7"/><line x1="85.3" y1="334.8" x2="88.2" y2="323.6"/><line x1="109.2" y1="333.3" x2="100.1" y2="339.9"/><line x1="109.2" y1="333.3" x2="88.1" y2="336.8"/><line x1="109.2" y1="333.3" x2="106.7" y2="340.8"/><line x1="109.2" y1="333.3" x2="111.3" y2="334.8"/><line x1="109.2" y1="333.3" x2="60.5" y2="353.7"/><line x1="109.2" y1="333.3" x2="74.6" y2="343.3"/><line x1="94.0" y1="330.4" x2="82.4" y2="348.0"/><line x1="94.0" y1="330.4" x2="88.2" y2="323.6"/><line x1="100.1" y1="339.9" x2="113.3" y2="342.2"/><line x1="100.1" y1="339.9" x2="76.7" y2="332.3"/><line x1="100.1" y1="339.9" x2="114.9" y2="323.5"/><line x1="93.5" y1="345.2" x2="91.9" y2="346.7"/><line x1="93.5" y1="345.2" x2="106.7" y2="340.8"/><line x1="93.5" y1="345.2" x2="60.5" y2="353.7"/><line x1="93.5" y1="345.2" x2="92.8" y2="347.5"/><line x1="93.5" y1="345.2" x2="94.1" y2="323.2"/><line x1="93.5" y1="345.2" x2="122.5" y2="329.3"/><line x1="93.5" y1="345.2" x2="88.2" y2="323.6"/><line x1="93.5" y1="345.2" x2="94.5" y2="338.8"/><line x1="93.5" y1="345.2" x2="106.4" y2="347.9"/><line x1="91.9" y1="346.7" x2="88.1" y2="336.8"/><line x1="91.9" y1="346.7" x2="106.7" y2="340.8"/><line x1="91.9" y1="346.7" x2="111.3" y2="334.8"/><line x1="91.9" y1="346.7" x2="82.4" y2="348.0"/><line x1="91.9" y1="346.7" x2="74.6" y2="343.3"/><line x1="88.1" y1="336.8" x2="106.1" y2="338.3"/><line x1="88.1" y1="336.8" x2="113.3" y2="342.2"/><line x1="88.1" y1="336.8" x2="60.5" y2="353.7"/><line x1="88.1" y1="336.8" x2="74.6" y2="343.3"/><line x1="88.1" y1="336.8" x2="94.5" y2="338.8"/><line x1="88.1" y1="336.8" x2="97.5" y2="331.2"/><line x1="88.1" y1="336.8" x2="114.9" y2="323.5"/><line x1="106.1" y1="338.3" x2="106.7" y2="340.8"/><line x1="106.1" y1="338.3" x2="82.4" y2="348.0"/><line x1="106.1" y1="338.3" x2="106.4" y2="347.9"/><line x1="106.7" y1="340.8" x2="97.5" y2="331.2"/><line x1="106.7" y1="340.8" x2="106.4" y2="347.9"/><line x1="106.7" y1="340.8" x2="114.9" y2="323.5"/><line x1="111.3" y1="334.8" x2="92.8" y2="347.5"/><line x1="111.3" y1="334.8" x2="82.4" y2="348.0"/><line x1="111.3" y1="334.8" x2="74.6" y2="343.3"/><line x1="113.3" y1="342.2" x2="82.4" y2="348.0"/><line x1="113.3" y1="342.2" x2="122.5" y2="329.3"/><line x1="113.3" y1="342.2" x2="88.2" y2="323.6"/><line x1="113.3" y1="342.2" x2="97.5" y2="331.2"/><line x1="113.3" y1="342.2" x2="76.7" y2="332.3"/><line x1="113.3" y1="342.2" x2="114.9" y2="323.5"/><line x1="60.5" y1="353.7" x2="122.5" y2="329.3"/><line x1="60.5" y1="353.7" x2="74.6" y2="343.3"/><line x1="60.5" y1="353.7" x2="114.9" y2="323.5"/><line x1="92.8" y1="347.5" x2="94.1" y2="323.2"/><line x1="92.8" y1="347.5" x2="82.4" y2="348.0"/><line x1="92.8" y1="347.5" x2="122.5" y2="329.3"/><line x1="92.8" y1="347.5" x2="74.6" y2="343.3"/><line x1="92.8" y1="347.5" x2="88.2" y2="323.6"/><line x1="92.8" y1="347.5" x2="97.5" y2="331.2"/><line x1="94.1" y1="323.2" x2="76.7" y2="332.3"/><line x1="122.5" y1="329.3" x2="88.2" y2="323.6"/><line x1="122.5" y1="329.3" x2="94.5" y2="338.8"/><line x1="122.5" y1="329.3" x2="76.7" y2="332.3"/><line x1="122.5" y1="329.3" x2="114.9" y2="323.5"/><line x1="74.6" y1="343.3" x2="94.5" y2="338.8"/><line x1="74.6" y1="343.3" x2="106.4" y2="347.9"/><line x1="94.5" y1="338.8" x2="106.4" y2="347.9"/><line x1="97.5" y1="331.2" x2="76.7" y2="332.3"/><line x1="97.5" y1="331.2" x2="114.9" y2="323.5"/><line x1="106.4" y1="347.9" x2="114.9" y2="323.5"/></g>
<g stroke="#50506a" stroke-width="0.35" stroke-opacity="0.55"><line x1="103.5" y1="346.8" x2="159.6" y2="341.8"/><line x1="114.5" y1="337.2" x2="158.6" y2="336.0"/><line x1="118.2" y1="349.1" x2="157.5" y2="342.3"/><line x1="109.9" y1="346.3" x2="157.6" y2="335.1"/><line x1="108.0" y1="339.4" x2="149.5" y2="343.2"/><line x1="110.6" y1="349.8" x2="163.8" y2="347.8"/><line x1="117.3" y1="346.7" x2="169.7" y2="341.5"/><line x1="111.5" y1="338.7" x2="153.7" y2="334.8"/><line x1="113.8" y1="353.6" x2="146.6" y2="345.2"/><line x1="120.6" y1="343.6" x2="180.4" y2="336.7"/><line x1="110.2" y1="339.8" x2="152.3" y2="338.7"/><line x1="118.4" y1="344.0" x2="157.7" y2="339.4"/><line x1="106.3" y1="330.0" x2="153.2" y2="340.9"/><line x1="110.9" y1="339.4" x2="172.1" y2="342.7"/><line x1="121.4" y1="352.8" x2="157.6" y2="361.6"/><line x1="121.7" y1="338.3" x2="151.4" y2="360.9"/><line x1="118.3" y1="345.1" x2="160.0" y2="344.3"/><line x1="114.4" y1="343.8" x2="165.3" y2="353.5"/><line x1="111.0" y1="333.6" x2="151.1" y2="349.4"/><line x1="117.2" y1="341.0" x2="155.7" y2="352.0"/><line x1="114.9" y1="334.2" x2="157.5" y2="339.4"/><line x1="117.8" y1="334.2" x2="164.2" y2="327.6"/><line x1="113.5" y1="340.7" x2="163.9" y2="336.6"/><line x1="103.1" y1="338.0" x2="173.5" y2="340.5"/><line x1="103.8" y1="342.3" x2="149.9" y2="352.1"/><line x1="112.7" y1="341.8" x2="153.4" y2="340.0"/><line x1="122.6" y1="342.5" x2="140.9" y2="352.1"/><line x1="111.2" y1="343.0" x2="156.6" y2="335.8"/><line x1="109.4" y1="340.2" x2="160.3" y2="334.3"/><line x1="112.7" y1="339.9" x2="147.9" y2="335.1"/><line x1="106.3" y1="337.4" x2="161.5" y2="337.0"/><line x1="113.2" y1="342.9" x2="159.7" y2="339.5"/><line x1="110.9" y1="339.7" x2="161.4" y2="341.7"/><line x1="105.0" y1="336.6" x2="151.6" y2="341.7"/><line x1="112.7" y1="344.4" x2="163.8" y2="347.2"/><line x1="111.4" y1="340.1" x2="148.5" y2="341.9"/><line x1="114.9" y1="345.6" x2="154.9" y2="340.0"/><line x1="104.1" y1="336.7" x2="173.8" y2="329.9"/><line x1="110.9" y1="341.7" x2="161.9" y2="351.9"/><line x1="121.7" y1="342.2" x2="140.5" y2="327.6"/><line x1="112.2" y1="339.1" x2="162.8" y2="348.0"/><line x1="105.5" y1="344.8" x2="156.5" y2="342.0"/><line x1="106.3" y1="343.5" x2="156.6" y2="341.2"/><line x1="113.4" y1="339.4" x2="155.6" y2="327.9"/><line x1="100.2" y1="342.0" x2="177.2" y2="343.8"/><line x1="130.5" y1="379.1" x2="130.3" y2="405.8"/><line x1="108.7" y1="399.6" x2="111.4" y2="408.4"/><line x1="126.5" y1="404.1" x2="126.7" y2="403.9"/><line x1="138.3" y1="394.6" x2="132.6" y2="395.0"/><line x1="150.0" y1="393.9" x2="118.3" y2="384.8"/><line x1="147.9" y1="393.1" x2="127.3" y2="400.9"/><line x1="112.1" y1="405.6" x2="114.6" y2="396.9"/><line x1="131.6" y1="396.5" x2="115.1" y2="402.5"/><line x1="135.7" y1="398.1" x2="115.2" y2="407.3"/><line x1="129.2" y1="396.3" x2="122.0" y2="399.8"/><line x1="118.6" y1="393.9" x2="114.4" y2="395.3"/><line x1="125.3" y1="394.3" x2="137.8" y2="432.8"/><line x1="131.1" y1="411.9" x2="124.7" y2="412.5"/><line x1="134.8" y1="404.7" x2="132.3" y2="405.5"/><line x1="141.6" y1="405.1" x2="145.3" y2="395.5"/><line x1="116.0" y1="407.5" x2="136.0" y2="411.7"/><line x1="124.8" y1="378.1" x2="133.2" y2="400.9"/><line x1="122.2" y1="406.8" x2="129.0" y2="394.6"/><line x1="128.5" y1="383.7" x2="131.9" y2="403.0"/><line x1="118.6" y1="421.8" x2="138.6" y2="408.9"/><line x1="155.3" y1="388.7" x2="131.1" y2="390.3"/><line x1="128.5" y1="399.1" x2="113.5" y2="398.7"/><line x1="150.9" y1="393.1" x2="111.7" y2="412.5"/><line x1="136.6" y1="407.3" x2="132.6" y2="397.1"/><line x1="126.4" y1="391.9" x2="122.2" y2="393.4"/><line x1="134.0" y1="387.9" x2="133.7" y2="400.1"/><line x1="102.8" y1="389.3" x2="133.4" y2="395.9"/><line x1="104.3" y1="419.9" x2="145.9" y2="406.6"/><line x1="123.3" y1="399.3" x2="133.8" y2="398.3"/><line x1="134.2" y1="416.2" x2="106.5" y2="390.7"/><line x1="113.4" y1="405.6" x2="146.2" y2="398.2"/><line x1="136.1" y1="402.1" x2="144.6" y2="407.7"/><line x1="140.0" y1="412.5" x2="129.2" y2="404.3"/><line x1="153.1" y1="398.6" x2="138.1" y2="394.3"/><line x1="144.6" y1="411.7" x2="141.0" y2="393.5"/><line x1="135.4" y1="410.4" x2="135.3" y2="381.3"/><line x1="138.5" y1="404.7" x2="118.0" y2="404.8"/><line x1="118.1" y1="409.2" x2="130.4" y2="391.2"/><line x1="118.2" y1="406.9" x2="134.7" y2="394.3"/><line x1="158.1" y1="409.6" x2="128.1" y2="403.0"/></g>
<g stroke="#808080" stroke-width="0.45"><circle cx="73.0" cy="318.0" r="2.2" fill="#d4d6d0"/><circle cx="70.0" cy="330.0" r="2.2" fill="#d4d6d0"/><circle cx="72.0" cy="352.0" r="2.2" fill="#d4d6d0"/><circle cx="78.0" cy="362.0" r="2.2" fill="#d4d6d0"/><circle cx="116.0" cy="357.0" r="2.2" fill="#d4d6d0"/><circle cx="122.0" cy="346.0" r="2.2" fill="#d4d6d0"/><circle cx="124.0" cy="330.0" r="2.2" fill="#d4d6d0"/><circle cx="120.0" cy="312.0" r="2.2" fill="#d4d6d0"/><circle cx="84.0" cy="310.0" r="2.2" fill="#d4d6d0"/><circle cx="110.0" cy="361.0" r="2.2" fill="#d4d6d0"/><circle cx="106.0" cy="340.0" r="2.2" fill="#d4d6d0"/><circle cx="89.0" cy="347.0" r="2.2" fill="#d4d6d0"/><circle cx="83.0" cy="336.0" r="2.2" fill="#d4d6d0"/><circle cx="115.0" cy="350.0" r="2.2" fill="#d4d6d0"/><circle cx="118.0" cy="340.0" r="2.2" fill="#d4d6d0"/><circle cx="79.0" cy="356.0" r="2.2" fill="#d4d6d0"/><circle cx="75.2" cy="325.7" r="2.2" fill="#d4d6d0"/><circle cx="86.6" cy="332.9" r="2.2" fill="#d4d6d0"/><circle cx="85.9" cy="341.4" r="2.2" fill="#d4d6d0"/><circle cx="78.3" cy="348.6" r="2.2" fill="#d4d6d0"/><circle cx="87.4" cy="350.8" r="2.2" fill="#d4d6d0"/><circle cx="103.3" cy="350.8" r="2.2" fill="#d4d6d0"/><circle cx="112.5" cy="339.4" r="2.2" fill="#d4d6d0"/><circle cx="111.7" cy="344.0" r="2.2" fill="#d4d6d0"/><circle cx="81.3" cy="321.2" r="2.2" fill="#d4d6d0"/><circle cx="92.0" cy="309.8" r="2.2" fill="#d4d6d0"/><circle cx="101.0" cy="309.8" r="2.2" fill="#d4d6d0"/><circle cx="107.1" cy="306.7" r="2.2" fill="#d4d6d0"/><circle cx="78.0" cy="311.3" r="2.2" fill="#d4d6d0"/><circle cx="71.4" cy="339.4" r="2.2" fill="#d4d6d0"/><circle cx="96.5" cy="356.9" r="2.2" fill="#d4d6d0"/><circle cx="104.1" cy="356.9" r="2.2" fill="#d4d6d0"/><circle cx="87.4" cy="357.7" r="2.2" fill="#d4d6d0"/><circle cx="70.0" cy="318.0" r="2.2" fill="#d4d6d0"/><circle cx="115.0" cy="315.0" r="2.2" fill="#d4d6d0"/><circle cx="120.0" cy="332.0" r="2.2" fill="#d4d6d0"/><circle cx="66.0" cy="328.0" r="2.2" fill="#d4d6d0"/></g>
<g font-family="'Liberation Serif', serif" font-size="2.5" font-weight="bold" fill="#9a9aa8"><text x="74.5" y="316.6">Rv1000</text><text x="71.5" y="328.6">Rv1037</text><text x="73.5" y="350.6">Rv1074</text><text x="79.5" y="360.6">Rv1111</text><text x="117.5" y="355.6">Rv1148</text><text x="123.5" y="344.6">Rv1185</text><text x="125.5" y="328.6">Rv1222</text><text x="121.5" y="310.6">Rv1259</text><text x="85.5" y="308.6">Rv1296</text><text x="111.5" y="359.6">Rv1333</text><text x="107.5" y="338.6">Rv1370</text><text x="90.5" y="345.6">Rv1407</text><text x="84.5" y="334.6">Rv1444</text><text x="116.5" y="348.6">Rv1481</text><text x="119.5" y="338.6">Rv1518</text><text x="80.5" y="354.6">Rv1555</text><text x="76.7" y="324.3">Rv1592</text><text x="88.1" y="331.5">Rv1629</text><text x="87.4" y="340.0">Rv1666</text><text x="79.8" y="347.2">Rv1703</text><text x="88.9" y="349.4">Rv1740</text><text x="104.8" y="349.4">Rv1777</text><text x="114.0" y="338.0">Rv1814</text><text x="113.2" y="342.6">Rv1851</text><text x="82.8" y="319.8">Rv1888</text><text x="93.5" y="308.4">Rv1925</text><text x="102.5" y="308.4">Rv1962</text><text x="108.6" y="305.3">Rv1999</text><text x="79.5" y="309.9">Rv2036</text><text x="72.9" y="338.0">Rv2073</text><text x="98.0" y="355.5">Rv2110</text><text x="105.6" y="355.5">Rv2147</text><text x="88.9" y="356.3">Rv2184</text><text x="71.5" y="316.6">Rv2221</text><text x="116.5" y="313.6">Rv2258</text><text x="121.5" y="330.6">Rv2295</text><text x="67.5" y="326.6">Rv2332</text><text x="101.2" y="334.3">Rv2369</text><text x="89.9" y="335.8">Rv2406</text><text x="98.7" y="330.7">Rv2443</text><text x="83.2" y="330.2">Rv2480</text><text x="100.4" y="326.9">Rv2517</text><text x="88.9" y="341.8">Rv2554</text><text x="95.5" y="333.3">Rv2591</text><text x="90.0" y="334.6">Rv2628</text><text x="91.1" y="330.0">Rv2665</text><text x="89.4" y="344.6">Rv2702</text><text x="100.6" y="329.6">Rv2739</text><text x="111.0" y="349.1">Rv2776</text><text x="126.0" y="336.1">Rv2813</text><text x="85.7" y="328.4">Rv2850</text><text x="108.1" y="315.1">Rv2887</text><text x="81.6" y="350.6">Rv2924</text><text x="100.6" y="348.4">Rv2961</text><text x="70.4" y="328.9">Rv2998</text><text x="89.9" y="343.7">Rv3035</text><text x="97.5" y="318.3">Rv3072</text><text x="87.6" y="316.9">Rv3109</text><text x="80.8" y="310.8">Rv3146</text><text x="74.8" y="334.2">Rv3183</text><text x="93.0" y="334.8">Rv3220</text><text x="95.7" y="325.0">Rv3257</text><text x="108.7" y="308.6">Rv3294</text><text x="90.8" y="326.5">Rv3331</text><text x="88.3" y="342.8">Rv3368</text><text x="109.4" y="338.5">Rv3405</text><text x="84.1" y="327.8">Rv3442</text></g>
<path d="M88.1,313.5 A2.4,2.4 0 0,0 88.1,318.3 Z" fill="#e0463a"/><path d="M88.1,313.5 A2.4,2.4 0 0,1 88.1,318.3 Z" fill="#3c3ce0"/><path d="M99.8,313.8 A2.4,2.4 0 0,0 99.8,318.6 Z" fill="#e0463a"/><path d="M99.8,313.8 A2.4,2.4 0 0,1 99.8,318.6 Z" fill="#3c3ce0"/><path d="M90.1,320.3 A2.4,2.4 0 0,0 90.1,325.1 Z" fill="#e0463a"/><path d="M90.1,320.3 A2.4,2.4 0 0,1 90.1,325.1 Z" fill="#3c3ce0"/><path d="M95.7,319.5 A2.4,2.4 0 0,0 95.7,324.3 Z" fill="#e0463a"/><path d="M95.7,319.5 A2.4,2.4 0 0,1 95.7,324.3 Z" fill="#3c3ce0"/><path d="M104.1,321.1 A2.4,2.4 0 0,0 104.1,325.9 Z" fill="#e0463a"/><path d="M104.1,321.1 A2.4,2.4 0 0,1 104.1,325.9 Z" fill="#3c3ce0"/><path d="M109.4,323.3 A2.4,2.4 0 0,0 109.4,328.1 Z" fill="#e0463a"/><path d="M109.4,323.3 A2.4,2.4 0 0,1 109.4,328.1 Z" fill="#3c3ce0"/><path d="M93.8,326.4 A2.4,2.4 0 0,0 93.8,331.2 Z" fill="#e0463a"/><path d="M93.8,326.4 A2.4,2.4 0 0,1 93.8,331.2 Z" fill="#3c3ce0"/><path d="M104.9,328.7 A2.4,2.4 0 0,0 104.9,333.5 Z" fill="#e0463a"/><path d="M104.9,328.7 A2.4,2.4 0 0,1 104.9,333.5 Z" fill="#3c3ce0"/><path d="M111.0,330.9 A2.4,2.4 0 0,0 111.0,335.7 Z" fill="#e0463a"/><path d="M111.0,330.9 A2.4,2.4 0 0,1 111.0,335.7 Z" fill="#3c3ce0"/><path d="M93.8,332.9 A2.4,2.4 0 0,0 93.8,337.7 Z" fill="#e0463a"/><path d="M93.8,332.9 A2.4,2.4 0 0,1 93.8,337.7 Z" fill="#3c3ce0"/><path d="M100.3,336.0 A2.4,2.4 0 0,0 100.3,340.8 Z" fill="#e0463a"/><path d="M100.3,336.0 A2.4,2.4 0 0,1 100.3,340.8 Z" fill="#3c3ce0"/><path d="M93.2,341.1 A2.4,2.4 0 0,0 93.2,345.9 Z" fill="#e0463a"/><path d="M93.2,341.1 A2.4,2.4 0 0,1 93.2,345.9 Z" fill="#3c3ce0"/><circle cx="118.6" cy="323.8" r="2.5" fill="#3c3ce0"/><circle cx="74.4" cy="331.8" r="2.5" fill="#3c3ce0"/><circle cx="98" cy="347.8" r="2.5" fill="#3c3ce0"/><circle cx="64.6" cy="335.9" r="2.5" fill="#3c3ce0"/><circle cx="62.7" cy="343.5" r="2.5" fill="#3c3ce0"/><circle cx="57.5" cy="340.7" r="2.5" fill="#3c3ce0"/><circle cx="80" cy="320" r="2.5" fill="#3c3ce0"/>
<ellipse cx="93.2" cy="334.4" rx="39.4" ry="34.6" fill="none" stroke="#e52a2a" stroke-width="1.2"/>
<g font-family="'Liberation Serif', serif" font-weight="bold" font-size="7.1" fill="#111" stroke="#111" stroke-width="0.2">
<text x="2.1" y="303.3" transform="matrix(1,0,0,1.15,0,-45.49)">Cholesterol metabolic</text>
<text x="2.1" y="312.1" transform="matrix(1,0,0,1.15,0,-46.82)">and catabolic</text>
<text x="2.1" y="320.8" transform="matrix(1,0,0,1.15,0,-48.12)">processes</text>
</g>
<g stroke="#111" stroke-width="0.9" fill="none">
<line x1="359.3" y1="33" x2="359.3" y2="107.5"/>
<line x1="354.8" y1="42.4" x2="359.3" y2="42.4"/>
<line x1="354.8" y1="56.4" x2="359.3" y2="56.4"/>
<line x1="354.8" y1="70.2" x2="359.3" y2="70.2"/>
<line x1="354.8" y1="84.0" x2="359.3" y2="84.0"/>
<line x1="354.8" y1="97.9" x2="359.3" y2="97.9"/>
<line x1="367.7" y1="115.7" x2="442.2" y2="115.7"/>
<line x1="367.7" y1="115.7" x2="367.7" y2="119.0"/>
<line x1="382.6" y1="115.7" x2="382.6" y2="119.0"/>
<line x1="397.5" y1="115.7" x2="397.5" y2="119.0"/>
<line x1="412.4" y1="115.7" x2="412.4" y2="119.0"/>
<line x1="427.3" y1="115.7" x2="427.3" y2="119.0"/>
<line x1="442.2" y1="115.7" x2="442.2" y2="119.0"/>
</g>
<rect x="367.7" y="37.8" width="23.8" height="9.2" fill="#0000ff"/>
<rect x="367.7" y="51.8" width="25.8" height="9.2" fill="#0000ff"/>
<rect x="367.7" y="65.6" width="28.3" height="9.2" fill="#0000ff"/>
<rect x="367.7" y="79.4" width="33.8" height="9.2" fill="#0000ff"/>
<rect x="367.7" y="93.3" width="58.1" height="9.2" fill="#0000ff"/>
<g font-family="'Liberation Serif', serif" font-weight="bold" font-size="6.3" fill="#222" stroke="#222" stroke-width="0.12" text-anchor="end">
<text x="353.8" y="44.5" transform="matrix(1,0,0,1.15,0,-6.67)">cellular response to iron ion starvation</text>
<text x="353.8" y="58.5" transform="matrix(1,0,0,1.15,0,-8.77)">transition metal ion homeostasis</text>
<text x="353.8" y="72.3" transform="matrix(1,0,0,1.15,0,-10.84)">response to metal ion</text>
<text x="353.8" y="86.1" transform="matrix(1,0,0,1.15,0,-12.91)">siderophore biosynthetic process from catechol</text>
<text x="353.8" y="100.0" transform="matrix(1,0,0,1.15,0,-15.00)">phenol-containing compound metabolic process</text>
</g>
<g font-family="'Liberation Serif', serif" font-weight="bold" font-size="6" fill="#222" stroke="#222" stroke-width="0.22" text-anchor="middle">
<text x="367.7" y="125.60000000000001" transform="matrix(1,0,0,1.12,0,-15.07)">0</text>
<text x="382.6" y="125.60000000000001" transform="matrix(1,0,0,1.12,0,-15.07)">1</text>
<text x="397.5" y="125.60000000000001" transform="matrix(1,0,0,1.12,0,-15.07)">2</text>
<text x="412.4" y="125.60000000000001" transform="matrix(1,0,0,1.12,0,-15.07)">3</text>
<text x="427.3" y="125.60000000000001" transform="matrix(1,0,0,1.12,0,-15.07)">4</text>
<text x="442.2" y="125.60000000000001" transform="matrix(1,0,0,1.12,0,-15.07)">5</text>
</g>
<text x="405" y="136.8" transform="matrix(1,0,0,1.12,0,-16.42)" font-family="'Liberation Serif', serif" font-weight="bold" font-size="8" fill="#222" stroke="#222" stroke-width="0.28" text-anchor="middle">FDR (–log 10)</text>
<g stroke="#111" stroke-width="0.9" fill="none">
<line x1="318" y1="284.4" x2="318" y2="361.2"/>
<line x1="313.5" y1="294.7" x2="318" y2="294.7"/>
<line x1="313.5" y1="308.9" x2="318" y2="308.9"/>
<line x1="313.5" y1="323.1" x2="318" y2="323.1"/>
<line x1="313.5" y1="337.7" x2="318" y2="337.7"/>
<line x1="313.5" y1="351.9" x2="318" y2="351.9"/>
<line x1="325.9" y1="369.5" x2="402.8" y2="369.5"/>
<line x1="325.9" y1="369.5" x2="325.9" y2="372.8"/>
<line x1="341.3" y1="369.5" x2="341.3" y2="372.8"/>
<line x1="356.7" y1="369.5" x2="356.7" y2="372.8"/>
<line x1="372.0" y1="369.5" x2="372.0" y2="372.8"/>
<line x1="387.4" y1="369.5" x2="387.4" y2="372.8"/>
<line x1="402.8" y1="369.5" x2="402.8" y2="372.8"/>
</g>
<rect x="325.9" y="290.1" width="48.4" height="9.2" fill="#ff0000"/>
<rect x="325.9" y="304.3" width="53.1" height="9.2" fill="#ff0000"/>
<rect x="325.9" y="318.5" width="63.1" height="9.2" fill="#ff0000"/>
<rect x="325.9" y="333.1" width="65.4" height="9.2" fill="#ff0000"/>
<rect x="325.9" y="347.3" width="67.3" height="9.2" fill="#ff0000"/>
<g font-family="'Liberation Serif', serif" font-weight="bold" font-size="6.5" fill="#222" stroke="#222" stroke-width="0.12" text-anchor="end">
<text x="312.3" y="296.8" transform="matrix(1,0,0,1.15,0,-44.53)">small molecule catabolic process</text>
<text x="312.3" y="311.0" transform="matrix(1,0,0,1.15,0,-46.66)">lipid catabolic process</text>
<text x="312.3" y="325.2" transform="matrix(1,0,0,1.15,0,-48.79)">steroid metabolic process</text>
<text x="312.3" y="339.8" transform="matrix(1,0,0,1.15,0,-50.98)">cholesterol catabolic process</text>
<text x="312.3" y="354.0" transform="matrix(1,0,0,1.15,0,-53.11)">cholesterol metabolic process</text>
</g>
<g font-family="'Liberation Serif', serif" font-weight="bold" font-size="6" fill="#222" stroke="#222" stroke-width="0.22" text-anchor="middle">
<text x="325.9" y="379.4" transform="matrix(1,0,0,1.12,0,-45.53)">0</text>
<text x="341.3" y="379.4" transform="matrix(1,0,0,1.12,0,-45.53)">2</text>
<text x="356.7" y="379.4" transform="matrix(1,0,0,1.12,0,-45.53)">4</text>
<text x="372.0" y="379.4" transform="matrix(1,0,0,1.12,0,-45.53)">6</text>
<text x="387.4" y="379.4" transform="matrix(1,0,0,1.12,0,-45.53)">8</text>
<text x="402.8" y="379.4" transform="matrix(1,0,0,1.12,0,-45.53)">10</text>
</g>
<text x="364.5" y="391.4" transform="matrix(1,0,0,1.12,0,-46.97)" font-family="'Liberation Serif', serif" font-weight="bold" font-size="6.8" fill="#222" stroke="#222" stroke-width="0.28" text-anchor="middle">-Log<tspan font-size="4.5" dy="1.5">10</tspan><tspan dy="-1.5"> FDR</tspan></text>
<rect x="478" y="23.50" width="8.20" height="10.69" fill="rgb(212,43,47)" shape-rendering="crispEdges"/>
<rect x="486.2" y="23.50" width="8.80" height="10.69" fill="rgb(13,29,11)" shape-rendering="crispEdges"/>
<rect x="478" y="33.89" width="8.20" height="10.69" fill="rgb(198,41,44)" shape-rendering="crispEdges"/>
<rect x="486.2" y="33.89" width="8.80" height="10.69" fill="rgb(10,6,6)" shape-rendering="crispEdges"/>
<rect x="478" y="44.28" width="8.20" height="10.69" fill="rgb(183,38,41)" shape-rendering="crispEdges"/>
<rect x="486.2" y="44.28" width="8.80" height="10.69" fill="rgb(51,14,15)" shape-rendering="crispEdges"/>
<rect x="478" y="54.67" width="8.20" height="10.69" fill="rgb(172,36,39)" shape-rendering="crispEdges"/>
<rect x="486.2" y="54.67" width="8.80" height="10.69" fill="rgb(46,13,14)" shape-rendering="crispEdges"/>
<rect x="478" y="65.06" width="8.20" height="10.69" fill="rgb(162,34,37)" shape-rendering="crispEdges"/>
<rect x="486.2" y="65.06" width="8.80" height="10.69" fill="rgb(44,12,13)" shape-rendering="crispEdges"/>
<rect x="478" y="75.44" width="8.20" height="10.69" fill="rgb(153,32,35)" shape-rendering="crispEdges"/>
<rect x="486.2" y="75.44" width="8.80" height="10.69" fill="rgb(38,155,38)" shape-rendering="crispEdges"/>
<rect x="478" y="85.83" width="8.20" height="10.69" fill="rgb(145,31,34)" shape-rendering="crispEdges"/>
<rect x="486.2" y="85.83" width="8.80" height="10.69" fill="rgb(216,44,48)" shape-rendering="crispEdges"/>
<rect x="478" y="96.22" width="8.20" height="10.69" fill="rgb(138,30,32)" shape-rendering="crispEdges"/>
<rect x="486.2" y="96.22" width="8.80" height="10.69" fill="rgb(55,15,16)" shape-rendering="crispEdges"/>
<rect x="478" y="106.61" width="8.20" height="10.69" fill="rgb(131,29,31)" shape-rendering="crispEdges"/>
<rect x="486.2" y="106.61" width="8.80" height="10.69" fill="rgb(41,12,13)" shape-rendering="crispEdges"/>
<rect x="478" y="117.00" width="8.20" height="10.69" fill="rgb(127,28,30)" shape-rendering="crispEdges"/>
<rect x="486.2" y="117.00" width="8.80" height="10.69" fill="rgb(22,76,21)" shape-rendering="crispEdges"/>
<rect x="478" y="127.39" width="8.20" height="10.69" fill="rgb(122,27,29)" shape-rendering="crispEdges"/>
<rect x="486.2" y="127.39" width="8.80" height="10.69" fill="rgb(27,99,26)" shape-rendering="crispEdges"/>
<rect x="478" y="137.78" width="8.20" height="10.69" fill="rgb(119,26,28)" shape-rendering="crispEdges"/>
<rect x="486.2" y="137.78" width="8.80" height="10.69" fill="rgb(32,10,11)" shape-rendering="crispEdges"/>
<rect x="478" y="148.17" width="8.20" height="10.69" fill="rgb(117,26,28)" shape-rendering="crispEdges"/>
<rect x="486.2" y="148.17" width="8.80" height="10.69" fill="rgb(40,164,40)" shape-rendering="crispEdges"/>
<rect x="478" y="158.56" width="8.20" height="10.69" fill="rgb(115,25,28)" shape-rendering="crispEdges"/>
<rect x="486.2" y="158.56" width="8.80" height="10.69" fill="rgb(49,206,49)" shape-rendering="crispEdges"/>
<rect x="478" y="168.94" width="8.20" height="10.69" fill="rgb(112,25,27)" shape-rendering="crispEdges"/>
<rect x="486.2" y="168.94" width="8.80" height="10.69" fill="rgb(51,14,15)" shape-rendering="crispEdges"/>
<rect x="478" y="179.33" width="8.20" height="10.69" fill="rgb(110,25,27)" shape-rendering="crispEdges"/>
<rect x="486.2" y="179.33" width="8.80" height="10.69" fill="rgb(19,62,18)" shape-rendering="crispEdges"/>
<rect x="478" y="189.72" width="8.20" height="10.69" fill="rgb(108,24,26)" shape-rendering="crispEdges"/>
<rect x="486.2" y="189.72" width="8.80" height="10.69" fill="rgb(40,164,40)" shape-rendering="crispEdges"/>
<rect x="478" y="200.11" width="8.20" height="10.69" fill="rgb(105,24,26)" shape-rendering="crispEdges"/>
<rect x="486.2" y="200.11" width="8.80" height="10.69" fill="rgb(9,6,6)" shape-rendering="crispEdges"/>
<rect x="478" y="23.5" width="17" height="187.0" fill="none" stroke="#000" stroke-width="0.9"/>
<g stroke="#000" stroke-width="0.9">
<line x1="474.8" y1="28.7" x2="478" y2="28.7"/>
<line x1="474.8" y1="39.1" x2="478" y2="39.1"/>
<line x1="474.8" y1="49.5" x2="478" y2="49.5"/>
<line x1="474.8" y1="59.9" x2="478" y2="59.9"/>
<line x1="474.8" y1="70.2" x2="478" y2="70.2"/>
<line x1="474.8" y1="80.6" x2="478" y2="80.6"/>
<line x1="474.8" y1="91.0" x2="478" y2="91.0"/>
<line x1="474.8" y1="101.4" x2="478" y2="101.4"/>
<line x1="474.8" y1="111.8" x2="478" y2="111.8"/>
<line x1="474.8" y1="122.2" x2="478" y2="122.2"/>
<line x1="474.8" y1="132.6" x2="478" y2="132.6"/>
<line x1="474.8" y1="143.0" x2="478" y2="143.0"/>
<line x1="474.8" y1="153.4" x2="478" y2="153.4"/>
<line x1="474.8" y1="163.8" x2="478" y2="163.8"/>
<line x1="474.8" y1="174.1" x2="478" y2="174.1"/>
<line x1="474.8" y1="184.5" x2="478" y2="184.5"/>
<line x1="474.8" y1="194.9" x2="478" y2="194.9"/>
<line x1="474.8" y1="205.3" x2="478" y2="205.3"/>
<line x1="482.1" y1="210.5" x2="482.1" y2="214.0"/>
<line x1="490.6" y1="210.5" x2="490.6" y2="214.0"/>
</g>
<g font-family="'Liberation Serif', serif" font-style="italic" font-weight="bold" font-size="4.7" fill="#333" text-anchor="end">
<text x="474.4" y="30.4" transform="matrix(1,0,0,1.12,0,-3.65)">cadI</text>
<text x="474.4" y="40.8" transform="matrix(1,0,0,1.12,0,-4.89)">mbtL</text>
<text x="474.4" y="51.2" transform="matrix(1,0,0,1.12,0,-6.14)">cxoR</text>
<text x="474.4" y="61.6" transform="matrix(1,0,0,1.12,0,-7.39)">mymT</text>
<text x="474.4" y="71.9" transform="matrix(1,0,0,1.12,0,-8.63)">lpqS</text>
<text x="474.4" y="82.3" transform="matrix(1,0,0,1.12,0,-9.88)">mbtI</text>
<text x="474.4" y="92.7" transform="matrix(1,0,0,1.12,0,-11.13)">hspX</text>
<text x="474.4" y="103.1" transform="matrix(1,0,0,1.12,0,-12.37)">furA</text>
<text x="474.4" y="113.5" transform="matrix(1,0,0,1.12,0,-13.62)">cipV</text>
<text x="474.4" y="123.9" transform="matrix(1,0,0,1.12,0,-14.87)">irtA</text>
<text x="474.4" y="134.3" transform="matrix(1,0,0,1.12,0,-16.11)">mbtG</text>
<text x="474.4" y="144.7" transform="matrix(1,0,0,1.12,0,-17.36)">mbtN</text>
<text x="474.4" y="155.1" transform="matrix(1,0,0,1.12,0,-18.61)">mbtB</text>
<text x="474.4" y="165.4" transform="matrix(1,0,0,1.12,0,-19.85)">irtB</text>
<text x="474.4" y="175.8" transform="matrix(1,0,0,1.12,0,-21.10)">pckA</text>
<text x="474.4" y="186.2" transform="matrix(1,0,0,1.12,0,-22.35)">pks2</text>
<text x="474.4" y="196.6" transform="matrix(1,0,0,1.12,0,-23.59)">mbtK</text>
<text x="474.4" y="207.0" transform="matrix(1,0,0,1.12,0,-24.84)">cmtR</text>
</g>
<g font-family="'Liberation Serif', serif" font-weight="bold" font-size="4.7" fill="#333" text-anchor="end">
<text transform="translate(483.7,218.1) rotate(-47)">Log2F UT127</text>
<text transform="translate(492.2,218.1) rotate(-47)">Log2F UT205</text>
</g>
<defs><linearGradient id="g23" x1="0" y1="0" x2="0" y2="1"><stop offset="0" stop-color="rgb(216, 44, 48)"/><stop offset="0.665" stop-color="rgb(8, 6, 6)"/><stop offset="1" stop-color="rgb(50, 212, 50)"/></linearGradient></defs>
<rect x="504.3" y="23.5" width="10.900000000000034" height="187.0" fill="url(#g23)" stroke="#000" stroke-width="0.9"/>
<g stroke="#000" stroke-width="0.7">
</g>
<g font-family="'Liberation Sans', sans-serif" font-size="6.8" fill="#555">
<line x1="504.3" y1="34.5" x2="505.8" y2="34.5" stroke="#000" stroke-width="0.6"/>
<line x1="513.7" y1="34.5" x2="515.2" y2="34.5" stroke="#000" stroke-width="0.6"/>
<text x="518.6" y="37.0">4</text>
<line x1="504.3" y1="91.1" x2="505.8" y2="91.1" stroke="#000" stroke-width="0.6"/>
<line x1="513.7" y1="91.1" x2="515.2" y2="91.1" stroke="#000" stroke-width="0.6"/>
<text x="518.6" y="93.6">2</text>
<line x1="504.3" y1="147.8" x2="505.8" y2="147.8" stroke="#000" stroke-width="0.6"/>
<line x1="513.7" y1="147.8" x2="515.2" y2="147.8" stroke="#000" stroke-width="0.6"/>
<text x="518.6" y="150.3">0</text>
<line x1="504.3" y1="204.4" x2="505.8" y2="204.4" stroke="#000" stroke-width="0.6"/>
<line x1="513.7" y1="204.4" x2="515.2" y2="204.4" stroke="#000" stroke-width="0.6"/>
<text x="518.6" y="206.9">-2</text>
</g>
<rect x="468.3" y="283.40" width="11.60" height="17.18" fill="rgb(74,18,19)" shape-rendering="crispEdges"/>
<rect x="479.9" y="283.40" width="12.90" height="17.18" fill="rgb(215,44,48)" shape-rendering="crispEdges"/>
<rect x="468.3" y="300.28" width="11.60" height="17.18" fill="rgb(71,17,19)" shape-rendering="crispEdges"/>
<rect x="479.9" y="300.28" width="12.90" height="17.18" fill="rgb(153,32,35)" shape-rendering="crispEdges"/>
<rect x="468.3" y="317.16" width="11.60" height="17.18" fill="rgb(27,9,10)" shape-rendering="crispEdges"/>
<rect x="479.9" y="317.16" width="12.90" height="17.18" fill="rgb(149,32,35)" shape-rendering="crispEdges"/>
<rect x="468.3" y="334.04" width="11.60" height="17.18" fill="rgb(80,19,21)" shape-rendering="crispEdges"/>
<rect x="479.9" y="334.04" width="12.90" height="17.18" fill="rgb(146,31,34)" shape-rendering="crispEdges"/>
<rect x="468.3" y="350.91" width="11.60" height="17.18" fill="rgb(27,9,10)" shape-rendering="crispEdges"/>
<rect x="479.9" y="350.91" width="12.90" height="17.18" fill="rgb(143,31,33)" shape-rendering="crispEdges"/>
<rect x="468.3" y="367.79" width="11.60" height="17.18" fill="rgb(68,17,18)" shape-rendering="crispEdges"/>
<rect x="479.9" y="367.79" width="12.90" height="17.18" fill="rgb(140,30,33)" shape-rendering="crispEdges"/>
<rect x="468.3" y="384.67" width="11.60" height="17.18" fill="rgb(11,7,7)" shape-rendering="crispEdges"/>
<rect x="479.9" y="384.67" width="12.90" height="17.18" fill="rgb(137,30,32)" shape-rendering="crispEdges"/>
<rect x="468.3" y="401.55" width="11.60" height="17.18" fill="rgb(36,11,12)" shape-rendering="crispEdges"/>
<rect x="479.9" y="401.55" width="12.90" height="17.18" fill="rgb(134,29,31)" shape-rendering="crispEdges"/>
<rect x="468.3" y="418.43" width="11.60" height="17.18" fill="rgb(71,17,19)" shape-rendering="crispEdges"/>
<rect x="479.9" y="418.43" width="12.90" height="17.18" fill="rgb(131,28,31)" shape-rendering="crispEdges"/>
<rect x="468.3" y="435.31" width="11.60" height="17.18" fill="rgb(16,7,8)" shape-rendering="crispEdges"/>
<rect x="479.9" y="435.31" width="12.90" height="17.18" fill="rgb(127,28,30)" shape-rendering="crispEdges"/>
<rect x="468.3" y="452.19" width="11.60" height="17.18" fill="rgb(33,11,11)" shape-rendering="crispEdges"/>
<rect x="479.9" y="452.19" width="12.90" height="17.18" fill="rgb(127,28,30)" shape-rendering="crispEdges"/>
<rect x="468.3" y="469.06" width="11.60" height="17.18" fill="rgb(17,8,8)" shape-rendering="crispEdges"/>
<rect x="479.9" y="469.06" width="12.90" height="17.18" fill="rgb(124,27,29)" shape-rendering="crispEdges"/>
<rect x="468.3" y="485.94" width="11.60" height="17.18" fill="rgb(43,12,13)" shape-rendering="crispEdges"/>
<rect x="479.9" y="485.94" width="12.90" height="17.18" fill="rgb(80,19,21)" shape-rendering="crispEdges"/>
<rect x="468.3" y="502.82" width="11.60" height="17.18" fill="rgb(23,81,22)" shape-rendering="crispEdges"/>
<rect x="479.9" y="502.82" width="12.90" height="17.18" fill="rgb(50,212,50)" shape-rendering="crispEdges"/>
<rect x="468.3" y="283.4" width="24.5" height="236.30000000000007" fill="none" stroke="#000" stroke-width="0.9"/>
<g stroke="#000" stroke-width="0.9">
<line x1="465.1" y1="291.8" x2="468.3" y2="291.8"/>
<line x1="465.1" y1="308.7" x2="468.3" y2="308.7"/>
<line x1="465.1" y1="325.6" x2="468.3" y2="325.6"/>
<line x1="465.1" y1="342.5" x2="468.3" y2="342.5"/>
<line x1="465.1" y1="359.4" x2="468.3" y2="359.4"/>
<line x1="465.1" y1="376.2" x2="468.3" y2="376.2"/>
<line x1="465.1" y1="393.1" x2="468.3" y2="393.1"/>
<line x1="465.1" y1="410.0" x2="468.3" y2="410.0"/>
<line x1="465.1" y1="426.9" x2="468.3" y2="426.9"/>
<line x1="465.1" y1="443.7" x2="468.3" y2="443.7"/>
<line x1="465.1" y1="460.6" x2="468.3" y2="460.6"/>
<line x1="465.1" y1="477.5" x2="468.3" y2="477.5"/>
<line x1="465.1" y1="494.4" x2="468.3" y2="494.4"/>
<line x1="465.1" y1="511.3" x2="468.3" y2="511.3"/>
<line x1="474.1" y1="519.7" x2="474.1" y2="523.2"/>
<line x1="486.4" y1="519.7" x2="486.4" y2="523.2"/>
</g>
<g font-family="'Liberation Serif', serif" font-style="italic" font-weight="bold" font-size="5.3" fill="#333" text-anchor="end">
<text x="464.7" y="293.7" transform="matrix(1,0,0,1.12,0,-35.25)">kstD</text>
<text x="464.7" y="310.6" transform="matrix(1,0,0,1.12,0,-37.28)">fadA5</text>
<text x="464.7" y="327.5" transform="matrix(1,0,0,1.12,0,-39.30)">fadE29</text>
<text x="464.7" y="344.4" transform="matrix(1,0,0,1.12,0,-41.33)">cyp125</text>
<text x="464.7" y="361.3" transform="matrix(1,0,0,1.12,0,-43.35)">fadE26</text>
<text x="464.7" y="378.1" transform="matrix(1,0,0,1.12,0,-45.38)">kbsA</text>
<text x="464.7" y="395.0" transform="matrix(1,0,0,1.12,0,-47.40)">hsaC</text>
<text x="464.7" y="411.9" transform="matrix(1,0,0,1.12,0,-49.43)">hsaB</text>
<text x="464.7" y="428.8" transform="matrix(1,0,0,1.12,0,-51.45)">fadE34</text>
<text x="464.7" y="445.7" transform="matrix(1,0,0,1.12,0,-53.48)">hsaA</text>
<text x="464.7" y="462.5" transform="matrix(1,0,0,1.12,0,-55.50)">fadE27</text>
<text x="464.7" y="479.4" transform="matrix(1,0,0,1.12,0,-57.53)">fadE28</text>
<text x="464.7" y="496.3" transform="matrix(1,0,0,1.12,0,-59.55)">kshB</text>
<text x="464.7" y="513.2" transform="matrix(1,0,0,1.12,0,-61.58)">lysC</text>
</g>
<g font-family="'Liberation Serif', serif" font-weight="bold" font-size="4.7" fill="#333" text-anchor="end">
<text transform="translate(475.7,527.3) rotate(-47)">Log2F UT127</text>
<text transform="translate(488.0,527.3) rotate(-47)">Log2F UT205</text>
</g>
<defs><linearGradient id="g283" x1="0" y1="0" x2="0" y2="1"><stop offset="0" stop-color="rgb(216, 44, 48)"/><stop offset="0.828" stop-color="rgb(8, 6, 6)"/><stop offset="1" stop-color="rgb(50, 212, 50)"/></linearGradient></defs>
<rect x="503.3" y="283.4" width="10.699999999999989" height="236.30000000000007" fill="url(#g283)" stroke="#000" stroke-width="0.9"/>
<g stroke="#000" stroke-width="0.7">
</g>
<g font-family="'Liberation Sans', sans-serif" font-size="6.8" fill="#555">
<line x1="503.3" y1="301.7" x2="504.8" y2="301.7" stroke="#000" stroke-width="0.6"/>
<line x1="512.5" y1="301.7" x2="514" y2="301.7" stroke="#000" stroke-width="0.6"/>
<text x="517.4" y="304.2">3</text>
<line x1="503.3" y1="360.8" x2="504.8" y2="360.8" stroke="#000" stroke-width="0.6"/>
<line x1="512.5" y1="360.8" x2="514" y2="360.8" stroke="#000" stroke-width="0.6"/>
<text x="517.4" y="363.3">2</text>
<line x1="503.3" y1="419.9" x2="504.8" y2="419.9" stroke="#000" stroke-width="0.6"/>
<line x1="512.5" y1="419.9" x2="514" y2="419.9" stroke="#000" stroke-width="0.6"/>
<text x="517.4" y="422.4">1</text>
<line x1="503.3" y1="478.9" x2="504.8" y2="478.9" stroke="#000" stroke-width="0.6"/>
<line x1="512.5" y1="478.9" x2="514" y2="478.9" stroke="#000" stroke-width="0.6"/>
<text x="517.4" y="481.4">0</text>
</g>
</svg></body></html>
